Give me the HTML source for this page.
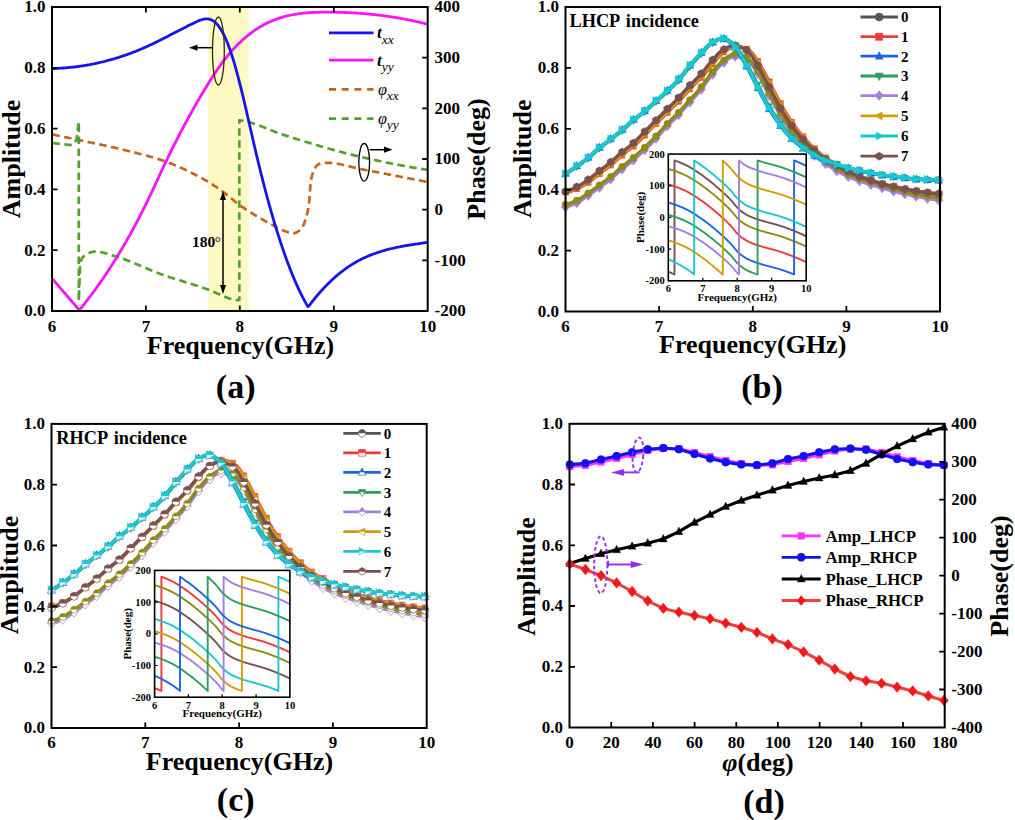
<!DOCTYPE html>
<html><head><meta charset="utf-8"><style>
html,body{margin:0;padding:0;background:#fff;width:1015px;height:820px;overflow:hidden}
svg{display:block}
text{font-family:"Liberation Serif", serif}
</style></head><body>
<svg width="1015" height="820" viewBox="0 0 1015 820">
<rect width="1015" height="820" fill="#fff"/>
<rect x="208.3" y="7" width="40.4" height="304" fill="#fcf9c4"/>
<g fill="none" stroke-linejoin="round">
<path d="M52.4,134.4L53.4,134.6L54.4,134.8L55.4,135L56.4,135.2L57.4,135.5L58.4,135.7L59.4,135.9L60.4,136.1L61.4,136.3L62.4,136.5L63.4,136.7L64.4,137L65.4,137.2L66.4,137.4L67.4,137.6L68.4,137.8L69.4,138L70.4,138.2L71.4,138.5L72.4,138.7L73.4,138.9L74.4,139.1L75.4,139.3L76.4,139.5L77.4,139.7L78.4,140L79.4,140.2L80.4,140.4L81.4,140.6L82.4,140.8L83.4,141L84.4,141.2L85.4,141.4L86.4,141.7L87.4,141.9L88.4,142.1L89.4,142.3L90.4,142.5L91.4,142.7L92.4,142.9L93.4,143.1L94.4,143.3L95.4,143.5L96.4,143.7L97.4,143.9L98.4,144.2L99.4,144.4L100.4,144.6L101.4,144.8L102.4,145L103.4,145.2L104.4,145.4L105.4,145.6L106.4,145.9L107.4,146.1L108.4,146.3L109.4,146.5L110.4,146.7L111.4,147L112.4,147.2L113.4,147.4L114.4,147.6L115.4,147.9L116.4,148.1L117.4,148.3L118.4,148.5L119.4,148.8L120.4,149L121.4,149.3L122.4,149.5L123.4,149.7L124.4,150L125.4,150.2L126.4,150.5L127.4,150.7L128.4,151L129.4,151.2L130.4,151.4L131.4,151.7L132.4,151.9L133.4,152.2L134.4,152.4L135.4,152.7L136.4,152.9L137.4,153.2L138.4,153.5L139.4,153.7L140.4,154L141.4,154.2L142.4,154.5L143.4,154.8L144.4,155L145.4,155.3L146.4,155.6L147.4,155.8L148.4,156.1L149.4,156.4L150.4,156.7L151.4,157L152.4,157.3L153.4,157.6L154.4,157.9L155.4,158.2L156.4,158.5L157.4,158.8L158.4,159.1L159.4,159.4L160.4,159.7L161.4,160.1L162.4,160.4L163.4,160.8L164.4,161.1L165.4,161.4L166.4,161.8L167.4,162.2L168.4,162.5L169.4,162.9L170.4,163.3L171.4,163.7L172.4,164.1L173.4,164.5L174.4,164.9L175.4,165.3L176.4,165.7L177.4,166.1L178.4,166.6L179.4,167L180.4,167.5L181.4,167.9L182.4,168.4L183.4,168.8L184.4,169.3L185.4,169.8L186.4,170.2L187.4,170.7L188.4,171.2L189.4,171.7L190.4,172.2L191.4,172.7L192.4,173.2L193.4,173.7L194.4,174.2L195.4,174.7L196.4,175.3L197.4,175.8L198.4,176.3L199.4,176.9L200.4,177.4L201.4,177.9L202.4,178.5L203.4,179L204.4,179.6L205.4,180.2L206.4,180.7L207.4,181.3L208.4,181.9L209.4,182.5L210.4,183.1L211.4,183.8L212.4,184.4L213.4,185.1L214.4,185.8L215.4,186.4L216.4,187.1L217.4,187.8L218.4,188.5L219.4,189.2L220.4,190L221.4,190.7L222.4,191.4L223.4,192.1L224.4,192.9L225.4,193.6L226.4,194.4L227.4,195.1L228.4,195.9L229.4,196.8L230.4,197.6L231.4,198.4L232.4,199.3L233.4,200.1L234.4,200.9L235.4,201.8L236.4,202.6L237.4,203.4L238.4,204.2L239.4,204.9L240.4,205.6L241.4,206.3L242.4,207L243.4,207.7L244.4,208.4L245.4,209.1L246.4,209.7L247.4,210.4L248.4,211L249.4,211.7L250.4,212.3L251.4,212.9L252.4,213.5L253.4,214.1L254.4,214.8L255.4,215.4L256.4,216L257.4,216.5L258.4,217.1L259.4,217.7L260.4,218.3L261.4,218.9L262.4,219.4L263.4,220L264.4,220.6L265.4,221.1L266.4,221.7L267.4,222.2L268.4,222.8L269.4,223.3L270.4,223.8L271.4,224.4L272.4,224.9L273.4,225.4L274.4,226L275.4,226.5L276.4,227.1L277.4,227.6L278.4,228.1L279.4,228.7L280.4,229.2L281.4,229.7L282.4,230.1L283.4,230.5L284.4,230.9L285.4,231.3L286.4,231.6L287.4,232L288.4,232.3L289.4,232.6L290.4,232.9L291.4,233.1L292.4,233.2L293.4,233.2L294.4,233.1L295.4,232.8L296.4,232.4L297.4,231.8L298.4,231.2L299.4,230.5L300.4,229.7L301.4,228.8L302.4,227.4L303.4,225.4L304.4,222.8L305.4,219.9L306.4,216.7L307.4,212.8L308.4,207.6L309.4,199.8L310.4,184.8L311.4,178.2L312.4,174.1L313.4,171.3L314.4,169.3L315.4,167.6L316.4,166.1L317.4,165L318.4,164.3L319.4,163.9L320.4,163.6L321.4,163.4L322.4,163.2L323.4,163L324.4,162.9L325.4,162.8L326.4,162.8L327.4,162.8L328.4,162.8L329.4,162.9L330.4,162.9L331.4,163L332.4,163.1L333.4,163.2L334.4,163.3L335.4,163.5L336.4,163.6L337.4,163.8L338.4,164L339.4,164.1L340.4,164.3L341.4,164.5L342.4,164.7L343.4,165L344.4,165.2L345.4,165.4L346.4,165.6L347.4,165.9L348.4,166.1L349.4,166.4L350.4,166.6L351.4,166.9L352.4,167.1L353.4,167.4L354.4,167.6L355.4,167.9L356.4,168.1L357.4,168.3L358.4,168.6L359.4,168.8L360.4,169L361.4,169.2L362.4,169.4L363.4,169.6L364.4,169.8L365.4,170L366.4,170.2L367.4,170.4L368.4,170.6L369.4,170.8L370.4,171L371.4,171.2L372.4,171.4L373.4,171.5L374.4,171.7L375.4,171.9L376.4,172.1L377.4,172.3L378.4,172.5L379.4,172.7L380.4,172.9L381.4,173.1L382.4,173.3L383.4,173.4L384.4,173.6L385.4,173.8L386.4,174L387.4,174.2L388.4,174.4L389.4,174.6L390.4,174.8L391.4,175L392.4,175.2L393.4,175.4L394.4,175.6L395.4,175.8L396.4,175.9L397.4,176.1L398.4,176.3L399.4,176.5L400.4,176.7L401.4,176.9L402.4,177.1L403.4,177.3L404.4,177.5L405.4,177.7L406.4,177.9L407.4,178.1L408.4,178.3L409.4,178.5L410.4,178.7L411.4,178.8L412.4,179L413.4,179.2L414.4,179.4L415.4,179.6L416.4,179.8L417.4,180L418.4,180.2L419.4,180.4L420.4,180.6L421.4,180.8L422.4,181L423.4,181.2L424.4,181.4L425.4,181.6L426.4,181.8L427,181.9" stroke="#c8641e" stroke-width="2.7" stroke-dasharray="7.5 4.5"/>
<path d="M52.4,143L71.8,145.1L76.5,140L78.8,121.5L78.8,301L80.2,262.7L80.2,262.7L81.2,260.3L82.2,258.1L83.2,256.7L84.2,255.9L85.2,255.2L86.2,254.6L87.2,254L88.2,253.4L89.2,253L90.2,252.6L91.2,252.2L92.2,252L93.2,251.8L94.2,251.6L95.2,251.6L96.2,251.6L97.2,251.7L98.2,251.8L99.2,251.9L100.2,252L101.2,252.2L102.2,252.4L103.2,252.7L104.2,252.9L105.2,253.2L106.2,253.5L107.2,253.8L108.2,254.1L109.2,254.4L110.2,254.7L111.2,255.1L112.2,255.4L113.2,255.7L114.2,256L115.2,256.3L116.2,256.6L117.2,256.9L118.2,257.2L119.2,257.6L120.2,257.9L121.2,258.2L122.2,258.5L123.2,258.9L124.2,259.2L125.2,259.6L126.2,260L127.2,260.4L128.2,260.7L129.2,261.1L130.2,261.5L131.2,261.9L132.2,262.3L133.2,262.7L134.2,263.1L135.2,263.5L136.2,264L137.2,264.4L138.2,264.8L139.2,265.2L140.2,265.6L141.2,266.1L142.2,266.5L143.2,266.9L144.2,267.4L145.2,267.8L146.2,268.2L147.2,268.6L148.2,269.1L149.2,269.5L150.2,269.9L151.2,270.3L152.2,270.7L153.2,271.1L154.2,271.5L155.2,272L156.2,272.3L157.2,272.7L158.2,273.1L159.2,273.5L160.2,273.9L161.2,274.3L162.2,274.6L163.2,275L164.2,275.3L165.2,275.7L166.2,276L167.2,276.4L168.2,276.7L169.2,277L170.2,277.4L171.2,277.7L172.2,278L173.2,278.3L174.2,278.6L175.2,279L176.2,279.3L177.2,279.6L178.2,279.9L179.2,280.2L180.2,280.5L181.2,280.8L182.2,281.1L183.2,281.4L184.2,281.8L185.2,282.1L186.2,282.4L187.2,282.7L188.2,283L189.2,283.3L190.2,283.6L191.2,283.9L192.2,284.2L193.2,284.5L194.2,284.9L195.2,285.2L196.2,285.5L197.2,285.8L198.2,286.2L199.2,286.5L200.2,286.8L201.2,287.1L202.2,287.5L203.2,287.8L204.2,288.2L205.2,288.5L206.2,288.9L207.2,289.2L208.2,289.6L209.2,290L210.2,290.4L211.2,290.8L212.2,291.2L213.2,291.6L214.2,292L215.2,292.5L216.2,293L217.2,293.4L218.2,293.9L219.2,294.3L220.2,294.8L221.2,295.2L222.2,295.7L223.2,296.1L224.2,296.5L225.2,297L226.2,297.3L227.2,297.7L228.2,298.1L229.2,298.4L230.2,298.7L231.2,299L232.2,299.2L233.2,299.5L234.2,299.7L235.2,299.9L236.2,300.1L236.5,300.2L239.3,300L239.3,120.3L239.3,120.3L240.3,120.5L241.3,120.6L242.3,120.8L243.3,120.9L244.3,121.1L245.3,121.3L246.3,121.5L247.3,121.8L248.3,122L249.3,122.3L250.3,122.6L251.3,122.8L252.3,123.1L253.3,123.5L254.3,123.8L255.3,124.1L256.3,124.5L257.3,124.8L258.3,125.2L259.3,125.5L260.3,125.9L261.3,126.3L262.3,126.7L263.3,127.1L264.3,127.5L265.3,127.9L266.3,128.3L267.3,128.7L268.3,129.1L269.3,129.5L270.3,129.9L271.3,130.3L272.3,130.7L273.3,131.1L274.3,131.5L275.3,131.9L276.3,132.3L277.3,132.7L278.3,133L279.3,133.4L280.3,133.8L281.3,134.1L282.3,134.4L283.3,134.8L284.3,135.1L285.3,135.4L286.3,135.7L287.3,136L288.3,136.4L289.3,136.7L290.3,137L291.3,137.3L292.3,137.6L293.3,137.9L294.3,138.3L295.3,138.6L296.3,138.9L297.3,139.2L298.3,139.5L299.3,139.8L300.3,140.1L301.3,140.4L302.3,140.8L303.3,141.1L304.3,141.4L305.3,141.7L306.3,142L307.3,142.3L308.3,142.6L309.3,142.9L310.3,143.2L311.3,143.5L312.3,143.8L313.3,144.1L314.3,144.4L315.3,144.7L316.3,145L317.3,145.3L318.3,145.6L319.3,145.9L320.3,146.2L321.3,146.5L322.3,146.8L323.3,147L324.3,147.3L325.3,147.6L326.3,147.9L327.3,148.2L328.3,148.5L329.3,148.8L330.3,149L331.3,149.3L332.3,149.6L333.3,149.9L334.3,150.1L335.3,150.4L336.3,150.7L337.3,151L338.3,151.2L339.3,151.5L340.3,151.8L341.3,152L342.3,152.3L343.3,152.6L344.3,152.8L345.3,153.1L346.3,153.3L347.3,153.6L348.3,153.9L349.3,154.1L350.3,154.4L351.3,154.6L352.3,154.9L353.3,155.1L354.3,155.4L355.3,155.6L356.3,155.8L357.3,156.1L358.3,156.3L359.3,156.6L360.3,156.8L361.3,157L362.3,157.3L363.3,157.5L364.3,157.7L365.3,157.9L366.3,158.2L367.3,158.4L368.3,158.6L369.3,158.8L370.3,159.1L371.3,159.3L372.3,159.5L373.3,159.7L374.3,159.9L375.3,160.2L376.3,160.4L377.3,160.6L378.3,160.8L379.3,161L380.3,161.2L381.3,161.4L382.3,161.7L383.3,161.9L384.3,162.1L385.3,162.3L386.3,162.5L387.3,162.7L388.3,162.9L389.3,163.1L390.3,163.3L391.3,163.5L392.3,163.7L393.3,163.9L394.3,164.1L395.3,164.3L396.3,164.5L397.3,164.7L398.3,164.9L399.3,165L400.3,165.2L401.3,165.4L402.3,165.6L403.3,165.8L404.3,166L405.3,166.2L406.3,166.3L407.3,166.5L408.3,166.7L409.3,166.9L410.3,167.1L411.3,167.2L412.3,167.4L413.3,167.6L414.3,167.7L415.3,167.9L416.3,168.1L417.3,168.3L418.3,168.4L419.3,168.6L420.3,168.7L421.3,168.9L422.3,169.1L423.3,169.2L424.3,169.4L425.3,169.5L426.3,169.7L427,169.8" stroke="#55a02d" stroke-width="2.7" stroke-dasharray="7.5 4.5"/>
<path d="M52.4,278.8L79.2,310L79.2,310L80.2,309L81.2,307.8L82.2,306.6L83.2,305.3L84.2,304.1L85.2,302.8L86.2,301.5L87.2,300.2L88.2,298.9L89.2,297.6L90.2,296.3L91.2,295L92.2,293.6L93.2,292.3L94.2,290.9L95.2,289.6L96.2,288.2L97.2,286.8L98.2,285.4L99.2,284L100.2,282.6L101.2,281.1L102.2,279.7L103.2,278.2L104.2,276.8L105.2,275.3L106.2,273.8L107.2,272.3L108.2,270.8L109.2,269.2L110.2,267.7L111.2,266.2L112.2,264.6L113.2,263L114.2,261.4L115.2,259.8L116.2,258.2L117.2,256.6L118.2,254.9L119.2,253.3L120.2,251.6L121.2,250L122.2,248.3L123.2,246.6L124.2,244.8L125.2,243.1L126.2,241.4L127.2,239.6L128.2,237.8L129.2,236.1L130.2,234.3L131.2,232.5L132.2,230.6L133.2,228.8L134.2,226.9L135.2,225.1L136.2,223.2L137.2,221.3L138.2,219.4L139.2,217.4L140.2,215.5L141.2,213.6L142.2,211.6L143.2,209.6L144.2,207.6L145.2,205.6L146.2,203.6L147.2,201.5L148.2,199.4L149.2,197.4L150.2,195.3L151.2,193.2L152.2,191.1L153.2,188.9L154.2,186.8L155.2,184.6L156.2,182.5L157.2,180.3L158.2,178.2L159.2,176L160.2,173.8L161.2,171.7L162.2,169.5L163.2,167.4L164.2,165.3L165.2,163.2L166.2,161.1L167.2,159L168.2,156.9L169.2,154.8L170.2,152.8L171.2,150.8L172.2,148.7L173.2,146.7L174.2,144.7L175.2,142.8L176.2,140.8L177.2,138.8L178.2,136.9L179.2,135L180.2,133L181.2,131.1L182.2,129.2L183.2,127.4L184.2,125.5L185.2,123.6L186.2,121.8L187.2,119.9L188.2,118.1L189.2,116.3L190.2,114.5L191.2,112.7L192.2,110.9L193.2,109.1L194.2,107.3L195.2,105.6L196.2,103.8L197.2,102.1L198.2,100.4L199.2,98.6L200.2,96.9L201.2,95.2L202.2,93.5L203.2,91.9L204.2,90.2L205.2,88.5L206.2,86.9L207.2,85.3L208.2,83.6L209.2,82L210.2,80.4L211.2,78.9L212.2,77.3L213.2,75.8L214.2,74.3L215.2,72.8L216.2,71.3L217.2,69.8L218.2,68.4L219.2,66.9L220.2,65.5L221.2,64.1L222.2,62.8L223.2,61.4L224.2,60.1L225.2,58.8L226.2,57.6L227.2,56.3L228.2,55.1L229.2,53.9L230.2,52.7L231.2,51.6L232.2,50.4L233.2,49.3L234.2,48.2L235.2,47.2L236.2,46.1L237.2,45.1L238.2,44.1L239.2,43.1L240.2,42.2L241.2,41.2L242.2,40.3L243.2,39.4L244.2,38.5L245.2,37.6L246.2,36.8L247.2,36L248.2,35.2L249.2,34.4L250.2,33.6L251.2,32.8L252.2,32.1L253.2,31.4L254.2,30.7L255.2,30L256.2,29.3L257.2,28.7L258.2,28.1L259.2,27.4L260.2,26.8L261.2,26.3L262.2,25.7L263.2,25.1L264.2,24.6L265.2,24.1L266.2,23.6L267.2,23.1L268.2,22.6L269.2,22.1L270.2,21.7L271.2,21.2L272.2,20.8L273.2,20.4L274.2,20L275.2,19.6L276.2,19.2L277.2,18.9L278.2,18.5L279.2,18.2L280.2,17.9L281.2,17.6L282.2,17.3L283.2,17L284.2,16.7L285.2,16.4L286.2,16.2L287.2,15.9L288.2,15.7L289.2,15.5L290.2,15.2L291.2,15L292.2,14.8L293.2,14.7L294.2,14.5L295.2,14.3L296.2,14.1L297.2,14L298.2,13.8L299.2,13.7L300.2,13.6L301.2,13.5L302.2,13.3L303.2,13.2L304.2,13.1L305.2,13L306.2,12.9L307.2,12.9L308.2,12.8L309.2,12.7L310.2,12.6L311.2,12.6L312.2,12.5L313.2,12.5L314.2,12.4L315.2,12.4L316.2,12.4L317.2,12.3L318.2,12.3L319.2,12.3L320.2,12.2L321.2,12.2L322.2,12.2L323.2,12.2L324.2,12.2L325.2,12.2L326.2,12.2L327.2,12.2L328.2,12.2L329.2,12.2L330.2,12.2L331.2,12.2L332.2,12.2L333.2,12.2L334.2,12.2L335.2,12.2L336.2,12.2L337.2,12.3L338.2,12.3L339.2,12.3L340.2,12.3L341.2,12.4L342.2,12.4L343.2,12.4L344.2,12.5L345.2,12.5L346.2,12.5L347.2,12.6L348.2,12.6L349.2,12.7L350.2,12.7L351.2,12.8L352.2,12.8L353.2,12.9L354.2,12.9L355.2,13L356.2,13L357.2,13.1L358.2,13.2L359.2,13.3L360.2,13.3L361.2,13.4L362.2,13.5L363.2,13.6L364.2,13.6L365.2,13.7L366.2,13.8L367.2,13.9L368.2,14L369.2,14.1L370.2,14.2L371.2,14.3L372.2,14.4L373.2,14.5L374.2,14.6L375.2,14.7L376.2,14.8L377.2,14.9L378.2,15.1L379.2,15.2L380.2,15.3L381.2,15.4L382.2,15.5L383.2,15.7L384.2,15.8L385.2,15.9L386.2,16.1L387.2,16.2L388.2,16.4L389.2,16.5L390.2,16.7L391.2,16.8L392.2,17L393.2,17.1L394.2,17.3L395.2,17.4L396.2,17.6L397.2,17.8L398.2,17.9L399.2,18.1L400.2,18.3L401.2,18.5L402.2,18.7L403.2,18.8L404.2,19L405.2,19.2L406.2,19.4L407.2,19.6L408.2,19.8L409.2,20L410.2,20.2L411.2,20.4L412.2,20.6L413.2,20.8L414.2,21L415.2,21.3L416.2,21.5L417.2,21.7L418.2,21.9L419.2,22.2L420.2,22.4L421.2,22.6L422.2,22.9L423.2,23.1L424.2,23.3L425.2,23.6L426.2,23.8L427,24" stroke="#ff10ff" stroke-width="2.8"/>
<path d="M52,68.5L53,68.5L54,68.5L55,68.5L56,68.4L57,68.4L58,68.3L59,68.3L60,68.2L61,68.2L62,68.1L63,68L64,68L65,67.9L66,67.8L67,67.7L68,67.6L69,67.5L70,67.4L71,67.3L72,67.2L73,67.1L74,67L75,66.9L76,66.8L77,66.6L78,66.5L79,66.4L80,66.2L81,66.1L82,65.9L83,65.8L84,65.6L85,65.5L86,65.3L87,65.1L88,64.9L89,64.8L90,64.6L91,64.4L92,64.2L93,64L94,63.8L95,63.6L96,63.4L97,63.2L98,62.9L99,62.7L100,62.5L101,62.2L102,62L103,61.8L104,61.5L105,61.3L106,61L107,60.7L108,60.5L109,60.2L110,59.9L111,59.7L112,59.4L113,59.1L114,58.8L115,58.5L116,58.2L117,57.9L118,57.6L119,57.3L120,56.9L121,56.6L122,56.3L123,55.9L124,55.6L125,55.3L126,54.9L127,54.6L128,54.2L129,53.8L130,53.5L131,53.1L132,52.7L133,52.3L134,51.9L135,51.6L136,51.2L137,50.8L138,50.4L139,49.9L140,49.5L141,49.1L142,48.7L143,48.2L144,47.8L145,47.4L146,46.9L147,46.5L148,46L149,45.6L150,45.1L151,44.6L152,44.2L153,43.7L154,43.2L155,42.7L156,42.2L157,41.7L158,41.2L159,40.7L160,40.2L161,39.7L162,39.2L163,38.7L164,38.2L165,37.7L166,37.2L167,36.7L168,36.2L169,35.6L170,35.1L171,34.6L172,34.1L173,33.6L174,33L175,32.5L176,32L177,31.5L178,31L179,30.4L180,29.9L181,29.4L182,28.9L183,28.4L184,27.9L185,27.4L186,26.9L187,26.4L188,25.8L189,25.3L190,24.9L191,24.4L192,23.9L193,23.4L194,22.9L195,22.4L196,21.9L197,21.5L198,21L199,20.6L200,20.2L201,19.9L202,19.5L203,19.3L204,19.1L205,18.9L206,18.8L207,18.8L208,18.9L209,19.1L210,19.3L211,19.7L212,20.1L213,20.7L214,21.4L215,22.2L216,23.1L217,24.2L218,25.4L219,26.7L220,28.1L221,29.7L222,31.4L223,33.2L224,35.2L225,37.3L226,39.5L227,41.9L228,44.3L229,47L230,49.7L231,52.6L232,55.7L233,58.9L234,62.2L235,65.6L236,69.1L237,72.8L238,76.5L239,80.4L240,84.3L241,88.3L242,92.4L243,96.5L244,100.7L245,105L246,109.3L247,113.6L248,118L249,122.3L250,126.7L251,131.1L252,135.5L253,139.8L254,144.2L255,148.5L256,152.7L257,157L258,161.1L259,165.3L260,169.4L261,173.4L262,177.4L263,181.3L264,185.2L265,189L266,192.8L267,196.5L268,200.2L269,203.8L270,207.4L271,211L272,214.4L273,217.9L274,221.3L275,224.6L276,227.9L277,231.1L278,234.3L279,237.4L280,240.5L281,243.6L282,246.5L283,249.5L284,252.4L285,255.2L286,258L287,260.7L288,263.4L289,266.1L290,268.7L291,271.2L292,273.7L293,276.1L294,278.5L295,280.9L296,283.2L297,285.4L298,287.6L299,289.8L300,291.8L301,293.9L302,295.9L303,297.8L304,299.7L305,301.6L306,303.4L307,305.1L307.8,306.5L307.8,306.5L308.8,306.1L309.8,304.8L310.8,303.5L311.8,302.2L312.8,300.9L313.8,299.7L314.8,298.4L315.8,297.2L316.8,296L317.8,294.8L318.8,293.7L319.8,292.5L320.8,291.4L321.8,290.3L322.8,289.2L323.8,288.1L324.8,287.1L325.8,286L326.8,285L327.8,284L328.8,283L329.8,282L330.8,281.1L331.8,280.1L332.8,279.2L333.8,278.3L334.8,277.4L335.8,276.5L336.8,275.6L337.8,274.8L338.8,274L339.8,273.2L340.8,272.4L341.8,271.6L342.8,270.8L343.8,270.1L344.8,269.3L345.8,268.6L346.8,267.9L347.8,267.2L348.8,266.5L349.8,265.9L350.8,265.2L351.8,264.6L352.8,264L353.8,263.4L354.8,262.8L355.8,262.2L356.8,261.6L357.8,261.1L358.8,260.5L359.8,260L360.8,259.5L361.8,259L362.8,258.5L363.8,258L364.8,257.6L365.8,257.1L366.8,256.7L367.8,256.2L368.8,255.8L369.8,255.4L370.8,255L371.8,254.6L372.8,254.2L373.8,253.8L374.8,253.5L375.8,253.1L376.8,252.8L377.8,252.4L378.8,252.1L379.8,251.8L380.8,251.5L381.8,251.1L382.8,250.9L383.8,250.6L384.8,250.3L385.8,250L386.8,249.7L387.8,249.5L388.8,249.2L389.8,249L390.8,248.7L391.8,248.5L392.8,248.3L393.8,248L394.8,247.8L395.8,247.6L396.8,247.4L397.8,247.2L398.8,247L399.8,246.8L400.8,246.6L401.8,246.4L402.8,246.2L403.8,246L404.8,245.9L405.8,245.7L406.8,245.5L407.8,245.4L408.8,245.2L409.8,245L410.8,244.9L411.8,244.7L412.8,244.6L413.8,244.4L414.8,244.2L415.8,244.1L416.8,243.9L417.8,243.8L418.8,243.6L419.8,243.5L420.8,243.3L421.8,243.2L422.8,243L423.8,242.9L424.8,242.7L425.8,242.6L426.8,242.4L427,242.4" stroke="#1414f0" stroke-width="2.8"/>
</g>
<ellipse cx="218.4" cy="51" rx="5.9" ry="34" fill="none" stroke="#2a2a10" stroke-width="1.3"/>
<line x1="212.5" y1="47.7" x2="196" y2="47.7" stroke="#000" stroke-width="1.5"/>
<path d="M189,47.7 L197.5,44.6 L197.5,50.8 Z" fill="#000"/>
<ellipse cx="364.2" cy="162.3" rx="5.4" ry="18.8" fill="none" stroke="#000" stroke-width="1.3"/>
<line x1="369.6" y1="149.7" x2="386" y2="149.7" stroke="#000" stroke-width="1.5"/>
<path d="M392.5,149.7 L384,146.6 L384,152.8 Z" fill="#000"/>
<line x1="223" y1="198" x2="223" y2="287" stroke="#000" stroke-width="1.5"/>
<path d="M223,191 L220,200 L226,200 Z M223,294 L220,285 L226,285 Z" fill="#000"/>
<text x="192" y="246.6" font-size="15.5" font-weight="bold">180<tspan font-weight="normal" dx="-0.5">°</tspan></text>
<rect x="52" y="7" width="375.7" height="304" fill="none" stroke="#000" stroke-width="2"/>
<path d="M145.9,311L145.9,305.5M145.9,7L145.9,12.5M239.8,311L239.8,305.5M239.8,7L239.8,12.5M333.8,311L333.8,305.5M333.8,7L333.8,12.5M52,250.2L57.5,250.2M52,189.4L57.5,189.4M52,128.6L57.5,128.6M52,67.8L57.5,67.8M427.7,260.3L422.2,260.3M427.7,209.7L422.2,209.7M427.7,159L422.2,159M427.7,108.3L422.2,108.3M427.7,57.7L422.2,57.7" stroke="#000" stroke-width="1.8" fill="none"/>
<text x="52" y="331.5" font-size="17" text-anchor="middle" font-weight="bold" font-style="normal" fill="#000" >6</text>
<text x="145.9" y="331.5" font-size="17" text-anchor="middle" font-weight="bold" font-style="normal" fill="#000" >7</text>
<text x="239.8" y="331.5" font-size="17" text-anchor="middle" font-weight="bold" font-style="normal" fill="#000" >8</text>
<text x="333.8" y="331.5" font-size="17" text-anchor="middle" font-weight="bold" font-style="normal" fill="#000" >9</text>
<text x="427.7" y="331.5" font-size="17" text-anchor="middle" font-weight="bold" font-style="normal" fill="#000" >10</text>
<text x="45.5" y="316.3" font-size="17" text-anchor="end" font-weight="bold" font-style="normal" fill="#000" >0.0</text>
<text x="45.5" y="255.5" font-size="17" text-anchor="end" font-weight="bold" font-style="normal" fill="#000" >0.2</text>
<text x="45.5" y="194.7" font-size="17" text-anchor="end" font-weight="bold" font-style="normal" fill="#000" >0.4</text>
<text x="45.5" y="133.9" font-size="17" text-anchor="end" font-weight="bold" font-style="normal" fill="#000" >0.6</text>
<text x="45.5" y="73.1" font-size="17" text-anchor="end" font-weight="bold" font-style="normal" fill="#000" >0.8</text>
<text x="45.5" y="12.3" font-size="17" text-anchor="end" font-weight="bold" font-style="normal" fill="#000" >1.0</text>
<text x="434.5" y="316.3" font-size="17" text-anchor="start" font-weight="bold" font-style="normal" fill="#000" >-200</text>
<text x="434.5" y="265.6" font-size="17" text-anchor="start" font-weight="bold" font-style="normal" fill="#000" >-100</text>
<text x="434.5" y="215" font-size="17" text-anchor="start" font-weight="bold" font-style="normal" fill="#000" >0</text>
<text x="434.5" y="164.3" font-size="17" text-anchor="start" font-weight="bold" font-style="normal" fill="#000" >100</text>
<text x="434.5" y="113.6" font-size="17" text-anchor="start" font-weight="bold" font-style="normal" fill="#000" >200</text>
<text x="434.5" y="63" font-size="17" text-anchor="start" font-weight="bold" font-style="normal" fill="#000" >300</text>
<text x="434.5" y="12.3" font-size="17" text-anchor="start" font-weight="bold" font-style="normal" fill="#000" >400</text>
<text x="19.5" y="159" font-size="26" text-anchor="middle" font-weight="bold" font-style="normal" fill="#000" transform="rotate(-90 19.5 159)">Amplitude</text>
<text x="484.8" y="159" font-size="26" text-anchor="middle" font-weight="bold" font-style="normal" fill="#000" transform="rotate(-90 484.8 159)">Phase(deg)</text>
<text x="240.5" y="353.5" font-size="26" text-anchor="middle" font-weight="bold" font-style="normal" fill="#000" >Frequency(GHz)</text>
<text x="235.7" y="397.5" font-size="34" text-anchor="middle" font-weight="bold" font-style="normal" fill="#000" >(a)</text>
<line x1="329" y1="32.9" x2="373.5" y2="32.9" stroke="#1414f0" stroke-width="2.8"/>
<line x1="329" y1="60.1" x2="373.5" y2="60.1" stroke="#ff10ff" stroke-width="2.8"/>
<line x1="329" y1="89.3" x2="373.5" y2="89.3" stroke="#c8641e" stroke-width="2.8" stroke-dasharray="7 5.7"/>
<line x1="329" y1="118.6" x2="373.5" y2="118.6" stroke="#55a02d" stroke-width="2.8" stroke-dasharray="7 5.7"/>
<text x="377" y="38.4" font-size="17" font-weight="bold" font-style="italic">t<tspan font-size="13.5" font-weight="normal" dy="5.5">xx</tspan></text>
<text x="377" y="65.6" font-size="17" font-weight="bold" font-style="italic">t<tspan font-size="13.5" font-weight="normal" dy="5.5">yy</tspan></text>
<text x="378" y="95" font-size="16" font-style="italic">φ<tspan font-size="13.5" dy="5">xx</tspan></text>
<text x="378" y="124.3" font-size="16" font-style="italic">φ<tspan font-size="13.5" dy="5">yy</tspan></text>
<path d="M565.5,192.1L567,192.1L568.5,192.1L570,191.6L571.5,191.1L573,190.5L574.5,189.9L576,189.3L577.5,188.6L579,187.9L580.5,187.1L582,186.3L583.5,185.4L585,184.5L586.5,183.5L588,182.5L589.5,181.4L591,180.4L592.5,179.3L594,178.2L595.5,177L597,175.8L598.5,174.6L600,173.4L601.5,172.2L603,171L604.5,169.9L606,168.8L607.5,167.6L609,166.5L610.5,165.3L612,164.1L613.5,162.9L615,161.6L616.5,160.2L618,158.9L619.5,157.5L621,156.1L622.5,154.8L624,153.5L625.5,152.3L627,151.1L628.5,149.9L630,148.8L631.5,147.7L633,146.5L634.5,145.3L636,144L637.5,142.6L639,141.2L640.5,139.6L642,138.1L643.5,136.5L645,135L646.5,133.4L648,131.9L649.5,130.4L651,128.9L652.5,127.4L654,125.9L655.5,124.4L657,122.9L658.5,121.4L660,119.9L661.5,118.4L663,116.9L664.5,115.4L666,113.9L667.5,112.4L669,110.9L670.5,109.4L672,107.9L673.5,106.4L675,105L676.5,103.5L678,102L679.5,100.5L681,98.9L682.5,97.3L684,95.7L685.5,94L687,92.3L688.5,90.6L690,89L691.5,87.4L693,85.8L694.5,84.3L696,82.8L697.5,81.3L699,79.8L700.5,78.3L702,76.8L703.5,75.2L705,73.4L706.5,71.6L708,69.7L709.5,67.8L711,65.9L712.5,64.1L714,62.3L715.5,60.6L717,58.9L718.5,57.2L720,55.6L721.5,54.1L723,52.7L724.5,51.5L726,50.6L727.5,49.7L729,48.8L730.5,48L732,47.3L733.5,46.7L735,46.4L736.5,46.2L738,46.3L739.5,46.5L741,46.8L742.5,47.3L744,47.9L745.5,48.6L747,49.4L748.5,50.2L750,51L751.5,52.4L753,54.1L754.5,56.1L756,58.4L757.5,60.8L759,63.2L760.5,65.6L762,68.1L763.5,70.7L765,73.6L766.5,76.5L768,79.5L769.5,82.4L771,85.4L772.5,88.2L774,91.1L775.5,94.1L777,97L778.5,99.9L780,102.7L781.5,105.5L783,108.1L784.5,110.6L786,113.1L787.5,115.5L789,117.9L790.5,120.1L792,122.4L793.5,124.5L795,126.6L796.5,128.6L798,130.5L799.5,132.4L801,134.2L802.5,136L804,137.7L805.5,139.4L807,141L808.5,142.6L810,144.2L811.5,145.7L813,147.1L814.5,148.5L816,149.9L817.5,151.2L819,152.5L820.5,153.8L822,155L823.5,156.2L825,157.3L826.5,158.4L828,159.4L829.5,160.3L831,161.2L832.5,162L834,162.8L835.5,163.6L837,164.4L838.5,165.2L840,166L841.5,166.9L843,167.7L844.5,168.6L846,169.5L847.5,170.3L849,171.1L850.5,171.9L852,172.6L853.5,173.4L855,174L856.5,174.7L858,175.4L859.5,176L861,176.6L862.5,177.2L864,177.7L865.5,178.2L867,178.7L868.5,179.2L870,179.6L871.5,180.1L873,180.6L874.5,181.1L876,181.6L877.5,182.2L879,182.7L880.5,183.2L882,183.7L883.5,184.2L885,184.6L886.5,185L888,185.3L889.5,185.6L891,185.9L892.5,186.3L894,186.6L895.5,186.9L897,187.2L898.5,187.6L900,187.9L901.5,188.3L903,188.6L904.5,188.9L906,189.2L907.5,189.5L909,189.8L910.5,190.1L912,190.4L913.5,190.6L915,190.9L916.5,191.2L918,191.4L919.5,191.6L921,191.9L922.5,192.1L924,192.4L925.5,192.6L927,192.8L928.5,193L930,193.2L931.5,193.4L933,193.5L934.5,193.7L936,193.8L937.5,194L939,194.1" fill="none" stroke="#f03a3a" stroke-width="3.4" stroke-linejoin="round"/>
<rect x="562.6" y="189.1" width="5.9" height="5.9" fill="#f03a3a" stroke="#f03a3a" stroke-width="0.3"/><rect x="573.9" y="186" width="5.9" height="5.9" fill="#f03a3a" stroke="#f03a3a" stroke-width="0.3"/><rect x="585.2" y="179.5" width="5.9" height="5.9" fill="#f03a3a" stroke="#f03a3a" stroke-width="0.3"/><rect x="596.5" y="170.9" width="5.9" height="5.9" fill="#f03a3a" stroke="#f03a3a" stroke-width="0.3"/><rect x="607.8" y="162.2" width="5.9" height="5.9" fill="#f03a3a" stroke="#f03a3a" stroke-width="0.3"/><rect x="619.1" y="152.3" width="5.9" height="5.9" fill="#f03a3a" stroke="#f03a3a" stroke-width="0.3"/><rect x="630.4" y="143.3" width="5.9" height="5.9" fill="#f03a3a" stroke="#f03a3a" stroke-width="0.3"/><rect x="641.8" y="132.4" width="5.9" height="5.9" fill="#f03a3a" stroke="#f03a3a" stroke-width="0.3"/><rect x="653.1" y="121" width="5.9" height="5.9" fill="#f03a3a" stroke="#f03a3a" stroke-width="0.3"/><rect x="664.4" y="109.7" width="5.9" height="5.9" fill="#f03a3a" stroke="#f03a3a" stroke-width="0.3"/><rect x="675.7" y="98.4" width="5.9" height="5.9" fill="#f03a3a" stroke="#f03a3a" stroke-width="0.3"/><rect x="687" y="86.1" width="5.9" height="5.9" fill="#f03a3a" stroke="#f03a3a" stroke-width="0.3"/><rect x="698.3" y="74.7" width="5.9" height="5.9" fill="#f03a3a" stroke="#f03a3a" stroke-width="0.3"/><rect x="709.6" y="61.1" width="5.9" height="5.9" fill="#f03a3a" stroke="#f03a3a" stroke-width="0.3"/><rect x="720.9" y="49.1" width="5.9" height="5.9" fill="#f03a3a" stroke="#f03a3a" stroke-width="0.3"/><rect x="732.3" y="43.4" width="5.9" height="5.9" fill="#f03a3a" stroke="#f03a3a" stroke-width="0.3"/><rect x="743.6" y="46.2" width="5.9" height="5.9" fill="#f03a3a" stroke="#f03a3a" stroke-width="0.3"/><rect x="754.9" y="58.3" width="5.9" height="5.9" fill="#f03a3a" stroke="#f03a3a" stroke-width="0.3"/><rect x="766.2" y="78.8" width="5.9" height="5.9" fill="#f03a3a" stroke="#f03a3a" stroke-width="0.3"/><rect x="777.5" y="100.6" width="5.9" height="5.9" fill="#f03a3a" stroke="#f03a3a" stroke-width="0.3"/><rect x="788.8" y="119.1" width="5.9" height="5.9" fill="#f03a3a" stroke="#f03a3a" stroke-width="0.3"/><rect x="800.1" y="133.7" width="5.9" height="5.9" fill="#f03a3a" stroke="#f03a3a" stroke-width="0.3"/><rect x="811.4" y="145.5" width="5.9" height="5.9" fill="#f03a3a" stroke="#f03a3a" stroke-width="0.3"/><rect x="822.8" y="154.9" width="5.9" height="5.9" fill="#f03a3a" stroke="#f03a3a" stroke-width="0.3"/><rect x="834.1" y="161.4" width="5.9" height="5.9" fill="#f03a3a" stroke="#f03a3a" stroke-width="0.3"/><rect x="845.4" y="167.8" width="5.9" height="5.9" fill="#f03a3a" stroke="#f03a3a" stroke-width="0.3"/><rect x="856.7" y="173.1" width="5.9" height="5.9" fill="#f03a3a" stroke="#f03a3a" stroke-width="0.3"/><rect x="868" y="177" width="5.9" height="5.9" fill="#f03a3a" stroke="#f03a3a" stroke-width="0.3"/><rect x="879.3" y="180.9" width="5.9" height="5.9" fill="#f03a3a" stroke="#f03a3a" stroke-width="0.3"/><rect x="890.6" y="183.6" width="5.9" height="5.9" fill="#f03a3a" stroke="#f03a3a" stroke-width="0.3"/><rect x="901.9" y="186.1" width="5.9" height="5.9" fill="#f03a3a" stroke="#f03a3a" stroke-width="0.3"/><rect x="913.3" y="188.2" width="5.9" height="5.9" fill="#f03a3a" stroke="#f03a3a" stroke-width="0.3"/><rect x="924.6" y="189.9" width="5.9" height="5.9" fill="#f03a3a" stroke="#f03a3a" stroke-width="0.3"/><rect x="935.9" y="191.2" width="5.9" height="5.9" fill="#f03a3a" stroke="#f03a3a" stroke-width="0.3"/>
<path d="M565.5,191.9L567,191.9L568.5,191.6L570,191.1L571.5,190.5L573,189.9L574.5,189.3L576,188.6L577.5,187.9L579,187.2L580.5,186.4L582,185.5L583.5,184.6L585,183.6L586.5,182.6L588,181.6L589.5,180.5L591,179.5L592.5,178.4L594,177.2L595.5,176L597,174.8L598.5,173.6L600,172.4L601.5,171.2L603,170.1L604.5,168.9L606,167.8L607.5,166.7L609,165.5L610.5,164.3L612,163.1L613.5,161.8L615,160.5L616.5,159.1L618,157.8L619.5,156.4L621,155L622.5,153.7L624,152.5L625.5,151.3L627,150.1L628.5,149L630,147.8L631.5,146.7L633,145.5L634.5,144.2L636,142.9L637.5,141.4L639,140L640.5,138.4L642,136.8L643.5,135.3L645,133.7L646.5,132.2L648,130.7L649.5,129.2L651,127.7L652.5,126.2L654,124.7L655.5,123.2L657,121.7L658.5,120.2L660,118.7L661.5,117.2L663,115.7L664.5,114.2L666,112.7L667.5,111.2L669,109.7L670.5,108.2L672,106.7L673.5,105.3L675,103.8L676.5,102.3L678,100.8L679.5,99.2L681,97.7L682.5,96L684,94.4L685.5,92.7L687,91L688.5,89.3L690,87.7L691.5,86.1L693,84.6L694.5,83.1L696,81.6L697.5,80.1L699,78.7L700.5,77.1L702,75.5L703.5,73.8L705,72L706.5,70.1L708,68.2L709.5,66.3L711,64.5L712.5,62.7L714,61L715.5,59.3L717,57.6L718.5,55.9L720,54.4L721.5,52.9L723,51.7L724.5,50.7L726,49.8L727.5,48.9L729,48.1L730.5,47.3L732,46.7L733.5,46.3L735,46L736.5,46L738,46.2L739.5,46.5L741,47L742.5,47.5L744,48.2L745.5,48.9L747,49.7L748.5,50.5L750,51.7L751.5,53.3L753,55.2L754.5,57.4L756,59.8L757.5,62.2L759,64.6L760.5,67L762,69.6L763.5,72.4L765,75.3L766.5,78.3L768,81.2L769.5,84.2L771,87.1L772.5,90L774,92.9L775.5,95.8L777,98.7L778.5,101.6L780,104.4L781.5,107L783,109.6L784.5,112.1L786,114.5L787.5,116.9L789,119.2L790.5,121.4L792,123.6L793.5,125.7L795,127.7L796.5,129.7L798,131.6L799.5,133.4L801,135.2L802.5,137L804,138.6L805.5,140.3L807,141.9L808.5,143.4L810,145L811.5,146.4L813,147.9L814.5,149.2L816,150.6L817.5,151.9L819,153.2L820.5,154.4L822,155.6L823.5,156.7L825,157.8L826.5,158.9L828,159.8L829.5,160.7L831,161.6L832.5,162.3L834,163.1L835.5,163.9L837,164.7L838.5,165.5L840,166.4L841.5,167.2L843,168.1L844.5,169L846,169.8L847.5,170.7L849,171.4L850.5,172.2L852,172.9L853.5,173.6L855,174.3L856.5,175L858,175.6L859.5,176.2L861,176.8L862.5,177.3L864,177.8L865.5,178.3L867,178.8L868.5,179.3L870,179.7L871.5,180.2L873,180.7L874.5,181.3L876,181.8L877.5,182.3L879,182.9L880.5,183.4L882,183.8L883.5,184.3L885,184.6L886.5,185L888,185.3L889.5,185.6L891,186L892.5,186.3L894,186.6L895.5,186.9L897,187.3L898.5,187.6L900,188L901.5,188.3L903,188.6L904.5,188.9L906,189.2L907.5,189.5L909,189.8L910.5,190.1L912,190.4L913.5,190.6L915,190.9L916.5,191.1L918,191.4L919.5,191.6L921,191.9L922.5,192.1L924,192.3L925.5,192.5L927,192.7L928.5,192.9L930,193.1L931.5,193.3L933,193.4L934.5,193.6L936,193.7L937.5,193.9L939,194" fill="none" stroke="#d49a0a" stroke-width="3.4" stroke-linejoin="round"/>
<path d="M560.9,191.9L568.5,187.9L568.5,195.9Z" fill="#d49a0a" stroke="#d49a0a" stroke-width="0.3"/><path d="M572.2,188.3L579.8,184.3L579.8,192.3Z" fill="#d49a0a" stroke="#d49a0a" stroke-width="0.3"/><path d="M583.5,181.5L591.1,177.5L591.1,185.5Z" fill="#d49a0a" stroke="#d49a0a" stroke-width="0.3"/><path d="M594.8,172.8L602.4,168.8L602.4,176.8Z" fill="#d49a0a" stroke="#d49a0a" stroke-width="0.3"/><path d="M606.1,164.1L613.7,160.1L613.7,168.1Z" fill="#d49a0a" stroke="#d49a0a" stroke-width="0.3"/><path d="M617.5,154.1L625.1,150.1L625.1,158.1Z" fill="#d49a0a" stroke="#d49a0a" stroke-width="0.3"/><path d="M628.8,145.2L636.4,141.2L636.4,149.2Z" fill="#d49a0a" stroke="#d49a0a" stroke-width="0.3"/><path d="M640.1,134L647.7,130L647.7,138Z" fill="#d49a0a" stroke="#d49a0a" stroke-width="0.3"/><path d="M651.4,122.7L659,118.7L659,126.7Z" fill="#d49a0a" stroke="#d49a0a" stroke-width="0.3"/><path d="M662.7,111.4L670.3,107.4L670.3,115.4Z" fill="#d49a0a" stroke="#d49a0a" stroke-width="0.3"/><path d="M674,100.1L681.6,96.1L681.6,104.1Z" fill="#d49a0a" stroke="#d49a0a" stroke-width="0.3"/><path d="M685.3,87.8L692.9,83.8L692.9,91.8Z" fill="#d49a0a" stroke="#d49a0a" stroke-width="0.3"/><path d="M696.6,76.3L704.2,72.3L704.2,80.3Z" fill="#d49a0a" stroke="#d49a0a" stroke-width="0.3"/><path d="M708,62.6L715.6,58.6L715.6,66.6Z" fill="#d49a0a" stroke="#d49a0a" stroke-width="0.3"/><path d="M719.3,51.1L726.9,47.1L726.9,55.1Z" fill="#d49a0a" stroke="#d49a0a" stroke-width="0.3"/><path d="M730.6,46L738.2,42L738.2,50Z" fill="#d49a0a" stroke="#d49a0a" stroke-width="0.3"/><path d="M741.9,49.4L749.5,45.4L749.5,53.4Z" fill="#d49a0a" stroke="#d49a0a" stroke-width="0.3"/><path d="M753.2,62.7L760.8,58.7L760.8,66.7Z" fill="#d49a0a" stroke="#d49a0a" stroke-width="0.3"/><path d="M764.5,83.5L772.1,79.5L772.1,87.5Z" fill="#d49a0a" stroke="#d49a0a" stroke-width="0.3"/><path d="M775.8,105.1L783.4,101.1L783.4,109.1Z" fill="#d49a0a" stroke="#d49a0a" stroke-width="0.3"/><path d="M787.1,123.2L794.7,119.2L794.7,127.2Z" fill="#d49a0a" stroke="#d49a0a" stroke-width="0.3"/><path d="M798.5,137.6L806.1,133.6L806.1,141.6Z" fill="#d49a0a" stroke="#d49a0a" stroke-width="0.3"/><path d="M809.8,149.1L817.4,145.1L817.4,153.1Z" fill="#d49a0a" stroke="#d49a0a" stroke-width="0.3"/><path d="M821.1,158.3L828.7,154.3L828.7,162.3Z" fill="#d49a0a" stroke="#d49a0a" stroke-width="0.3"/><path d="M832.4,164.7L840,160.7L840,168.7Z" fill="#d49a0a" stroke="#d49a0a" stroke-width="0.3"/><path d="M843.7,171.1L851.3,167.1L851.3,175.1Z" fill="#d49a0a" stroke="#d49a0a" stroke-width="0.3"/><path d="M855,176.2L862.6,172.2L862.6,180.2Z" fill="#d49a0a" stroke="#d49a0a" stroke-width="0.3"/><path d="M866.3,180L873.9,176L873.9,184Z" fill="#d49a0a" stroke="#d49a0a" stroke-width="0.3"/><path d="M877.6,183.9L885.2,179.9L885.2,187.9Z" fill="#d49a0a" stroke="#d49a0a" stroke-width="0.3"/><path d="M889,186.5L896.6,182.5L896.6,190.5Z" fill="#d49a0a" stroke="#d49a0a" stroke-width="0.3"/><path d="M900.3,189L907.9,185L907.9,193Z" fill="#d49a0a" stroke="#d49a0a" stroke-width="0.3"/><path d="M911.6,191.1L919.2,187.1L919.2,195.1Z" fill="#d49a0a" stroke="#d49a0a" stroke-width="0.3"/><path d="M922.9,192.8L930.5,188.8L930.5,196.8Z" fill="#d49a0a" stroke="#d49a0a" stroke-width="0.3"/><path d="M934.2,194L941.8,190L941.8,198Z" fill="#d49a0a" stroke="#d49a0a" stroke-width="0.3"/>
<path d="M565.5,205L567,204.6L568.5,204.2L570,203.7L571.5,203.2L573,202.6L574.5,201.9L576,201.3L577.5,200.6L579,199.7L580.5,198.8L582,197.9L583.5,196.8L585,195.8L586.5,194.7L588,193.7L589.5,192.7L591,191.6L592.5,190.6L594,189.5L595.5,188.4L597,187.3L598.5,186.3L600,185.2L601.5,184.1L603,183L604.5,182L606,180.9L607.5,179.7L609,178.6L610.5,177.4L612,176.1L613.5,174.8L615,173.5L616.5,172.1L618,170.7L619.5,169.4L621,168.1L622.5,166.9L624,165.7L625.5,164.5L627,163.3L628.5,162.1L630,160.9L631.5,159.7L633,158.5L634.5,157.2L636,155.9L637.5,154.6L639,153.2L640.5,151.8L642,150.5L643.5,149.1L645,147.6L646.5,146.2L648,144.8L649.5,143.3L651,141.8L652.5,140.3L654,138.7L655.5,137.2L657,135.6L658.5,133.9L660,132.2L661.5,130.5L663,128.8L664.5,127.1L666,125.5L667.5,123.9L669,122.4L670.5,121L672,119.5L673.5,118L675,116.6L676.5,115.1L678,113.5L679.5,111.9L681,110.3L682.5,108.6L684,107L685.5,105.3L687,103.6L688.5,101.9L690,100.2L691.5,98.6L693,96.9L694.5,95.3L696,93.7L697.5,92L699,90.2L700.5,88.4L702,86.5L703.5,84.5L705,82.5L706.5,80.4L708,78.3L709.5,76.3L711,74.4L712.5,72.6L714,70.8L715.5,68.9L717,67.2L718.5,65.5L720,64L721.5,62.6L723,61.4L724.5,60.1L726,58.9L727.5,57.7L729,56.6L730.5,55.7L732,55L733.5,54.7L735,54.6L736.5,54.7L738,54.9L739.5,55.2L741,55.6L742.5,56.1L744,56.6L745.5,57.1L747,58L748.5,59.2L750,60.8L751.5,62.6L753,64.6L754.5,66.7L756,68.9L757.5,71.1L759,73.7L760.5,76.6L762,79.6L763.5,82.7L765,85.7L766.5,88.7L768,91.4L769.5,94.1L771,96.8L772.5,99.5L774,102.2L775.5,104.9L777,107.6L778.5,110.2L780,112.8L781.5,115.3L783,117.7L784.5,120.1L786,122.4L787.5,124.6L789,126.7L790.5,128.6L792,130.6L793.5,132.4L795,134.3L796.5,136L798,137.8L799.5,139.5L801,141.1L802.5,142.7L804,144.3L805.5,145.8L807,147.3L808.5,148.7L810,150.1L811.5,151.4L813,152.7L814.5,153.9L816,155.1L817.5,156.2L819,157.4L820.5,158.5L822,159.5L823.5,160.6L825,161.6L826.5,162.6L828,163.6L829.5,164.6L831,165.5L832.5,166.5L834,167.4L835.5,168.2L837,169.1L838.5,169.9L840,170.7L841.5,171.5L843,172.2L844.5,172.9L846,173.6L847.5,174.3L849,175L850.5,175.6L852,176.2L853.5,176.8L855,177.4L856.5,178L858,178.5L859.5,179L861,179.6L862.5,180.1L864,180.6L865.5,181.1L867,181.6L868.5,182L870,182.5L871.5,183L873,183.4L874.5,183.9L876,184.3L877.5,184.8L879,185.2L880.5,185.6L882,186.1L883.5,186.5L885,186.9L886.5,187.4L888,187.8L889.5,188.2L891,188.6L892.5,189L894,189.4L895.5,189.8L897,190.2L898.5,190.6L900,190.9L901.5,191.3L903,191.7L904.5,192L906,192.4L907.5,192.7L909,193L910.5,193.4L912,193.7L913.5,194L915,194.3L916.5,194.6L918,194.9L919.5,195.2L921,195.5L922.5,195.7L924,196L925.5,196.3L927,196.5L928.5,196.8L930,197L931.5,197.3L933,197.5L934.5,197.7L936,197.9L937.5,198.2L939,198.4" fill="none" stroke="#555555" stroke-width="3.4" stroke-linejoin="round"/>
<circle cx="565.5" cy="205" r="3" fill="#555555" stroke="#555555" stroke-width="0.3"/><circle cx="576.8" cy="200.9" r="3" fill="#555555" stroke="#555555" stroke-width="0.3"/><circle cx="588.1" cy="193.6" r="3" fill="#555555" stroke="#555555" stroke-width="0.3"/><circle cx="599.4" cy="185.6" r="3" fill="#555555" stroke="#555555" stroke-width="0.3"/><circle cx="610.7" cy="177.2" r="3" fill="#555555" stroke="#555555" stroke-width="0.3"/><circle cx="622.1" cy="167.2" r="3" fill="#555555" stroke="#555555" stroke-width="0.3"/><circle cx="633.4" cy="158.2" r="3" fill="#555555" stroke="#555555" stroke-width="0.3"/><circle cx="644.7" cy="147.9" r="3" fill="#555555" stroke="#555555" stroke-width="0.3"/><circle cx="656" cy="136.6" r="3" fill="#555555" stroke="#555555" stroke-width="0.3"/><circle cx="667.3" cy="124.1" r="3" fill="#555555" stroke="#555555" stroke-width="0.3"/><circle cx="678.6" cy="112.9" r="3" fill="#555555" stroke="#555555" stroke-width="0.3"/><circle cx="689.9" cy="100.3" r="3" fill="#555555" stroke="#555555" stroke-width="0.3"/><circle cx="701.2" cy="87.5" r="3" fill="#555555" stroke="#555555" stroke-width="0.3"/><circle cx="712.6" cy="72.5" r="3" fill="#555555" stroke="#555555" stroke-width="0.3"/><circle cx="723.9" cy="60.6" r="3" fill="#555555" stroke="#555555" stroke-width="0.3"/><circle cx="735.2" cy="54.6" r="3" fill="#555555" stroke="#555555" stroke-width="0.3"/><circle cx="746.5" cy="57.6" r="3" fill="#555555" stroke="#555555" stroke-width="0.3"/><circle cx="757.8" cy="71.6" r="3" fill="#555555" stroke="#555555" stroke-width="0.3"/><circle cx="769.1" cy="93.4" r="3" fill="#555555" stroke="#555555" stroke-width="0.3"/><circle cx="780.4" cy="113.5" r="3" fill="#555555" stroke="#555555" stroke-width="0.3"/><circle cx="791.7" cy="130.2" r="3" fill="#555555" stroke="#555555" stroke-width="0.3"/><circle cx="803.1" cy="143.3" r="3" fill="#555555" stroke="#555555" stroke-width="0.3"/><circle cx="814.4" cy="153.8" r="3" fill="#555555" stroke="#555555" stroke-width="0.3"/><circle cx="825.7" cy="162.1" r="3" fill="#555555" stroke="#555555" stroke-width="0.3"/><circle cx="837" cy="169.1" r="3" fill="#555555" stroke="#555555" stroke-width="0.3"/><circle cx="848.3" cy="174.7" r="3" fill="#555555" stroke="#555555" stroke-width="0.3"/><circle cx="859.6" cy="179.1" r="3" fill="#555555" stroke="#555555" stroke-width="0.3"/><circle cx="870.9" cy="182.8" r="3" fill="#555555" stroke="#555555" stroke-width="0.3"/><circle cx="882.2" cy="186.1" r="3" fill="#555555" stroke="#555555" stroke-width="0.3"/><circle cx="893.6" cy="189.3" r="3" fill="#555555" stroke="#555555" stroke-width="0.3"/><circle cx="904.9" cy="192.1" r="3" fill="#555555" stroke="#555555" stroke-width="0.3"/><circle cx="916.2" cy="194.5" r="3" fill="#555555" stroke="#555555" stroke-width="0.3"/><circle cx="927.5" cy="196.6" r="3" fill="#555555" stroke="#555555" stroke-width="0.3"/><circle cx="938.8" cy="198.3" r="3" fill="#555555" stroke="#555555" stroke-width="0.3"/>
<path d="M565.5,206.9L567,206.5L568.5,206.1L570,205.6L571.5,205.1L573,204.5L574.5,203.8L576,203.2L577.5,202.5L579,201.6L580.5,200.7L582,199.8L583.5,198.7L585,197.7L586.5,196.6L588,195.6L589.5,194.6L591,193.5L592.5,192.5L594,191.4L595.5,190.3L597,189.2L598.5,188.2L600,187.1L601.5,186L603,184.9L604.5,183.9L606,182.8L607.5,181.6L609,180.5L610.5,179.3L612,178L613.5,176.7L615,175.4L616.5,174L618,172.6L619.5,171.3L621,170L622.5,168.8L624,167.6L625.5,166.4L627,165.2L628.5,164L630,162.8L631.5,161.6L633,160.4L634.5,159.1L636,157.8L637.5,156.5L639,155.1L640.5,153.7L642,152.4L643.5,151L645,149.5L646.5,148.1L648,146.7L649.5,145.2L651,143.7L652.5,142.2L654,140.6L655.5,139.1L657,137.5L658.5,135.8L660,134.1L661.5,132.4L663,130.7L664.5,129L666,127.4L667.5,125.8L669,124.3L670.5,122.9L672,121.4L673.5,119.9L675,118.5L676.5,117L678,115.4L679.5,113.8L681,112.2L682.5,110.5L684,108.9L685.5,107.2L687,105.5L688.5,103.8L690,102.1L691.5,100.5L693,98.8L694.5,97.2L696,95.6L697.5,93.9L699,92.1L700.5,90.3L702,88.4L703.5,86.4L705,84.4L706.5,82.3L708,80.2L709.5,78.2L711,76.3L712.5,74.5L714,72.7L715.5,70.8L717,69.1L718.5,67.4L720,65.9L721.5,64.5L723,63.3L724.5,62L726,60.8L727.5,59.6L729,58.5L730.5,57.6L732,56.9L733.5,56.6L735,56.5L736.5,56.6L738,56.8L739.5,57.1L741,57.5L742.5,58L744,58.5L745.5,59L747,59.9L748.5,61.1L750,62.7L751.5,64.5L753,66.5L754.5,68.6L756,70.8L757.5,73L759,75.6L760.5,78.5L762,81.5L763.5,84.6L765,87.6L766.5,90.6L768,93.3L769.5,96L771,98.7L772.5,101.4L774,104.1L775.5,106.8L777,109.5L778.5,112.1L780,114.7L781.5,117.2L783,119.6L784.5,122L786,124.3L787.5,126.5L789,128.6L790.5,130.5L792,132.5L793.5,134.3L795,136.2L796.5,137.9L798,139.7L799.5,141.4L801,143L802.5,144.6L804,146.2L805.5,147.7L807,149.2L808.5,150.6L810,152L811.5,153.3L813,154.6L814.5,155.8L816,157L817.5,158.1L819,159.3L820.5,160.4L822,161.4L823.5,162.5L825,163.5L826.5,164.5L828,165.5L829.5,166.5L831,167.4L832.5,168.4L834,169.3L835.5,170.1L837,171L838.5,171.8L840,172.6L841.5,173.4L843,174.1L844.5,174.8L846,175.5L847.5,176.2L849,176.9L850.5,177.5L852,178.1L853.5,178.7L855,179.3L856.5,179.9L858,180.4L859.5,180.9L861,181.5L862.5,182L864,182.5L865.5,183L867,183.5L868.5,183.9L870,184.4L871.5,184.9L873,185.3L874.5,185.8L876,186.2L877.5,186.7L879,187.1L880.5,187.5L882,188L883.5,188.4L885,188.8L886.5,189.3L888,189.7L889.5,190.1L891,190.5L892.5,190.9L894,191.3L895.5,191.7L897,192.1L898.5,192.5L900,192.8L901.5,193.2L903,193.6L904.5,193.9L906,194.3L907.5,194.6L909,194.9L910.5,195.3L912,195.6L913.5,195.9L915,196.2L916.5,196.5L918,196.8L919.5,197.1L921,197.4L922.5,197.6L924,197.9L925.5,198.2L927,198.4L928.5,198.7L930,198.9L931.5,199.2L933,199.4L934.5,199.6L936,199.8L937.5,200.1L939,200.3" fill="none" stroke="#a77ee0" stroke-width="3.4" stroke-linejoin="round"/>
<path d="M565.5,201.8L569.8,206.9L565.5,212L561.2,206.9Z" fill="#a77ee0" stroke="#a77ee0" stroke-width="0.3"/><path d="M576.8,197.7L581.1,202.8L576.8,207.9L572.6,202.8Z" fill="#a77ee0" stroke="#a77ee0" stroke-width="0.3"/><path d="M588.1,190.4L592.4,195.5L588.1,200.6L583.9,195.5Z" fill="#a77ee0" stroke="#a77ee0" stroke-width="0.3"/><path d="M599.4,182.4L603.7,187.5L599.4,192.6L595.2,187.5Z" fill="#a77ee0" stroke="#a77ee0" stroke-width="0.3"/><path d="M610.7,174L615,179.1L610.7,184.2L606.5,179.1Z" fill="#a77ee0" stroke="#a77ee0" stroke-width="0.3"/><path d="M622.1,164L626.3,169.1L622.1,174.2L617.8,169.1Z" fill="#a77ee0" stroke="#a77ee0" stroke-width="0.3"/><path d="M633.4,155L637.6,160.1L633.4,165.2L629.1,160.1Z" fill="#a77ee0" stroke="#a77ee0" stroke-width="0.3"/><path d="M644.7,144.7L648.9,149.8L644.7,154.9L640.4,149.8Z" fill="#a77ee0" stroke="#a77ee0" stroke-width="0.3"/><path d="M656,133.4L660.2,138.5L656,143.6L651.7,138.5Z" fill="#a77ee0" stroke="#a77ee0" stroke-width="0.3"/><path d="M667.3,120.9L671.6,126L667.3,131.1L663.1,126Z" fill="#a77ee0" stroke="#a77ee0" stroke-width="0.3"/><path d="M678.6,109.7L682.9,114.8L678.6,119.9L674.4,114.8Z" fill="#a77ee0" stroke="#a77ee0" stroke-width="0.3"/><path d="M689.9,97.1L694.2,102.2L689.9,107.3L685.7,102.2Z" fill="#a77ee0" stroke="#a77ee0" stroke-width="0.3"/><path d="M701.2,84.3L705.5,89.4L701.2,94.5L697,89.4Z" fill="#a77ee0" stroke="#a77ee0" stroke-width="0.3"/><path d="M712.6,69.3L716.8,74.4L712.6,79.5L708.3,74.4Z" fill="#a77ee0" stroke="#a77ee0" stroke-width="0.3"/><path d="M723.9,57.4L728.1,62.5L723.9,67.6L719.6,62.5Z" fill="#a77ee0" stroke="#a77ee0" stroke-width="0.3"/><path d="M735.2,51.4L739.4,56.5L735.2,61.6L730.9,56.5Z" fill="#a77ee0" stroke="#a77ee0" stroke-width="0.3"/><path d="M746.5,54.4L750.7,59.5L746.5,64.6L742.2,59.5Z" fill="#a77ee0" stroke="#a77ee0" stroke-width="0.3"/><path d="M757.8,68.4L762.1,73.5L757.8,78.6L753.6,73.5Z" fill="#a77ee0" stroke="#a77ee0" stroke-width="0.3"/><path d="M769.1,90.2L773.4,95.3L769.1,100.4L764.9,95.3Z" fill="#a77ee0" stroke="#a77ee0" stroke-width="0.3"/><path d="M780.4,110.3L784.7,115.4L780.4,120.5L776.2,115.4Z" fill="#a77ee0" stroke="#a77ee0" stroke-width="0.3"/><path d="M791.7,127L796,132.1L791.7,137.2L787.5,132.1Z" fill="#a77ee0" stroke="#a77ee0" stroke-width="0.3"/><path d="M803.1,140.1L807.3,145.2L803.1,150.3L798.8,145.2Z" fill="#a77ee0" stroke="#a77ee0" stroke-width="0.3"/><path d="M814.4,150.6L818.6,155.7L814.4,160.8L810.1,155.7Z" fill="#a77ee0" stroke="#a77ee0" stroke-width="0.3"/><path d="M825.7,158.9L829.9,164L825.7,169.1L821.4,164Z" fill="#a77ee0" stroke="#a77ee0" stroke-width="0.3"/><path d="M837,165.9L841.2,171L837,176.1L832.7,171Z" fill="#a77ee0" stroke="#a77ee0" stroke-width="0.3"/><path d="M848.3,171.5L852.6,176.6L848.3,181.7L844.1,176.6Z" fill="#a77ee0" stroke="#a77ee0" stroke-width="0.3"/><path d="M859.6,175.9L863.9,181L859.6,186.1L855.4,181Z" fill="#a77ee0" stroke="#a77ee0" stroke-width="0.3"/><path d="M870.9,179.6L875.2,184.7L870.9,189.8L866.7,184.7Z" fill="#a77ee0" stroke="#a77ee0" stroke-width="0.3"/><path d="M882.2,182.9L886.5,188L882.2,193.1L878,188Z" fill="#a77ee0" stroke="#a77ee0" stroke-width="0.3"/><path d="M893.6,186.1L897.8,191.2L893.6,196.3L889.3,191.2Z" fill="#a77ee0" stroke="#a77ee0" stroke-width="0.3"/><path d="M904.9,188.9L909.1,194L904.9,199.1L900.6,194Z" fill="#a77ee0" stroke="#a77ee0" stroke-width="0.3"/><path d="M916.2,191.3L920.4,196.4L916.2,201.5L911.9,196.4Z" fill="#a77ee0" stroke="#a77ee0" stroke-width="0.3"/><path d="M927.5,193.4L931.7,198.5L927.5,203.6L923.2,198.5Z" fill="#a77ee0" stroke="#a77ee0" stroke-width="0.3"/><path d="M938.8,195.1L943,200.2L938.8,205.3L934.5,200.2Z" fill="#a77ee0" stroke="#a77ee0" stroke-width="0.3"/>
<path d="M565.5,204.5L567,204.1L568.5,203.7L570,203.2L571.5,202.7L573,202.1L574.5,201.4L576,200.8L577.5,200.1L579,199.2L580.5,198.3L582,197.4L583.5,196.3L585,195.3L586.5,194.2L588,193.2L589.5,192.2L591,191.1L592.5,190.1L594,189L595.5,187.9L597,186.8L598.5,185.8L600,184.7L601.5,183.6L603,182.5L604.5,181.5L606,180.4L607.5,179.2L609,178.1L610.5,176.9L612,175.6L613.5,174.3L615,173L616.5,171.6L618,170.2L619.5,168.9L621,167.6L622.5,166.4L624,165.2L625.5,164L627,162.8L628.5,161.6L630,160.4L631.5,159.2L633,158L634.5,156.7L636,155.4L637.5,154.1L639,152.7L640.5,151.3L642,150L643.5,148.6L645,147.1L646.5,145.7L648,144.3L649.5,142.8L651,141.3L652.5,139.8L654,138.2L655.5,136.7L657,135.1L658.5,133.4L660,131.7L661.5,130L663,128.3L664.5,126.6L666,125L667.5,123.4L669,121.9L670.5,120.5L672,119L673.5,117.5L675,116.1L676.5,114.6L678,113L679.5,111.4L681,109.8L682.5,108.1L684,106.5L685.5,104.8L687,103.1L688.5,101.4L690,99.7L691.5,98.1L693,96.4L694.5,94.8L696,93.2L697.5,91.5L699,89.7L700.5,87.9L702,86L703.5,84L705,82L706.5,79.9L708,77.8L709.5,75.8L711,73.9L712.5,72.1L714,70.3L715.5,68.4L717,66.7L718.5,65L720,63.5L721.5,62.1L723,60.9L724.5,59.6L726,58.4L727.5,57.2L729,56.1L730.5,55.2L732,54.5L733.5,54.2L735,54.1L736.5,54.2L738,54.4L739.5,54.7L741,55.1L742.5,55.6L744,56.1L745.5,56.6L747,57.5L748.5,58.7L750,60.3L751.5,62.1L753,64.1L754.5,66.2L756,68.4L757.5,70.6L759,73.2L760.5,76.1L762,79.1L763.5,82.2L765,85.2L766.5,88.2L768,90.9L769.5,93.6L771,96.3L772.5,99L774,101.7L775.5,104.4L777,107.1L778.5,109.7L780,112.3L781.5,114.8L783,117.2L784.5,119.6L786,121.9L787.5,124.1L789,126.2L790.5,128.1L792,130.1L793.5,131.9L795,133.8L796.5,135.5L798,137.3L799.5,139L801,140.6L802.5,142.2L804,143.8L805.5,145.3L807,146.8L808.5,148.2L810,149.6L811.5,150.9L813,152.2L814.5,153.4L816,154.6L817.5,155.7L819,156.9L820.5,158L822,159L823.5,160.1L825,161.1L826.5,162.1L828,163.1L829.5,164.1L831,165L832.5,166L834,166.9L835.5,167.7L837,168.6L838.5,169.4L840,170.2L841.5,171L843,171.7L844.5,172.4L846,173.1L847.5,173.8L849,174.5L850.5,175.1L852,175.7L853.5,176.3L855,176.9L856.5,177.5L858,178L859.5,178.5L861,179.1L862.5,179.6L864,180.1L865.5,180.6L867,181.1L868.5,181.5L870,182L871.5,182.5L873,182.9L874.5,183.4L876,183.8L877.5,184.3L879,184.7L880.5,185.1L882,185.6L883.5,186L885,186.4L886.5,186.9L888,187.3L889.5,187.7L891,188.1L892.5,188.5L894,188.9L895.5,189.3L897,189.7L898.5,190.1L900,190.4L901.5,190.8L903,191.2L904.5,191.5L906,191.9L907.5,192.2L909,192.5L910.5,192.9L912,193.2L913.5,193.5L915,193.8L916.5,194.1L918,194.4L919.5,194.7L921,195L922.5,195.2L924,195.5L925.5,195.8L927,196L928.5,196.3L930,196.5L931.5,196.8L933,197L934.5,197.2L936,197.4L937.5,197.7L939,197.9" fill="none" stroke="#8c8c14" stroke-width="3.4" stroke-linejoin="round"/>
<circle cx="565.5" cy="204.5" r="3.4" fill="#8c8c14" stroke="#8c8c14" stroke-width="0.3"/><circle cx="576.8" cy="200.4" r="3.4" fill="#8c8c14" stroke="#8c8c14" stroke-width="0.3"/><circle cx="588.1" cy="193.1" r="3.4" fill="#8c8c14" stroke="#8c8c14" stroke-width="0.3"/><circle cx="599.4" cy="185.1" r="3.4" fill="#8c8c14" stroke="#8c8c14" stroke-width="0.3"/><circle cx="610.7" cy="176.7" r="3.4" fill="#8c8c14" stroke="#8c8c14" stroke-width="0.3"/><circle cx="622.1" cy="166.7" r="3.4" fill="#8c8c14" stroke="#8c8c14" stroke-width="0.3"/><circle cx="633.4" cy="157.7" r="3.4" fill="#8c8c14" stroke="#8c8c14" stroke-width="0.3"/><circle cx="644.7" cy="147.4" r="3.4" fill="#8c8c14" stroke="#8c8c14" stroke-width="0.3"/><circle cx="656" cy="136.1" r="3.4" fill="#8c8c14" stroke="#8c8c14" stroke-width="0.3"/><circle cx="667.3" cy="123.6" r="3.4" fill="#8c8c14" stroke="#8c8c14" stroke-width="0.3"/><circle cx="678.6" cy="112.4" r="3.4" fill="#8c8c14" stroke="#8c8c14" stroke-width="0.3"/><circle cx="689.9" cy="99.8" r="3.4" fill="#8c8c14" stroke="#8c8c14" stroke-width="0.3"/><circle cx="701.2" cy="87" r="3.4" fill="#8c8c14" stroke="#8c8c14" stroke-width="0.3"/><circle cx="712.6" cy="72" r="3.4" fill="#8c8c14" stroke="#8c8c14" stroke-width="0.3"/><circle cx="723.9" cy="60.1" r="3.4" fill="#8c8c14" stroke="#8c8c14" stroke-width="0.3"/><circle cx="735.2" cy="54.1" r="3.4" fill="#8c8c14" stroke="#8c8c14" stroke-width="0.3"/><circle cx="746.5" cy="57.1" r="3.4" fill="#8c8c14" stroke="#8c8c14" stroke-width="0.3"/><circle cx="757.8" cy="71.1" r="3.4" fill="#8c8c14" stroke="#8c8c14" stroke-width="0.3"/><circle cx="769.1" cy="92.9" r="3.4" fill="#8c8c14" stroke="#8c8c14" stroke-width="0.3"/><circle cx="780.4" cy="113" r="3.4" fill="#8c8c14" stroke="#8c8c14" stroke-width="0.3"/><circle cx="791.7" cy="129.7" r="3.4" fill="#8c8c14" stroke="#8c8c14" stroke-width="0.3"/><circle cx="803.1" cy="142.8" r="3.4" fill="#8c8c14" stroke="#8c8c14" stroke-width="0.3"/><circle cx="814.4" cy="153.3" r="3.4" fill="#8c8c14" stroke="#8c8c14" stroke-width="0.3"/><circle cx="825.7" cy="161.6" r="3.4" fill="#8c8c14" stroke="#8c8c14" stroke-width="0.3"/><circle cx="837" cy="168.6" r="3.4" fill="#8c8c14" stroke="#8c8c14" stroke-width="0.3"/><circle cx="848.3" cy="174.2" r="3.4" fill="#8c8c14" stroke="#8c8c14" stroke-width="0.3"/><circle cx="859.6" cy="178.6" r="3.4" fill="#8c8c14" stroke="#8c8c14" stroke-width="0.3"/><circle cx="870.9" cy="182.3" r="3.4" fill="#8c8c14" stroke="#8c8c14" stroke-width="0.3"/><circle cx="882.2" cy="185.6" r="3.4" fill="#8c8c14" stroke="#8c8c14" stroke-width="0.3"/><circle cx="893.6" cy="188.8" r="3.4" fill="#8c8c14" stroke="#8c8c14" stroke-width="0.3"/><circle cx="904.9" cy="191.6" r="3.4" fill="#8c8c14" stroke="#8c8c14" stroke-width="0.3"/><circle cx="916.2" cy="194" r="3.4" fill="#8c8c14" stroke="#8c8c14" stroke-width="0.3"/><circle cx="927.5" cy="196.1" r="3.4" fill="#8c8c14" stroke="#8c8c14" stroke-width="0.3"/><circle cx="938.8" cy="197.8" r="3.4" fill="#8c8c14" stroke="#8c8c14" stroke-width="0.3"/>
<path d="M565.5,191.5L567,191L568.5,190.5L570,189.9L571.5,189.3L573,188.7L574.5,188L576,187.3L577.5,186.5L579,185.7L580.5,184.8L582,183.9L583.5,182.9L585,181.9L586.5,180.8L588,179.8L589.5,178.7L591,177.6L592.5,176.4L594,175.2L595.5,174L597,172.8L598.5,171.6L600,170.4L601.5,169.3L603,168.2L604.5,167L606,165.9L607.5,164.7L609,163.5L610.5,162.3L612,161L613.5,159.6L615,158.3L616.5,156.9L618,155.5L619.5,154.2L621,152.9L622.5,151.7L624,150.5L625.5,149.3L627,148.2L628.5,147.1L630,145.9L631.5,144.7L633,143.4L634.5,142L636,140.6L637.5,139L639,137.5L640.5,135.9L642,134.4L643.5,132.8L645,131.3L646.5,129.8L648,128.3L649.5,126.8L651,125.3L652.5,123.8L654,122.3L655.5,120.8L657,119.3L658.5,117.8L660,116.3L661.5,114.8L663,113.3L664.5,111.8L666,110.3L667.5,108.8L669,107.3L670.5,105.8L672,104.4L673.5,102.9L675,101.4L676.5,99.9L678,98.3L679.5,96.7L681,95.1L682.5,93.4L684,91.7L685.5,90L687,88.4L688.5,86.8L690,85.2L691.5,83.7L693,82.2L694.5,80.7L696,79.2L697.5,77.7L699,76.2L700.5,74.6L702,72.8L703.5,71L705,69.1L706.5,67.2L708,65.3L709.5,63.5L711,61.7L712.5,60L714,58.3L715.5,56.6L717,55L718.5,53.5L720,52.1L721.5,50.9L723,50L724.5,49.1L726,48.2L727.5,47.4L729,46.7L730.5,46.1L732,45.8L733.5,45.6L735,45.7L736.5,45.9L738,46.2L739.5,46.7L741,47.3L742.5,48L744,48.8L745.5,49.6L747,50.4L748.5,51.8L750,53.5L751.5,55.5L753,57.8L754.5,60.2L756,62.6L757.5,65L759,67.5L760.5,70.1L762,73L763.5,75.9L765,78.9L766.5,81.8L768,84.8L769.5,87.6L771,90.5L772.5,93.5L774,96.4L775.5,99.3L777,102.1L778.5,104.9L780,107.5L781.5,110L783,112.5L784.5,114.9L786,117.3L787.5,119.5L789,121.8L790.5,123.9L792,126L793.5,128L795,129.9L796.5,131.8L798,133.6L799.5,135.4L801,137.1L802.5,138.8L804,140.4L805.5,142L807,143.6L808.5,145.1L810,146.5L811.5,147.9L813,149.3L814.5,150.6L816,151.9L817.5,153.2L819,154.4L820.5,155.6L822,156.7L823.5,157.8L825,158.8L826.5,159.7L828,160.6L829.5,161.4L831,162.2L832.5,163L834,163.8L835.5,164.6L837,165.4L838.5,166.3L840,167.1L841.5,168L843,168.9L844.5,169.7L846,170.5L847.5,171.3L849,172L850.5,172.8L852,173.4L853.5,174.1L855,174.8L856.5,175.4L858,176L859.5,176.6L861,177.1L862.5,177.6L864,178.1L865.5,178.6L867,179L868.5,179.5L870,180L871.5,180.5L873,181L874.5,181.6L876,182.1L877.5,182.6L879,183.1L880.5,183.6L882,184L883.5,184.4L885,184.7L886.5,185L888,185.3L889.5,185.7L891,186L892.5,186.3L894,186.6L895.5,187L897,187.3L898.5,187.7L900,188L901.5,188.3L903,188.6L904.5,188.9L906,189.2L907.5,189.5L909,189.8L910.5,190L912,190.3L913.5,190.6L915,190.8L916.5,191L918,191.3L919.5,191.5L921,191.8L922.5,192L924,192.2L925.5,192.4L927,192.6L928.5,192.8L930,192.9L931.5,193.1L933,193.2L934.5,193.4L936,193.5L937.5,193.6L939,193.7" fill="none" stroke="#7a5050" stroke-width="3.4" stroke-linejoin="round"/>
<path d="M569.1,193.5L565.5,195.6L561.9,193.5L561.9,189.4L565.5,187.3L569.1,189.4Z" fill="#7a5050" stroke="#7a5050" stroke-width="0.3"/><path d="M580.4,189L576.8,191L573.2,189L573.2,184.8L576.8,182.7L580.4,184.8Z" fill="#7a5050" stroke="#7a5050" stroke-width="0.3"/><path d="M591.7,181.8L588.1,183.9L584.5,181.8L584.5,177.6L588.1,175.6L591.7,177.6Z" fill="#7a5050" stroke="#7a5050" stroke-width="0.3"/><path d="M603,172.9L599.4,175L595.8,172.9L595.8,168.8L599.4,166.7L603,168.8Z" fill="#7a5050" stroke="#7a5050" stroke-width="0.3"/><path d="M614.3,164.1L610.7,166.2L607.2,164.1L607.2,160L610.7,157.9L614.3,160Z" fill="#7a5050" stroke="#7a5050" stroke-width="0.3"/><path d="M625.7,154.1L622.1,156.2L618.5,154.1L618.5,149.9L622.1,147.9L625.7,149.9Z" fill="#7a5050" stroke="#7a5050" stroke-width="0.3"/><path d="M637,145.1L633.4,147.2L629.8,145.1L629.8,141L633.4,138.9L637,141Z" fill="#7a5050" stroke="#7a5050" stroke-width="0.3"/><path d="M648.3,133.7L644.7,135.8L641.1,133.7L641.1,129.5L644.7,127.5L648.3,129.5Z" fill="#7a5050" stroke="#7a5050" stroke-width="0.3"/><path d="M659.6,122.4L656,124.5L652.4,122.4L652.4,118.2L656,116.2L659.6,118.2Z" fill="#7a5050" stroke="#7a5050" stroke-width="0.3"/><path d="M670.9,111.1L667.3,113.1L663.7,111.1L663.7,106.9L667.3,104.8L670.9,106.9Z" fill="#7a5050" stroke="#7a5050" stroke-width="0.3"/><path d="M682.2,99.7L678.6,101.8L675,99.7L675,95.6L678.6,93.5L682.2,95.6Z" fill="#7a5050" stroke="#7a5050" stroke-width="0.3"/><path d="M693.5,87.3L689.9,89.4L686.3,87.3L686.3,83.2L689.9,81.1L693.5,83.2Z" fill="#7a5050" stroke="#7a5050" stroke-width="0.3"/><path d="M704.8,75.8L701.2,77.9L697.7,75.8L697.7,71.6L701.2,69.6L704.8,71.6Z" fill="#7a5050" stroke="#7a5050" stroke-width="0.3"/><path d="M716.2,62.1L712.6,64.1L709,62.1L709,57.9L712.6,55.8L716.2,57.9Z" fill="#7a5050" stroke="#7a5050" stroke-width="0.3"/><path d="M727.5,51.6L723.9,53.6L720.3,51.6L720.3,47.4L723.9,45.3L727.5,47.4Z" fill="#7a5050" stroke="#7a5050" stroke-width="0.3"/><path d="M738.8,47.8L735.2,49.8L731.6,47.8L731.6,43.6L735.2,41.5L738.8,43.6Z" fill="#7a5050" stroke="#7a5050" stroke-width="0.3"/><path d="M750.1,52.2L746.5,54.3L742.9,52.2L742.9,48L746.5,46L750.1,48Z" fill="#7a5050" stroke="#7a5050" stroke-width="0.3"/><path d="M761.4,67.6L757.8,69.6L754.2,67.6L754.2,63.4L757.8,61.3L761.4,63.4Z" fill="#7a5050" stroke="#7a5050" stroke-width="0.3"/><path d="M772.7,89L769.1,91.1L765.5,89L765.5,84.8L769.1,82.8L772.7,84.8Z" fill="#7a5050" stroke="#7a5050" stroke-width="0.3"/><path d="M784,110.3L780.4,112.4L776.8,110.3L776.8,106.2L780.4,104.1L784,106.2Z" fill="#7a5050" stroke="#7a5050" stroke-width="0.3"/><path d="M795.3,127.7L791.7,129.8L788.1,127.7L788.1,123.5L791.7,121.5L795.3,123.5Z" fill="#7a5050" stroke="#7a5050" stroke-width="0.3"/><path d="M806.6,141.5L803.1,143.6L799.5,141.5L799.5,137.3L803.1,135.3L806.6,137.3Z" fill="#7a5050" stroke="#7a5050" stroke-width="0.3"/><path d="M818,152.6L814.4,154.6L810.8,152.6L810.8,148.4L814.4,146.3L818,148.4Z" fill="#7a5050" stroke="#7a5050" stroke-width="0.3"/><path d="M829.3,161.3L825.7,163.4L822.1,161.3L822.1,157.2L825.7,155.1L829.3,157.2Z" fill="#7a5050" stroke="#7a5050" stroke-width="0.3"/><path d="M840.6,167.5L837,169.5L833.4,167.5L833.4,163.3L837,161.2L840.6,163.3Z" fill="#7a5050" stroke="#7a5050" stroke-width="0.3"/><path d="M851.9,173.8L848.3,175.8L844.7,173.8L844.7,169.6L848.3,167.5L851.9,169.6Z" fill="#7a5050" stroke="#7a5050" stroke-width="0.3"/><path d="M863.2,178.7L859.6,180.8L856,178.7L856,174.5L859.6,172.5L863.2,174.5Z" fill="#7a5050" stroke="#7a5050" stroke-width="0.3"/><path d="M874.5,182.4L870.9,184.5L867.3,182.4L867.3,178.2L870.9,176.2L874.5,178.2Z" fill="#7a5050" stroke="#7a5050" stroke-width="0.3"/><path d="M885.8,186.1L882.2,188.2L878.6,186.1L878.6,182L882.2,179.9L885.8,182Z" fill="#7a5050" stroke="#7a5050" stroke-width="0.3"/><path d="M897.1,188.6L893.6,190.7L890,188.6L890,184.5L893.6,182.4L897.1,184.5Z" fill="#7a5050" stroke="#7a5050" stroke-width="0.3"/><path d="M908.5,191.1L904.9,193.2L901.3,191.1L901.3,186.9L904.9,184.9L908.5,186.9Z" fill="#7a5050" stroke="#7a5050" stroke-width="0.3"/><path d="M919.8,193.1L916.2,195.1L912.6,193.1L912.6,188.9L916.2,186.8L919.8,188.9Z" fill="#7a5050" stroke="#7a5050" stroke-width="0.3"/><path d="M931.1,194.7L927.5,196.8L923.9,194.7L923.9,190.6L927.5,188.5L931.1,190.6Z" fill="#7a5050" stroke="#7a5050" stroke-width="0.3"/><path d="M942.4,195.8L938.8,197.9L935.2,195.8L935.2,191.6L938.8,189.6L942.4,191.6Z" fill="#7a5050" stroke="#7a5050" stroke-width="0.3"/>
<path d="M565.5,173.6L567,173.3L568.5,172.3L570,171.4L571.5,170.4L573,169.4L574.5,168.3L576,167.3L577.5,166.3L579,165.2L580.5,164.1L582,163.1L583.5,162L585,160.9L586.5,159.8L588,158.6L589.5,157.4L591,156.1L592.5,154.8L594,153.4L595.5,152L597,150.6L598.5,149.3L600,148L601.5,146.8L603,145.6L604.5,144.4L606,143.3L607.5,142.2L609,141L610.5,139.9L612,138.7L613.5,137.5L615,136.4L616.5,135.2L618,134L619.5,132.8L621,131.6L622.5,130.4L624,129.1L625.5,127.8L627,126.4L628.5,125.1L630,123.7L631.5,122.3L633,121L634.5,119.8L636,118.5L637.5,117.4L639,116.2L640.5,115.1L642,114L643.5,112.8L645,111.6L646.5,110.3L648,109L649.5,107.7L651,106.3L652.5,105L654,103.6L655.5,102.2L657,100.9L658.5,99.6L660,98.2L661.5,96.9L663,95.6L664.5,94.2L666,92.8L667.5,91.5L669,90L670.5,88.6L672,87.2L673.5,85.8L675,84.3L676.5,82.8L678,81.2L679.5,79.6L681,77.9L682.5,76L684,74.2L685.5,72.3L687,70.3L688.5,68.5L690,66.7L691.5,64.9L693,63.2L694.5,61.4L696,59.8L697.5,58.1L699,56.4L700.5,54.8L702,53.2L703.5,51.6L705,49.9L706.5,48.3L708,46.7L709.5,45.3L711,44L712.5,43L714,42.1L715.5,41.1L717,40.3L718.5,39.5L720,38.9L721.5,38.5L723,38.3L724.5,38.4L726,38.9L727.5,39.5L729,40.4L730.5,41.5L732,42.6L733.5,43.8L735,45.1L736.5,46.8L738,48.8L739.5,51.2L741,53.7L742.5,56.3L744,59L745.5,61.6L747,64.2L748.5,66.9L750,69.7L751.5,72.6L753,75.5L754.5,78.4L756,81.3L757.5,84.2L759,87.1L760.5,90L762,92.9L763.5,95.8L765,98.7L766.5,101.5L768,104.1L769.5,106.7L771,109.2L772.5,111.6L774,114L775.5,116.3L777,118.5L778.5,120.7L780,122.8L781.5,124.8L783,126.8L784.5,128.7L786,130.6L787.5,132.4L789,134.1L790.5,135.8L792,137.3L793.5,138.8L795,140.2L796.5,141.5L798,142.8L799.5,144.1L801,145.3L802.5,146.5L804,147.6L805.5,148.6L807,149.7L808.5,150.7L810,151.6L811.5,152.6L813,153.5L814.5,154.4L816,155.3L817.5,156.2L819,157.1L820.5,157.9L822,158.7L823.5,159.4L825,160.1L826.5,160.7L828,161.2L829.5,161.7L831,162.2L832.5,162.7L834,163.2L835.5,163.6L837,164.1L838.5,164.7L840,165.2L841.5,165.7L843,166.2L844.5,166.7L846,167.1L847.5,167.6L849,167.9L850.5,168.3L852,168.6L853.5,168.9L855,169.3L856.5,169.6L858,169.9L859.5,170.2L861,170.6L862.5,170.9L864,171.3L865.5,171.6L867,171.9L868.5,172.2L870,172.5L871.5,172.8L873,173.1L874.5,173.4L876,173.6L877.5,173.9L879,174.2L880.5,174.4L882,174.7L883.5,174.9L885,175.2L886.5,175.4L888,175.7L889.5,175.9L891,176.1L892.5,176.3L894,176.5L895.5,176.7L897,176.8L898.5,177L900,177.1L901.5,177.3L903,177.4L904.5,177.6L906,177.8L907.5,178L909,178.2L910.5,178.4L912,178.5L913.5,178.7L915,178.8L916.5,178.9L918,179L919.5,179.1L921,179.2L922.5,179.3L924,179.4L925.5,179.5L927,179.5L928.5,179.6L930,179.7L931.5,179.7L933,179.8L934.5,179.8L936,179.9L937.5,179.9L939,180" fill="none" stroke="#2e9e5c" stroke-width="3.4" stroke-linejoin="round"/>
<path d="M565.5,177.7L569,171L562,171Z" fill="#2e9e5c" stroke="#2e9e5c" stroke-width="0.3"/><path d="M576.8,170.8L580.3,164.1L573.3,164.1Z" fill="#2e9e5c" stroke="#2e9e5c" stroke-width="0.3"/><path d="M588.1,162.5L591.6,155.9L584.6,155.9Z" fill="#2e9e5c" stroke="#2e9e5c" stroke-width="0.3"/><path d="M599.4,152.5L602.9,145.8L595.9,145.8Z" fill="#2e9e5c" stroke="#2e9e5c" stroke-width="0.3"/><path d="M610.7,143.7L614.2,137.1L607.2,137.1Z" fill="#2e9e5c" stroke="#2e9e5c" stroke-width="0.3"/><path d="M622.1,134.8L625.6,128.1L618.6,128.1Z" fill="#2e9e5c" stroke="#2e9e5c" stroke-width="0.3"/><path d="M633.4,124.7L636.9,118.1L629.9,118.1Z" fill="#2e9e5c" stroke="#2e9e5c" stroke-width="0.3"/><path d="M644.7,115.9L648.2,109.2L641.2,109.2Z" fill="#2e9e5c" stroke="#2e9e5c" stroke-width="0.3"/><path d="M656,105.8L659.5,99.2L652.5,99.2Z" fill="#2e9e5c" stroke="#2e9e5c" stroke-width="0.3"/><path d="M667.3,95.7L670.8,89L663.8,89Z" fill="#2e9e5c" stroke="#2e9e5c" stroke-width="0.3"/><path d="M678.6,84.6L682.1,77.9L675.1,77.9Z" fill="#2e9e5c" stroke="#2e9e5c" stroke-width="0.3"/><path d="M689.9,70.8L693.4,64.1L686.4,64.1Z" fill="#2e9e5c" stroke="#2e9e5c" stroke-width="0.3"/><path d="M701.2,58.1L704.7,51.4L697.7,51.4Z" fill="#2e9e5c" stroke="#2e9e5c" stroke-width="0.3"/><path d="M712.6,47L716.1,40.4L709.1,40.4Z" fill="#2e9e5c" stroke="#2e9e5c" stroke-width="0.3"/><path d="M723.9,42.4L727.4,35.7L720.4,35.7Z" fill="#2e9e5c" stroke="#2e9e5c" stroke-width="0.3"/><path d="M735.2,49.3L738.7,42.7L731.7,42.7Z" fill="#2e9e5c" stroke="#2e9e5c" stroke-width="0.3"/><path d="M746.5,67.4L750,60.7L743,60.7Z" fill="#2e9e5c" stroke="#2e9e5c" stroke-width="0.3"/><path d="M757.8,88.8L761.3,82.1L754.3,82.1Z" fill="#2e9e5c" stroke="#2e9e5c" stroke-width="0.3"/><path d="M769.1,110.1L772.6,103.4L765.6,103.4Z" fill="#2e9e5c" stroke="#2e9e5c" stroke-width="0.3"/><path d="M780.4,127.4L783.9,120.7L776.9,120.7Z" fill="#2e9e5c" stroke="#2e9e5c" stroke-width="0.3"/><path d="M791.7,141.1L795.2,134.4L788.2,134.4Z" fill="#2e9e5c" stroke="#2e9e5c" stroke-width="0.3"/><path d="M803.1,150.9L806.6,144.2L799.6,144.2Z" fill="#2e9e5c" stroke="#2e9e5c" stroke-width="0.3"/><path d="M814.4,158.3L817.9,151.7L810.9,151.7Z" fill="#2e9e5c" stroke="#2e9e5c" stroke-width="0.3"/><path d="M825.7,164.4L829.2,157.7L822.2,157.7Z" fill="#2e9e5c" stroke="#2e9e5c" stroke-width="0.3"/><path d="M837,168.2L840.5,161.5L833.5,161.5Z" fill="#2e9e5c" stroke="#2e9e5c" stroke-width="0.3"/><path d="M848.3,171.8L851.8,165.1L844.8,165.1Z" fill="#2e9e5c" stroke="#2e9e5c" stroke-width="0.3"/><path d="M859.6,174.3L863.1,167.6L856.1,167.6Z" fill="#2e9e5c" stroke="#2e9e5c" stroke-width="0.3"/><path d="M870.9,176.7L874.4,170.1L867.4,170.1Z" fill="#2e9e5c" stroke="#2e9e5c" stroke-width="0.3"/><path d="M882.2,178.7L885.7,172.1L878.7,172.1Z" fill="#2e9e5c" stroke="#2e9e5c" stroke-width="0.3"/><path d="M893.6,180.5L897.1,173.8L890.1,173.8Z" fill="#2e9e5c" stroke="#2e9e5c" stroke-width="0.3"/><path d="M904.9,181.7L908.4,175L901.4,175Z" fill="#2e9e5c" stroke="#2e9e5c" stroke-width="0.3"/><path d="M916.2,182.9L919.7,176.3L912.7,176.3Z" fill="#2e9e5c" stroke="#2e9e5c" stroke-width="0.3"/><path d="M927.5,183.6L931,176.9L924,176.9Z" fill="#2e9e5c" stroke="#2e9e5c" stroke-width="0.3"/><path d="M938.8,184L942.3,177.3L935.3,177.3Z" fill="#2e9e5c" stroke="#2e9e5c" stroke-width="0.3"/>
<path d="M565.5,173.6L567,172.6L568.5,171.7L570,170.7L571.5,169.7L573,168.6L574.5,167.6L576,166.6L577.5,165.5L579,164.4L580.5,163.4L582,162.3L583.5,161.2L585,160.1L586.5,158.9L588,157.7L589.5,156.4L591,155.1L592.5,153.7L594,152.3L595.5,150.9L597,149.6L598.5,148.3L600,147.1L601.5,145.9L603,144.7L604.5,143.6L606,142.5L607.5,141.3L609,140.2L610.5,139L612,137.8L613.5,136.7L615,135.5L616.5,134.3L618,133.1L619.5,131.9L621,130.7L622.5,129.4L624,128.1L625.5,126.7L627,125.4L628.5,124L630,122.6L631.5,121.3L633,120.1L634.5,118.8L636,117.7L637.5,116.5L639,115.4L640.5,114.3L642,113.1L643.5,111.9L645,110.6L646.5,109.3L648,108L649.5,106.6L651,105.3L652.5,103.9L654,102.5L655.5,101.2L657,99.9L658.5,98.5L660,97.2L661.5,95.9L663,94.5L664.5,93.1L666,91.8L667.5,90.3L669,88.9L670.5,87.5L672,86.1L673.5,84.6L675,83.1L676.5,81.5L678,79.9L679.5,78.2L681,76.3L682.5,74.5L684,72.6L685.5,70.6L687,68.8L688.5,67L690,65.2L691.5,63.5L693,61.7L694.5,60.1L696,58.4L697.5,56.7L699,55.1L700.5,53.5L702,51.9L703.5,50.2L705,48.6L706.5,47L708,45.6L709.5,44.3L711,43.3L712.5,42.4L714,41.4L715.5,40.6L717,39.8L718.5,39.2L720,38.8L721.5,38.6L723,38.7L724.5,39.2L726,39.8L727.5,40.7L729,41.8L730.5,42.9L732,44.1L733.5,45.4L735,47.1L736.5,49.1L738,51.5L739.5,54L741,56.6L742.5,59.3L744,61.9L745.5,64.5L747,67.2L748.5,70L750,72.9L751.5,75.8L753,78.7L754.5,81.6L756,84.5L757.5,87.4L759,90.3L760.5,93.2L762,96.1L763.5,99L765,101.8L766.5,104.4L768,107L769.5,109.5L771,111.9L772.5,114.3L774,116.6L775.5,118.8L777,121L778.5,123.1L780,125.1L781.5,127.1L783,129L784.5,130.9L786,132.7L787.5,134.4L789,136.1L790.5,137.6L792,139.1L793.5,140.5L795,141.8L796.5,143.1L798,144.4L799.5,145.6L801,146.8L802.5,147.9L804,148.9L805.5,150L807,151L808.5,151.9L810,152.9L811.5,153.8L813,154.7L814.5,155.6L816,156.5L817.5,157.4L819,158.2L820.5,159L822,159.7L823.5,160.4L825,161L826.5,161.5L828,162L829.5,162.5L831,163L832.5,163.5L834,163.9L835.5,164.4L837,165L838.5,165.5L840,166L841.5,166.5L843,167L844.5,167.4L846,167.9L847.5,168.2L849,168.6L850.5,168.9L852,169.2L853.5,169.6L855,169.9L856.5,170.2L858,170.5L859.5,170.9L861,171.2L862.5,171.6L864,171.9L865.5,172.2L867,172.5L868.5,172.8L870,173.1L871.5,173.4L873,173.7L874.5,173.9L876,174.2L877.5,174.5L879,174.7L880.5,175L882,175.2L883.5,175.5L885,175.7L886.5,176L888,176.2L889.5,176.4L891,176.6L892.5,176.8L894,177L895.5,177.1L897,177.3L898.5,177.4L900,177.6L901.5,177.7L903,177.9L904.5,178.1L906,178.3L907.5,178.5L909,178.7L910.5,178.8L912,179L913.5,179.1L915,179.2L916.5,179.3L918,179.4L919.5,179.5L921,179.6L922.5,179.7L924,179.8L925.5,179.8L927,179.9L928.5,180L930,180L931.5,180.1L933,180.1L934.5,180.2L936,180.2L937.5,180.3L939,180.3" fill="none" stroke="#1c64e6" stroke-width="3.4" stroke-linejoin="round"/>
<path d="M565.5,169L569.5,176.6L561.5,176.6Z" fill="#1c64e6" stroke="#1c64e6" stroke-width="0.3"/><path d="M576.8,161.4L580.8,169L572.8,169Z" fill="#1c64e6" stroke="#1c64e6" stroke-width="0.3"/><path d="M588.1,153L592.1,160.6L584.1,160.6Z" fill="#1c64e6" stroke="#1c64e6" stroke-width="0.3"/><path d="M599.4,142.9L603.4,150.5L595.4,150.5Z" fill="#1c64e6" stroke="#1c64e6" stroke-width="0.3"/><path d="M610.7,134.2L614.7,141.8L606.7,141.8Z" fill="#1c64e6" stroke="#1c64e6" stroke-width="0.3"/><path d="M622.1,125.2L626.1,132.8L618.1,132.8Z" fill="#1c64e6" stroke="#1c64e6" stroke-width="0.3"/><path d="M633.4,115.1L637.4,122.7L629.4,122.7Z" fill="#1c64e6" stroke="#1c64e6" stroke-width="0.3"/><path d="M644.7,106.3L648.7,113.9L640.7,113.9Z" fill="#1c64e6" stroke="#1c64e6" stroke-width="0.3"/><path d="M656,96.2L660,103.8L652,103.8Z" fill="#1c64e6" stroke="#1c64e6" stroke-width="0.3"/><path d="M667.3,85.9L671.3,93.5L663.3,93.5Z" fill="#1c64e6" stroke="#1c64e6" stroke-width="0.3"/><path d="M678.6,74.6L682.6,82.2L674.6,82.2Z" fill="#1c64e6" stroke="#1c64e6" stroke-width="0.3"/><path d="M689.9,60.7L693.9,68.3L685.9,68.3Z" fill="#1c64e6" stroke="#1c64e6" stroke-width="0.3"/><path d="M701.2,48.1L705.2,55.7L697.2,55.7Z" fill="#1c64e6" stroke="#1c64e6" stroke-width="0.3"/><path d="M712.6,37.7L716.6,45.3L708.6,45.3Z" fill="#1c64e6" stroke="#1c64e6" stroke-width="0.3"/><path d="M723.9,34.3L727.9,41.9L719.9,41.9Z" fill="#1c64e6" stroke="#1c64e6" stroke-width="0.3"/><path d="M735.2,42.7L739.2,50.3L731.2,50.3Z" fill="#1c64e6" stroke="#1c64e6" stroke-width="0.3"/><path d="M746.5,61.7L750.5,69.3L742.5,69.3Z" fill="#1c64e6" stroke="#1c64e6" stroke-width="0.3"/><path d="M757.8,83.3L761.8,90.9L753.8,90.9Z" fill="#1c64e6" stroke="#1c64e6" stroke-width="0.3"/><path d="M769.1,104.3L773.1,111.9L765.1,111.9Z" fill="#1c64e6" stroke="#1c64e6" stroke-width="0.3"/><path d="M780.4,121.1L784.4,128.7L776.4,128.7Z" fill="#1c64e6" stroke="#1c64e6" stroke-width="0.3"/><path d="M791.7,134.2L795.7,141.8L787.7,141.8Z" fill="#1c64e6" stroke="#1c64e6" stroke-width="0.3"/><path d="M803.1,143.7L807.1,151.3L799.1,151.3Z" fill="#1c64e6" stroke="#1c64e6" stroke-width="0.3"/><path d="M814.4,150.9L818.4,158.5L810.4,158.5Z" fill="#1c64e6" stroke="#1c64e6" stroke-width="0.3"/><path d="M825.7,156.6L829.7,164.2L821.7,164.2Z" fill="#1c64e6" stroke="#1c64e6" stroke-width="0.3"/><path d="M837,160.4L841,168L833,168Z" fill="#1c64e6" stroke="#1c64e6" stroke-width="0.3"/><path d="M848.3,163.8L852.3,171.4L844.3,171.4Z" fill="#1c64e6" stroke="#1c64e6" stroke-width="0.3"/><path d="M859.6,166.3L863.6,173.9L855.6,173.9Z" fill="#1c64e6" stroke="#1c64e6" stroke-width="0.3"/><path d="M870.9,168.7L874.9,176.3L866.9,176.3Z" fill="#1c64e6" stroke="#1c64e6" stroke-width="0.3"/><path d="M882.2,170.7L886.2,178.3L878.2,178.3Z" fill="#1c64e6" stroke="#1c64e6" stroke-width="0.3"/><path d="M893.6,172.3L897.6,179.9L889.6,179.9Z" fill="#1c64e6" stroke="#1c64e6" stroke-width="0.3"/><path d="M904.9,173.5L908.9,181.1L900.9,181.1Z" fill="#1c64e6" stroke="#1c64e6" stroke-width="0.3"/><path d="M916.2,174.7L920.2,182.3L912.2,182.3Z" fill="#1c64e6" stroke="#1c64e6" stroke-width="0.3"/><path d="M927.5,175.3L931.5,182.9L923.5,182.9Z" fill="#1c64e6" stroke="#1c64e6" stroke-width="0.3"/><path d="M938.8,175.7L942.8,183.3L934.8,183.3Z" fill="#1c64e6" stroke="#1c64e6" stroke-width="0.3"/>
<path d="M565.5,173.6L567,172.7L568.5,171.7L570,170.7L571.5,169.7L573,168.7L574.5,167.6L576,166.6L577.5,165.5L579,164.5L580.5,163.4L582,162.4L583.5,161.3L585,160.1L586.5,159L588,157.8L589.5,156.5L591,155.2L592.5,153.9L594,152.5L595.5,151.1L597,149.7L598.5,148.4L600,147.2L601.5,146L603,144.8L604.5,143.7L606,142.6L607.5,141.4L609,140.3L610.5,139.1L612,137.9L613.5,136.8L615,135.6L616.5,134.4L618,133.2L619.5,132L621,130.8L622.5,129.5L624,128.2L625.5,126.9L627,125.5L628.5,124.2L630,122.8L631.5,121.5L633,120.2L634.5,118.9L636,117.8L637.5,116.6L639,115.5L640.5,114.3L642,113.2L643.5,112L645,110.7L646.5,109.5L648,108.1L649.5,106.8L651,105.4L652.5,104.1L654,102.7L655.5,101.3L657,100L658.5,98.7L660,97.3L661.5,96L663,94.7L664.5,93.3L666,91.9L667.5,90.5L669,89.1L670.5,87.7L672,86.2L673.5,84.8L675,83.3L676.5,81.7L678,80.1L679.5,78.4L681,76.7L682.5,74.8L684,72.9L685.5,71L687,69.1L688.5,67.2L690,65.5L691.5,63.7L693,62L694.5,60.3L696,58.6L697.5,57L699,55.4L700.5,53.8L702,52.1L703.5,50.5L705,48.8L706.5,47.2L708,45.7L709.5,44.4L711,43.3L712.5,42.4L714,41.5L715.5,40.6L717,39.8L718.5,39.1L720,38.6L721.5,38.3L723,38.3L724.5,38.7L726,39.3L727.5,40.1L729,41.1L730.5,42.2L732,43.4L733.5,44.7L735,46.2L736.5,48.1L738,50.4L739.5,52.8L741,55.4L742.5,58.1L744,60.8L745.5,63.4L747,66L748.5,68.8L750,71.6L751.5,74.5L753,77.4L754.5,80.4L756,83.2L757.5,86.1L759,89L760.5,91.9L762,94.9L763.5,97.7L765,100.6L766.5,103.3L768,105.8L769.5,108.4L771,110.8L772.5,113.2L774,115.5L775.5,117.8L777,120L778.5,122.1L780,124.1L781.5,126.1L783,128.1L784.5,130L786,131.8L787.5,133.6L789,135.2L790.5,136.8L792,138.3L793.5,139.7L795,141.1L796.5,142.4L798,143.7L799.5,144.9L801,146.1L802.5,147.2L804,148.3L805.5,149.3L807,150.3L808.5,151.3L810,152.3L811.5,153.2L813,154.1L814.5,155L816,155.9L817.5,156.8L819,157.6L820.5,158.4L822,159.2L823.5,159.9L825,160.5L826.5,161L828,161.6L829.5,162.1L831,162.5L832.5,163L834,163.5L835.5,164L837,164.5L838.5,165L840,165.5L841.5,166L843,166.5L844.5,167L846,167.4L847.5,167.8L849,168.2L850.5,168.5L852,168.8L853.5,169.1L855,169.5L856.5,169.8L858,170.1L859.5,170.5L861,170.8L862.5,171.1L864,171.5L865.5,171.8L867,172.1L868.5,172.4L870,172.7L871.5,173L873,173.3L874.5,173.6L876,173.8L877.5,174.1L879,174.3L880.5,174.6L882,174.8L883.5,175.1L885,175.3L886.5,175.6L888,175.8L889.5,176.1L891,176.3L892.5,176.4L894,176.6L895.5,176.8L897,176.9L898.5,177.1L900,177.2L901.5,177.4L903,177.6L904.5,177.7L906,177.9L907.5,178.1L909,178.3L910.5,178.5L912,178.6L913.5,178.8L915,178.9L916.5,179L918,179.1L919.5,179.2L921,179.3L922.5,179.4L924,179.5L925.5,179.5L927,179.6L928.5,179.6L930,179.7L931.5,179.8L933,179.8L934.5,179.9L936,179.9L937.5,179.9L939,180" fill="none" stroke="#18c8d0" stroke-width="3.4" stroke-linejoin="round"/>
<path d="M570.4,173.6L562.3,169.4L562.3,177.9Z" fill="#18c8d0" stroke="#18c8d0" stroke-width="0.3"/><path d="M581.7,166L573.6,161.8L573.6,170.3Z" fill="#18c8d0" stroke="#18c8d0" stroke-width="0.3"/><path d="M593,157.7L584.9,153.4L584.9,161.9Z" fill="#18c8d0" stroke="#18c8d0" stroke-width="0.3"/><path d="M604.3,147.6L596.2,143.4L596.2,151.9Z" fill="#18c8d0" stroke="#18c8d0" stroke-width="0.3"/><path d="M615.6,138.9L607.6,134.7L607.6,143.2Z" fill="#18c8d0" stroke="#18c8d0" stroke-width="0.3"/><path d="M626.9,129.9L618.9,125.7L618.9,134.2Z" fill="#18c8d0" stroke="#18c8d0" stroke-width="0.3"/><path d="M638.3,119.9L630.2,115.6L630.2,124.1Z" fill="#18c8d0" stroke="#18c8d0" stroke-width="0.3"/><path d="M649.6,111L641.5,106.8L641.5,115.3Z" fill="#18c8d0" stroke="#18c8d0" stroke-width="0.3"/><path d="M660.9,100.9L652.8,96.6L652.8,105.1Z" fill="#18c8d0" stroke="#18c8d0" stroke-width="0.3"/><path d="M672.2,90.7L664.1,86.4L664.1,94.9Z" fill="#18c8d0" stroke="#18c8d0" stroke-width="0.3"/><path d="M683.5,79.4L675.4,75.2L675.4,83.7Z" fill="#18c8d0" stroke="#18c8d0" stroke-width="0.3"/><path d="M694.8,65.6L686.7,61.3L686.7,69.8Z" fill="#18c8d0" stroke="#18c8d0" stroke-width="0.3"/><path d="M706.1,53L698.1,48.7L698.1,57.2Z" fill="#18c8d0" stroke="#18c8d0" stroke-width="0.3"/><path d="M717.4,42.4L709.4,38.1L709.4,46.6Z" fill="#18c8d0" stroke="#18c8d0" stroke-width="0.3"/><path d="M728.8,38.5L720.7,34.3L720.7,42.8Z" fill="#18c8d0" stroke="#18c8d0" stroke-width="0.3"/><path d="M740.1,46.4L732,42.2L732,50.7Z" fill="#18c8d0" stroke="#18c8d0" stroke-width="0.3"/><path d="M751.4,65.1L743.3,60.8L743.3,69.3Z" fill="#18c8d0" stroke="#18c8d0" stroke-width="0.3"/><path d="M762.7,86.7L754.6,82.4L754.6,90.9Z" fill="#18c8d0" stroke="#18c8d0" stroke-width="0.3"/><path d="M774,107.7L765.9,103.5L765.9,112Z" fill="#18c8d0" stroke="#18c8d0" stroke-width="0.3"/><path d="M785.3,124.7L777.2,120.5L777.2,129Z" fill="#18c8d0" stroke="#18c8d0" stroke-width="0.3"/><path d="M796.6,138.1L788.6,133.8L788.6,142.3Z" fill="#18c8d0" stroke="#18c8d0" stroke-width="0.3"/><path d="M807.9,147.6L799.9,143.4L799.9,151.9Z" fill="#18c8d0" stroke="#18c8d0" stroke-width="0.3"/><path d="M819.3,154.9L811.2,150.7L811.2,159.2Z" fill="#18c8d0" stroke="#18c8d0" stroke-width="0.3"/><path d="M830.6,160.7L822.5,156.5L822.5,165Z" fill="#18c8d0" stroke="#18c8d0" stroke-width="0.3"/><path d="M841.9,164.5L833.8,160.2L833.8,168.7Z" fill="#18c8d0" stroke="#18c8d0" stroke-width="0.3"/><path d="M853.2,168L845.1,163.8L845.1,172.3Z" fill="#18c8d0" stroke="#18c8d0" stroke-width="0.3"/><path d="M864.5,170.5L856.4,166.2L856.4,174.7Z" fill="#18c8d0" stroke="#18c8d0" stroke-width="0.3"/><path d="M875.8,172.9L867.7,168.7L867.7,177.2Z" fill="#18c8d0" stroke="#18c8d0" stroke-width="0.3"/><path d="M887.1,174.9L879.1,170.6L879.1,179.1Z" fill="#18c8d0" stroke="#18c8d0" stroke-width="0.3"/><path d="M898.4,176.6L890.4,172.3L890.4,180.8Z" fill="#18c8d0" stroke="#18c8d0" stroke-width="0.3"/><path d="M909.8,177.8L901.7,173.5L901.7,182Z" fill="#18c8d0" stroke="#18c8d0" stroke-width="0.3"/><path d="M921.1,179L913,174.7L913,183.2Z" fill="#18c8d0" stroke="#18c8d0" stroke-width="0.3"/><path d="M932.4,179.6L924.3,175.4L924.3,183.9Z" fill="#18c8d0" stroke="#18c8d0" stroke-width="0.3"/><path d="M943.7,180L935.6,175.7L935.6,184.2Z" fill="#18c8d0" stroke="#18c8d0" stroke-width="0.3"/>
<rect x="668.3" y="154.1" width="137.9" height="126.7" fill="#fff"/>
<path d="M668.3,271.8L668.6,271.9L669,272L669.3,272.2L669.7,272.3L670,272.5L670.4,272.6L670.7,272.7L671.1,272.9L671.4,273L671.7,273.2L672.1,273.3L672.4,273.5L672.8,273.7L673.1,273.8L673.5,274L673.8,274.1L674.2,274.3L674.5,274.5L674.5,160.4L674.5,160.4L674.9,160.6L675.2,160.7L675.5,160.8L675.9,160.9L676.2,161L676.6,161.2L676.9,161.3L677.3,161.4L677.6,161.6L678,161.7L678.3,161.8L678.6,162L679,162.1L679.3,162.2L679.7,162.4L680,162.5L680.4,162.7L680.7,162.8L681.1,163L681.4,163.1L681.7,163.3L682.1,163.4L682.4,163.6L682.8,163.7L683.1,163.9L683.5,164L683.8,164.2L684.2,164.3L684.5,164.5L684.8,164.6L685.2,164.8L685.5,165L685.9,165.1L686.2,165.3L686.6,165.4L686.9,165.6L687.3,165.8L687.6,166L688,166.2L688.3,166.3L688.6,166.5L689,166.7L689.3,166.9L689.7,167.1L690,167.3L690.4,167.5L690.7,167.7L691.1,167.9L691.4,168.1L691.7,168.3L692.1,168.5L692.4,168.7L692.8,168.9L693.1,169.2L693.5,169.4L693.8,169.6L694.2,169.8L694.5,170L694.8,170.3L695.2,170.5L695.5,170.7L695.9,171L696.2,171.2L696.6,171.4L696.9,171.6L697.3,171.9L697.6,172.1L697.9,172.4L698.3,172.6L698.6,172.8L699,173.1L699.3,173.3L699.7,173.5L700,173.8L700.4,174L700.7,174.3L701.1,174.5L701.4,174.8L701.7,175L702.1,175.2L702.4,175.5L702.8,175.7L703.1,176L703.5,176.2L703.8,176.5L704.2,176.7L704.5,177L704.8,177.2L705.2,177.5L705.5,177.7L705.9,178L706.2,178.2L706.6,178.5L706.9,178.8L707.3,179L707.6,179.3L707.9,179.6L708.3,179.8L708.6,180.1L709,180.4L709.3,180.7L709.7,180.9L710,181.2L710.4,181.5L710.7,181.8L711,182L711.4,182.3L711.7,182.6L712.1,182.9L712.4,183.2L712.8,183.5L713.1,183.7L713.5,184L713.8,184.3L714.2,184.6L714.5,184.9L714.8,185.2L715.2,185.5L715.5,185.8L715.9,186.1L716.2,186.4L716.6,186.7L716.9,187L717.3,187.3L717.6,187.6L717.9,187.9L718.3,188.2L718.6,188.5L719,188.8L719.3,189.1L719.7,189.4L720,189.7L720.4,190L720.7,190.3L721,190.6L721.4,190.9L721.7,191.2L722.1,191.5L722.4,191.8L722.8,192.1L723.1,192.4L723.5,192.8L723.8,193.1L724.1,193.4L724.5,193.7L724.8,194L725.2,194.4L725.5,194.7L725.9,195L726.2,195.4L726.6,195.7L726.9,196L727.3,196.4L727.6,196.7L727.9,197L728.3,197.4L728.6,197.7L729,198.1L729.3,198.4L729.7,198.8L730,199.1L730.4,199.5L730.7,199.8L731,200.2L731.4,200.6L731.7,201L732.1,201.4L732.4,201.8L732.8,202.2L733.1,202.7L733.5,203.1L733.8,203.5L734.1,203.9L734.5,204.4L734.8,204.8L735.2,205.2L735.5,205.6L735.9,206L736.2,206.4L736.6,206.8L736.9,207.2L737.2,207.6L737.6,208L737.9,208.3L738.3,208.7L738.6,209L739,209.3L739.3,209.6L739.7,209.9L740,210.2L740.4,210.5L740.7,210.7L741,211L741.4,211.3L741.7,211.6L742.1,211.8L742.4,212.1L742.8,212.3L743.1,212.6L743.5,212.8L743.8,213L744.1,213.3L744.5,213.5L744.8,213.7L745.2,213.9L745.5,214.2L745.9,214.4L746.2,214.6L746.6,214.8L746.9,215L747.2,215.1L747.6,215.3L747.9,215.5L748.3,215.7L748.6,215.8L749,216L749.3,216.2L749.7,216.3L750,216.5L750.4,216.6L750.7,216.8L751,216.9L751.4,217.1L751.7,217.2L752.1,217.3L752.4,217.5L752.8,217.6L753.1,217.7L753.5,217.9L753.8,218L754.1,218.1L754.5,218.2L754.8,218.4L755.2,218.5L755.5,218.6L755.9,218.7L756.2,218.8L756.6,219L756.9,219.1L757.2,219.2L757.6,219.3L757.9,219.4L758.3,219.6L758.6,219.7L759,219.8L759.3,219.9L759.7,220L760,220.1L760.3,220.2L760.7,220.3L761,220.4L761.4,220.5L761.7,220.7L762.1,220.8L762.4,220.9L762.8,221L763.1,221.1L763.5,221.2L763.8,221.3L764.1,221.4L764.5,221.4L764.8,221.5L765.2,221.6L765.5,221.7L765.9,221.8L766.2,221.9L766.6,222L766.9,222.1L767.2,222.2L767.6,222.3L767.9,222.4L768.3,222.5L768.6,222.6L769,222.7L769.3,222.8L769.7,222.8L770,222.9L770.3,223L770.7,223.1L771,223.2L771.4,223.3L771.7,223.4L772.1,223.5L772.4,223.6L772.8,223.7L773.1,223.8L773.4,223.8L773.8,223.9L774.1,224L774.5,224.1L774.8,224.2L775.2,224.3L775.5,224.4L775.9,224.5L776.2,224.6L776.6,224.7L776.9,224.8L777.2,224.9L777.6,225L777.9,225.1L778.3,225.2L778.6,225.3L779,225.4L779.3,225.5L779.7,225.6L780,225.7L780.3,225.8L780.7,226L781,226.1L781.4,226.2L781.7,226.3L782.1,226.4L782.4,226.5L782.8,226.6L783.1,226.8L783.4,226.9L783.8,227L784.1,227.1L784.5,227.2L784.8,227.4L785.2,227.5L785.5,227.6L785.9,227.7L786.2,227.9L786.5,228L786.9,228.1L787.2,228.2L787.6,228.4L787.9,228.5L788.3,228.6L788.6,228.8L789,228.9L789.3,229L789.7,229.1L790,229.3L790.3,229.4L790.7,229.5L791,229.7L791.4,229.8L791.7,230L792.1,230.1L792.4,230.2L792.8,230.4L793.1,230.5L793.4,230.6L793.8,230.8L794.1,230.9L794.5,231.1L794.8,231.2L795.2,231.4L795.5,231.5L795.9,231.6L796.2,231.8L796.5,231.9L796.9,232.1L797.2,232.2L797.6,232.4L797.9,232.5L798.3,232.7L798.6,232.8L799,233L799.3,233.1L799.6,233.3L800,233.4L800.3,233.6L800.7,233.7L801,233.9L801.4,234L801.7,234.2L802.1,234.3L802.4,234.5L802.8,234.6L803.1,234.8L803.4,235L803.8,235.1L804.1,235.3L804.5,235.4L804.8,235.6L805.2,235.7L805.5,235.9L805.9,236.1L806.2,236.2" fill="none" stroke="#7a5050" stroke-width="1.9" stroke-linejoin="round"/>
<path d="M668.3,169L668.6,169.1L669,169.2L669.3,169.2L669.7,169.3L670,169.4L670.4,169.5L670.7,169.6L671.1,169.7L671.4,169.8L671.7,169.9L672.1,170L672.4,170.1L672.8,170.2L673.1,170.3L673.5,170.5L673.8,170.6L674.2,170.7L674.5,170.8L674.9,170.9L675.2,171L675.5,171.2L675.9,171.3L676.2,171.4L676.6,171.5L676.9,171.7L677.3,171.8L677.6,171.9L678,172.1L678.3,172.2L678.6,172.3L679,172.5L679.3,172.6L679.7,172.8L680,172.9L680.4,173L680.7,173.2L681.1,173.3L681.4,173.5L681.7,173.6L682.1,173.8L682.4,173.9L682.8,174.1L683.1,174.2L683.5,174.4L683.8,174.5L684.2,174.7L684.5,174.8L684.8,175L685.2,175.2L685.5,175.3L685.9,175.5L686.2,175.6L686.6,175.8L686.9,176L687.3,176.2L687.6,176.3L688,176.5L688.3,176.7L688.6,176.9L689,177.1L689.3,177.3L689.7,177.5L690,177.7L690.4,177.9L690.7,178.1L691.1,178.3L691.4,178.5L691.7,178.7L692.1,178.9L692.4,179.1L692.8,179.3L693.1,179.5L693.5,179.7L693.8,180L694.2,180.2L694.5,180.4L694.8,180.6L695.2,180.9L695.5,181.1L695.9,181.3L696.2,181.5L696.6,181.8L696.9,182L697.3,182.2L697.6,182.5L697.9,182.7L698.3,183L698.6,183.2L699,183.4L699.3,183.7L699.7,183.9L700,184.2L700.4,184.4L700.7,184.6L701.1,184.9L701.4,185.1L701.7,185.4L702.1,185.6L702.4,185.8L702.8,186.1L703.1,186.3L703.5,186.6L703.8,186.8L704.2,187.1L704.5,187.3L704.8,187.6L705.2,187.8L705.5,188.1L705.9,188.4L706.2,188.6L706.6,188.9L706.9,189.1L707.3,189.4L707.6,189.7L707.9,189.9L708.3,190.2L708.6,190.5L709,190.7L709.3,191L709.7,191.3L710,191.6L710.4,191.8L710.7,192.1L711,192.4L711.4,192.7L711.7,193L712.1,193.3L712.4,193.5L712.8,193.8L713.1,194.1L713.5,194.4L713.8,194.7L714.2,195L714.5,195.3L714.8,195.6L715.2,195.8L715.5,196.1L715.9,196.4L716.2,196.7L716.6,197L716.9,197.3L717.3,197.6L717.6,197.9L717.9,198.2L718.3,198.5L718.6,198.8L719,199.1L719.3,199.4L719.7,199.7L720,200L720.4,200.3L720.7,200.6L721,200.9L721.4,201.3L721.7,201.6L722.1,201.9L722.4,202.2L722.8,202.5L723.1,202.8L723.5,203.1L723.8,203.4L724.1,203.8L724.5,204.1L724.8,204.4L725.2,204.7L725.5,205.1L725.9,205.4L726.2,205.7L726.6,206.1L726.9,206.4L727.3,206.7L727.6,207.1L727.9,207.4L728.3,207.7L728.6,208.1L729,208.4L729.3,208.8L729.7,209.1L730,209.5L730.4,209.8L730.7,210.2L731,210.6L731.4,211L731.7,211.4L732.1,211.8L732.4,212.2L732.8,212.6L733.1,213L733.5,213.5L733.8,213.9L734.1,214.3L734.5,214.7L734.8,215.2L735.2,215.6L735.5,216L735.9,216.4L736.2,216.8L736.6,217.2L736.9,217.6L737.2,218L737.6,218.3L737.9,218.7L738.3,219L738.6,219.4L739,219.7L739.3,220L739.7,220.3L740,220.5L740.4,220.8L740.7,221.1L741,221.4L741.4,221.7L741.7,221.9L742.1,222.2L742.4,222.4L742.8,222.7L743.1,222.9L743.5,223.2L743.8,223.4L744.1,223.6L744.5,223.9L744.8,224.1L745.2,224.3L745.5,224.5L745.9,224.7L746.2,224.9L746.6,225.1L746.9,225.3L747.2,225.5L747.6,225.7L747.9,225.9L748.3,226L748.6,226.2L749,226.4L749.3,226.5L749.7,226.7L750,226.8L750.4,227L750.7,227.1L751,227.3L751.4,227.4L751.7,227.6L752.1,227.7L752.4,227.8L752.8,228L753.1,228.1L753.5,228.2L753.8,228.4L754.1,228.5L754.5,228.6L754.8,228.7L755.2,228.8L755.5,229L755.9,229.1L756.2,229.2L756.6,229.3L756.9,229.4L757.2,229.6L757.6,229.7L757.9,229.8L758.3,229.9L758.6,230L759,230.2L759.3,230.3L759.7,230.4L760,230.5L760.3,230.6L760.7,230.7L761,230.8L761.4,230.9L761.7,231L762.1,231.1L762.4,231.2L762.8,231.3L763.1,231.4L763.5,231.5L763.8,231.6L764.1,231.7L764.5,231.8L764.8,231.9L765.2,232L765.5,232.1L765.9,232.2L766.2,232.3L766.6,232.4L766.9,232.5L767.2,232.6L767.6,232.7L767.9,232.8L768.3,232.8L768.6,232.9L769,233L769.3,233.1L769.7,233.2L770,233.3L770.3,233.4L770.7,233.5L771,233.6L771.4,233.7L771.7,233.8L772.1,233.8L772.4,233.9L772.8,234L773.1,234.1L773.4,234.2L773.8,234.3L774.1,234.4L774.5,234.5L774.8,234.6L775.2,234.7L775.5,234.8L775.9,234.9L776.2,235L776.6,235.1L776.9,235.2L777.2,235.3L777.6,235.4L777.9,235.5L778.3,235.6L778.6,235.7L779,235.8L779.3,235.9L779.7,236L780,236.1L780.3,236.2L780.7,236.3L781,236.4L781.4,236.5L781.7,236.7L782.1,236.8L782.4,236.9L782.8,237L783.1,237.1L783.4,237.2L783.8,237.4L784.1,237.5L784.5,237.6L784.8,237.7L785.2,237.9L785.5,238L785.9,238.1L786.2,238.2L786.5,238.3L786.9,238.5L787.2,238.6L787.6,238.7L787.9,238.9L788.3,239L788.6,239.1L789,239.3L789.3,239.4L789.7,239.5L790,239.6L790.3,239.8L790.7,239.9L791,240.1L791.4,240.2L791.7,240.3L792.1,240.5L792.4,240.6L792.8,240.7L793.1,240.9L793.4,241L793.8,241.2L794.1,241.3L794.5,241.4L794.8,241.6L795.2,241.7L795.5,241.9L795.9,242L796.2,242.2L796.5,242.3L796.9,242.4L797.2,242.6L797.6,242.7L797.9,242.9L798.3,243L798.6,243.2L799,243.3L799.3,243.5L799.6,243.6L800,243.8L800.3,243.9L800.7,244.1L801,244.2L801.4,244.4L801.7,244.5L802.1,244.7L802.4,244.9L802.8,245L803.1,245.2L803.4,245.3L803.8,245.5L804.1,245.6L804.5,245.8L804.8,246L805.2,246.1L805.5,246.3L805.9,246.4L806.2,246.6" fill="none" stroke="#8c8c14" stroke-width="1.9" stroke-linejoin="round"/>
<path d="M668.3,184.5L668.6,184.6L669,184.7L669.3,184.8L669.7,184.9L670,184.9L670.4,185L670.7,185.1L671.1,185.2L671.4,185.3L671.7,185.4L672.1,185.5L672.4,185.6L672.8,185.8L673.1,185.9L673.5,186L673.8,186.1L674.2,186.2L674.5,186.3L674.9,186.4L675.2,186.6L675.5,186.7L675.9,186.8L676.2,186.9L676.6,187.1L676.9,187.2L677.3,187.3L677.6,187.5L678,187.6L678.3,187.7L678.6,187.9L679,188L679.3,188.1L679.7,188.3L680,188.4L680.4,188.6L680.7,188.7L681.1,188.9L681.4,189L681.7,189.1L682.1,189.3L682.4,189.4L682.8,189.6L683.1,189.7L683.5,189.9L683.8,190.1L684.2,190.2L684.5,190.4L684.8,190.5L685.2,190.7L685.5,190.8L685.9,191L686.2,191.2L686.6,191.3L686.9,191.5L687.3,191.7L687.6,191.9L688,192L688.3,192.2L688.6,192.4L689,192.6L689.3,192.8L689.7,193L690,193.2L690.4,193.4L690.7,193.6L691.1,193.8L691.4,194L691.7,194.2L692.1,194.4L692.4,194.6L692.8,194.8L693.1,195L693.5,195.3L693.8,195.5L694.2,195.7L694.5,195.9L694.8,196.2L695.2,196.4L695.5,196.6L695.9,196.8L696.2,197.1L696.6,197.3L696.9,197.5L697.3,197.8L697.6,198L697.9,198.2L698.3,198.5L698.6,198.7L699,199L699.3,199.2L699.7,199.4L700,199.7L700.4,199.9L700.7,200.2L701.1,200.4L701.4,200.6L701.7,200.9L702.1,201.1L702.4,201.4L702.8,201.6L703.1,201.9L703.5,202.1L703.8,202.3L704.2,202.6L704.5,202.9L704.8,203.1L705.2,203.4L705.5,203.6L705.9,203.9L706.2,204.1L706.6,204.4L706.9,204.7L707.3,204.9L707.6,205.2L707.9,205.5L708.3,205.7L708.6,206L709,206.3L709.3,206.5L709.7,206.8L710,207.1L710.4,207.4L710.7,207.6L711,207.9L711.4,208.2L711.7,208.5L712.1,208.8L712.4,209.1L712.8,209.3L713.1,209.6L713.5,209.9L713.8,210.2L714.2,210.5L714.5,210.8L714.8,211.1L715.2,211.4L715.5,211.7L715.9,212L716.2,212.3L716.6,212.5L716.9,212.8L717.3,213.1L717.6,213.4L717.9,213.7L718.3,214L718.6,214.3L719,214.6L719.3,214.9L719.7,215.2L720,215.5L720.4,215.9L720.7,216.2L721,216.5L721.4,216.8L721.7,217.1L722.1,217.4L722.4,217.7L722.8,218L723.1,218.3L723.5,218.6L723.8,219L724.1,219.3L724.5,219.6L724.8,219.9L725.2,220.3L725.5,220.6L725.9,220.9L726.2,221.2L726.6,221.6L726.9,221.9L727.3,222.2L727.6,222.6L727.9,222.9L728.3,223.3L728.6,223.6L729,224L729.3,224.3L729.7,224.7L730,225L730.4,225.4L730.7,225.7L731,226.1L731.4,226.5L731.7,226.9L732.1,227.3L732.4,227.7L732.8,228.1L733.1,228.5L733.5,229L733.8,229.4L734.1,229.8L734.5,230.3L734.8,230.7L735.2,231.1L735.5,231.5L735.9,231.9L736.2,232.3L736.6,232.7L736.9,233.1L737.2,233.5L737.6,233.9L737.9,234.2L738.3,234.6L738.6,234.9L739,235.2L739.3,235.5L739.7,235.8L740,236.1L740.4,236.3L740.7,236.6L741,236.9L741.4,237.2L741.7,237.4L742.1,237.7L742.4,238L742.8,238.2L743.1,238.5L743.5,238.7L743.8,238.9L744.1,239.2L744.5,239.4L744.8,239.6L745.2,239.8L745.5,240L745.9,240.3L746.2,240.5L746.6,240.7L746.9,240.8L747.2,241L747.6,241.2L747.9,241.4L748.3,241.6L748.6,241.7L749,241.9L749.3,242L749.7,242.2L750,242.4L750.4,242.5L750.7,242.7L751,242.8L751.4,242.9L751.7,243.1L752.1,243.2L752.4,243.4L752.8,243.5L753.1,243.6L753.5,243.7L753.8,243.9L754.1,244L754.5,244.1L754.8,244.2L755.2,244.4L755.5,244.5L755.9,244.6L756.2,244.7L756.6,244.9L756.9,245L757.2,245.1L757.6,245.2L757.9,245.3L758.3,245.4L758.6,245.6L759,245.7L759.3,245.8L759.7,245.9L760,246L760.3,246.1L760.7,246.2L761,246.3L761.4,246.4L761.7,246.5L762.1,246.6L762.4,246.7L762.8,246.8L763.1,246.9L763.5,247L763.8,247.1L764.1,247.2L764.5,247.3L764.8,247.4L765.2,247.5L765.5,247.6L765.9,247.7L766.2,247.8L766.6,247.9L766.9,248L767.2,248.1L767.6,248.2L767.9,248.3L768.3,248.4L768.6,248.5L769,248.5L769.3,248.6L769.7,248.7L770,248.8L770.3,248.9L770.7,249L771,249.1L771.4,249.2L771.7,249.3L772.1,249.4L772.4,249.5L772.8,249.5L773.1,249.6L773.4,249.7L773.8,249.8L774.1,249.9L774.5,250L774.8,250.1L775.2,250.2L775.5,250.3L775.9,250.4L776.2,250.5L776.6,250.6L776.9,250.7L777.2,250.8L777.6,250.9L777.9,251L778.3,251.1L778.6,251.2L779,251.3L779.3,251.4L779.7,251.5L780,251.6L780.3,251.7L780.7,251.8L781,251.9L781.4,252.1L781.7,252.2L782.1,252.3L782.4,252.4L782.8,252.5L783.1,252.6L783.4,252.8L783.8,252.9L784.1,253L784.5,253.1L784.8,253.2L785.2,253.4L785.5,253.5L785.9,253.6L786.2,253.7L786.5,253.9L786.9,254L787.2,254.1L787.6,254.3L787.9,254.4L788.3,254.5L788.6,254.6L789,254.8L789.3,254.9L789.7,255L790,255.2L790.3,255.3L790.7,255.4L791,255.6L791.4,255.7L791.7,255.8L792.1,256L792.4,256.1L792.8,256.3L793.1,256.4L793.4,256.5L793.8,256.7L794.1,256.8L794.5,257L794.8,257.1L795.2,257.2L795.5,257.4L795.9,257.5L796.2,257.7L796.5,257.8L796.9,258L797.2,258.1L797.6,258.3L797.9,258.4L798.3,258.6L798.6,258.7L799,258.9L799.3,259L799.6,259.2L800,259.3L800.3,259.5L800.7,259.6L801,259.8L801.4,259.9L801.7,260.1L802.1,260.2L802.4,260.4L802.8,260.5L803.1,260.7L803.4,260.8L803.8,261L804.1,261.2L804.5,261.3L804.8,261.5L805.2,261.6L805.5,261.8L805.9,262L806.2,262.1" fill="none" stroke="#f03a3a" stroke-width="1.9" stroke-linejoin="round"/>
<path d="M668.3,202.7L668.6,202.8L669,202.9L669.3,202.9L669.7,203L670,203.1L670.4,203.2L670.7,203.3L671.1,203.4L671.4,203.5L671.7,203.6L672.1,203.7L672.4,203.8L672.8,203.9L673.1,204L673.5,204.1L673.8,204.3L674.2,204.4L674.5,204.5L674.9,204.6L675.2,204.7L675.5,204.8L675.9,205L676.2,205.1L676.6,205.2L676.9,205.3L677.3,205.5L677.6,205.6L678,205.7L678.3,205.9L678.6,206L679,206.1L679.3,206.3L679.7,206.4L680,206.6L680.4,206.7L680.7,206.8L681.1,207L681.4,207.1L681.7,207.3L682.1,207.4L682.4,207.6L682.8,207.7L683.1,207.9L683.5,208L683.8,208.2L684.2,208.3L684.5,208.5L684.8,208.6L685.2,208.8L685.5,209L685.9,209.1L686.2,209.3L686.6,209.4L686.9,209.6L687.3,209.8L687.6,210L688,210.1L688.3,210.3L688.6,210.5L689,210.7L689.3,210.9L689.7,211.1L690,211.3L690.4,211.5L690.7,211.7L691.1,211.9L691.4,212.1L691.7,212.3L692.1,212.5L692.4,212.7L692.8,212.9L693.1,213.1L693.5,213.3L693.8,213.6L694.2,213.8L694.5,214L694.8,214.2L695.2,214.4L695.5,214.7L695.9,214.9L696.2,215.1L696.6,215.4L696.9,215.6L697.3,215.8L697.6,216.1L697.9,216.3L698.3,216.5L698.6,216.8L699,217L699.3,217.2L699.7,217.5L700,217.7L700.4,218L700.7,218.2L701.1,218.4L701.4,218.7L701.7,218.9L702.1,219.2L702.4,219.4L702.8,219.6L703.1,219.9L703.5,220.1L703.8,220.4L704.2,220.6L704.5,220.9L704.8,221.1L705.2,221.4L705.5,221.6L705.9,221.9L706.2,222.2L706.6,222.4L706.9,222.7L707.3,222.9L707.6,223.2L707.9,223.5L708.3,223.7L708.6,224L709,224.3L709.3,224.5L709.7,224.8L710,225.1L710.4,225.4L710.7,225.6L711,225.9L711.4,226.2L711.7,226.5L712.1,226.8L712.4,227.1L712.8,227.3L713.1,227.6L713.5,227.9L713.8,228.2L714.2,228.5L714.5,228.8L714.8,229.1L715.2,229.4L715.5,229.6L715.9,229.9L716.2,230.2L716.6,230.5L716.9,230.8L717.3,231.1L717.6,231.4L717.9,231.7L718.3,232L718.6,232.3L719,232.6L719.3,232.9L719.7,233.2L720,233.5L720.4,233.8L720.7,234.1L721,234.4L721.4,234.7L721.7,235L722.1,235.3L722.4,235.7L722.8,236L723.1,236.3L723.5,236.6L723.8,236.9L724.1,237.2L724.5,237.6L724.8,237.9L725.2,238.2L725.5,238.5L725.9,238.8L726.2,239.2L726.6,239.5L726.9,239.8L727.3,240.2L727.6,240.5L727.9,240.9L728.3,241.2L728.6,241.5L729,241.9L729.3,242.2L729.7,242.6L730,242.9L730.4,243.3L730.7,243.7L731,244L731.4,244.4L731.7,244.8L732.1,245.2L732.4,245.6L732.8,246L733.1,246.5L733.5,246.9L733.8,247.3L734.1,247.7L734.5,248.2L734.8,248.6L735.2,249L735.5,249.4L735.9,249.8L736.2,250.2L736.6,250.6L736.9,251L737.2,251.4L737.6,251.8L737.9,252.1L738.3,252.4L738.6,252.8L739,253.1L739.3,253.4L739.7,253.7L740,253.9L740.4,254.2L740.7,254.5L741,254.8L741.4,255L741.7,255.3L742.1,255.6L742.4,255.8L742.8,256.1L743.1,256.3L743.5,256.6L743.8,256.8L744.1,257L744.5,257.3L744.8,257.5L745.2,257.7L745.5,257.9L745.9,258.1L746.2,258.3L746.6,258.5L746.9,258.7L747.2,258.9L747.6,259.1L747.9,259.2L748.3,259.4L748.6,259.6L749,259.7L749.3,259.9L749.7,260L750,260.2L750.4,260.3L750.7,260.5L751,260.6L751.4,260.8L751.7,260.9L752.1,261L752.4,261.2L752.8,261.3L753.1,261.4L753.5,261.6L753.8,261.7L754.1,261.8L754.5,261.9L754.8,262.1L755.2,262.2L755.5,262.3L755.9,262.4L756.2,262.5L756.6,262.7L756.9,262.8L757.2,262.9L757.6,263L757.9,263.1L758.3,263.2L758.6,263.4L759,263.5L759.3,263.6L759.7,263.7L760,263.8L760.3,263.9L760.7,264L761,264.1L761.4,264.2L761.7,264.3L762.1,264.4L762.4,264.5L762.8,264.6L763.1,264.7L763.5,264.8L763.8,264.9L764.1,265L764.5,265.1L764.8,265.2L765.2,265.3L765.5,265.4L765.9,265.5L766.2,265.6L766.6,265.7L766.9,265.8L767.2,265.9L767.6,265.9L767.9,266L768.3,266.1L768.6,266.2L769,266.3L769.3,266.4L769.7,266.5L770,266.6L770.3,266.7L770.7,266.8L771,266.8L771.4,266.9L771.7,267L772.1,267.1L772.4,267.2L772.8,267.3L773.1,267.4L773.4,267.5L773.8,267.6L774.1,267.7L774.5,267.7L774.8,267.8L775.2,267.9L775.5,268L775.9,268.1L776.2,268.2L776.6,268.3L776.9,268.4L777.2,268.5L777.6,268.6L777.9,268.7L778.3,268.8L778.6,268.9L779,269L779.3,269.1L779.7,269.2L780,269.3L780.3,269.4L780.7,269.5L781,269.7L781.4,269.8L781.7,269.9L782.1,270L782.4,270.1L782.8,270.2L783.1,270.3L783.4,270.5L783.8,270.6L784.1,270.7L784.5,270.8L784.8,270.9L785.2,271.1L785.5,271.2L785.9,271.3L786.2,271.4L786.5,271.6L786.9,271.7L787.2,271.8L787.6,271.9L787.9,272.1L788.3,272.2L788.6,272.3L789,272.4L789.3,272.6L789.7,272.7L790,272.8L790.3,273L790.7,273.1L791,273.2L791.4,273.4L791.7,273.5L792.1,273.6L792.4,273.8L792.8,273.9L793.1,274.1L793.4,274.2L793.8,274.3L794.1,274.5L794.1,160.4L794.1,160.4L794.5,160.6L794.8,160.7L795.2,160.9L795.5,161L795.9,161.2L796.2,161.3L796.5,161.4L796.9,161.6L797.2,161.7L797.6,161.9L797.9,162L798.3,162.2L798.6,162.3L799,162.5L799.3,162.6L799.6,162.8L800,162.9L800.3,163.1L800.7,163.2L801,163.4L801.4,163.5L801.7,163.7L802.1,163.8L802.4,164L802.8,164.2L803.1,164.3L803.4,164.5L803.8,164.6L804.1,164.8L804.5,164.9L804.8,165.1L805.2,165.3L805.5,165.4L805.9,165.6L806.2,165.7" fill="none" stroke="#1c64e6" stroke-width="1.9" stroke-linejoin="round"/>
<path d="M668.3,215L668.6,215.1L669,215.1L669.3,215.2L669.7,215.3L670,215.4L670.4,215.5L670.7,215.6L671.1,215.7L671.4,215.8L671.7,215.9L672.1,216L672.4,216.1L672.8,216.2L673.1,216.3L673.5,216.4L673.8,216.5L674.2,216.6L674.5,216.7L674.9,216.8L675.2,216.9L675.5,217.1L675.9,217.2L676.2,217.3L676.6,217.4L676.9,217.5L677.3,217.7L677.6,217.8L678,217.9L678.3,218.1L678.6,218.2L679,218.3L679.3,218.5L679.7,218.6L680,218.7L680.4,218.9L680.7,219L681.1,219.1L681.4,219.3L681.7,219.4L682.1,219.6L682.4,219.7L682.8,219.9L683.1,220L683.5,220.2L683.8,220.3L684.2,220.5L684.5,220.6L684.8,220.8L685.2,220.9L685.5,221.1L685.9,221.2L686.2,221.4L686.6,221.6L686.9,221.7L687.3,221.9L687.6,222.1L688,222.2L688.3,222.4L688.6,222.6L689,222.8L689.3,223L689.7,223.2L690,223.4L690.4,223.5L690.7,223.7L691.1,223.9L691.4,224.1L691.7,224.3L692.1,224.6L692.4,224.8L692.8,225L693.1,225.2L693.5,225.4L693.8,225.6L694.2,225.8L694.5,226L694.8,226.3L695.2,226.5L695.5,226.7L695.9,226.9L696.2,227.2L696.6,227.4L696.9,227.6L697.3,227.8L697.6,228.1L697.9,228.3L698.3,228.5L698.6,228.8L699,229L699.3,229.2L699.7,229.5L700,229.7L700.4,230L700.7,230.2L701.1,230.4L701.4,230.7L701.7,230.9L702.1,231.1L702.4,231.4L702.8,231.6L703.1,231.9L703.5,232.1L703.8,232.3L704.2,232.6L704.5,232.8L704.8,233.1L705.2,233.3L705.5,233.6L705.9,233.8L706.2,234.1L706.6,234.3L706.9,234.6L707.3,234.9L707.6,235.1L707.9,235.4L708.3,235.7L708.6,235.9L709,236.2L709.3,236.5L709.7,236.7L710,237L710.4,237.3L710.7,237.5L711,237.8L711.4,238.1L711.7,238.4L712.1,238.6L712.4,238.9L712.8,239.2L713.1,239.5L713.5,239.8L713.8,240.1L714.2,240.3L714.5,240.6L714.8,240.9L715.2,241.2L715.5,241.5L715.9,241.8L716.2,242.1L716.6,242.4L716.9,242.7L717.3,243L717.6,243.2L717.9,243.5L718.3,243.8L718.6,244.1L719,244.4L719.3,244.7L719.7,245L720,245.3L720.4,245.6L720.7,245.9L721,246.2L721.4,246.5L721.7,246.8L722.1,247.1L722.4,247.4L722.8,247.7L723.1,248.1L723.5,248.4L723.8,248.7L724.1,249L724.5,249.3L724.8,249.6L725.2,250L725.5,250.3L725.9,250.6L726.2,250.9L726.6,251.3L726.9,251.6L727.3,251.9L727.6,252.2L727.9,252.6L728.3,252.9L728.6,253.3L729,253.6L729.3,254L729.7,254.3L730,254.6L730.4,255L730.7,255.4L731,255.7L731.4,256.1L731.7,256.5L732.1,256.9L732.4,257.3L732.8,257.7L733.1,258.1L733.5,258.6L733.8,259L734.1,259.4L734.5,259.8L734.8,260.2L735.2,260.7L735.5,261.1L735.9,261.5L736.2,261.9L736.6,262.3L736.9,262.7L737.2,263L737.6,263.4L737.9,263.7L738.3,264.1L738.6,264.4L739,264.7L739.3,265L739.7,265.3L740,265.6L740.4,265.8L740.7,266.1L741,266.4L741.4,266.7L741.7,266.9L742.1,267.2L742.4,267.4L742.8,267.7L743.1,267.9L743.5,268.2L743.8,268.4L744.1,268.6L744.5,268.8L744.8,269.1L745.2,269.3L745.5,269.5L745.9,269.7L746.2,269.9L746.6,270.1L746.9,270.2L747.2,270.4L747.6,270.6L747.9,270.8L748.3,270.9L748.6,271.1L749,271.3L749.3,271.4L749.7,271.6L750,271.7L750.4,271.9L750.7,272L751,272.1L751.4,272.3L751.7,272.4L752.1,272.6L752.4,272.7L752.8,272.8L753.1,272.9L753.5,273.1L753.8,273.2L754.1,273.3L754.5,273.4L754.8,273.5L755.2,273.7L755.5,273.8L755.9,273.9L756.2,274L756.6,274.1L756.9,274.2L757.2,274.4L757.6,274.5L757.6,160.4L757.6,160.4L757.9,160.6L758.3,160.7L758.6,160.8L759,160.9L759.3,161L759.7,161.1L760,161.2L760.3,161.3L760.7,161.5L761,161.6L761.4,161.7L761.7,161.8L762.1,161.9L762.4,162L762.8,162.1L763.1,162.2L763.5,162.3L763.8,162.4L764.1,162.5L764.5,162.6L764.8,162.7L765.2,162.8L765.5,162.9L765.9,163L766.2,163L766.6,163.1L766.9,163.2L767.2,163.3L767.6,163.4L767.9,163.5L768.3,163.6L768.6,163.7L769,163.8L769.3,163.9L769.7,164L770,164.1L770.3,164.1L770.7,164.2L771,164.3L771.4,164.4L771.7,164.5L772.1,164.6L772.4,164.7L772.8,164.8L773.1,164.9L773.4,165L773.8,165.1L774.1,165.2L774.5,165.2L774.8,165.3L775.2,165.4L775.5,165.5L775.9,165.6L776.2,165.7L776.6,165.8L776.9,165.9L777.2,166L777.6,166.1L777.9,166.2L778.3,166.3L778.6,166.4L779,166.5L779.3,166.6L779.7,166.7L780,166.9L780.3,167L780.7,167.1L781,167.2L781.4,167.3L781.7,167.4L782.1,167.5L782.4,167.6L782.8,167.8L783.1,167.9L783.4,168L783.8,168.1L784.1,168.2L784.5,168.4L784.8,168.5L785.2,168.6L785.5,168.7L785.9,168.9L786.2,169L786.5,169.1L786.9,169.2L787.2,169.4L787.6,169.5L787.9,169.6L788.3,169.7L788.6,169.9L789,170L789.3,170.1L789.7,170.3L790,170.4L790.3,170.5L790.7,170.7L791,170.8L791.4,170.9L791.7,171.1L792.1,171.2L792.4,171.3L792.8,171.5L793.1,171.6L793.4,171.8L793.8,171.9L794.1,172L794.5,172.2L794.8,172.3L795.2,172.5L795.5,172.6L795.9,172.8L796.2,172.9L796.5,173.1L796.9,173.2L797.2,173.3L797.6,173.5L797.9,173.6L798.3,173.8L798.6,173.9L799,174.1L799.3,174.2L799.6,174.4L800,174.5L800.3,174.7L800.7,174.8L801,175L801.4,175.1L801.7,175.3L802.1,175.5L802.4,175.6L802.8,175.8L803.1,175.9L803.4,176.1L803.8,176.2L804.1,176.4L804.5,176.5L804.8,176.7L805.2,176.9L805.5,177L805.9,177.2L806.2,177.3" fill="none" stroke="#2e9e5c" stroke-width="1.9" stroke-linejoin="round"/>
<path d="M668.3,226.5L668.6,226.5L669,226.6L669.3,226.7L669.7,226.8L670,226.9L670.4,226.9L670.7,227L671.1,227.1L671.4,227.2L671.7,227.3L672.1,227.4L672.4,227.5L672.8,227.6L673.1,227.7L673.5,227.8L673.8,227.9L674.2,228L674.5,228.1L674.9,228.2L675.2,228.3L675.5,228.4L675.9,228.5L676.2,228.6L676.6,228.7L676.9,228.8L677.3,229L677.6,229.1L678,229.2L678.3,229.3L678.6,229.4L679,229.6L679.3,229.7L679.7,229.8L680,229.9L680.4,230.1L680.7,230.2L681.1,230.3L681.4,230.5L681.7,230.6L682.1,230.7L682.4,230.9L682.8,231L683.1,231.2L683.5,231.3L683.8,231.4L684.2,231.6L684.5,231.7L684.8,231.9L685.2,232L685.5,232.2L685.9,232.3L686.2,232.5L686.6,232.6L686.9,232.8L687.3,232.9L687.6,233.1L688,233.3L688.3,233.4L688.6,233.6L689,233.8L689.3,234L689.7,234.1L690,234.3L690.4,234.5L690.7,234.7L691.1,234.9L691.4,235.1L691.7,235.3L692.1,235.5L692.4,235.7L692.8,235.9L693.1,236.1L693.5,236.3L693.8,236.5L694.2,236.7L694.5,236.9L694.8,237.1L695.2,237.3L695.5,237.5L695.9,237.8L696.2,238L696.6,238.2L696.9,238.4L697.3,238.6L697.6,238.9L697.9,239.1L698.3,239.3L698.6,239.5L699,239.8L699.3,240L699.7,240.2L700,240.4L700.4,240.7L700.7,240.9L701.1,241.1L701.4,241.4L701.7,241.6L702.1,241.8L702.4,242L702.8,242.3L703.1,242.5L703.5,242.7L703.8,243L704.2,243.2L704.5,243.4L704.8,243.7L705.2,243.9L705.5,244.2L705.9,244.4L706.2,244.7L706.6,244.9L706.9,245.2L707.3,245.4L707.6,245.7L707.9,245.9L708.3,246.2L708.6,246.4L709,246.7L709.3,246.9L709.7,247.2L710,247.5L710.4,247.7L710.7,248L711,248.3L711.4,248.5L711.7,248.8L712.1,249.1L712.4,249.3L712.8,249.6L713.1,249.9L713.5,250.2L713.8,250.4L714.2,250.7L714.5,251L714.8,251.3L715.2,251.6L715.5,251.8L715.9,252.1L716.2,252.4L716.6,252.7L716.9,253L717.3,253.3L717.6,253.5L717.9,253.8L718.3,254.1L718.6,254.4L719,254.7L719.3,255L719.7,255.3L720,255.6L720.4,255.8L720.7,256.1L721,256.4L721.4,256.7L721.7,257L722.1,257.3L722.4,257.6L722.8,257.9L723.1,258.2L723.5,258.5L723.8,258.8L724.1,259.1L724.5,259.4L724.8,259.7L725.2,260.1L725.5,260.4L725.9,260.7L726.2,261L726.6,261.3L726.9,261.6L727.3,262L727.6,262.3L727.9,262.6L728.3,263L728.6,263.3L729,263.6L729.3,264L729.7,264.3L730,264.6L730.4,265L730.7,265.3L731,265.7L731.4,266.1L731.7,266.4L732.1,266.8L732.4,267.2L732.8,267.6L733.1,268L733.5,268.5L733.8,268.9L734.1,269.3L734.5,269.7L734.8,270.1L735.2,270.5L735.5,270.9L735.9,271.3L736.2,271.7L736.6,272.1L736.9,272.5L737.2,272.8L737.6,273.2L737.9,273.5L738.3,273.9L738.6,274.2L739,274.5L739,160.4L739,160.4L739.3,160.7L739.7,161L740,161.3L740.4,161.6L740.7,161.9L741,162.2L741.4,162.4L741.7,162.7L742.1,163L742.4,163.2L742.8,163.5L743.1,163.7L743.5,163.9L743.8,164.2L744.1,164.4L744.5,164.6L744.8,164.9L745.2,165.1L745.5,165.3L745.9,165.5L746.2,165.7L746.6,165.9L746.9,166.1L747.2,166.3L747.6,166.5L747.9,166.6L748.3,166.8L748.6,167L749,167.1L749.3,167.3L749.7,167.4L750,167.6L750.4,167.8L750.7,167.9L751,168L751.4,168.2L751.7,168.3L752.1,168.5L752.4,168.6L752.8,168.7L753.1,168.9L753.5,169L753.8,169.1L754.1,169.2L754.5,169.4L754.8,169.5L755.2,169.6L755.5,169.7L755.9,169.9L756.2,170L756.6,170.1L756.9,170.2L757.2,170.3L757.6,170.5L757.9,170.6L758.3,170.7L758.6,170.8L759,170.9L759.3,171L759.7,171.1L760,171.3L760.3,171.4L760.7,171.5L761,171.6L761.4,171.7L761.7,171.8L762.1,171.9L762.4,172L762.8,172.1L763.1,172.2L763.5,172.3L763.8,172.4L764.1,172.5L764.5,172.6L764.8,172.7L765.2,172.8L765.5,172.9L765.9,173L766.2,173.1L766.6,173.2L766.9,173.2L767.2,173.3L767.6,173.4L767.9,173.5L768.3,173.6L768.6,173.7L769,173.8L769.3,173.9L769.7,174L770,174.1L770.3,174.2L770.7,174.3L771,174.3L771.4,174.4L771.7,174.5L772.1,174.6L772.4,174.7L772.8,174.8L773.1,174.9L773.4,175L773.8,175.1L774.1,175.2L774.5,175.3L774.8,175.4L775.2,175.5L775.5,175.5L775.9,175.6L776.2,175.7L776.6,175.8L776.9,175.9L777.2,176L777.6,176.1L777.9,176.2L778.3,176.3L778.6,176.4L779,176.5L779.3,176.7L779.7,176.8L780,176.9L780.3,177L780.7,177.1L781,177.2L781.4,177.3L781.7,177.4L782.1,177.5L782.4,177.7L782.8,177.8L783.1,177.9L783.4,178L783.8,178.1L784.1,178.3L784.5,178.4L784.8,178.5L785.2,178.6L785.5,178.7L785.9,178.9L786.2,179L786.5,179.1L786.9,179.2L787.2,179.4L787.6,179.5L787.9,179.6L788.3,179.8L788.6,179.9L789,180L789.3,180.2L789.7,180.3L790,180.4L790.3,180.6L790.7,180.7L791,180.8L791.4,181L791.7,181.1L792.1,181.2L792.4,181.4L792.8,181.5L793.1,181.6L793.4,181.8L793.8,181.9L794.1,182.1L794.5,182.2L794.8,182.3L795.2,182.5L795.5,182.6L795.9,182.8L796.2,182.9L796.5,183.1L796.9,183.2L797.2,183.4L797.6,183.5L797.9,183.7L798.3,183.8L798.6,184L799,184.1L799.3,184.3L799.6,184.4L800,184.6L800.3,184.7L800.7,184.9L801,185L801.4,185.2L801.7,185.3L802.1,185.5L802.4,185.6L802.8,185.8L803.1,185.9L803.4,186.1L803.8,186.2L804.1,186.4L804.5,186.6L804.8,186.7L805.2,186.9L805.5,187L805.9,187.2L806.2,187.4" fill="none" stroke="#a77ee0" stroke-width="1.9" stroke-linejoin="round"/>
<path d="M668.3,240.5L668.6,240.6L669,240.7L669.3,240.7L669.7,240.8L670,240.9L670.4,241L670.7,241.1L671.1,241.2L671.4,241.3L671.7,241.4L672.1,241.6L672.4,241.7L672.8,241.8L673.1,241.9L673.5,242L673.8,242.1L674.2,242.2L674.5,242.4L674.9,242.5L675.2,242.6L675.5,242.7L675.9,242.9L676.2,243L676.6,243.1L676.9,243.3L677.3,243.4L677.6,243.5L678,243.7L678.3,243.8L678.6,244L679,244.1L679.3,244.2L679.7,244.4L680,244.5L680.4,244.7L680.7,244.8L681.1,245L681.4,245.1L681.7,245.3L682.1,245.4L682.4,245.6L682.8,245.7L683.1,245.9L683.5,246.1L683.8,246.2L684.2,246.4L684.5,246.5L684.8,246.7L685.2,246.9L685.5,247L685.9,247.2L686.2,247.3L686.6,247.5L686.9,247.7L687.3,247.9L687.6,248.1L688,248.2L688.3,248.4L688.6,248.6L689,248.8L689.3,249L689.7,249.2L690,249.4L690.4,249.6L690.7,249.8L691.1,250L691.4,250.2L691.7,250.4L692.1,250.7L692.4,250.9L692.8,251.1L693.1,251.3L693.5,251.5L693.8,251.8L694.2,252L694.5,252.2L694.8,252.4L695.2,252.7L695.5,252.9L695.9,253.1L696.2,253.4L696.6,253.6L696.9,253.8L697.3,254.1L697.6,254.3L697.9,254.6L698.3,254.8L698.6,255L699,255.3L699.3,255.5L699.7,255.8L700,256L700.4,256.3L700.7,256.5L701.1,256.8L701.4,257L701.7,257.2L702.1,257.5L702.4,257.7L702.8,258L703.1,258.2L703.5,258.5L703.8,258.7L704.2,259L704.5,259.2L704.8,259.5L705.2,259.8L705.5,260L705.9,260.3L706.2,260.5L706.6,260.8L706.9,261.1L707.3,261.3L707.6,261.6L707.9,261.9L708.3,262.2L708.6,262.4L709,262.7L709.3,263L709.7,263.3L710,263.5L710.4,263.8L710.7,264.1L711,264.4L711.4,264.7L711.7,265L712.1,265.3L712.4,265.5L712.8,265.8L713.1,266.1L713.5,266.4L713.8,266.7L714.2,267L714.5,267.3L714.8,267.6L715.2,267.9L715.5,268.2L715.9,268.5L716.2,268.8L716.6,269.1L716.9,269.4L717.3,269.7L717.6,270L717.9,270.3L718.3,270.6L718.6,270.9L719,271.2L719.3,271.5L719.7,271.8L720,272.1L720.4,272.4L720.7,272.7L721,273.1L721.4,273.4L721.7,273.7L722.1,274L722.4,274.3L722.8,274.5L722.8,160.4L722.8,160.6L723.1,160.9L723.5,161.2L723.8,161.5L724.1,161.9L724.5,162.2L724.8,162.5L725.2,162.8L725.5,163.2L725.9,163.5L726.2,163.8L726.6,164.2L726.9,164.5L727.3,164.8L727.6,165.2L727.9,165.5L728.3,165.8L728.6,166.2L729,166.5L729.3,166.9L729.7,167.2L730,167.6L730.4,167.9L730.7,168.3L731,168.7L731.4,169.1L731.7,169.5L732.1,169.9L732.4,170.3L732.8,170.7L733.1,171.1L733.5,171.6L733.8,172L734.1,172.4L734.5,172.8L734.8,173.3L735.2,173.7L735.5,174.1L735.9,174.5L736.2,174.9L736.6,175.3L736.9,175.7L737.2,176.1L737.6,176.4L737.9,176.8L738.3,177.1L738.6,177.5L739,177.8L739.3,178.1L739.7,178.4L740,178.6L740.4,178.9L740.7,179.2L741,179.5L741.4,179.8L741.7,180L742.1,180.3L742.4,180.5L742.8,180.8L743.1,181L743.5,181.3L743.8,181.5L744.1,181.7L744.5,182L744.8,182.2L745.2,182.4L745.5,182.6L745.9,182.8L746.2,183L746.6,183.2L746.9,183.4L747.2,183.6L747.6,183.8L747.9,184L748.3,184.1L748.6,184.3L749,184.5L749.3,184.6L749.7,184.8L750,184.9L750.4,185.1L750.7,185.2L751,185.4L751.4,185.5L751.7,185.7L752.1,185.8L752.4,185.9L752.8,186.1L753.1,186.2L753.5,186.3L753.8,186.5L754.1,186.6L754.5,186.7L754.8,186.8L755.2,186.9L755.5,187.1L755.9,187.2L756.2,187.3L756.6,187.4L756.9,187.5L757.2,187.7L757.6,187.8L757.9,187.9L758.3,188L758.6,188.1L759,188.3L759.3,188.4L759.7,188.5L760,188.6L760.3,188.7L760.7,188.8L761,188.9L761.4,189L761.7,189.1L762.1,189.2L762.4,189.3L762.8,189.4L763.1,189.5L763.5,189.6L763.8,189.7L764.1,189.8L764.5,189.9L764.8,190L765.2,190.1L765.5,190.2L765.9,190.3L766.2,190.4L766.6,190.5L766.9,190.6L767.2,190.7L767.6,190.8L767.9,190.9L768.3,190.9L768.6,191L769,191.1L769.3,191.2L769.7,191.3L770,191.4L770.3,191.5L770.7,191.6L771,191.7L771.4,191.8L771.7,191.9L772.1,191.9L772.4,192L772.8,192.1L773.1,192.2L773.4,192.3L773.8,192.4L774.1,192.5L774.5,192.6L774.8,192.7L775.2,192.8L775.5,192.9L775.9,193L776.2,193.1L776.6,193.2L776.9,193.3L777.2,193.4L777.6,193.5L777.9,193.6L778.3,193.7L778.6,193.8L779,193.9L779.3,194L779.7,194.1L780,194.2L780.3,194.3L780.7,194.4L781,194.5L781.4,194.6L781.7,194.8L782.1,194.9L782.4,195L782.8,195.1L783.1,195.2L783.4,195.3L783.8,195.5L784.1,195.6L784.5,195.7L784.8,195.8L785.2,196L785.5,196.1L785.9,196.2L786.2,196.3L786.5,196.4L786.9,196.6L787.2,196.7L787.6,196.8L787.9,197L788.3,197.1L788.6,197.2L789,197.4L789.3,197.5L789.7,197.6L790,197.7L790.3,197.9L790.7,198L791,198.2L791.4,198.3L791.7,198.4L792.1,198.6L792.4,198.7L792.8,198.8L793.1,199L793.4,199.1L793.8,199.3L794.1,199.4L794.5,199.5L794.8,199.7L795.2,199.8L795.5,200L795.9,200.1L796.2,200.3L796.5,200.4L796.9,200.5L797.2,200.7L797.6,200.8L797.9,201L798.3,201.1L798.6,201.3L799,201.4L799.3,201.6L799.6,201.7L800,201.9L800.3,202L800.7,202.2L801,202.3L801.4,202.5L801.7,202.6L802.1,202.8L802.4,203L802.8,203.1L803.1,203.3L803.4,203.4L803.8,203.6L804.1,203.7L804.5,203.9L804.8,204.1L805.2,204.2L805.5,204.4L805.9,204.5L806.2,204.7" fill="none" stroke="#d49a0a" stroke-width="1.9" stroke-linejoin="round"/>
<path d="M668.3,259.4L668.6,259.5L669,259.6L669.3,259.8L669.7,259.9L670,260.1L670.4,260.2L670.7,260.4L671.1,260.5L671.4,260.7L671.7,260.8L672.1,261L672.4,261.1L672.8,261.3L673.1,261.4L673.5,261.6L673.8,261.8L674.2,261.9L674.5,262.1L674.9,262.3L675.2,262.5L675.5,262.6L675.9,262.8L676.2,263L676.6,263.2L676.9,263.3L677.3,263.5L677.6,263.7L678,263.9L678.3,264.1L678.6,264.3L679,264.5L679.3,264.7L679.7,264.8L680,265L680.4,265.2L680.7,265.4L681.1,265.6L681.4,265.8L681.7,266L682.1,266.2L682.4,266.4L682.8,266.6L683.1,266.8L683.5,267L683.8,267.3L684.2,267.5L684.5,267.7L684.8,267.9L685.2,268.1L685.5,268.3L685.9,268.5L686.2,268.7L686.6,269L686.9,269.2L687.3,269.4L687.6,269.6L688,269.9L688.3,270.1L688.6,270.3L689,270.6L689.3,270.8L689.7,271.1L690,271.3L690.4,271.6L690.7,271.8L691.1,272.1L691.4,272.3L691.7,272.6L692.1,272.9L692.4,273.1L692.8,273.4L693.1,273.7L693.5,273.9L693.8,274.2L694.2,274.5L694.2,160.4L694.2,160.4L694.5,160.7L694.8,160.9L695.2,161.1L695.5,161.3L695.9,161.6L696.2,161.8L696.6,162L696.9,162.3L697.3,162.5L697.6,162.7L697.9,163L698.3,163.2L698.6,163.4L699,163.7L699.3,163.9L699.7,164.2L700,164.4L700.4,164.6L700.7,164.9L701.1,165.1L701.4,165.4L701.7,165.6L702.1,165.9L702.4,166.1L702.8,166.3L703.1,166.6L703.5,166.8L703.8,167.1L704.2,167.3L704.5,167.6L704.8,167.8L705.2,168.1L705.5,168.3L705.9,168.6L706.2,168.9L706.6,169.1L706.9,169.4L707.3,169.7L707.6,169.9L707.9,170.2L708.3,170.5L708.6,170.7L709,171L709.3,171.3L709.7,171.5L710,171.8L710.4,172.1L710.7,172.4L711,172.7L711.4,172.9L711.7,173.2L712.1,173.5L712.4,173.8L712.8,174.1L713.1,174.4L713.5,174.6L713.8,174.9L714.2,175.2L714.5,175.5L714.8,175.8L715.2,176.1L715.5,176.4L715.9,176.7L716.2,177L716.6,177.3L716.9,177.6L717.3,177.9L717.6,178.2L717.9,178.5L718.3,178.8L718.6,179.1L719,179.4L719.3,179.7L719.7,180L720,180.3L720.4,180.6L720.7,180.9L721,181.2L721.4,181.5L721.7,181.8L722.1,182.1L722.4,182.4L722.8,182.7L723.1,183.1L723.5,183.4L723.8,183.7L724.1,184L724.5,184.3L724.8,184.7L725.2,185L725.5,185.3L725.9,185.6L726.2,186L726.6,186.3L726.9,186.6L727.3,187L727.6,187.3L727.9,187.7L728.3,188L728.6,188.3L729,188.7L729.3,189L729.7,189.4L730,189.7L730.4,190.1L730.7,190.5L731,190.8L731.4,191.2L731.7,191.6L732.1,192L732.4,192.4L732.8,192.9L733.1,193.3L733.5,193.7L733.8,194.1L734.1,194.6L734.5,195L734.8,195.4L735.2,195.8L735.5,196.2L735.9,196.7L736.2,197.1L736.6,197.5L736.9,197.9L737.2,198.2L737.6,198.6L737.9,198.9L738.3,199.3L738.6,199.6L739,199.9L739.3,200.2L739.7,200.5L740,200.8L740.4,201.1L740.7,201.4L741,201.6L741.4,201.9L741.7,202.2L742.1,202.4L742.4,202.7L742.8,202.9L743.1,203.2L743.5,203.4L743.8,203.7L744.1,203.9L744.5,204.1L744.8,204.4L745.2,204.6L745.5,204.8L745.9,205L746.2,205.2L746.6,205.4L746.9,205.6L747.2,205.8L747.6,205.9L747.9,206.1L748.3,206.3L748.6,206.5L749,206.6L749.3,206.8L749.7,206.9L750,207.1L750.4,207.2L750.7,207.4L751,207.5L751.4,207.7L751.7,207.8L752.1,207.9L752.4,208.1L752.8,208.2L753.1,208.3L753.5,208.5L753.8,208.6L754.1,208.7L754.5,208.9L754.8,209L755.2,209.1L755.5,209.2L755.9,209.3L756.2,209.5L756.6,209.6L756.9,209.7L757.2,209.8L757.6,209.9L757.9,210.1L758.3,210.2L758.6,210.3L759,210.4L759.3,210.5L759.7,210.6L760,210.7L760.3,210.8L760.7,211L761,211.1L761.4,211.2L761.7,211.3L762.1,211.4L762.4,211.5L762.8,211.6L763.1,211.7L763.5,211.8L763.8,211.9L764.1,212L764.5,212.1L764.8,212.2L765.2,212.3L765.5,212.4L765.9,212.5L766.2,212.5L766.6,212.6L766.9,212.7L767.2,212.8L767.6,212.9L767.9,213L768.3,213.1L768.6,213.2L769,213.3L769.3,213.4L769.7,213.5L770,213.6L770.3,213.6L770.7,213.7L771,213.8L771.4,213.9L771.7,214L772.1,214.1L772.4,214.2L772.8,214.3L773.1,214.4L773.4,214.5L773.8,214.6L774.1,214.7L774.5,214.7L774.8,214.8L775.2,214.9L775.5,215L775.9,215.1L776.2,215.2L776.6,215.3L776.9,215.4L777.2,215.5L777.6,215.6L777.9,215.7L778.3,215.8L778.6,215.9L779,216L779.3,216.1L779.7,216.2L780,216.4L780.3,216.5L780.7,216.6L781,216.7L781.4,216.8L781.7,216.9L782.1,217L782.4,217.1L782.8,217.3L783.1,217.4L783.4,217.5L783.8,217.6L784.1,217.7L784.5,217.9L784.8,218L785.2,218.1L785.5,218.2L785.9,218.4L786.2,218.5L786.5,218.6L786.9,218.7L787.2,218.9L787.6,219L787.9,219.1L788.3,219.2L788.6,219.4L789,219.5L789.3,219.6L789.7,219.8L790,219.9L790.3,220L790.7,220.2L791,220.3L791.4,220.4L791.7,220.6L792.1,220.7L792.4,220.8L792.8,221L793.1,221.1L793.4,221.3L793.8,221.4L794.1,221.5L794.5,221.7L794.8,221.8L795.2,222L795.5,222.1L795.9,222.3L796.2,222.4L796.5,222.6L796.9,222.7L797.2,222.8L797.6,223L797.9,223.1L798.3,223.3L798.6,223.4L799,223.6L799.3,223.7L799.6,223.9L800,224L800.3,224.2L800.7,224.3L801,224.5L801.4,224.6L801.7,224.8L802.1,225L802.4,225.1L802.8,225.3L803.1,225.4L803.4,225.6L803.8,225.7L804.1,225.9L804.5,226L804.8,226.2L805.2,226.4L805.5,226.5L805.9,226.7L806.2,226.8" fill="none" stroke="#18c8d0" stroke-width="1.9" stroke-linejoin="round"/>
<rect x="668.3" y="154.1" width="137.9" height="126.7" fill="none" stroke="#000" stroke-width="1.6"/>
<path d="M702.8,280.8L702.8,277.8M737.2,280.8L737.2,277.8M771.7,280.8L771.7,277.8M668.3,249.1L671.3,249.1M668.3,217.4L671.3,217.4M668.3,185.8L671.3,185.8" stroke="#000" stroke-width="1.2" fill="none"/>
<text x="668.3" y="292.3" font-size="10.5" text-anchor="middle" font-weight="bold" font-style="normal" fill="#000" >6</text>
<text x="702.8" y="292.3" font-size="10.5" text-anchor="middle" font-weight="bold" font-style="normal" fill="#000" >7</text>
<text x="737.2" y="292.3" font-size="10.5" text-anchor="middle" font-weight="bold" font-style="normal" fill="#000" >8</text>
<text x="771.7" y="292.3" font-size="10.5" text-anchor="middle" font-weight="bold" font-style="normal" fill="#000" >9</text>
<text x="806.2" y="292.3" font-size="10.5" text-anchor="middle" font-weight="bold" font-style="normal" fill="#000" >10</text>
<text x="664.8" y="284.4" font-size="10.5" text-anchor="end" font-weight="bold" font-style="normal" fill="#000" >-200</text>
<text x="664.8" y="252.7" font-size="10.5" text-anchor="end" font-weight="bold" font-style="normal" fill="#000" >-100</text>
<text x="664.8" y="221" font-size="10.5" text-anchor="end" font-weight="bold" font-style="normal" fill="#000" >0</text>
<text x="664.8" y="189.4" font-size="10.5" text-anchor="end" font-weight="bold" font-style="normal" fill="#000" >100</text>
<text x="664.8" y="157.7" font-size="10.5" text-anchor="end" font-weight="bold" font-style="normal" fill="#000" >200</text>
<text x="644.3" y="217.4" font-size="11" text-anchor="middle" font-weight="bold" font-style="normal" fill="#000" transform="rotate(-90 644.3 217.4)">Phase(deg)</text>
<text x="737.2" y="300.5" font-size="11" text-anchor="middle" font-weight="bold" font-style="normal" fill="#000" >Frequency(GHz)</text>
<rect x="565.5" y="7" width="374.5" height="304.5" fill="none" stroke="#000" stroke-width="2"/>
<path d="M659.1,311.5L659.1,306M752.8,311.5L752.8,306M846.4,311.5L846.4,306M565.5,250.6L571,250.6M565.5,189.7L571,189.7M565.5,128.8L571,128.8M565.5,67.9L571,67.9" stroke="#000" stroke-width="1.8" fill="none"/>
<text x="565.5" y="331.8" font-size="17" text-anchor="middle" font-weight="bold" font-style="normal" fill="#000" >6</text>
<text x="659.1" y="331.8" font-size="17" text-anchor="middle" font-weight="bold" font-style="normal" fill="#000" >7</text>
<text x="752.8" y="331.8" font-size="17" text-anchor="middle" font-weight="bold" font-style="normal" fill="#000" >8</text>
<text x="846.4" y="331.8" font-size="17" text-anchor="middle" font-weight="bold" font-style="normal" fill="#000" >9</text>
<text x="940" y="331.8" font-size="17" text-anchor="middle" font-weight="bold" font-style="normal" fill="#000" >10</text>
<text x="559" y="316.8" font-size="17" text-anchor="end" font-weight="bold" font-style="normal" fill="#000" >0.0</text>
<text x="559" y="255.9" font-size="17" text-anchor="end" font-weight="bold" font-style="normal" fill="#000" >0.2</text>
<text x="559" y="195" font-size="17" text-anchor="end" font-weight="bold" font-style="normal" fill="#000" >0.4</text>
<text x="559" y="134.1" font-size="17" text-anchor="end" font-weight="bold" font-style="normal" fill="#000" >0.6</text>
<text x="559" y="73.2" font-size="17" text-anchor="end" font-weight="bold" font-style="normal" fill="#000" >0.8</text>
<text x="559" y="12.3" font-size="17" text-anchor="end" font-weight="bold" font-style="normal" fill="#000" >1.0</text>
<text x="530.6" y="158.7" font-size="26" text-anchor="middle" font-weight="bold" font-style="normal" fill="#000" transform="rotate(-90 530.6 158.7)">Amplitude</text>
<text x="752.7" y="352.5" font-size="26" text-anchor="middle" font-weight="bold" font-style="normal" fill="#000" >Frequency(GHz)</text>
<text x="762" y="397.5" font-size="34" text-anchor="middle" font-weight="bold" font-style="normal" fill="#000" >(b)</text>
<text x="569.5" y="26.5" font-size="18.3" text-anchor="start" font-weight="bold" font-style="normal" fill="#000" word-spacing="2">LHCP incidence</text>
<line x1="860.5" y1="17" x2="898" y2="17" stroke="#555555" stroke-width="2.8"/>
<circle cx="879.2" cy="17" r="4" fill="#555555" stroke="#555555" stroke-width="0.5"/>
<text x="901" y="22.2" font-size="15" text-anchor="start" font-weight="bold" font-style="normal" fill="#000" >0</text>
<line x1="860.5" y1="36.7" x2="898" y2="36.7" stroke="#f03a3a" stroke-width="2.8"/>
<rect x="875.6" y="33.1" width="7.2" height="7.2" fill="#f03a3a" stroke="#f03a3a" stroke-width="0.5"/>
<text x="901" y="41.9" font-size="15" text-anchor="start" font-weight="bold" font-style="normal" fill="#000" >1</text>
<line x1="860.5" y1="56.2" x2="898" y2="56.2" stroke="#1c64e6" stroke-width="2.8"/>
<path d="M879.2,51.6L883.2,59.2L875.2,59.2Z" fill="#1c64e6" stroke="#1c64e6" stroke-width="0.5"/>
<text x="901" y="61.5" font-size="15" text-anchor="start" font-weight="bold" font-style="normal" fill="#000" >2</text>
<line x1="860.5" y1="76" x2="898" y2="76" stroke="#2e9e5c" stroke-width="2.8"/>
<path d="M879.2,80.6L883.2,73L875.2,73Z" fill="#2e9e5c" stroke="#2e9e5c" stroke-width="0.5"/>
<text x="901" y="81.2" font-size="15" text-anchor="start" font-weight="bold" font-style="normal" fill="#000" >3</text>
<line x1="860.5" y1="95.6" x2="898" y2="95.6" stroke="#a77ee0" stroke-width="2.8"/>
<path d="M879.2,90.8L883.2,95.6L879.2,100.4L875.2,95.6Z" fill="#a77ee0" stroke="#a77ee0" stroke-width="0.5"/>
<text x="901" y="100.8" font-size="15" text-anchor="start" font-weight="bold" font-style="normal" fill="#000" >4</text>
<line x1="860.5" y1="115.8" x2="898" y2="115.8" stroke="#d49a0a" stroke-width="2.8"/>
<path d="M874.6,115.8L882.2,111.8L882.2,119.8Z" fill="#d49a0a" stroke="#d49a0a" stroke-width="0.5"/>
<text x="901" y="121" font-size="15" text-anchor="start" font-weight="bold" font-style="normal" fill="#000" >5</text>
<line x1="860.5" y1="136" x2="898" y2="136" stroke="#18c8d0" stroke-width="2.8"/>
<path d="M883.9,136L876.2,132L876.2,140Z" fill="#18c8d0" stroke="#18c8d0" stroke-width="0.5"/>
<text x="901" y="141.2" font-size="15" text-anchor="start" font-weight="bold" font-style="normal" fill="#000" >6</text>
<line x1="860.5" y1="156.2" x2="898" y2="156.2" stroke="#7a5050" stroke-width="2.8"/>
<path d="M882.7,158.2L879.2,160.2L875.8,158.2L875.8,154.2L879.2,152.2L882.7,154.2Z" fill="#7a5050" stroke="#7a5050" stroke-width="0.5"/>
<text x="901" y="161.4" font-size="15" text-anchor="start" font-weight="bold" font-style="normal" fill="#000" >7</text>
<path d="M51.5,606L53,606L54.5,605.8L56,605.3L57.5,604.8L59,604.2L60.5,603.6L62,603L63.5,602.3L65,601.5L66.5,600.8L68,599.9L69.5,599L71,598.1L72.5,597.1L74,596L75.5,595L77,593.9L78.5,592.8L80,591.7L81.5,590.5L83,589.3L84.5,588.1L86,586.9L87.5,585.7L89,584.5L90.5,583.4L92,582.3L93.5,581.1L95,580L96.5,578.8L98,577.6L99.5,576.4L101,575L102.5,573.7L104,572.3L105.5,570.9L107,569.6L108.5,568.3L110,567L111.5,565.8L113,564.6L114.5,563.5L116,562.3L117.5,561.2L119,560L120.5,558.7L122,557.4L123.5,556L125,554.6L126.5,553L128,551.5L129.5,549.9L131,548.3L132.5,546.8L134,545.3L135.5,543.8L137,542.3L138.5,540.8L140,539.3L141.5,537.8L143,536.3L144.5,534.8L146,533.3L147.5,531.8L149,530.3L150.5,528.8L152,527.3L153.5,525.8L155,524.3L156.5,522.8L158,521.3L159.5,519.9L161,518.4L162.5,516.9L164,515.4L165.5,513.9L167,512.3L168.5,510.7L170,509L171.5,507.4L173,505.7L174.5,504L176,502.3L177.5,500.7L179,499.2L180.5,497.7L182,496.2L183.5,494.7L185,493.3L186.5,491.7L188,490.2L189.5,488.5L191,486.7L192.5,484.9L194,482.9L195.5,481L197,479.2L198.5,477.4L200,475.7L201.5,474L203,472.3L204.5,470.6L206,469L207.5,467.5L209,466.2L210.5,465.1L212,464.2L213.5,463.3L215,462.4L216.5,461.7L218,461L219.5,460.5L221,460.2L222.5,460.1L224,460.2L225.5,460.5L227,460.9L228.5,461.4L230,462L231.5,462.7L233,463.5L234.5,464.3L236,465.3L237.5,466.8L239,468.6L240.5,470.7L242,473.1L243.5,475.5L245,477.9L246.5,480.3L248,482.8L249.5,485.6L251,488.4L252.5,491.4L254,494.4L255.5,497.3L257,500.2L258.5,503.1L260,506L261.5,508.9L263,511.9L264.5,514.7L266,517.6L267.5,520.3L269,522.8L270.5,525.4L272,527.8L273.5,530.2L275,532.5L276.5,534.8L278,537L279.5,539.1L281,541.1L282.5,543.1L284,545L285.5,546.9L287,548.7L288.5,550.5L290,552.2L291.5,553.8L293,555.5L294.5,557L296,558.6L297.5,560.1L299,561.5L300.5,562.9L302,564.2L303.5,565.5L305,566.8L306.5,568.1L308,569.3L309.5,570.5L311,571.6L312.5,572.6L314,573.6L315.5,574.5L317,575.4L318.5,576.2L320,577L321.5,577.7L323,578.5L324.5,579.3L326,580.2L327.5,581L329,581.9L330.5,582.8L332,583.7L333.5,584.5L335,585.3L336.5,586L338,586.8L339.5,587.5L341,588.2L342.5,588.8L344,589.5L345.5,590.1L347,590.7L348.5,591.2L350,591.8L351.5,592.3L353,592.7L354.5,593.2L356,593.7L357.5,594.2L359,594.7L360.5,595.2L362,595.7L363.5,596.3L365,596.8L366.5,597.3L368,597.8L369.5,598.2L371,598.6L372.5,599L374,599.3L375.5,599.6L377,600L378.5,600.3L380,600.6L381.5,600.9L383,601.3L384.5,601.6L386,601.9L387.5,602.3L389,602.6L390.5,602.9L392,603.2L393.5,603.5L395,603.8L396.5,604.1L398,604.4L399.5,604.6L401,604.9L402.5,605.1L404,605.4L405.5,605.6L407,605.9L408.5,606.1L410,606.3L411.5,606.6L413,606.8L414.5,607L416,607.1L417.5,607.3L419,607.5L420.5,607.6L422,607.8L423.5,607.9L425,608" fill="none" stroke="#f03a3a" stroke-width="3.4" stroke-linejoin="round"/>
<path d="M48.6,603L54.4,603L54.4,608.9L48.6,608.9Z" fill="#fff" stroke="#f03a3a" stroke-width="0.7"/><path d="M48.6,603L54.4,603L54.4,606L48.6,606Z" fill="#f03a3a"/><path d="M59.9,599.7L65.7,599.7L65.7,605.5L59.9,605.5Z" fill="#fff" stroke="#f03a3a" stroke-width="0.7"/><path d="M59.9,599.7L65.7,599.7L65.7,602.6L59.9,602.6Z" fill="#f03a3a"/><path d="M71.2,593L77,593L77,598.9L71.2,598.9Z" fill="#fff" stroke="#f03a3a" stroke-width="0.7"/><path d="M71.2,593L77,593L77,596L71.2,596Z" fill="#f03a3a"/><path d="M82.5,584.4L88.4,584.4L88.4,590.3L82.5,590.3Z" fill="#fff" stroke="#f03a3a" stroke-width="0.7"/><path d="M82.5,584.4L88.4,584.4L88.4,587.3L82.5,587.3Z" fill="#f03a3a"/><path d="M93.8,575.7L99.7,575.7L99.7,581.5L93.8,581.5Z" fill="#fff" stroke="#f03a3a" stroke-width="0.7"/><path d="M93.8,575.7L99.7,575.7L99.7,578.6L93.8,578.6Z" fill="#f03a3a"/><path d="M105.1,565.7L111,565.7L111,571.6L105.1,571.6Z" fill="#fff" stroke="#f03a3a" stroke-width="0.7"/><path d="M105.1,565.7L111,565.7L111,568.6L105.1,568.6Z" fill="#f03a3a"/><path d="M116.4,556.8L122.3,556.8L122.3,562.6L116.4,562.6Z" fill="#fff" stroke="#f03a3a" stroke-width="0.7"/><path d="M116.4,556.8L122.3,556.8L122.3,559.7L116.4,559.7Z" fill="#f03a3a"/><path d="M127.8,545.7L133.6,545.7L133.6,551.6L127.8,551.6Z" fill="#fff" stroke="#f03a3a" stroke-width="0.7"/><path d="M127.8,545.7L133.6,545.7L133.6,548.7L127.8,548.7Z" fill="#f03a3a"/><path d="M139.1,534.4L144.9,534.4L144.9,540.2L139.1,540.2Z" fill="#fff" stroke="#f03a3a" stroke-width="0.7"/><path d="M139.1,534.4L144.9,534.4L144.9,537.3L139.1,537.3Z" fill="#f03a3a"/><path d="M150.4,523.1L156.2,523.1L156.2,528.9L150.4,528.9Z" fill="#fff" stroke="#f03a3a" stroke-width="0.7"/><path d="M150.4,523.1L156.2,523.1L156.2,526L150.4,526Z" fill="#f03a3a"/><path d="M161.7,511.8L167.5,511.8L167.5,517.7L161.7,517.7Z" fill="#fff" stroke="#f03a3a" stroke-width="0.7"/><path d="M161.7,511.8L167.5,511.8L167.5,514.8L161.7,514.8Z" fill="#f03a3a"/><path d="M173,499.5L178.9,499.5L178.9,505.3L173,505.3Z" fill="#fff" stroke="#f03a3a" stroke-width="0.7"/><path d="M173,499.5L178.9,499.5L178.9,502.4L173,502.4Z" fill="#f03a3a"/><path d="M184.3,488L190.2,488L190.2,493.9L184.3,493.9Z" fill="#fff" stroke="#f03a3a" stroke-width="0.7"/><path d="M184.3,488L190.2,488L190.2,491L184.3,491Z" fill="#f03a3a"/><path d="M195.6,474.4L201.5,474.4L201.5,480.2L195.6,480.2Z" fill="#fff" stroke="#f03a3a" stroke-width="0.7"/><path d="M195.6,474.4L201.5,474.4L201.5,477.3L195.6,477.3Z" fill="#f03a3a"/><path d="M206.9,462.6L212.8,462.6L212.8,468.5L206.9,468.5Z" fill="#fff" stroke="#f03a3a" stroke-width="0.7"/><path d="M206.9,462.6L212.8,462.6L212.8,465.5L206.9,465.5Z" fill="#f03a3a"/><path d="M218.3,457.2L224.1,457.2L224.1,463.1L218.3,463.1Z" fill="#fff" stroke="#f03a3a" stroke-width="0.7"/><path d="M218.3,457.2L224.1,457.2L224.1,460.2L218.3,460.2Z" fill="#f03a3a"/><path d="M229.6,460.3L235.4,460.3L235.4,466.2L229.6,466.2Z" fill="#fff" stroke="#f03a3a" stroke-width="0.7"/><path d="M229.6,460.3L235.4,460.3L235.4,463.2L229.6,463.2Z" fill="#f03a3a"/><path d="M240.9,473L246.7,473L246.7,478.9L240.9,478.9Z" fill="#fff" stroke="#f03a3a" stroke-width="0.7"/><path d="M240.9,473L246.7,473L246.7,476L240.9,476Z" fill="#f03a3a"/><path d="M252.2,493.6L258,493.6L258,499.5L252.2,499.5Z" fill="#fff" stroke="#f03a3a" stroke-width="0.7"/><path d="M252.2,493.6L258,493.6L258,496.6L252.2,496.6Z" fill="#f03a3a"/><path d="M263.5,515.4L269.4,515.4L269.4,521.3L263.5,521.3Z" fill="#fff" stroke="#f03a3a" stroke-width="0.7"/><path d="M263.5,515.4L269.4,515.4L269.4,518.3L263.5,518.3Z" fill="#f03a3a"/><path d="M274.8,533.7L280.7,533.7L280.7,539.5L274.8,539.5Z" fill="#fff" stroke="#f03a3a" stroke-width="0.7"/><path d="M274.8,533.7L280.7,533.7L280.7,536.6L274.8,536.6Z" fill="#f03a3a"/><path d="M286.1,548.2L292,548.2L292,554L286.1,554Z" fill="#fff" stroke="#f03a3a" stroke-width="0.7"/><path d="M286.1,548.2L292,548.2L292,551.1L286.1,551.1Z" fill="#f03a3a"/><path d="M297.4,559.8L303.3,559.8L303.3,565.7L297.4,565.7Z" fill="#fff" stroke="#f03a3a" stroke-width="0.7"/><path d="M297.4,559.8L303.3,559.8L303.3,562.8L297.4,562.8Z" fill="#f03a3a"/><path d="M308.8,569.1L314.6,569.1L314.6,575L308.8,575Z" fill="#fff" stroke="#f03a3a" stroke-width="0.7"/><path d="M308.8,569.1L314.6,569.1L314.6,572.1L308.8,572.1Z" fill="#f03a3a"/><path d="M320.1,575.6L325.9,575.6L325.9,581.4L320.1,581.4Z" fill="#fff" stroke="#f03a3a" stroke-width="0.7"/><path d="M320.1,575.6L325.9,575.6L325.9,578.5L320.1,578.5Z" fill="#f03a3a"/><path d="M331.4,582L337.2,582L337.2,587.9L331.4,587.9Z" fill="#fff" stroke="#f03a3a" stroke-width="0.7"/><path d="M331.4,582L337.2,582L337.2,584.9L331.4,584.9Z" fill="#f03a3a"/><path d="M342.7,587.2L348.5,587.2L348.5,593.1L342.7,593.1Z" fill="#fff" stroke="#f03a3a" stroke-width="0.7"/><path d="M342.7,587.2L348.5,587.2L348.5,590.1L342.7,590.1Z" fill="#f03a3a"/><path d="M354,591.1L359.9,591.1L359.9,596.9L354,596.9Z" fill="#fff" stroke="#f03a3a" stroke-width="0.7"/><path d="M354,591.1L359.9,591.1L359.9,594L354,594Z" fill="#f03a3a"/><path d="M365.3,594.9L371.2,594.9L371.2,600.8L365.3,600.8Z" fill="#fff" stroke="#f03a3a" stroke-width="0.7"/><path d="M365.3,594.9L371.2,594.9L371.2,597.9L365.3,597.9Z" fill="#f03a3a"/><path d="M376.6,597.6L382.5,597.6L382.5,603.4L376.6,603.4Z" fill="#fff" stroke="#f03a3a" stroke-width="0.7"/><path d="M376.6,597.6L382.5,597.6L382.5,600.5L376.6,600.5Z" fill="#f03a3a"/><path d="M387.9,600.1L393.8,600.1L393.8,605.9L387.9,605.9Z" fill="#fff" stroke="#f03a3a" stroke-width="0.7"/><path d="M387.9,600.1L393.8,600.1L393.8,603L387.9,603Z" fill="#f03a3a"/><path d="M399.3,602.2L405.1,602.2L405.1,608L399.3,608Z" fill="#fff" stroke="#f03a3a" stroke-width="0.7"/><path d="M399.3,602.2L405.1,602.2L405.1,605.1L399.3,605.1Z" fill="#f03a3a"/><path d="M410.6,603.9L416.4,603.9L416.4,609.8L410.6,609.8Z" fill="#fff" stroke="#f03a3a" stroke-width="0.7"/><path d="M410.6,603.9L416.4,603.9L416.4,606.8L410.6,606.8Z" fill="#f03a3a"/><path d="M421.9,605.1L427.7,605.1L427.7,611L421.9,611Z" fill="#fff" stroke="#f03a3a" stroke-width="0.7"/><path d="M421.9,605.1L427.7,605.1L427.7,608L421.9,608Z" fill="#f03a3a"/>
<path d="M51.5,606.5L53,606.5L54.5,606.2L56,605.7L57.5,605.1L59,604.5L60.5,603.9L62,603.2L63.5,602.5L65,601.8L66.5,601L68,600.1L69.5,599.2L71,598.2L72.5,597.2L74,596.2L75.5,595.1L77,594.1L78.5,593L80,591.8L81.5,590.6L83,589.4L84.5,588.2L86,587L87.5,585.8L89,584.7L90.5,583.5L92,582.4L93.5,581.3L95,580.1L96.5,578.9L98,577.7L99.5,576.4L101,575.1L102.5,573.7L104,572.4L105.5,571L107,569.6L108.5,568.3L110,567.1L111.5,565.9L113,564.7L114.5,563.6L116,562.4L117.5,561.3L119,560.1L120.5,558.8L122,557.5L123.5,556L125,554.6L126.5,553L128,551.4L129.5,549.9L131,548.3L132.5,546.8L134,545.3L135.5,543.8L137,542.3L138.5,540.8L140,539.3L141.5,537.8L143,536.3L144.5,534.8L146,533.3L147.5,531.8L149,530.3L150.5,528.8L152,527.3L153.5,525.8L155,524.3L156.5,522.8L158,521.3L159.5,519.9L161,518.4L162.5,516.9L164,515.4L165.5,513.8L167,512.3L168.5,510.6L170,509L171.5,507.3L173,505.6L174.5,503.9L176,502.3L177.5,500.7L179,499.2L180.5,497.7L182,496.2L183.5,494.7L185,493.3L186.5,491.7L188,490.1L189.5,488.4L191,486.6L192.5,484.7L194,482.8L195.5,480.9L197,479.1L198.5,477.3L200,475.6L201.5,473.9L203,472.2L204.5,470.5L206,469L207.5,467.5L209,466.3L210.5,465.3L212,464.4L213.5,463.5L215,462.7L216.5,461.9L218,461.3L219.5,460.9L221,460.6L222.5,460.6L224,460.8L225.5,461.1L227,461.6L228.5,462.1L230,462.8L231.5,463.5L233,464.3L234.5,465.1L236,466.3L237.5,467.9L239,469.8L240.5,472L242,474.4L243.5,476.8L245,479.2L246.5,481.6L248,484.2L249.5,487L251,489.9L252.5,492.9L254,495.8L255.5,498.8L257,501.7L258.5,504.6L260,507.5L261.5,510.4L263,513.3L264.5,516.2L266,519L267.5,521.6L269,524.2L270.5,526.7L272,529.1L273.5,531.5L275,533.8L276.5,536L278,538.2L279.5,540.3L281,542.3L282.5,544.3L284,546.2L285.5,548L287,549.8L288.5,551.6L290,553.2L291.5,554.9L293,556.5L294.5,558L296,559.6L297.5,561L299,562.5L300.5,563.8L302,565.2L303.5,566.5L305,567.8L306.5,569L308,570.2L309.5,571.3L311,572.4L312.5,573.5L314,574.4L315.5,575.3L317,576.2L318.5,576.9L320,577.7L321.5,578.5L323,579.3L324.5,580.1L326,581L327.5,581.8L329,582.7L330.5,583.6L332,584.4L333.5,585.3L335,586L336.5,586.8L338,587.5L339.5,588.2L341,588.9L342.5,589.6L344,590.2L345.5,590.8L347,591.4L348.5,591.9L350,592.4L351.5,592.9L353,593.4L354.5,593.9L356,594.3L357.5,594.8L359,595.3L360.5,595.9L362,596.4L363.5,596.9L365,597.5L366.5,598L368,598.4L369.5,598.9L371,599.2L372.5,599.6L374,599.9L375.5,600.2L377,600.6L378.5,600.9L380,601.2L381.5,601.5L383,601.9L384.5,602.2L386,602.6L387.5,602.9L389,603.2L390.5,603.5L392,603.8L393.5,604.1L395,604.4L396.5,604.7L398,605L399.5,605.2L401,605.5L402.5,605.7L404,606L405.5,606.2L407,606.5L408.5,606.7L410,606.9L411.5,607.1L413,607.3L414.5,607.5L416,607.7L417.5,607.9L419,608L420.5,608.2L422,608.3L423.5,608.5L425,608.6" fill="none" stroke="#d49a0a" stroke-width="3.4" stroke-linejoin="round"/>
<path d="M47.5,606.5L54.1,603L54.1,610Z" fill="#fff" stroke="#d49a0a" stroke-width="0.7"/><path d="M47.5,606.5L54.1,603L54.1,606.5L47.5,606.5Z" fill="#d49a0a"/><path d="M58.8,602.9L65.4,599.4L65.4,606.4Z" fill="#fff" stroke="#d49a0a" stroke-width="0.7"/><path d="M58.8,602.9L65.4,599.4L65.4,602.9L58.8,602.9Z" fill="#d49a0a"/><path d="M70.1,596.1L76.7,592.6L76.7,599.6Z" fill="#fff" stroke="#d49a0a" stroke-width="0.7"/><path d="M70.1,596.1L76.7,592.6L76.7,596.1L70.1,596.1Z" fill="#d49a0a"/><path d="M81.4,587.4L88.1,583.9L88.1,590.9Z" fill="#fff" stroke="#d49a0a" stroke-width="0.7"/><path d="M81.4,587.4L88.1,583.9L88.1,587.4L81.4,587.4Z" fill="#d49a0a"/><path d="M92.7,578.7L99.4,575.2L99.4,582.2Z" fill="#fff" stroke="#d49a0a" stroke-width="0.7"/><path d="M92.7,578.7L99.4,575.2L99.4,578.7L92.7,578.7Z" fill="#d49a0a"/><path d="M104,568.7L110.7,565.2L110.7,572.2Z" fill="#fff" stroke="#d49a0a" stroke-width="0.7"/><path d="M104,568.7L110.7,565.2L110.7,568.7L104,568.7Z" fill="#d49a0a"/><path d="M115.3,559.8L122,556.3L122,563.3Z" fill="#fff" stroke="#d49a0a" stroke-width="0.7"/><path d="M115.3,559.8L122,556.3L122,559.8L115.3,559.8Z" fill="#d49a0a"/><path d="M126.7,548.6L133.3,545.1L133.3,552.1Z" fill="#fff" stroke="#d49a0a" stroke-width="0.7"/><path d="M126.7,548.6L133.3,545.1L133.3,548.6L126.7,548.6Z" fill="#d49a0a"/><path d="M138,537.3L144.6,533.8L144.6,540.8Z" fill="#fff" stroke="#d49a0a" stroke-width="0.7"/><path d="M138,537.3L144.6,533.8L144.6,537.3L138,537.3Z" fill="#d49a0a"/><path d="M149.3,526L155.9,522.5L155.9,529.5Z" fill="#fff" stroke="#d49a0a" stroke-width="0.7"/><path d="M149.3,526L155.9,522.5L155.9,526L149.3,526Z" fill="#d49a0a"/><path d="M160.6,514.7L167.2,511.2L167.2,518.2Z" fill="#fff" stroke="#d49a0a" stroke-width="0.7"/><path d="M160.6,514.7L167.2,511.2L167.2,514.7L160.6,514.7Z" fill="#d49a0a"/><path d="M171.9,502.4L178.6,498.9L178.6,505.9Z" fill="#fff" stroke="#d49a0a" stroke-width="0.7"/><path d="M171.9,502.4L178.6,498.9L178.6,502.4L171.9,502.4Z" fill="#d49a0a"/><path d="M183.2,490.9L189.9,487.4L189.9,494.4Z" fill="#fff" stroke="#d49a0a" stroke-width="0.7"/><path d="M183.2,490.9L189.9,487.4L189.9,490.9L183.2,490.9Z" fill="#d49a0a"/><path d="M194.5,477.2L201.2,473.7L201.2,480.7Z" fill="#fff" stroke="#d49a0a" stroke-width="0.7"/><path d="M194.5,477.2L201.2,473.7L201.2,477.2L194.5,477.2Z" fill="#d49a0a"/><path d="M205.8,465.7L212.5,462.2L212.5,469.2Z" fill="#fff" stroke="#d49a0a" stroke-width="0.7"/><path d="M205.8,465.7L212.5,462.2L212.5,465.7L205.8,465.7Z" fill="#d49a0a"/><path d="M217.2,460.6L223.8,457.1L223.8,464.1Z" fill="#fff" stroke="#d49a0a" stroke-width="0.7"/><path d="M217.2,460.6L223.8,457.1L223.8,460.6L217.2,460.6Z" fill="#d49a0a"/><path d="M228.5,464L235.1,460.5L235.1,467.5Z" fill="#fff" stroke="#d49a0a" stroke-width="0.7"/><path d="M228.5,464L235.1,460.5L235.1,464L228.5,464Z" fill="#d49a0a"/><path d="M239.8,477.3L246.4,473.8L246.4,480.8Z" fill="#fff" stroke="#d49a0a" stroke-width="0.7"/><path d="M239.8,477.3L246.4,473.8L246.4,477.3L239.8,477.3Z" fill="#d49a0a"/><path d="M251.1,498.1L257.7,494.6L257.7,501.6Z" fill="#fff" stroke="#d49a0a" stroke-width="0.7"/><path d="M251.1,498.1L257.7,494.6L257.7,498.1L251.1,498.1Z" fill="#d49a0a"/><path d="M262.4,519.7L269.1,516.2L269.1,523.2Z" fill="#fff" stroke="#d49a0a" stroke-width="0.7"/><path d="M262.4,519.7L269.1,516.2L269.1,519.7L262.4,519.7Z" fill="#d49a0a"/><path d="M273.7,537.8L280.4,534.3L280.4,541.3Z" fill="#fff" stroke="#d49a0a" stroke-width="0.7"/><path d="M273.7,537.8L280.4,534.3L280.4,537.8L273.7,537.8Z" fill="#d49a0a"/><path d="M285,552.2L291.7,548.7L291.7,555.7Z" fill="#fff" stroke="#d49a0a" stroke-width="0.7"/><path d="M285,552.2L291.7,548.7L291.7,552.2L285,552.2Z" fill="#d49a0a"/><path d="M296.3,563.7L303,560.2L303,567.2Z" fill="#fff" stroke="#d49a0a" stroke-width="0.7"/><path d="M296.3,563.7L303,560.2L303,563.7L296.3,563.7Z" fill="#d49a0a"/><path d="M307.7,572.9L314.3,569.4L314.3,576.4Z" fill="#fff" stroke="#d49a0a" stroke-width="0.7"/><path d="M307.7,572.9L314.3,569.4L314.3,572.9L307.7,572.9Z" fill="#d49a0a"/><path d="M319,579.3L325.6,575.8L325.6,582.8Z" fill="#fff" stroke="#d49a0a" stroke-width="0.7"/><path d="M319,579.3L325.6,575.8L325.6,579.3L319,579.3Z" fill="#d49a0a"/><path d="M330.3,585.7L336.9,582.2L336.9,589.2Z" fill="#fff" stroke="#d49a0a" stroke-width="0.7"/><path d="M330.3,585.7L336.9,582.2L336.9,585.7L330.3,585.7Z" fill="#d49a0a"/><path d="M341.6,590.8L348.2,587.3L348.2,594.3Z" fill="#fff" stroke="#d49a0a" stroke-width="0.7"/><path d="M341.6,590.8L348.2,587.3L348.2,590.8L341.6,590.8Z" fill="#d49a0a"/><path d="M352.9,594.6L359.6,591.1L359.6,598.1Z" fill="#fff" stroke="#d49a0a" stroke-width="0.7"/><path d="M352.9,594.6L359.6,591.1L359.6,594.6L352.9,594.6Z" fill="#d49a0a"/><path d="M364.2,598.5L370.9,595L370.9,602Z" fill="#fff" stroke="#d49a0a" stroke-width="0.7"/><path d="M364.2,598.5L370.9,595L370.9,598.5L364.2,598.5Z" fill="#d49a0a"/><path d="M375.5,601.1L382.2,597.6L382.2,604.6Z" fill="#fff" stroke="#d49a0a" stroke-width="0.7"/><path d="M375.5,601.1L382.2,597.6L382.2,601.1L375.5,601.1Z" fill="#d49a0a"/><path d="M386.8,603.6L393.5,600.1L393.5,607.1Z" fill="#fff" stroke="#d49a0a" stroke-width="0.7"/><path d="M386.8,603.6L393.5,600.1L393.5,603.6L386.8,603.6Z" fill="#d49a0a"/><path d="M398.2,605.7L404.8,602.2L404.8,609.2Z" fill="#fff" stroke="#d49a0a" stroke-width="0.7"/><path d="M398.2,605.7L404.8,602.2L404.8,605.7L398.2,605.7Z" fill="#d49a0a"/><path d="M409.5,607.4L416.1,603.9L416.1,610.9Z" fill="#fff" stroke="#d49a0a" stroke-width="0.7"/><path d="M409.5,607.4L416.1,603.9L416.1,607.4L409.5,607.4Z" fill="#d49a0a"/><path d="M420.8,608.6L427.4,605.1L427.4,612.1Z" fill="#fff" stroke="#d49a0a" stroke-width="0.7"/><path d="M420.8,608.6L427.4,605.1L427.4,608.6L420.8,608.6Z" fill="#d49a0a"/>
<path d="M51.5,621.5L53,621.1L54.5,620.7L56,620.2L57.5,619.7L59,619.1L60.5,618.4L62,617.8L63.5,617.1L65,616.2L66.5,615.3L68,614.4L69.5,613.3L71,612.3L72.5,611.2L74,610.2L75.5,609.2L77,608.1L78.5,607.1L80,606L81.5,604.9L83,603.8L84.5,602.8L86,601.7L87.5,600.6L89,599.5L90.5,598.5L92,597.4L93.5,596.2L95,595.1L96.5,593.9L98,592.6L99.5,591.3L101,590L102.5,588.6L104,587.2L105.5,585.9L107,584.6L108.5,583.4L110,582.2L111.5,581L113,579.8L114.5,578.6L116,577.4L117.5,576.2L119,575L120.5,573.7L122,572.4L123.5,571.1L125,569.7L126.5,568.3L128,567L129.5,565.6L131,564.1L132.5,562.7L134,561.3L135.5,559.8L137,558.3L138.5,556.8L140,555.2L141.5,553.7L143,552.1L144.5,550.4L146,548.7L147.5,547L149,545.3L150.5,543.6L152,542L153.5,540.4L155,538.9L156.5,537.5L158,536L159.5,534.5L161,533.1L162.5,531.6L164,530L165.5,528.4L167,526.8L168.5,525.1L170,523.5L171.5,521.8L173,520.1L174.5,518.4L176,516.7L177.5,515.1L179,513.4L180.5,511.8L182,510.2L183.5,508.5L185,506.7L186.5,504.9L188,503L189.5,501L191,499L192.5,496.9L194,494.8L195.5,492.8L197,490.9L198.5,489.1L200,487.3L201.5,485.4L203,483.7L204.5,482L206,480.5L207.5,479.1L209,477.9L210.5,476.6L212,475.4L213.5,474.2L215,473.1L216.5,472.2L218,471.5L219.5,471.2L221,471.1L222.5,471.2L224,471.4L225.5,471.7L227,472.1L228.5,472.6L230,473.1L231.5,473.6L233,474.5L234.5,475.7L236,477.3L237.5,479.1L239,481.1L240.5,483.2L242,485.4L243.5,487.6L245,490.2L246.5,493.1L248,496.1L249.5,499.2L251,502.2L252.5,505.2L254,507.9L255.5,510.6L257,513.3L258.5,516L260,518.7L261.5,521.4L263,524.1L264.5,526.7L266,529.3L267.5,531.8L269,534.2L270.5,536.6L272,538.9L273.5,541.1L275,543.2L276.5,545.1L278,547.1L279.5,548.9L281,550.8L282.5,552.5L284,554.3L285.5,556L287,557.6L288.5,559.2L290,560.8L291.5,562.3L293,563.8L294.5,565.2L296,566.6L297.5,567.9L299,569.2L300.5,570.4L302,571.6L303.5,572.7L305,573.9L306.5,575L308,576L309.5,577.1L311,578.1L312.5,579.1L314,580.1L315.5,581.1L317,582L318.5,583L320,583.9L321.5,584.7L323,585.6L324.5,586.4L326,587.2L327.5,588L329,588.7L330.5,589.4L332,590.1L333.5,590.8L335,591.5L336.5,592.1L338,592.7L339.5,593.3L341,593.9L342.5,594.5L344,595L345.5,595.5L347,596.1L348.5,596.6L350,597.1L351.5,597.6L353,598.1L354.5,598.5L356,599L357.5,599.5L359,599.9L360.5,600.4L362,600.8L363.5,601.3L365,601.7L366.5,602.1L368,602.6L369.5,603L371,603.4L372.5,603.9L374,604.3L375.5,604.7L377,605.1L378.5,605.5L380,605.9L381.5,606.3L383,606.7L384.5,607.1L386,607.4L387.5,607.8L389,608.2L390.5,608.5L392,608.9L393.5,609.2L395,609.5L396.5,609.9L398,610.2L399.5,610.5L401,610.8L402.5,611.1L404,611.4L405.5,611.7L407,612L408.5,612.2L410,612.5L411.5,612.8L413,613L414.5,613.3L416,613.5L417.5,613.8L419,614L420.5,614.2L422,614.4L423.5,614.7L425,614.9" fill="none" stroke="#555555" stroke-width="3.4" stroke-linejoin="round"/>
<path d="M54.5,621.5L54.3,622.6L53.6,623.6L52.6,624.2L51.5,624.5L50.4,624.2L49.4,623.6L48.7,622.6L48.5,621.5L48.7,620.3L49.4,619.4L50.4,618.7L51.5,618.5L52.6,618.7L53.6,619.4L54.3,620.3Z" fill="#fff" stroke="#555555" stroke-width="0.7"/><path d="M54.5,621.5L54.5,621.5L48.5,621.5L48.5,621.5L48.7,620.3L49.4,619.4L50.4,618.7L51.5,618.5L52.6,618.7L53.6,619.4L54.3,620.3Z" fill="#555555"/><path d="M65.8,617.4L65.6,618.5L64.9,619.5L64,620.2L62.8,620.4L61.7,620.2L60.7,619.5L60,618.5L59.8,617.4L60,616.3L60.7,615.3L61.7,614.6L62.8,614.4L64,614.6L64.9,615.3L65.6,616.3Z" fill="#fff" stroke="#555555" stroke-width="0.7"/><path d="M65.8,617.4L65.8,617.4L59.8,617.4L59.8,617.4L60,616.3L60.7,615.3L61.7,614.6L62.8,614.4L64,614.6L64.9,615.3L65.6,616.3Z" fill="#555555"/><path d="M77.1,610.1L76.9,611.3L76.2,612.2L75.3,612.9L74.1,613.1L73,612.9L72,612.2L71.4,611.3L71.1,610.1L71.4,609L72,608L73,607.3L74.1,607.1L75.3,607.3L76.2,608L76.9,609Z" fill="#fff" stroke="#555555" stroke-width="0.7"/><path d="M77.1,610.1L77.1,610.1L71.1,610.1L71.1,610.1L71.4,609L72,608L73,607.3L74.1,607.1L75.3,607.3L76.2,608L76.9,609Z" fill="#555555"/><path d="M88.4,602.1L88.2,603.2L87.6,604.2L86.6,604.9L85.4,605.1L84.3,604.9L83.3,604.2L82.7,603.2L82.4,602.1L82.7,600.9L83.3,600L84.3,599.3L85.4,599.1L86.6,599.3L87.6,600L88.2,600.9Z" fill="#fff" stroke="#555555" stroke-width="0.7"/><path d="M88.4,602.1L88.4,602.1L82.4,602.1L82.4,602.1L82.7,600.9L83.3,600L84.3,599.3L85.4,599.1L86.6,599.3L87.6,600L88.2,600.9Z" fill="#555555"/><path d="M99.7,593.7L99.5,594.8L98.9,595.8L97.9,596.5L96.7,596.7L95.6,596.5L94.6,595.8L94,594.8L93.7,593.7L94,592.5L94.6,591.6L95.6,590.9L96.7,590.7L97.9,590.9L98.9,591.6L99.5,592.5Z" fill="#fff" stroke="#555555" stroke-width="0.7"/><path d="M99.7,593.7L99.7,593.7L93.7,593.7L93.7,593.7L94,592.5L94.6,591.6L95.6,590.9L96.7,590.7L97.9,590.9L98.9,591.6L99.5,592.5Z" fill="#555555"/><path d="M111.1,583.7L110.8,584.9L110.2,585.8L109.2,586.5L108.1,586.7L106.9,586.5L105.9,585.8L105.3,584.9L105.1,583.7L105.3,582.6L105.9,581.6L106.9,580.9L108.1,580.7L109.2,580.9L110.2,581.6L110.8,582.6Z" fill="#fff" stroke="#555555" stroke-width="0.7"/><path d="M111.1,583.7L111.1,583.7L105.1,583.7L105.1,583.7L105.3,582.6L105.9,581.6L106.9,580.9L108.1,580.7L109.2,580.9L110.2,581.6L110.8,582.6Z" fill="#555555"/><path d="M122.4,574.7L122.1,575.8L121.5,576.8L120.5,577.4L119.4,577.7L118.2,577.4L117.3,576.8L116.6,575.8L116.4,574.7L116.6,573.5L117.3,572.5L118.2,571.9L119.4,571.7L120.5,571.9L121.5,572.5L122.1,573.5Z" fill="#fff" stroke="#555555" stroke-width="0.7"/><path d="M122.4,574.7L122.4,574.7L116.4,574.7L116.4,574.7L116.6,573.5L117.3,572.5L118.2,571.9L119.4,571.7L120.5,571.9L121.5,572.5L122.1,573.5Z" fill="#555555"/><path d="M133.7,564.4L133.5,565.6L132.8,566.6L131.8,567.2L130.7,567.4L129.5,567.2L128.6,566.6L127.9,565.6L127.7,564.4L127.9,563.3L128.6,562.3L129.5,561.7L130.7,561.4L131.8,561.7L132.8,562.3L133.5,563.3Z" fill="#fff" stroke="#555555" stroke-width="0.7"/><path d="M133.7,564.4L133.7,564.4L127.7,564.4L127.7,564.4L127.9,563.3L128.6,562.3L129.5,561.7L130.7,561.4L131.8,561.7L132.8,562.3L133.5,563.3Z" fill="#555555"/><path d="M145,553.1L144.8,554.3L144.1,555.3L143.1,555.9L142,556.1L140.8,555.9L139.9,555.3L139.2,554.3L139,553.1L139.2,552L139.9,551L140.8,550.4L142,550.1L143.1,550.4L144.1,551L144.8,552Z" fill="#fff" stroke="#555555" stroke-width="0.7"/><path d="M145,553.1L145,553.1L139,553.1L139,553.1L139.2,552L139.9,551L140.8,550.4L142,550.1L143.1,550.4L144.1,551L144.8,552Z" fill="#555555"/><path d="M156.3,540.6L156.1,541.8L155.4,542.8L154.5,543.4L153.3,543.6L152.2,543.4L151.2,542.8L150.5,541.8L150.3,540.6L150.5,539.5L151.2,538.5L152.2,537.9L153.3,537.6L154.5,537.9L155.4,538.5L156.1,539.5Z" fill="#fff" stroke="#555555" stroke-width="0.7"/><path d="M156.3,540.6L156.3,540.6L150.3,540.6L150.3,540.6L150.5,539.5L151.2,538.5L152.2,537.9L153.3,537.6L154.5,537.9L155.4,538.5L156.1,539.5Z" fill="#555555"/><path d="M167.6,529.4L167.4,530.5L166.7,531.5L165.8,532.1L164.6,532.4L163.5,532.1L162.5,531.5L161.8,530.5L161.6,529.4L161.8,528.2L162.5,527.2L163.5,526.6L164.6,526.4L165.8,526.6L166.7,527.2L167.4,528.2Z" fill="#fff" stroke="#555555" stroke-width="0.7"/><path d="M167.6,529.4L167.6,529.4L161.6,529.4L161.6,529.4L161.8,528.2L162.5,527.2L163.5,526.6L164.6,526.4L165.8,526.6L166.7,527.2L167.4,528.2Z" fill="#555555"/><path d="M178.9,516.8L178.7,517.9L178.1,518.9L177.1,519.6L175.9,519.8L174.8,519.6L173.8,518.9L173.2,517.9L172.9,516.8L173.2,515.6L173.8,514.7L174.8,514L175.9,513.8L177.1,514L178.1,514.7L178.7,515.6Z" fill="#fff" stroke="#555555" stroke-width="0.7"/><path d="M178.9,516.8L178.9,516.8L172.9,516.8L172.9,516.8L173.2,515.6L173.8,514.7L174.8,514L175.9,513.8L177.1,514L178.1,514.7L178.7,515.6Z" fill="#555555"/><path d="M190.2,504L190,505.1L189.4,506.1L188.4,506.8L187.2,507L186.1,506.8L185.1,506.1L184.5,505.1L184.2,504L184.5,502.9L185.1,501.9L186.1,501.2L187.2,501L188.4,501.2L189.4,501.9L190,502.9Z" fill="#fff" stroke="#555555" stroke-width="0.7"/><path d="M190.2,504L190.2,504L184.2,504L184.2,504L184.5,502.9L185.1,501.9L186.1,501.2L187.2,501L188.4,501.2L189.4,501.9L190,502.9Z" fill="#555555"/><path d="M201.6,489L201.3,490.2L200.7,491.2L199.7,491.8L198.6,492L197.4,491.8L196.4,491.2L195.8,490.2L195.6,489L195.8,487.9L196.4,486.9L197.4,486.3L198.6,486L199.7,486.3L200.7,486.9L201.3,487.9Z" fill="#fff" stroke="#555555" stroke-width="0.7"/><path d="M201.6,489L201.6,489L195.6,489L195.6,489L195.8,487.9L196.4,486.9L197.4,486.3L198.6,486L199.7,486.3L200.7,486.9L201.3,487.9Z" fill="#555555"/><path d="M212.9,477.1L212.6,478.3L212,479.3L211,479.9L209.9,480.1L208.7,479.9L207.7,479.3L207.1,478.3L206.9,477.1L207.1,476L207.7,475L208.7,474.4L209.9,474.1L211,474.4L212,475L212.6,476Z" fill="#fff" stroke="#555555" stroke-width="0.7"/><path d="M212.9,477.1L212.9,477.1L206.9,477.1L206.9,477.1L207.1,476L207.7,475L208.7,474.4L209.9,474.1L211,474.4L212,475L212.6,476Z" fill="#555555"/><path d="M224.2,471.1L224,472.3L223.3,473.2L222.3,473.9L221.2,474.1L220,473.9L219.1,473.2L218.4,472.3L218.2,471.1L218.4,470L219.1,469L220,468.3L221.2,468.1L222.3,468.3L223.3,469L224,470Z" fill="#fff" stroke="#555555" stroke-width="0.7"/><path d="M224.2,471.1L224.2,471.1L218.2,471.1L218.2,471.1L218.4,470L219.1,469L220,468.3L221.2,468.1L222.3,468.3L223.3,469L224,470Z" fill="#555555"/><path d="M235.5,474.1L235.3,475.3L234.6,476.3L233.6,476.9L232.5,477.1L231.3,476.9L230.4,476.3L229.7,475.3L229.5,474.1L229.7,473L230.4,472L231.3,471.4L232.5,471.1L233.6,471.4L234.6,472L235.3,473Z" fill="#fff" stroke="#555555" stroke-width="0.7"/><path d="M235.5,474.1L235.5,474.1L229.5,474.1L229.5,474.1L229.7,473L230.4,472L231.3,471.4L232.5,471.1L233.6,471.4L234.6,472L235.3,473Z" fill="#555555"/><path d="M246.8,488.1L246.6,489.3L245.9,490.2L245,490.9L243.8,491.1L242.7,490.9L241.7,490.2L241,489.3L240.8,488.1L241,487L241.7,486L242.7,485.3L243.8,485.1L245,485.3L245.9,486L246.6,487Z" fill="#fff" stroke="#555555" stroke-width="0.7"/><path d="M246.8,488.1L246.8,488.1L240.8,488.1L240.8,488.1L241,487L241.7,486L242.7,485.3L243.8,485.1L245,485.3L245.9,486L246.6,487Z" fill="#555555"/><path d="M258.1,509.9L257.9,511.1L257.2,512L256.3,512.7L255.1,512.9L254,512.7L253,512L252.3,511.1L252.1,509.9L252.3,508.8L253,507.8L254,507.1L255.1,506.9L256.3,507.1L257.2,507.8L257.9,508.8Z" fill="#fff" stroke="#555555" stroke-width="0.7"/><path d="M258.1,509.9L258.1,509.9L252.1,509.9L252.1,509.9L252.3,508.8L253,507.8L254,507.1L255.1,506.9L256.3,507.1L257.2,507.8L257.9,508.8Z" fill="#555555"/><path d="M269.4,530L269.2,531.2L268.6,532.1L267.6,532.8L266.4,533L265.3,532.8L264.3,532.1L263.7,531.2L263.4,530L263.7,528.9L264.3,527.9L265.3,527.2L266.4,527L267.6,527.2L268.6,527.9L269.2,528.9Z" fill="#fff" stroke="#555555" stroke-width="0.7"/><path d="M269.4,530L269.4,530L263.4,530L263.4,530L263.7,528.9L264.3,527.9L265.3,527.2L266.4,527L267.6,527.2L268.6,527.9L269.2,528.9Z" fill="#555555"/><path d="M280.7,546.7L280.5,547.9L279.9,548.9L278.9,549.5L277.7,549.7L276.6,549.5L275.6,548.9L275,547.9L274.7,546.7L275,545.6L275.6,544.6L276.6,544L277.7,543.7L278.9,544L279.9,544.6L280.5,545.6Z" fill="#fff" stroke="#555555" stroke-width="0.7"/><path d="M280.7,546.7L280.7,546.7L274.7,546.7L274.7,546.7L275,545.6L275.6,544.6L276.6,544L277.7,543.7L278.9,544L279.9,544.6L280.5,545.6Z" fill="#555555"/><path d="M292.1,559.8L291.8,561L291.2,561.9L290.2,562.6L289.1,562.8L287.9,562.6L286.9,561.9L286.3,561L286.1,559.8L286.3,558.7L286.9,557.7L287.9,557.1L289.1,556.8L290.2,557.1L291.2,557.7L291.8,558.7Z" fill="#fff" stroke="#555555" stroke-width="0.7"/><path d="M292.1,559.8L292.1,559.8L286.1,559.8L286.1,559.8L286.3,558.7L286.9,557.7L287.9,557.1L289.1,556.8L290.2,557.1L291.2,557.7L291.8,558.7Z" fill="#555555"/><path d="M303.4,570.3L303.1,571.4L302.5,572.4L301.5,573.1L300.4,573.3L299.2,573.1L298.2,572.4L297.6,571.4L297.4,570.3L297.6,569.1L298.2,568.2L299.2,567.5L300.4,567.3L301.5,567.5L302.5,568.2L303.1,569.1Z" fill="#fff" stroke="#555555" stroke-width="0.7"/><path d="M303.4,570.3L303.4,570.3L297.4,570.3L297.4,570.3L297.6,569.1L298.2,568.2L299.2,567.5L300.4,567.3L301.5,567.5L302.5,568.2L303.1,569.1Z" fill="#555555"/><path d="M314.7,578.6L314.5,579.7L313.8,580.7L312.8,581.4L311.7,581.6L310.5,581.4L309.6,580.7L308.9,579.7L308.7,578.6L308.9,577.5L309.6,576.5L310.5,575.8L311.7,575.6L312.8,575.8L313.8,576.5L314.5,577.5Z" fill="#fff" stroke="#555555" stroke-width="0.7"/><path d="M314.7,578.6L314.7,578.6L308.7,578.6L308.7,578.6L308.9,577.5L309.6,576.5L310.5,575.8L311.7,575.6L312.8,575.8L313.8,576.5L314.5,577.5Z" fill="#555555"/><path d="M326,585.6L325.8,586.7L325.1,587.7L324.1,588.3L323,588.6L321.8,588.3L320.9,587.7L320.2,586.7L320,585.6L320.2,584.4L320.9,583.4L321.8,582.8L323,582.6L324.1,582.8L325.1,583.4L325.8,584.4Z" fill="#fff" stroke="#555555" stroke-width="0.7"/><path d="M326,585.6L326,585.6L320,585.6L320,585.6L320.2,584.4L320.9,583.4L321.8,582.8L323,582.6L324.1,582.8L325.1,583.4L325.8,584.4Z" fill="#555555"/><path d="M337.3,591.2L337.1,592.3L336.4,593.3L335.5,593.9L334.3,594.2L333.2,593.9L332.2,593.3L331.5,592.3L331.3,591.2L331.5,590L332.2,589L333.2,588.4L334.3,588.2L335.5,588.4L336.4,589L337.1,590Z" fill="#fff" stroke="#555555" stroke-width="0.7"/><path d="M337.3,591.2L337.3,591.2L331.3,591.2L331.3,591.2L331.5,590L332.2,589L333.2,588.4L334.3,588.2L335.5,588.4L336.4,589L337.1,590Z" fill="#555555"/><path d="M348.6,595.6L348.4,596.7L347.7,597.7L346.8,598.4L345.6,598.6L344.5,598.4L343.5,597.7L342.8,596.7L342.6,595.6L342.8,594.4L343.5,593.5L344.5,592.8L345.6,592.6L346.8,592.8L347.7,593.5L348.4,594.4Z" fill="#fff" stroke="#555555" stroke-width="0.7"/><path d="M348.6,595.6L348.6,595.6L342.6,595.6L342.6,595.6L342.8,594.4L343.5,593.5L344.5,592.8L345.6,592.6L346.8,592.8L347.7,593.5L348.4,594.4Z" fill="#555555"/><path d="M359.9,599.3L359.7,600.5L359,601.4L358.1,602.1L356.9,602.3L355.8,602.1L354.8,601.4L354.2,600.5L353.9,599.3L354.2,598.2L354.8,597.2L355.8,596.5L356.9,596.3L358.1,596.5L359,597.2L359.7,598.2Z" fill="#fff" stroke="#555555" stroke-width="0.7"/><path d="M359.9,599.3L359.9,599.3L353.9,599.3L353.9,599.3L354.2,598.2L354.8,597.2L355.8,596.5L356.9,596.3L358.1,596.5L359,597.2L359.7,598.2Z" fill="#555555"/><path d="M371.2,602.6L371,603.8L370.4,604.8L369.4,605.4L368.2,605.6L367.1,605.4L366.1,604.8L365.5,603.8L365.2,602.6L365.5,601.5L366.1,600.5L367.1,599.9L368.2,599.6L369.4,599.9L370.4,600.5L371,601.5Z" fill="#fff" stroke="#555555" stroke-width="0.7"/><path d="M371.2,602.6L371.2,602.6L365.2,602.6L365.2,602.6L365.5,601.5L366.1,600.5L367.1,599.9L368.2,599.6L369.4,599.9L370.4,600.5L371,601.5Z" fill="#555555"/><path d="M382.6,605.8L382.3,606.9L381.7,607.9L380.7,608.5L379.6,608.8L378.4,608.5L377.4,607.9L376.8,606.9L376.6,605.8L376.8,604.6L377.4,603.7L378.4,603L379.6,602.8L380.7,603L381.7,603.7L382.3,604.6Z" fill="#fff" stroke="#555555" stroke-width="0.7"/><path d="M382.6,605.8L382.6,605.8L376.6,605.8L376.6,605.8L376.8,604.6L377.4,603.7L378.4,603L379.6,602.8L380.7,603L381.7,603.7L382.3,604.6Z" fill="#555555"/><path d="M393.9,608.6L393.6,609.7L393,610.7L392,611.4L390.9,611.6L389.7,611.4L388.7,610.7L388.1,609.7L387.9,608.6L388.1,607.5L388.7,606.5L389.7,605.8L390.9,605.6L392,605.8L393,606.5L393.6,607.5Z" fill="#fff" stroke="#555555" stroke-width="0.7"/><path d="M393.9,608.6L393.9,608.6L387.9,608.6L387.9,608.6L388.1,607.5L388.7,606.5L389.7,605.8L390.9,605.6L392,605.8L393,606.5L393.6,607.5Z" fill="#555555"/><path d="M405.2,611L404.9,612.2L404.3,613.2L403.3,613.8L402.2,614L401,613.8L400.1,613.2L399.4,612.2L399.2,611L399.4,609.9L400.1,608.9L401,608.3L402.2,608L403.3,608.3L404.3,608.9L404.9,609.9Z" fill="#fff" stroke="#555555" stroke-width="0.7"/><path d="M405.2,611L405.2,611L399.2,611L399.2,611L399.4,609.9L400.1,608.9L401,608.3L402.2,608L403.3,608.3L404.3,608.9L404.9,609.9Z" fill="#555555"/><path d="M416.5,613.1L416.3,614.3L415.6,615.2L414.6,615.9L413.5,616.1L412.3,615.9L411.4,615.2L410.7,614.3L410.5,613.1L410.7,612L411.4,611L412.3,610.3L413.5,610.1L414.6,610.3L415.6,611L416.3,612Z" fill="#fff" stroke="#555555" stroke-width="0.7"/><path d="M416.5,613.1L416.5,613.1L410.5,613.1L410.5,613.1L410.7,612L411.4,611L412.3,610.3L413.5,610.1L414.6,610.3L415.6,611L416.3,612Z" fill="#555555"/><path d="M427.8,614.8L427.6,616L426.9,617L425.9,617.6L424.8,617.8L423.7,617.6L422.7,617L422,616L421.8,614.8L422,613.7L422.7,612.7L423.7,612.1L424.8,611.8L425.9,612.1L426.9,612.7L427.6,613.7Z" fill="#fff" stroke="#555555" stroke-width="0.7"/><path d="M427.8,614.8L427.8,614.8L421.8,614.8L421.8,614.8L422,613.7L422.7,612.7L423.7,612.1L424.8,611.8L425.9,612.1L426.9,612.7L427.6,613.7Z" fill="#555555"/>
<path d="M51.5,623.4L53,623L54.5,622.6L56,622.1L57.5,621.6L59,621L60.5,620.3L62,619.7L63.5,619L65,618.1L66.5,617.2L68,616.3L69.5,615.2L71,614.2L72.5,613.1L74,612.1L75.5,611.1L77,610L78.5,609L80,607.9L81.5,606.8L83,605.7L84.5,604.7L86,603.6L87.5,602.5L89,601.4L90.5,600.4L92,599.3L93.5,598.1L95,597L96.5,595.8L98,594.5L99.5,593.2L101,591.9L102.5,590.5L104,589.1L105.5,587.8L107,586.5L108.5,585.3L110,584.1L111.5,582.9L113,581.7L114.5,580.5L116,579.3L117.5,578.1L119,576.9L120.5,575.6L122,574.3L123.5,573L125,571.6L126.5,570.2L128,568.9L129.5,567.5L131,566L132.5,564.6L134,563.2L135.5,561.7L137,560.2L138.5,558.7L140,557.1L141.5,555.6L143,554L144.5,552.3L146,550.6L147.5,548.9L149,547.2L150.5,545.5L152,543.9L153.5,542.3L155,540.8L156.5,539.4L158,537.9L159.5,536.4L161,535L162.5,533.5L164,531.9L165.5,530.3L167,528.7L168.5,527L170,525.4L171.5,523.7L173,522L174.5,520.3L176,518.6L177.5,517L179,515.3L180.5,513.7L182,512.1L183.5,510.4L185,508.6L186.5,506.8L188,504.9L189.5,502.9L191,500.9L192.5,498.8L194,496.7L195.5,494.7L197,492.8L198.5,491L200,489.2L201.5,487.3L203,485.6L204.5,483.9L206,482.4L207.5,481L209,479.8L210.5,478.5L212,477.3L213.5,476.1L215,475L216.5,474.1L218,473.4L219.5,473.1L221,473L222.5,473.1L224,473.3L225.5,473.6L227,474L228.5,474.5L230,475L231.5,475.5L233,476.4L234.5,477.6L236,479.2L237.5,481L239,483L240.5,485.1L242,487.3L243.5,489.5L245,492.1L246.5,495L248,498L249.5,501.1L251,504.1L252.5,507.1L254,509.8L255.5,512.5L257,515.2L258.5,517.9L260,520.6L261.5,523.3L263,526L264.5,528.6L266,531.2L267.5,533.7L269,536.1L270.5,538.5L272,540.8L273.5,543L275,545.1L276.5,547L278,549L279.5,550.8L281,552.7L282.5,554.4L284,556.2L285.5,557.9L287,559.5L288.5,561.1L290,562.7L291.5,564.2L293,565.7L294.5,567.1L296,568.5L297.5,569.8L299,571.1L300.5,572.3L302,573.5L303.5,574.6L305,575.8L306.5,576.9L308,577.9L309.5,579L311,580L312.5,581L314,582L315.5,583L317,583.9L318.5,584.9L320,585.8L321.5,586.6L323,587.5L324.5,588.3L326,589.1L327.5,589.9L329,590.6L330.5,591.3L332,592L333.5,592.7L335,593.4L336.5,594L338,594.6L339.5,595.2L341,595.8L342.5,596.4L344,596.9L345.5,597.4L347,598L348.5,598.5L350,599L351.5,599.5L353,600L354.5,600.4L356,600.9L357.5,601.4L359,601.8L360.5,602.3L362,602.7L363.5,603.2L365,603.6L366.5,604L368,604.5L369.5,604.9L371,605.3L372.5,605.8L374,606.2L375.5,606.6L377,607L378.5,607.4L380,607.8L381.5,608.2L383,608.6L384.5,609L386,609.3L387.5,609.7L389,610.1L390.5,610.4L392,610.8L393.5,611.1L395,611.4L396.5,611.8L398,612.1L399.5,612.4L401,612.7L402.5,613L404,613.3L405.5,613.6L407,613.9L408.5,614.1L410,614.4L411.5,614.7L413,614.9L414.5,615.2L416,615.4L417.5,615.7L419,615.9L420.5,616.1L422,616.3L423.5,616.6L425,616.8" fill="none" stroke="#a77ee0" stroke-width="3.4" stroke-linejoin="round"/>
<path d="M51.5,618.3L55.8,623.4L51.5,628.5L47.2,623.4Z" fill="#fff" stroke="#a77ee0" stroke-width="0.7"/><path d="M51.5,618.3L55.8,623.4L55.8,623.4L47.2,623.4L47.2,623.4Z" fill="#a77ee0"/><path d="M62.8,614.2L67.1,619.3L62.8,624.4L58.6,619.3Z" fill="#fff" stroke="#a77ee0" stroke-width="0.7"/><path d="M62.8,614.2L67.1,619.3L67.1,619.3L58.6,619.3L58.6,619.3Z" fill="#a77ee0"/><path d="M74.1,606.9L78.4,612L74.1,617.1L69.9,612Z" fill="#fff" stroke="#a77ee0" stroke-width="0.7"/><path d="M74.1,606.9L78.4,612L78.4,612L69.9,612L69.9,612Z" fill="#a77ee0"/><path d="M85.4,598.9L89.7,604L85.4,609.1L81.2,604Z" fill="#fff" stroke="#a77ee0" stroke-width="0.7"/><path d="M85.4,598.9L89.7,604L89.7,604L81.2,604L81.2,604Z" fill="#a77ee0"/><path d="M96.7,590.5L101,595.6L96.7,600.7L92.5,595.6Z" fill="#fff" stroke="#a77ee0" stroke-width="0.7"/><path d="M96.7,590.5L101,595.6L101,595.6L92.5,595.6L92.5,595.6Z" fill="#a77ee0"/><path d="M108.1,580.5L112.3,585.6L108.1,590.7L103.8,585.6Z" fill="#fff" stroke="#a77ee0" stroke-width="0.7"/><path d="M108.1,580.5L112.3,585.6L112.3,585.6L103.8,585.6L103.8,585.6Z" fill="#a77ee0"/><path d="M119.4,571.5L123.6,576.6L119.4,581.7L115.1,576.6Z" fill="#fff" stroke="#a77ee0" stroke-width="0.7"/><path d="M119.4,571.5L123.6,576.6L123.6,576.6L115.1,576.6L115.1,576.6Z" fill="#a77ee0"/><path d="M130.7,561.2L134.9,566.3L130.7,571.4L126.4,566.3Z" fill="#fff" stroke="#a77ee0" stroke-width="0.7"/><path d="M130.7,561.2L134.9,566.3L134.9,566.3L126.4,566.3L126.4,566.3Z" fill="#a77ee0"/><path d="M142,549.9L146.2,555L142,560.1L137.7,555Z" fill="#fff" stroke="#a77ee0" stroke-width="0.7"/><path d="M142,549.9L146.2,555L146.2,555L137.7,555L137.7,555Z" fill="#a77ee0"/><path d="M153.3,537.4L157.6,542.5L153.3,547.6L149.1,542.5Z" fill="#fff" stroke="#a77ee0" stroke-width="0.7"/><path d="M153.3,537.4L157.6,542.5L157.6,542.5L149.1,542.5L149.1,542.5Z" fill="#a77ee0"/><path d="M164.6,526.2L168.9,531.3L164.6,536.4L160.4,531.3Z" fill="#fff" stroke="#a77ee0" stroke-width="0.7"/><path d="M164.6,526.2L168.9,531.3L168.9,531.3L160.4,531.3L160.4,531.3Z" fill="#a77ee0"/><path d="M175.9,513.6L180.2,518.7L175.9,523.8L171.7,518.7Z" fill="#fff" stroke="#a77ee0" stroke-width="0.7"/><path d="M175.9,513.6L180.2,518.7L180.2,518.7L171.7,518.7L171.7,518.7Z" fill="#a77ee0"/><path d="M187.2,500.8L191.5,505.9L187.2,511L183,505.9Z" fill="#fff" stroke="#a77ee0" stroke-width="0.7"/><path d="M187.2,500.8L191.5,505.9L191.5,505.9L183,505.9L183,505.9Z" fill="#a77ee0"/><path d="M198.6,485.8L202.8,490.9L198.6,496L194.3,490.9Z" fill="#fff" stroke="#a77ee0" stroke-width="0.7"/><path d="M198.6,485.8L202.8,490.9L202.8,490.9L194.3,490.9L194.3,490.9Z" fill="#a77ee0"/><path d="M209.9,473.9L214.1,479L209.9,484.1L205.6,479Z" fill="#fff" stroke="#a77ee0" stroke-width="0.7"/><path d="M209.9,473.9L214.1,479L214.1,479L205.6,479L205.6,479Z" fill="#a77ee0"/><path d="M221.2,467.9L225.4,473L221.2,478.1L216.9,473Z" fill="#fff" stroke="#a77ee0" stroke-width="0.7"/><path d="M221.2,467.9L225.4,473L225.4,473L216.9,473L216.9,473Z" fill="#a77ee0"/><path d="M232.5,470.9L236.7,476L232.5,481.1L228.2,476Z" fill="#fff" stroke="#a77ee0" stroke-width="0.7"/><path d="M232.5,470.9L236.7,476L236.7,476L228.2,476L228.2,476Z" fill="#a77ee0"/><path d="M243.8,484.9L248.1,490L243.8,495.1L239.6,490Z" fill="#fff" stroke="#a77ee0" stroke-width="0.7"/><path d="M243.8,484.9L248.1,490L248.1,490L239.6,490L239.6,490Z" fill="#a77ee0"/><path d="M255.1,506.7L259.4,511.8L255.1,516.9L250.9,511.8Z" fill="#fff" stroke="#a77ee0" stroke-width="0.7"/><path d="M255.1,506.7L259.4,511.8L259.4,511.8L250.9,511.8L250.9,511.8Z" fill="#a77ee0"/><path d="M266.4,526.8L270.7,531.9L266.4,537L262.2,531.9Z" fill="#fff" stroke="#a77ee0" stroke-width="0.7"/><path d="M266.4,526.8L270.7,531.9L270.7,531.9L262.2,531.9L262.2,531.9Z" fill="#a77ee0"/><path d="M277.7,543.5L282,548.6L277.7,553.7L273.5,548.6Z" fill="#fff" stroke="#a77ee0" stroke-width="0.7"/><path d="M277.7,543.5L282,548.6L282,548.6L273.5,548.6L273.5,548.6Z" fill="#a77ee0"/><path d="M289.1,556.6L293.3,561.7L289.1,566.8L284.8,561.7Z" fill="#fff" stroke="#a77ee0" stroke-width="0.7"/><path d="M289.1,556.6L293.3,561.7L293.3,561.7L284.8,561.7L284.8,561.7Z" fill="#a77ee0"/><path d="M300.4,567.1L304.6,572.2L300.4,577.3L296.1,572.2Z" fill="#fff" stroke="#a77ee0" stroke-width="0.7"/><path d="M300.4,567.1L304.6,572.2L304.6,572.2L296.1,572.2L296.1,572.2Z" fill="#a77ee0"/><path d="M311.7,575.4L315.9,580.5L311.7,585.6L307.4,580.5Z" fill="#fff" stroke="#a77ee0" stroke-width="0.7"/><path d="M311.7,575.4L315.9,580.5L315.9,580.5L307.4,580.5L307.4,580.5Z" fill="#a77ee0"/><path d="M323,582.4L327.2,587.5L323,592.6L318.7,587.5Z" fill="#fff" stroke="#a77ee0" stroke-width="0.7"/><path d="M323,582.4L327.2,587.5L327.2,587.5L318.7,587.5L318.7,587.5Z" fill="#a77ee0"/><path d="M334.3,588L338.6,593.1L334.3,598.2L330.1,593.1Z" fill="#fff" stroke="#a77ee0" stroke-width="0.7"/><path d="M334.3,588L338.6,593.1L338.6,593.1L330.1,593.1L330.1,593.1Z" fill="#a77ee0"/><path d="M345.6,592.4L349.9,597.5L345.6,602.6L341.4,597.5Z" fill="#fff" stroke="#a77ee0" stroke-width="0.7"/><path d="M345.6,592.4L349.9,597.5L349.9,597.5L341.4,597.5L341.4,597.5Z" fill="#a77ee0"/><path d="M356.9,596.1L361.2,601.2L356.9,606.3L352.7,601.2Z" fill="#fff" stroke="#a77ee0" stroke-width="0.7"/><path d="M356.9,596.1L361.2,601.2L361.2,601.2L352.7,601.2L352.7,601.2Z" fill="#a77ee0"/><path d="M368.2,599.4L372.5,604.5L368.2,609.6L364,604.5Z" fill="#fff" stroke="#a77ee0" stroke-width="0.7"/><path d="M368.2,599.4L372.5,604.5L372.5,604.5L364,604.5L364,604.5Z" fill="#a77ee0"/><path d="M379.6,602.6L383.8,607.7L379.6,612.8L375.3,607.7Z" fill="#fff" stroke="#a77ee0" stroke-width="0.7"/><path d="M379.6,602.6L383.8,607.7L383.8,607.7L375.3,607.7L375.3,607.7Z" fill="#a77ee0"/><path d="M390.9,605.4L395.1,610.5L390.9,615.6L386.6,610.5Z" fill="#fff" stroke="#a77ee0" stroke-width="0.7"/><path d="M390.9,605.4L395.1,610.5L395.1,610.5L386.6,610.5L386.6,610.5Z" fill="#a77ee0"/><path d="M402.2,607.8L406.4,612.9L402.2,618L397.9,612.9Z" fill="#fff" stroke="#a77ee0" stroke-width="0.7"/><path d="M402.2,607.8L406.4,612.9L406.4,612.9L397.9,612.9L397.9,612.9Z" fill="#a77ee0"/><path d="M413.5,609.9L417.7,615L413.5,620.1L409.2,615Z" fill="#fff" stroke="#a77ee0" stroke-width="0.7"/><path d="M413.5,609.9L417.7,615L417.7,615L409.2,615L409.2,615Z" fill="#a77ee0"/><path d="M424.8,611.6L429,616.7L424.8,621.8L420.5,616.7Z" fill="#fff" stroke="#a77ee0" stroke-width="0.7"/><path d="M424.8,611.6L429,616.7L429,616.7L420.5,616.7L420.5,616.7Z" fill="#a77ee0"/>
<path d="M51.5,621L53,620.6L54.5,620.2L56,619.7L57.5,619.2L59,618.6L60.5,617.9L62,617.3L63.5,616.6L65,615.7L66.5,614.8L68,613.9L69.5,612.8L71,611.8L72.5,610.7L74,609.7L75.5,608.7L77,607.6L78.5,606.6L80,605.5L81.5,604.4L83,603.3L84.5,602.3L86,601.2L87.5,600.1L89,599L90.5,598L92,596.9L93.5,595.7L95,594.6L96.5,593.4L98,592.1L99.5,590.8L101,589.5L102.5,588.1L104,586.7L105.5,585.4L107,584.1L108.5,582.9L110,581.7L111.5,580.5L113,579.3L114.5,578.1L116,576.9L117.5,575.7L119,574.5L120.5,573.2L122,571.9L123.5,570.6L125,569.2L126.5,567.8L128,566.5L129.5,565.1L131,563.6L132.5,562.2L134,560.8L135.5,559.3L137,557.8L138.5,556.3L140,554.7L141.5,553.2L143,551.6L144.5,549.9L146,548.2L147.5,546.5L149,544.8L150.5,543.1L152,541.5L153.5,539.9L155,538.4L156.5,537L158,535.5L159.5,534L161,532.6L162.5,531.1L164,529.5L165.5,527.9L167,526.3L168.5,524.6L170,523L171.5,521.3L173,519.6L174.5,517.9L176,516.2L177.5,514.6L179,512.9L180.5,511.3L182,509.7L183.5,508L185,506.2L186.5,504.4L188,502.5L189.5,500.5L191,498.5L192.5,496.4L194,494.3L195.5,492.3L197,490.4L198.5,488.6L200,486.8L201.5,484.9L203,483.2L204.5,481.5L206,480L207.5,478.6L209,477.4L210.5,476.1L212,474.9L213.5,473.7L215,472.6L216.5,471.7L218,471L219.5,470.7L221,470.6L222.5,470.7L224,470.9L225.5,471.2L227,471.6L228.5,472.1L230,472.6L231.5,473.1L233,474L234.5,475.2L236,476.8L237.5,478.6L239,480.6L240.5,482.7L242,484.9L243.5,487.1L245,489.7L246.5,492.6L248,495.6L249.5,498.7L251,501.7L252.5,504.7L254,507.4L255.5,510.1L257,512.8L258.5,515.5L260,518.2L261.5,520.9L263,523.6L264.5,526.2L266,528.8L267.5,531.3L269,533.7L270.5,536.1L272,538.4L273.5,540.6L275,542.7L276.5,544.6L278,546.6L279.5,548.4L281,550.3L282.5,552L284,553.8L285.5,555.5L287,557.1L288.5,558.7L290,560.3L291.5,561.8L293,563.3L294.5,564.7L296,566.1L297.5,567.4L299,568.7L300.5,569.9L302,571.1L303.5,572.2L305,573.4L306.5,574.5L308,575.5L309.5,576.6L311,577.6L312.5,578.6L314,579.6L315.5,580.6L317,581.5L318.5,582.5L320,583.4L321.5,584.2L323,585.1L324.5,585.9L326,586.7L327.5,587.5L329,588.2L330.5,588.9L332,589.6L333.5,590.3L335,591L336.5,591.6L338,592.2L339.5,592.8L341,593.4L342.5,594L344,594.5L345.5,595L347,595.6L348.5,596.1L350,596.6L351.5,597.1L353,597.6L354.5,598L356,598.5L357.5,599L359,599.4L360.5,599.9L362,600.3L363.5,600.8L365,601.2L366.5,601.6L368,602.1L369.5,602.5L371,602.9L372.5,603.4L374,603.8L375.5,604.2L377,604.6L378.5,605L380,605.4L381.5,605.8L383,606.2L384.5,606.6L386,606.9L387.5,607.3L389,607.7L390.5,608L392,608.4L393.5,608.7L395,609L396.5,609.4L398,609.7L399.5,610L401,610.3L402.5,610.6L404,610.9L405.5,611.2L407,611.5L408.5,611.7L410,612L411.5,612.3L413,612.5L414.5,612.8L416,613L417.5,613.3L419,613.5L420.5,613.7L422,613.9L423.5,614.2L425,614.4" fill="none" stroke="#8c8c14" stroke-width="3.4" stroke-linejoin="round"/>
<path d="M54.9,621L54.6,622.3L53.9,623.4L52.8,624.1L51.5,624.4L50.2,624.1L49.1,623.4L48.4,622.3L48.1,621L48.4,619.7L49.1,618.6L50.2,617.8L51.5,617.6L52.8,617.8L53.9,618.6L54.6,619.7Z" fill="#fff" stroke="#8c8c14" stroke-width="0.7"/><path d="M54.9,621L54.9,621L48.1,621L48.1,621L48.4,619.7L49.1,618.6L50.2,617.8L51.5,617.6L52.8,617.8L53.9,618.6L54.6,619.7Z" fill="#8c8c14"/><path d="M66.2,616.9L66,618.2L65.2,619.3L64.1,620L62.8,620.3L61.5,620L60.4,619.3L59.7,618.2L59.4,616.9L59.7,615.6L60.4,614.5L61.5,613.8L62.8,613.5L64.1,613.8L65.2,614.5L66,615.6Z" fill="#fff" stroke="#8c8c14" stroke-width="0.7"/><path d="M66.2,616.9L66.2,616.9L59.4,616.9L59.4,616.9L59.7,615.6L60.4,614.5L61.5,613.8L62.8,613.5L64.1,613.8L65.2,614.5L66,615.6Z" fill="#8c8c14"/><path d="M77.5,609.6L77.3,610.9L76.5,612L75.4,612.8L74.1,613L72.8,612.8L71.7,612L71,610.9L70.7,609.6L71,608.3L71.7,607.2L72.8,606.5L74.1,606.2L75.4,606.5L76.5,607.2L77.3,608.3Z" fill="#fff" stroke="#8c8c14" stroke-width="0.7"/><path d="M77.5,609.6L77.5,609.6L70.7,609.6L70.7,609.6L71,608.3L71.7,607.2L72.8,606.5L74.1,606.2L75.4,606.5L76.5,607.2L77.3,608.3Z" fill="#8c8c14"/><path d="M88.8,601.6L88.6,602.9L87.8,604L86.7,604.7L85.4,605L84.1,604.7L83,604L82.3,602.9L82,601.6L82.3,600.3L83,599.2L84.1,598.4L85.4,598.2L86.7,598.4L87.8,599.2L88.6,600.3Z" fill="#fff" stroke="#8c8c14" stroke-width="0.7"/><path d="M88.8,601.6L88.8,601.6L82,601.6L82,601.6L82.3,600.3L83,599.2L84.1,598.4L85.4,598.2L86.7,598.4L87.8,599.2L88.6,600.3Z" fill="#8c8c14"/><path d="M100.1,593.2L99.9,594.5L99.2,595.6L98,596.3L96.7,596.6L95.4,596.3L94.3,595.6L93.6,594.5L93.3,593.2L93.6,591.9L94.3,590.8L95.4,590L96.7,589.8L98,590L99.2,590.8L99.9,591.9Z" fill="#fff" stroke="#8c8c14" stroke-width="0.7"/><path d="M100.1,593.2L100.1,593.2L93.3,593.2L93.3,593.2L93.6,591.9L94.3,590.8L95.4,590L96.7,589.8L98,590L99.2,590.8L99.9,591.9Z" fill="#8c8c14"/><path d="M111.5,583.2L111.2,584.5L110.5,585.6L109.4,586.4L108.1,586.6L106.8,586.4L105.7,585.6L104.9,584.5L104.7,583.2L104.9,581.9L105.7,580.8L106.8,580.1L108.1,579.8L109.4,580.1L110.5,580.8L111.2,581.9Z" fill="#fff" stroke="#8c8c14" stroke-width="0.7"/><path d="M111.5,583.2L111.5,583.2L104.7,583.2L104.7,583.2L104.9,581.9L105.7,580.8L106.8,580.1L108.1,579.8L109.4,580.1L110.5,580.8L111.2,581.9Z" fill="#8c8c14"/><path d="M122.8,574.2L122.5,575.5L121.8,576.6L120.7,577.3L119.4,577.6L118.1,577.3L117,576.6L116.2,575.5L116,574.2L116.2,572.9L117,571.7L118.1,571L119.4,570.8L120.7,571L121.8,571.7L122.5,572.9Z" fill="#fff" stroke="#8c8c14" stroke-width="0.7"/><path d="M122.8,574.2L122.8,574.2L116,574.2L116,574.2L116.2,572.9L117,571.7L118.1,571L119.4,570.8L120.7,571L121.8,571.7L122.5,572.9Z" fill="#8c8c14"/><path d="M134.1,563.9L133.8,565.2L133.1,566.4L132,567.1L130.7,567.3L129.4,567.1L128.3,566.4L127.5,565.2L127.3,563.9L127.5,562.6L128.3,561.5L129.4,560.8L130.7,560.5L132,560.8L133.1,561.5L133.8,562.6Z" fill="#fff" stroke="#8c8c14" stroke-width="0.7"/><path d="M134.1,563.9L134.1,563.9L127.3,563.9L127.3,563.9L127.5,562.6L128.3,561.5L129.4,560.8L130.7,560.5L132,560.8L133.1,561.5L133.8,562.6Z" fill="#8c8c14"/><path d="M145.4,552.6L145.1,553.9L144.4,555.1L143.3,555.8L142,556L140.7,555.8L139.6,555.1L138.9,553.9L138.6,552.6L138.9,551.3L139.6,550.2L140.7,549.5L142,549.2L143.3,549.5L144.4,550.2L145.1,551.3Z" fill="#fff" stroke="#8c8c14" stroke-width="0.7"/><path d="M145.4,552.6L145.4,552.6L138.6,552.6L138.6,552.6L138.9,551.3L139.6,550.2L140.7,549.5L142,549.2L143.3,549.5L144.4,550.2L145.1,551.3Z" fill="#8c8c14"/><path d="M156.7,540.1L156.5,541.4L155.7,542.5L154.6,543.3L153.3,543.5L152,543.3L150.9,542.5L150.2,541.4L149.9,540.1L150.2,538.8L150.9,537.7L152,537L153.3,536.7L154.6,537L155.7,537.7L156.5,538.8Z" fill="#fff" stroke="#8c8c14" stroke-width="0.7"/><path d="M156.7,540.1L156.7,540.1L149.9,540.1L149.9,540.1L150.2,538.8L150.9,537.7L152,537L153.3,536.7L154.6,537L155.7,537.7L156.5,538.8Z" fill="#8c8c14"/><path d="M168,528.9L167.8,530.2L167,531.3L165.9,532L164.6,532.3L163.3,532L162.2,531.3L161.5,530.2L161.2,528.9L161.5,527.6L162.2,526.5L163.3,525.7L164.6,525.5L165.9,525.7L167,526.5L167.8,527.6Z" fill="#fff" stroke="#8c8c14" stroke-width="0.7"/><path d="M168,528.9L168,528.9L161.2,528.9L161.2,528.9L161.5,527.6L162.2,526.5L163.3,525.7L164.6,525.5L165.9,525.7L167,526.5L167.8,527.6Z" fill="#8c8c14"/><path d="M179.3,516.3L179.1,517.6L178.3,518.7L177.2,519.4L175.9,519.7L174.6,519.4L173.5,518.7L172.8,517.6L172.5,516.3L172.8,515L173.5,513.9L174.6,513.2L175.9,512.9L177.2,513.2L178.3,513.9L179.1,515Z" fill="#fff" stroke="#8c8c14" stroke-width="0.7"/><path d="M179.3,516.3L179.3,516.3L172.5,516.3L172.5,516.3L172.8,515L173.5,513.9L174.6,513.2L175.9,512.9L177.2,513.2L178.3,513.9L179.1,515Z" fill="#8c8c14"/><path d="M190.6,503.5L190.4,504.8L189.6,505.9L188.5,506.6L187.2,506.9L185.9,506.6L184.8,505.9L184.1,504.8L183.8,503.5L184.1,502.2L184.8,501.1L185.9,500.4L187.2,500.1L188.5,500.4L189.6,501.1L190.4,502.2Z" fill="#fff" stroke="#8c8c14" stroke-width="0.7"/><path d="M190.6,503.5L190.6,503.5L183.8,503.5L183.8,503.5L184.1,502.2L184.8,501.1L185.9,500.4L187.2,500.1L188.5,500.4L189.6,501.1L190.4,502.2Z" fill="#8c8c14"/><path d="M202,488.5L201.7,489.8L201,490.9L199.9,491.7L198.6,491.9L197.3,491.7L196.2,490.9L195.4,489.8L195.2,488.5L195.4,487.2L196.2,486.1L197.3,485.4L198.6,485.1L199.9,485.4L201,486.1L201.7,487.2Z" fill="#fff" stroke="#8c8c14" stroke-width="0.7"/><path d="M202,488.5L202,488.5L195.2,488.5L195.2,488.5L195.4,487.2L196.2,486.1L197.3,485.4L198.6,485.1L199.9,485.4L201,486.1L201.7,487.2Z" fill="#8c8c14"/><path d="M213.3,476.6L213,477.9L212.3,479L211.2,479.8L209.9,480L208.6,479.8L207.5,479L206.7,477.9L206.5,476.6L206.7,475.3L207.5,474.2L208.6,473.5L209.9,473.2L211.2,473.5L212.3,474.2L213,475.3Z" fill="#fff" stroke="#8c8c14" stroke-width="0.7"/><path d="M213.3,476.6L213.3,476.6L206.5,476.6L206.5,476.6L206.7,475.3L207.5,474.2L208.6,473.5L209.9,473.2L211.2,473.5L212.3,474.2L213,475.3Z" fill="#8c8c14"/><path d="M224.6,470.6L224.3,471.9L223.6,473L222.5,473.8L221.2,474L219.9,473.8L218.8,473L218,471.9L217.8,470.6L218,469.3L218.8,468.2L219.9,467.5L221.2,467.2L222.5,467.5L223.6,468.2L224.3,469.3Z" fill="#fff" stroke="#8c8c14" stroke-width="0.7"/><path d="M224.6,470.6L224.6,470.6L217.8,470.6L217.8,470.6L218,469.3L218.8,468.2L219.9,467.5L221.2,467.2L222.5,467.5L223.6,468.2L224.3,469.3Z" fill="#8c8c14"/><path d="M235.9,473.6L235.6,474.9L234.9,476L233.8,476.8L232.5,477L231.2,476.8L230.1,476L229.4,474.9L229.1,473.6L229.4,472.3L230.1,471.2L231.2,470.5L232.5,470.2L233.8,470.5L234.9,471.2L235.6,472.3Z" fill="#fff" stroke="#8c8c14" stroke-width="0.7"/><path d="M235.9,473.6L235.9,473.6L229.1,473.6L229.1,473.6L229.4,472.3L230.1,471.2L231.2,470.5L232.5,470.2L233.8,470.5L234.9,471.2L235.6,472.3Z" fill="#8c8c14"/><path d="M247.2,487.6L246.9,488.9L246.2,490L245.1,490.8L243.8,491L242.5,490.8L241.4,490L240.7,488.9L240.4,487.6L240.7,486.3L241.4,485.2L242.5,484.5L243.8,484.2L245.1,484.5L246.2,485.2L246.9,486.3Z" fill="#fff" stroke="#8c8c14" stroke-width="0.7"/><path d="M247.2,487.6L247.2,487.6L240.4,487.6L240.4,487.6L240.7,486.3L241.4,485.2L242.5,484.5L243.8,484.2L245.1,484.5L246.2,485.2L246.9,486.3Z" fill="#8c8c14"/><path d="M258.5,509.4L258.3,510.7L257.5,511.8L256.4,512.5L255.1,512.8L253.8,512.5L252.7,511.8L252,510.7L251.7,509.4L252,508.1L252.7,507L253.8,506.3L255.1,506L256.4,506.3L257.5,507L258.3,508.1Z" fill="#fff" stroke="#8c8c14" stroke-width="0.7"/><path d="M258.5,509.4L258.5,509.4L251.7,509.4L251.7,509.4L252,508.1L252.7,507L253.8,506.3L255.1,506L256.4,506.3L257.5,507L258.3,508.1Z" fill="#8c8c14"/><path d="M269.8,529.5L269.6,530.8L268.8,531.9L267.7,532.6L266.4,532.9L265.1,532.6L264,531.9L263.3,530.8L263,529.5L263.3,528.2L264,527.1L265.1,526.4L266.4,526.1L267.7,526.4L268.8,527.1L269.6,528.2Z" fill="#fff" stroke="#8c8c14" stroke-width="0.7"/><path d="M269.8,529.5L269.8,529.5L263,529.5L263,529.5L263.3,528.2L264,527.1L265.1,526.4L266.4,526.1L267.7,526.4L268.8,527.1L269.6,528.2Z" fill="#8c8c14"/><path d="M281.1,546.2L280.9,547.5L280.1,548.6L279,549.4L277.7,549.6L276.4,549.4L275.3,548.6L274.6,547.5L274.3,546.2L274.6,544.9L275.3,543.8L276.4,543.1L277.7,542.8L279,543.1L280.1,543.8L280.9,544.9Z" fill="#fff" stroke="#8c8c14" stroke-width="0.7"/><path d="M281.1,546.2L281.1,546.2L274.3,546.2L274.3,546.2L274.6,544.9L275.3,543.8L276.4,543.1L277.7,542.8L279,543.1L280.1,543.8L280.9,544.9Z" fill="#8c8c14"/><path d="M292.5,559.3L292.2,560.6L291.5,561.7L290.4,562.5L289.1,562.7L287.8,562.5L286.7,561.7L285.9,560.6L285.7,559.3L285.9,558L286.7,556.9L287.8,556.2L289.1,555.9L290.4,556.2L291.5,556.9L292.2,558Z" fill="#fff" stroke="#8c8c14" stroke-width="0.7"/><path d="M292.5,559.3L292.5,559.3L285.7,559.3L285.7,559.3L285.9,558L286.7,556.9L287.8,556.2L289.1,555.9L290.4,556.2L291.5,556.9L292.2,558Z" fill="#8c8c14"/><path d="M303.8,569.8L303.5,571.1L302.8,572.2L301.7,572.9L300.4,573.2L299.1,572.9L298,572.2L297.2,571.1L297,569.8L297.2,568.5L298,567.4L299.1,566.7L300.4,566.4L301.7,566.7L302.8,567.4L303.5,568.5Z" fill="#fff" stroke="#8c8c14" stroke-width="0.7"/><path d="M303.8,569.8L303.8,569.8L297,569.8L297,569.8L297.2,568.5L298,567.4L299.1,566.7L300.4,566.4L301.7,566.7L302.8,567.4L303.5,568.5Z" fill="#8c8c14"/><path d="M315.1,578.1L314.8,579.4L314.1,580.5L313,581.2L311.7,581.5L310.4,581.2L309.3,580.5L308.5,579.4L308.3,578.1L308.5,576.8L309.3,575.7L310.4,575L311.7,574.7L313,575L314.1,575.7L314.8,576.8Z" fill="#fff" stroke="#8c8c14" stroke-width="0.7"/><path d="M315.1,578.1L315.1,578.1L308.3,578.1L308.3,578.1L308.5,576.8L309.3,575.7L310.4,575L311.7,574.7L313,575L314.1,575.7L314.8,576.8Z" fill="#8c8c14"/><path d="M326.4,585.1L326.1,586.4L325.4,587.5L324.3,588.2L323,588.5L321.7,588.2L320.6,587.5L319.8,586.4L319.6,585.1L319.8,583.8L320.6,582.7L321.7,581.9L323,581.7L324.3,581.9L325.4,582.7L326.1,583.8Z" fill="#fff" stroke="#8c8c14" stroke-width="0.7"/><path d="M326.4,585.1L326.4,585.1L319.6,585.1L319.6,585.1L319.8,583.8L320.6,582.7L321.7,581.9L323,581.7L324.3,581.9L325.4,582.7L326.1,583.8Z" fill="#8c8c14"/><path d="M337.7,590.7L337.4,592L336.7,593.1L335.6,593.8L334.3,594.1L333,593.8L331.9,593.1L331.2,592L330.9,590.7L331.2,589.4L331.9,588.2L333,587.5L334.3,587.3L335.6,587.5L336.7,588.2L337.4,589.4Z" fill="#fff" stroke="#8c8c14" stroke-width="0.7"/><path d="M337.7,590.7L337.7,590.7L330.9,590.7L330.9,590.7L331.2,589.4L331.9,588.2L333,587.5L334.3,587.3L335.6,587.5L336.7,588.2L337.4,589.4Z" fill="#8c8c14"/><path d="M349,595.1L348.8,596.4L348,597.5L346.9,598.2L345.6,598.5L344.3,598.2L343.2,597.5L342.5,596.4L342.2,595.1L342.5,593.8L343.2,592.7L344.3,591.9L345.6,591.7L346.9,591.9L348,592.7L348.8,593.8Z" fill="#fff" stroke="#8c8c14" stroke-width="0.7"/><path d="M349,595.1L349,595.1L342.2,595.1L342.2,595.1L342.5,593.8L343.2,592.7L344.3,591.9L345.6,591.7L346.9,591.9L348,592.7L348.8,593.8Z" fill="#8c8c14"/><path d="M360.3,598.8L360.1,600.1L359.3,601.2L358.2,601.9L356.9,602.2L355.6,601.9L354.5,601.2L353.8,600.1L353.5,598.8L353.8,597.5L354.5,596.4L355.6,595.7L356.9,595.4L358.2,595.7L359.3,596.4L360.1,597.5Z" fill="#fff" stroke="#8c8c14" stroke-width="0.7"/><path d="M360.3,598.8L360.3,598.8L353.5,598.8L353.5,598.8L353.8,597.5L354.5,596.4L355.6,595.7L356.9,595.4L358.2,595.7L359.3,596.4L360.1,597.5Z" fill="#8c8c14"/><path d="M371.6,602.1L371.4,603.4L370.6,604.6L369.5,605.3L368.2,605.5L366.9,605.3L365.8,604.6L365.1,603.4L364.8,602.1L365.1,600.8L365.8,599.7L366.9,599L368.2,598.7L369.5,599L370.6,599.7L371.4,600.8Z" fill="#fff" stroke="#8c8c14" stroke-width="0.7"/><path d="M371.6,602.1L371.6,602.1L364.8,602.1L364.8,602.1L365.1,600.8L365.8,599.7L366.9,599L368.2,598.7L369.5,599L370.6,599.7L371.4,600.8Z" fill="#8c8c14"/><path d="M383,605.3L382.7,606.6L382,607.7L380.9,608.4L379.6,608.7L378.3,608.4L377.1,607.7L376.4,606.6L376.2,605.3L376.4,604L377.1,602.9L378.3,602.1L379.6,601.9L380.9,602.1L382,602.9L382.7,604Z" fill="#fff" stroke="#8c8c14" stroke-width="0.7"/><path d="M383,605.3L383,605.3L376.2,605.3L376.2,605.3L376.4,604L377.1,602.9L378.3,602.1L379.6,601.9L380.9,602.1L382,602.9L382.7,604Z" fill="#8c8c14"/><path d="M394.3,608.1L394,609.4L393.3,610.5L392.2,611.2L390.9,611.5L389.6,611.2L388.5,610.5L387.7,609.4L387.5,608.1L387.7,606.8L388.5,605.7L389.6,605L390.9,604.7L392.2,605L393.3,605.7L394,606.8Z" fill="#fff" stroke="#8c8c14" stroke-width="0.7"/><path d="M394.3,608.1L394.3,608.1L387.5,608.1L387.5,608.1L387.7,606.8L388.5,605.7L389.6,605L390.9,604.7L392.2,605L393.3,605.7L394,606.8Z" fill="#8c8c14"/><path d="M405.6,610.5L405.3,611.8L404.6,612.9L403.5,613.7L402.2,613.9L400.9,613.7L399.8,612.9L399,611.8L398.8,610.5L399,609.2L399.8,608.1L400.9,607.4L402.2,607.1L403.5,607.4L404.6,608.1L405.3,609.2Z" fill="#fff" stroke="#8c8c14" stroke-width="0.7"/><path d="M405.6,610.5L405.6,610.5L398.8,610.5L398.8,610.5L399,609.2L399.8,608.1L400.9,607.4L402.2,607.1L403.5,607.4L404.6,608.1L405.3,609.2Z" fill="#8c8c14"/><path d="M416.9,612.6L416.6,613.9L415.9,615L414.8,615.7L413.5,616L412.2,615.7L411.1,615L410.3,613.9L410.1,612.6L410.3,611.3L411.1,610.2L412.2,609.5L413.5,609.2L414.8,609.5L415.9,610.2L416.6,611.3Z" fill="#fff" stroke="#8c8c14" stroke-width="0.7"/><path d="M416.9,612.6L416.9,612.6L410.1,612.6L410.1,612.6L410.3,611.3L411.1,610.2L412.2,609.5L413.5,609.2L414.8,609.5L415.9,610.2L416.6,611.3Z" fill="#8c8c14"/><path d="M428.2,614.3L427.9,615.6L427.2,616.7L426.1,617.5L424.8,617.7L423.5,617.5L422.4,616.7L421.7,615.6L421.4,614.3L421.7,613L422.4,611.9L423.5,611.2L424.8,610.9L426.1,611.2L427.2,611.9L427.9,613Z" fill="#fff" stroke="#8c8c14" stroke-width="0.7"/><path d="M428.2,614.3L428.2,614.3L421.4,614.3L421.4,614.3L421.7,613L422.4,611.9L423.5,611.2L424.8,610.9L426.1,611.2L427.2,611.9L427.9,613Z" fill="#8c8c14"/>
<path d="M51.5,608L53,607.5L54.5,607L56,606.4L57.5,605.8L59,605.2L60.5,604.5L62,603.8L63.5,603L65,602.2L66.5,601.3L68,600.4L69.5,599.4L71,598.4L72.5,597.3L74,596.3L75.5,595.2L77,594.1L78.5,592.9L80,591.7L81.5,590.5L83,589.3L84.5,588.1L86,586.9L87.5,585.8L89,584.7L90.5,583.5L92,582.4L93.5,581.2L95,580L96.5,578.8L98,577.5L99.5,576.1L101,574.8L102.5,573.4L104,572L105.5,570.7L107,569.4L108.5,568.2L110,567L111.5,565.8L113,564.7L114.5,563.6L116,562.4L117.5,561.2L119,559.9L120.5,558.5L122,557.1L123.5,555.5L125,554L126.5,552.4L128,550.9L129.5,549.3L131,547.8L132.5,546.3L134,544.8L135.5,543.3L137,541.8L138.5,540.3L140,538.8L141.5,537.3L143,535.8L144.5,534.3L146,532.8L147.5,531.3L149,529.8L150.5,528.3L152,526.8L153.5,525.3L155,523.8L156.5,522.3L158,520.9L159.5,519.4L161,517.9L162.5,516.4L164,514.8L165.5,513.2L167,511.6L168.5,509.9L170,508.2L171.5,506.5L173,504.9L174.5,503.3L176,501.7L177.5,500.2L179,498.7L180.5,497.2L182,495.7L183.5,494.2L185,492.7L186.5,491.1L188,489.3L189.5,487.5L191,485.6L192.5,483.7L194,481.8L195.5,480L197,478.2L198.5,476.5L200,474.8L201.5,473.1L203,471.5L204.5,470L206,468.6L207.5,467.4L209,466.5L210.5,465.6L212,464.7L213.5,463.9L215,463.2L216.5,462.6L218,462.3L219.5,462.1L221,462.2L222.5,462.4L224,462.7L225.5,463.2L227,463.8L228.5,464.5L230,465.3L231.5,466.1L233,466.9L234.5,468.3L236,470L237.5,472L239,474.3L240.5,476.7L242,479.1L243.5,481.5L245,484L246.5,486.6L248,489.5L249.5,492.4L251,495.4L252.5,498.3L254,501.3L255.5,504.1L257,507L258.5,510L260,512.9L261.5,515.8L263,518.6L264.5,521.4L266,524L267.5,526.5L269,529L270.5,531.4L272,533.8L273.5,536L275,538.3L276.5,540.4L278,542.5L279.5,544.5L281,546.4L282.5,548.3L284,550.1L285.5,551.9L287,553.6L288.5,555.3L290,556.9L291.5,558.5L293,560.1L294.5,561.6L296,563L297.5,564.4L299,565.8L300.5,567.1L302,568.4L303.5,569.7L305,570.9L306.5,572.1L308,573.2L309.5,574.3L311,575.3L312.5,576.2L314,577.1L315.5,577.9L317,578.7L318.5,579.5L320,580.3L321.5,581.1L323,581.9L324.5,582.8L326,583.6L327.5,584.5L329,585.4L330.5,586.2L332,587L333.5,587.8L335,588.5L336.5,589.3L338,589.9L339.5,590.6L341,591.3L342.5,591.9L344,592.5L345.5,593.1L347,593.6L348.5,594.1L350,594.6L351.5,595.1L353,595.5L354.5,596L356,596.5L357.5,597L359,597.5L360.5,598.1L362,598.6L363.5,599.1L365,599.6L366.5,600.1L368,600.5L369.5,600.9L371,601.2L372.5,601.5L374,601.8L375.5,602.2L377,602.5L378.5,602.8L380,603.1L381.5,603.5L383,603.8L384.5,604.2L386,604.5L387.5,604.8L389,605.1L390.5,605.4L392,605.7L393.5,606L395,606.3L396.5,606.5L398,606.8L399.5,607.1L401,607.3L402.5,607.5L404,607.8L405.5,608L407,608.3L408.5,608.5L410,608.7L411.5,608.9L413,609.1L414.5,609.3L416,609.4L417.5,609.6L419,609.7L420.5,609.9L422,610L423.5,610.1L425,610.2" fill="none" stroke="#7a5050" stroke-width="3.4" stroke-linejoin="round"/>
<path d="M55.1,610L51.5,612.1L47.9,610L47.9,605.9L51.5,603.8L55.1,605.9Z" fill="#fff" stroke="#7a5050" stroke-width="0.7"/><path d="M47.9,608L47.9,605.9L51.5,603.8L55.1,605.9L55.1,608Z" fill="#7a5050"/><path d="M66.4,605.5L62.8,607.5L59.2,605.5L59.2,601.3L62.8,599.2L66.4,601.3Z" fill="#fff" stroke="#7a5050" stroke-width="0.7"/><path d="M59.2,603.4L59.2,601.3L62.8,599.2L66.4,601.3L66.4,603.4Z" fill="#7a5050"/><path d="M77.7,598.3L74.1,600.4L70.5,598.3L70.5,594.1L74.1,592.1L77.7,594.1Z" fill="#fff" stroke="#7a5050" stroke-width="0.7"/><path d="M70.5,596.2L70.5,594.1L74.1,592.1L77.7,594.1L77.7,596.2Z" fill="#7a5050"/><path d="M89,589.4L85.4,591.5L81.8,589.4L81.8,585.3L85.4,583.2L89,585.3Z" fill="#fff" stroke="#7a5050" stroke-width="0.7"/><path d="M81.8,587.4L81.8,585.3L85.4,583.2L89,585.3L89,587.4Z" fill="#7a5050"/><path d="M100.3,580.6L96.7,582.7L93.2,580.6L93.2,576.5L96.7,574.4L100.3,576.5Z" fill="#fff" stroke="#7a5050" stroke-width="0.7"/><path d="M93.2,578.6L93.2,576.5L96.7,574.4L100.3,576.5L100.3,578.6Z" fill="#7a5050"/><path d="M111.7,570.6L108.1,572.7L104.5,570.6L104.5,566.4L108.1,564.4L111.7,566.4Z" fill="#fff" stroke="#7a5050" stroke-width="0.7"/><path d="M104.5,568.5L104.5,566.4L108.1,564.4L111.7,566.4L111.7,568.5Z" fill="#7a5050"/><path d="M123,561.6L119.4,563.7L115.8,561.6L115.8,557.5L119.4,555.4L123,557.5Z" fill="#fff" stroke="#7a5050" stroke-width="0.7"/><path d="M115.8,559.5L115.8,557.5L119.4,555.4L123,557.5L123,559.5Z" fill="#7a5050"/><path d="M134.3,550.2L130.7,552.3L127.1,550.2L127.1,546L130.7,544L134.3,546Z" fill="#fff" stroke="#7a5050" stroke-width="0.7"/><path d="M127.1,548.1L127.1,546L130.7,544L134.3,546L134.3,548.1Z" fill="#7a5050"/><path d="M145.6,538.9L142,541L138.4,538.9L138.4,534.7L142,532.7L145.6,534.7Z" fill="#fff" stroke="#7a5050" stroke-width="0.7"/><path d="M138.4,536.8L138.4,534.7L142,532.7L145.6,534.7L145.6,536.8Z" fill="#7a5050"/><path d="M156.9,527.6L153.3,529.6L149.7,527.6L149.7,523.4L153.3,521.3L156.9,523.4Z" fill="#fff" stroke="#7a5050" stroke-width="0.7"/><path d="M149.7,525.5L149.7,523.4L153.3,521.3L156.9,523.4L156.9,525.5Z" fill="#7a5050"/><path d="M168.2,516.2L164.6,518.3L161,516.2L161,512.1L164.6,510L168.2,512.1Z" fill="#fff" stroke="#7a5050" stroke-width="0.7"/><path d="M161,514.2L161,512.1L164.6,510L168.2,512.1L168.2,514.2Z" fill="#7a5050"/><path d="M179.5,503.8L175.9,505.9L172.3,503.8L172.3,499.7L175.9,497.6L179.5,499.7Z" fill="#fff" stroke="#7a5050" stroke-width="0.7"/><path d="M172.3,501.7L172.3,499.7L175.9,497.6L179.5,499.7L179.5,501.7Z" fill="#7a5050"/><path d="M190.8,492.3L187.2,494.4L183.7,492.3L183.7,488.1L187.2,486.1L190.8,488.1Z" fill="#fff" stroke="#7a5050" stroke-width="0.7"/><path d="M183.7,490.2L183.7,488.1L187.2,486.1L190.8,488.1L190.8,490.2Z" fill="#7a5050"/><path d="M202.2,478.6L198.6,480.6L195,478.6L195,474.4L198.6,472.3L202.2,474.4Z" fill="#fff" stroke="#7a5050" stroke-width="0.7"/><path d="M195,476.5L195,474.4L198.6,472.3L202.2,474.4L202.2,476.5Z" fill="#7a5050"/><path d="M213.5,468.1L209.9,470.1L206.3,468.1L206.3,463.9L209.9,461.8L213.5,463.9Z" fill="#fff" stroke="#7a5050" stroke-width="0.7"/><path d="M206.3,466L206.3,463.9L209.9,461.8L213.5,463.9L213.5,466Z" fill="#7a5050"/><path d="M224.8,464.3L221.2,466.3L217.6,464.3L217.6,460.1L221.2,458L224.8,460.1Z" fill="#fff" stroke="#7a5050" stroke-width="0.7"/><path d="M217.6,462.2L217.6,460.1L221.2,458L224.8,460.1L224.8,462.2Z" fill="#7a5050"/><path d="M236.1,468.7L232.5,470.8L228.9,468.7L228.9,464.5L232.5,462.5L236.1,464.5Z" fill="#fff" stroke="#7a5050" stroke-width="0.7"/><path d="M228.9,466.6L228.9,464.5L232.5,462.5L236.1,464.5L236.1,466.6Z" fill="#7a5050"/><path d="M247.4,484.1L243.8,486.1L240.2,484.1L240.2,479.9L243.8,477.8L247.4,479.9Z" fill="#fff" stroke="#7a5050" stroke-width="0.7"/><path d="M240.2,482L240.2,479.9L243.8,477.8L247.4,479.9L247.4,482Z" fill="#7a5050"/><path d="M258.7,505.5L255.1,507.6L251.5,505.5L251.5,501.3L255.1,499.3L258.7,501.3Z" fill="#fff" stroke="#7a5050" stroke-width="0.7"/><path d="M251.5,503.4L251.5,501.3L255.1,499.3L258.7,501.3L258.7,503.4Z" fill="#7a5050"/><path d="M270,526.8L266.4,528.9L262.8,526.8L262.8,522.7L266.4,520.6L270,522.7Z" fill="#fff" stroke="#7a5050" stroke-width="0.7"/><path d="M262.8,524.7L262.8,522.7L266.4,520.6L270,522.7L270,524.7Z" fill="#7a5050"/><path d="M281.3,544.2L277.7,546.3L274.1,544.2L274.1,540L277.7,538L281.3,540Z" fill="#fff" stroke="#7a5050" stroke-width="0.7"/><path d="M274.1,542.1L274.1,540L277.7,538L281.3,540L281.3,542.1Z" fill="#7a5050"/><path d="M292.6,558L289.1,560.1L285.5,558L285.5,553.8L289.1,551.8L292.6,553.8Z" fill="#fff" stroke="#7a5050" stroke-width="0.7"/><path d="M285.5,555.9L285.5,553.8L289.1,551.8L292.6,553.8L292.6,555.9Z" fill="#7a5050"/><path d="M304,569.1L300.4,571.1L296.8,569.1L296.8,564.9L300.4,562.8L304,564.9Z" fill="#fff" stroke="#7a5050" stroke-width="0.7"/><path d="M296.8,567L296.8,564.9L300.4,562.8L304,564.9L304,567Z" fill="#7a5050"/><path d="M315.3,577.8L311.7,579.9L308.1,577.8L308.1,573.7L311.7,571.6L315.3,573.7Z" fill="#fff" stroke="#7a5050" stroke-width="0.7"/><path d="M308.1,575.7L308.1,573.7L311.7,571.6L315.3,573.7L315.3,575.7Z" fill="#7a5050"/><path d="M326.6,584L323,586L319.4,584L319.4,579.8L323,577.7L326.6,579.8Z" fill="#fff" stroke="#7a5050" stroke-width="0.7"/><path d="M319.4,581.9L319.4,579.8L323,577.7L326.6,579.8L326.6,581.9Z" fill="#7a5050"/><path d="M337.9,590.3L334.3,592.3L330.7,590.3L330.7,586.1L334.3,584L337.9,586.1Z" fill="#fff" stroke="#7a5050" stroke-width="0.7"/><path d="M330.7,588.2L330.7,586.1L334.3,584L337.9,586.1L337.9,588.2Z" fill="#7a5050"/><path d="M349.2,595.2L345.6,597.3L342,595.2L342,591L345.6,589L349.2,591Z" fill="#fff" stroke="#7a5050" stroke-width="0.7"/><path d="M342,593.1L342,591L345.6,589L349.2,591L349.2,593.1Z" fill="#7a5050"/><path d="M360.5,598.9L356.9,601L353.3,598.9L353.3,594.7L356.9,592.7L360.5,594.7Z" fill="#fff" stroke="#7a5050" stroke-width="0.7"/><path d="M353.3,596.8L353.3,594.7L356.9,592.7L360.5,594.7L360.5,596.8Z" fill="#7a5050"/><path d="M371.8,602.6L368.2,604.7L364.6,602.6L364.6,598.5L368.2,596.4L371.8,598.5Z" fill="#fff" stroke="#7a5050" stroke-width="0.7"/><path d="M364.6,600.5L364.6,598.5L368.2,596.4L371.8,598.5L371.8,600.5Z" fill="#7a5050"/><path d="M383.1,605.1L379.6,607.2L376,605.1L376,601L379.6,598.9L383.1,601Z" fill="#fff" stroke="#7a5050" stroke-width="0.7"/><path d="M376,603L376,601L379.6,598.9L383.1,601L383.1,603Z" fill="#7a5050"/><path d="M394.5,607.6L390.9,609.7L387.3,607.6L387.3,603.4L390.9,601.4L394.5,603.4Z" fill="#fff" stroke="#7a5050" stroke-width="0.7"/><path d="M387.3,605.5L387.3,603.4L390.9,601.4L394.5,603.4L394.5,605.5Z" fill="#7a5050"/><path d="M405.8,609.6L402.2,611.6L398.6,609.6L398.6,605.4L402.2,603.3L405.8,605.4Z" fill="#fff" stroke="#7a5050" stroke-width="0.7"/><path d="M398.6,607.5L398.6,605.4L402.2,603.3L405.8,605.4L405.8,607.5Z" fill="#7a5050"/><path d="M417.1,611.2L413.5,613.3L409.9,611.2L409.9,607.1L413.5,605L417.1,607.1Z" fill="#fff" stroke="#7a5050" stroke-width="0.7"/><path d="M409.9,609.1L409.9,607.1L413.5,605L417.1,607.1L417.1,609.1Z" fill="#7a5050"/><path d="M428.4,612.3L424.8,614.4L421.2,612.3L421.2,608.1L424.8,606.1L428.4,608.1Z" fill="#fff" stroke="#7a5050" stroke-width="0.7"/><path d="M421.2,610.2L421.2,608.1L424.8,606.1L428.4,608.1L428.4,610.2Z" fill="#7a5050"/>
<path d="M51.5,590.1L53,589.8L54.5,588.8L56,587.9L57.5,586.9L59,585.9L60.5,584.8L62,583.8L63.5,582.8L65,581.7L66.5,580.6L68,579.6L69.5,578.5L71,577.4L72.5,576.3L74,575.1L75.5,573.9L77,572.6L78.5,571.3L80,569.9L81.5,568.5L83,567.1L84.5,565.8L86,564.5L87.5,563.3L89,562.1L90.5,560.9L92,559.8L93.5,558.7L95,557.5L96.5,556.4L98,555.2L99.5,554L101,552.9L102.5,551.7L104,550.5L105.5,549.3L107,548.1L108.5,546.9L110,545.6L111.5,544.3L113,542.9L114.5,541.6L116,540.2L117.5,538.8L119,537.5L120.5,536.3L122,535L123.5,533.9L125,532.7L126.5,531.6L128,530.5L129.5,529.3L131,528.1L132.5,526.8L134,525.5L135.5,524.2L137,522.8L138.5,521.5L140,520.1L141.5,518.7L143,517.4L144.5,516.1L146,514.7L147.5,513.4L149,512.1L150.5,510.7L152,509.3L153.5,508L155,506.5L156.5,505.1L158,503.7L159.5,502.3L161,500.8L162.5,499.3L164,497.7L165.5,496.1L167,494.4L168.5,492.5L170,490.7L171.5,488.8L173,486.8L174.5,485L176,483.2L177.5,481.4L179,479.7L180.5,477.9L182,476.3L183.5,474.6L185,472.9L186.5,471.3L188,469.7L189.5,468.1L191,466.4L192.5,464.8L194,463.2L195.5,461.8L197,460.5L198.5,459.5L200,458.6L201.5,457.6L203,456.8L204.5,456L206,455.4L207.5,455L209,454.8L210.5,454.9L212,455.4L213.5,456L215,456.9L216.5,458L218,459.1L219.5,460.3L221,461.6L222.5,463.3L224,465.3L225.5,467.7L227,470.2L228.5,472.8L230,475.5L231.5,478.1L233,480.7L234.5,483.4L236,486.2L237.5,489.1L239,492L240.5,494.9L242,497.8L243.5,500.7L245,503.6L246.5,506.5L248,509.4L249.5,512.3L251,515.2L252.5,518L254,520.6L255.5,523.2L257,525.7L258.5,528.1L260,530.5L261.5,532.8L263,535L264.5,537.2L266,539.3L267.5,541.3L269,543.3L270.5,545.2L272,547.1L273.5,548.9L275,550.6L276.5,552.3L278,553.8L279.5,555.3L281,556.7L282.5,558L284,559.3L285.5,560.6L287,561.8L288.5,563L290,564.1L291.5,565.1L293,566.2L294.5,567.2L296,568.1L297.5,569.1L299,570L300.5,570.9L302,571.8L303.5,572.7L305,573.6L306.5,574.4L308,575.2L309.5,575.9L311,576.6L312.5,577.2L314,577.7L315.5,578.2L317,578.7L318.5,579.2L320,579.7L321.5,580.1L323,580.6L324.5,581.2L326,581.7L327.5,582.2L329,582.7L330.5,583.2L332,583.6L333.5,584.1L335,584.4L336.5,584.8L338,585.1L339.5,585.4L341,585.8L342.5,586.1L344,586.4L345.5,586.7L347,587.1L348.5,587.4L350,587.8L351.5,588.1L353,588.4L354.5,588.7L356,589L357.5,589.3L359,589.6L360.5,589.9L362,590.1L363.5,590.4L365,590.7L366.5,590.9L368,591.2L369.5,591.4L371,591.7L372.5,591.9L374,592.2L375.5,592.4L377,592.6L378.5,592.8L380,593L381.5,593.2L383,593.3L384.5,593.5L386,593.6L387.5,593.8L389,593.9L390.5,594.1L392,594.3L393.5,594.5L395,594.7L396.5,594.9L398,595L399.5,595.2L401,595.3L402.5,595.4L404,595.5L405.5,595.6L407,595.7L408.5,595.8L410,595.9L411.5,596L413,596L414.5,596.1L416,596.2L417.5,596.2L419,596.3L420.5,596.3L422,596.4L423.5,596.4L425,596.5" fill="none" stroke="#2e9e5c" stroke-width="3.4" stroke-linejoin="round"/>
<path d="M51.5,594.2L55,587.5L48,587.5Z" fill="#fff" stroke="#2e9e5c" stroke-width="0.7"/><path d="M53.6,590.1L55,587.5L48,587.5L49.4,590.1Z" fill="#2e9e5c"/><path d="M62.8,587.3L66.3,580.6L59.3,580.6Z" fill="#fff" stroke="#2e9e5c" stroke-width="0.7"/><path d="M64.9,583.2L66.3,580.6L59.3,580.6L60.7,583.2Z" fill="#2e9e5c"/><path d="M74.1,579L77.6,572.4L70.6,572.4Z" fill="#fff" stroke="#2e9e5c" stroke-width="0.7"/><path d="M76.2,575L77.6,572.4L70.6,572.4L72,575Z" fill="#2e9e5c"/><path d="M85.4,569L88.9,562.3L81.9,562.3Z" fill="#fff" stroke="#2e9e5c" stroke-width="0.7"/><path d="M87.6,565L88.9,562.3L81.9,562.3L83.3,565Z" fill="#2e9e5c"/><path d="M96.7,560.2L100.2,553.6L93.2,553.6Z" fill="#fff" stroke="#2e9e5c" stroke-width="0.7"/><path d="M98.9,556.2L100.2,553.6L93.2,553.6L94.6,556.2Z" fill="#2e9e5c"/><path d="M108.1,551.3L111.6,544.6L104.6,544.6Z" fill="#fff" stroke="#2e9e5c" stroke-width="0.7"/><path d="M110.2,547.3L111.6,544.6L104.6,544.6L105.9,547.3Z" fill="#2e9e5c"/><path d="M119.4,541.2L122.9,534.6L115.9,534.6Z" fill="#fff" stroke="#2e9e5c" stroke-width="0.7"/><path d="M121.5,537.2L122.9,534.6L115.9,534.6L117.3,537.2Z" fill="#2e9e5c"/><path d="M130.7,532.4L134.2,525.7L127.2,525.7Z" fill="#fff" stroke="#2e9e5c" stroke-width="0.7"/><path d="M132.8,528.3L134.2,525.7L127.2,525.7L128.6,528.3Z" fill="#2e9e5c"/><path d="M142,522.3L145.5,515.7L138.5,515.7Z" fill="#fff" stroke="#2e9e5c" stroke-width="0.7"/><path d="M144.1,518.3L145.5,515.7L138.5,515.7L139.9,518.3Z" fill="#2e9e5c"/><path d="M153.3,512.2L156.8,505.5L149.8,505.5Z" fill="#fff" stroke="#2e9e5c" stroke-width="0.7"/><path d="M155.4,508.1L156.8,505.5L149.8,505.5L151.2,508.1Z" fill="#2e9e5c"/><path d="M164.6,501.1L168.1,494.4L161.1,494.4Z" fill="#fff" stroke="#2e9e5c" stroke-width="0.7"/><path d="M166.7,497L168.1,494.4L161.1,494.4L162.5,497Z" fill="#2e9e5c"/><path d="M175.9,487.3L179.4,480.6L172.4,480.6Z" fill="#fff" stroke="#2e9e5c" stroke-width="0.7"/><path d="M178.1,483.2L179.4,480.6L172.4,480.6L173.8,483.2Z" fill="#2e9e5c"/><path d="M187.2,474.6L190.7,467.9L183.7,467.9Z" fill="#fff" stroke="#2e9e5c" stroke-width="0.7"/><path d="M189.4,470.6L190.7,467.9L183.7,467.9L185.1,470.6Z" fill="#2e9e5c"/><path d="M198.6,463.5L202.1,456.9L195.1,456.9Z" fill="#fff" stroke="#2e9e5c" stroke-width="0.7"/><path d="M200.7,459.5L202.1,456.9L195.1,456.9L196.4,459.5Z" fill="#2e9e5c"/><path d="M209.9,458.9L213.4,452.2L206.4,452.2Z" fill="#fff" stroke="#2e9e5c" stroke-width="0.7"/><path d="M212,454.8L213.4,452.2L206.4,452.2L207.8,454.8Z" fill="#2e9e5c"/><path d="M221.2,465.8L224.7,459.2L217.7,459.2Z" fill="#fff" stroke="#2e9e5c" stroke-width="0.7"/><path d="M223.3,461.8L224.7,459.2L217.7,459.2L219.1,461.8Z" fill="#2e9e5c"/><path d="M232.5,483.9L236,477.2L229,477.2Z" fill="#fff" stroke="#2e9e5c" stroke-width="0.7"/><path d="M234.6,479.8L236,477.2L229,477.2L230.4,479.8Z" fill="#2e9e5c"/><path d="M243.8,505.3L247.3,498.6L240.3,498.6Z" fill="#fff" stroke="#2e9e5c" stroke-width="0.7"/><path d="M245.9,501.3L247.3,498.6L240.3,498.6L241.7,501.3Z" fill="#2e9e5c"/><path d="M255.1,526.6L258.6,519.9L251.6,519.9Z" fill="#fff" stroke="#2e9e5c" stroke-width="0.7"/><path d="M257.2,522.5L258.6,519.9L251.6,519.9L253,522.5Z" fill="#2e9e5c"/><path d="M266.4,543.9L269.9,537.2L262.9,537.2Z" fill="#fff" stroke="#2e9e5c" stroke-width="0.7"/><path d="M268.5,539.9L269.9,537.2L262.9,537.2L264.3,539.9Z" fill="#2e9e5c"/><path d="M277.7,557.6L281.2,550.9L274.2,550.9Z" fill="#fff" stroke="#2e9e5c" stroke-width="0.7"/><path d="M279.9,553.6L281.2,550.9L274.2,550.9L275.6,553.6Z" fill="#2e9e5c"/><path d="M289.1,567.4L292.6,560.7L285.6,560.7Z" fill="#fff" stroke="#2e9e5c" stroke-width="0.7"/><path d="M291.2,563.4L292.6,560.7L285.6,560.7L286.9,563.4Z" fill="#2e9e5c"/><path d="M300.4,574.8L303.9,568.2L296.9,568.2Z" fill="#fff" stroke="#2e9e5c" stroke-width="0.7"/><path d="M302.5,570.8L303.9,568.2L296.9,568.2L298.2,570.8Z" fill="#2e9e5c"/><path d="M311.7,580.9L315.2,574.2L308.2,574.2Z" fill="#fff" stroke="#2e9e5c" stroke-width="0.7"/><path d="M313.8,576.9L315.2,574.2L308.2,574.2L309.6,576.9Z" fill="#2e9e5c"/><path d="M323,584.7L326.5,578L319.5,578Z" fill="#fff" stroke="#2e9e5c" stroke-width="0.7"/><path d="M325.1,580.6L326.5,578L319.5,578L320.9,580.6Z" fill="#2e9e5c"/><path d="M334.3,588.3L337.8,581.6L330.8,581.6Z" fill="#fff" stroke="#2e9e5c" stroke-width="0.7"/><path d="M336.4,584.3L337.8,581.6L330.8,581.6L332.2,584.3Z" fill="#2e9e5c"/><path d="M345.6,590.8L349.1,584.1L342.1,584.1Z" fill="#fff" stroke="#2e9e5c" stroke-width="0.7"/><path d="M347.7,586.7L349.1,584.1L342.1,584.1L343.5,586.7Z" fill="#2e9e5c"/><path d="M356.9,593.2L360.4,586.6L353.4,586.6Z" fill="#fff" stroke="#2e9e5c" stroke-width="0.7"/><path d="M359,589.2L360.4,586.6L353.4,586.6L354.8,589.2Z" fill="#2e9e5c"/><path d="M368.2,595.2L371.7,588.6L364.7,588.6Z" fill="#fff" stroke="#2e9e5c" stroke-width="0.7"/><path d="M370.4,591.2L371.7,588.6L364.7,588.6L366.1,591.2Z" fill="#2e9e5c"/><path d="M379.6,597L383.1,590.3L376.1,590.3Z" fill="#fff" stroke="#2e9e5c" stroke-width="0.7"/><path d="M381.7,593L383.1,590.3L376.1,590.3L377.4,593Z" fill="#2e9e5c"/><path d="M390.9,598.2L394.4,591.5L387.4,591.5Z" fill="#fff" stroke="#2e9e5c" stroke-width="0.7"/><path d="M393,594.2L394.4,591.5L387.4,591.5L388.7,594.2Z" fill="#2e9e5c"/><path d="M402.2,599.4L405.7,592.8L398.7,592.8Z" fill="#fff" stroke="#2e9e5c" stroke-width="0.7"/><path d="M404.3,595.4L405.7,592.8L398.7,592.8L400.1,595.4Z" fill="#2e9e5c"/><path d="M413.5,600.1L417,593.4L410,593.4Z" fill="#fff" stroke="#2e9e5c" stroke-width="0.7"/><path d="M415.6,596.1L417,593.4L410,593.4L411.4,596.1Z" fill="#2e9e5c"/><path d="M424.8,600.5L428.3,593.8L421.3,593.8Z" fill="#fff" stroke="#2e9e5c" stroke-width="0.7"/><path d="M426.9,596.5L428.3,593.8L421.3,593.8L422.7,596.5Z" fill="#2e9e5c"/>
<path d="M51.5,590.1L53,589.1L54.5,588.2L56,587.2L57.5,586.2L59,585.1L60.5,584.1L62,583.1L63.5,582L65,580.9L66.5,579.9L68,578.8L69.5,577.7L71,576.6L72.5,575.4L74,574.2L75.5,572.9L77,571.6L78.5,570.2L80,568.8L81.5,567.4L83,566.1L84.5,564.8L86,563.6L87.5,562.4L89,561.2L90.5,560.1L92,559L93.5,557.8L95,556.7L96.5,555.5L98,554.3L99.5,553.2L101,552L102.5,550.8L104,549.6L105.5,548.4L107,547.2L108.5,545.9L110,544.6L111.5,543.2L113,541.9L114.5,540.5L116,539.1L117.5,537.8L119,536.6L120.5,535.3L122,534.2L123.5,533L125,531.9L126.5,530.8L128,529.6L129.5,528.4L131,527.1L132.5,525.8L134,524.5L135.5,523.1L137,521.8L138.5,520.4L140,519L141.5,517.7L143,516.4L144.5,515L146,513.7L147.5,512.4L149,511L150.5,509.6L152,508.3L153.5,506.8L155,505.4L156.5,504L158,502.6L159.5,501.1L161,499.6L162.5,498L164,496.4L165.5,494.7L167,492.8L168.5,491L170,489.1L171.5,487.1L173,485.3L174.5,483.5L176,481.7L177.5,480L179,478.2L180.5,476.6L182,474.9L183.5,473.2L185,471.6L186.5,470L188,468.4L189.5,466.7L191,465.1L192.5,463.5L194,462.1L195.5,460.8L197,459.8L198.5,458.9L200,457.9L201.5,457.1L203,456.3L204.5,455.7L206,455.3L207.5,455.1L209,455.2L210.5,455.7L212,456.3L213.5,457.2L215,458.3L216.5,459.4L218,460.6L219.5,461.9L221,463.6L222.5,465.6L224,468L225.5,470.5L227,473.1L228.5,475.8L230,478.4L231.5,481L233,483.7L234.5,486.5L236,489.4L237.5,492.3L239,495.2L240.5,498.1L242,501L243.5,503.9L245,506.8L246.5,509.7L248,512.6L249.5,515.5L251,518.3L252.5,520.9L254,523.5L255.5,526L257,528.4L258.5,530.8L260,533.1L261.5,535.3L263,537.5L264.5,539.6L266,541.6L267.5,543.6L269,545.5L270.5,547.4L272,549.2L273.5,550.9L275,552.6L276.5,554.1L278,555.6L279.5,557L281,558.3L282.5,559.6L284,560.9L285.5,562.1L287,563.3L288.5,564.4L290,565.4L291.5,566.5L293,567.5L294.5,568.4L296,569.4L297.5,570.3L299,571.2L300.5,572.1L302,573L303.5,573.9L305,574.7L306.5,575.5L308,576.2L309.5,576.9L311,577.5L312.5,578L314,578.5L315.5,579L317,579.5L318.5,580L320,580.4L321.5,580.9L323,581.5L324.5,582L326,582.5L327.5,583L329,583.5L330.5,583.9L332,584.4L333.5,584.7L335,585.1L336.5,585.4L338,585.7L339.5,586.1L341,586.4L342.5,586.7L344,587L345.5,587.4L347,587.7L348.5,588.1L350,588.4L351.5,588.7L353,589L354.5,589.3L356,589.6L357.5,589.9L359,590.2L360.5,590.4L362,590.7L363.5,591L365,591.2L366.5,591.5L368,591.7L369.5,592L371,592.2L372.5,592.5L374,592.7L375.5,592.9L377,593.1L378.5,593.3L380,593.5L381.5,593.6L383,593.8L384.5,593.9L386,594.1L387.5,594.2L389,594.4L390.5,594.6L392,594.8L393.5,595L395,595.2L396.5,595.3L398,595.5L399.5,595.6L401,595.7L402.5,595.8L404,595.9L405.5,596L407,596.1L408.5,596.2L410,596.3L411.5,596.3L413,596.4L414.5,596.5L416,596.5L417.5,596.6L419,596.6L420.5,596.7L422,596.7L423.5,596.8L425,596.8" fill="none" stroke="#1c64e6" stroke-width="3.4" stroke-linejoin="round"/>
<path d="M51.5,585.5L55.5,593.1L47.5,593.1Z" fill="#fff" stroke="#1c64e6" stroke-width="0.7"/><path d="M51.5,585.5L53.9,590.1L49.1,590.1Z" fill="#1c64e6"/><path d="M62.8,577.9L66.8,585.5L58.8,585.5Z" fill="#fff" stroke="#1c64e6" stroke-width="0.7"/><path d="M62.8,577.9L65.2,582.5L60.4,582.5Z" fill="#1c64e6"/><path d="M74.1,569.5L78.1,577.1L70.1,577.1Z" fill="#fff" stroke="#1c64e6" stroke-width="0.7"/><path d="M74.1,569.5L76.5,574.1L71.7,574.1Z" fill="#1c64e6"/><path d="M85.4,559.4L89.4,567L81.4,567Z" fill="#fff" stroke="#1c64e6" stroke-width="0.7"/><path d="M85.4,559.4L87.9,564L83,564Z" fill="#1c64e6"/><path d="M96.7,550.7L100.7,558.3L92.7,558.3Z" fill="#fff" stroke="#1c64e6" stroke-width="0.7"/><path d="M96.7,550.7L99.2,555.3L94.3,555.3Z" fill="#1c64e6"/><path d="M108.1,541.7L112.1,549.3L104.1,549.3Z" fill="#fff" stroke="#1c64e6" stroke-width="0.7"/><path d="M108.1,541.7L110.5,546.3L105.6,546.3Z" fill="#1c64e6"/><path d="M119.4,531.6L123.4,539.2L115.4,539.2Z" fill="#fff" stroke="#1c64e6" stroke-width="0.7"/><path d="M119.4,531.6L121.8,536.2L117,536.2Z" fill="#1c64e6"/><path d="M130.7,522.8L134.7,530.4L126.7,530.4Z" fill="#fff" stroke="#1c64e6" stroke-width="0.7"/><path d="M130.7,522.8L133.1,527.4L128.3,527.4Z" fill="#1c64e6"/><path d="M142,512.7L146,520.3L138,520.3Z" fill="#fff" stroke="#1c64e6" stroke-width="0.7"/><path d="M142,512.7L144.4,517.3L139.6,517.3Z" fill="#1c64e6"/><path d="M153.3,502.4L157.3,510L149.3,510Z" fill="#fff" stroke="#1c64e6" stroke-width="0.7"/><path d="M153.3,502.4L155.7,507L150.9,507Z" fill="#1c64e6"/><path d="M164.6,491.1L168.6,498.7L160.6,498.7Z" fill="#fff" stroke="#1c64e6" stroke-width="0.7"/><path d="M164.6,491.1L167,495.7L162.2,495.7Z" fill="#1c64e6"/><path d="M175.9,477.2L179.9,484.8L171.9,484.8Z" fill="#fff" stroke="#1c64e6" stroke-width="0.7"/><path d="M175.9,477.2L178.4,481.8L173.5,481.8Z" fill="#1c64e6"/><path d="M187.2,464.6L191.2,472.2L183.2,472.2Z" fill="#fff" stroke="#1c64e6" stroke-width="0.7"/><path d="M187.2,464.6L189.7,469.2L184.8,469.2Z" fill="#1c64e6"/><path d="M198.6,454.2L202.6,461.8L194.6,461.8Z" fill="#fff" stroke="#1c64e6" stroke-width="0.7"/><path d="M198.6,454.2L201,458.8L196.1,458.8Z" fill="#1c64e6"/><path d="M209.9,450.8L213.9,458.4L205.9,458.4Z" fill="#fff" stroke="#1c64e6" stroke-width="0.7"/><path d="M209.9,450.8L212.3,455.4L207.4,455.4Z" fill="#1c64e6"/><path d="M221.2,459.2L225.2,466.8L217.2,466.8Z" fill="#fff" stroke="#1c64e6" stroke-width="0.7"/><path d="M221.2,459.2L223.6,463.8L218.8,463.8Z" fill="#1c64e6"/><path d="M232.5,478.2L236.5,485.8L228.5,485.8Z" fill="#fff" stroke="#1c64e6" stroke-width="0.7"/><path d="M232.5,478.2L234.9,482.8L230.1,482.8Z" fill="#1c64e6"/><path d="M243.8,499.8L247.8,507.4L239.8,507.4Z" fill="#fff" stroke="#1c64e6" stroke-width="0.7"/><path d="M243.8,499.8L246.2,504.4L241.4,504.4Z" fill="#1c64e6"/><path d="M255.1,520.8L259.1,528.4L251.1,528.4Z" fill="#fff" stroke="#1c64e6" stroke-width="0.7"/><path d="M255.1,520.8L257.5,525.4L252.7,525.4Z" fill="#1c64e6"/><path d="M266.4,537.6L270.4,545.2L262.4,545.2Z" fill="#fff" stroke="#1c64e6" stroke-width="0.7"/><path d="M266.4,537.6L268.9,542.2L264,542.2Z" fill="#1c64e6"/><path d="M277.7,550.7L281.7,558.3L273.7,558.3Z" fill="#fff" stroke="#1c64e6" stroke-width="0.7"/><path d="M277.7,550.7L280.2,555.3L275.3,555.3Z" fill="#1c64e6"/><path d="M289.1,560.2L293.1,567.8L285.1,567.8Z" fill="#fff" stroke="#1c64e6" stroke-width="0.7"/><path d="M289.1,560.2L291.5,564.8L286.6,564.8Z" fill="#1c64e6"/><path d="M300.4,567.4L304.4,575L296.4,575Z" fill="#fff" stroke="#1c64e6" stroke-width="0.7"/><path d="M300.4,567.4L302.8,572L297.9,572Z" fill="#1c64e6"/><path d="M311.7,573.1L315.7,580.7L307.7,580.7Z" fill="#fff" stroke="#1c64e6" stroke-width="0.7"/><path d="M311.7,573.1L314.1,577.7L309.3,577.7Z" fill="#1c64e6"/><path d="M323,576.9L327,584.5L319,584.5Z" fill="#fff" stroke="#1c64e6" stroke-width="0.7"/><path d="M323,576.9L325.4,581.5L320.6,581.5Z" fill="#1c64e6"/><path d="M334.3,580.3L338.3,587.9L330.3,587.9Z" fill="#fff" stroke="#1c64e6" stroke-width="0.7"/><path d="M334.3,580.3L336.7,584.9L331.9,584.9Z" fill="#1c64e6"/><path d="M345.6,582.8L349.6,590.4L341.6,590.4Z" fill="#fff" stroke="#1c64e6" stroke-width="0.7"/><path d="M345.6,582.8L348,587.4L343.2,587.4Z" fill="#1c64e6"/><path d="M356.9,585.2L360.9,592.8L352.9,592.8Z" fill="#fff" stroke="#1c64e6" stroke-width="0.7"/><path d="M356.9,585.2L359.3,589.8L354.5,589.8Z" fill="#1c64e6"/><path d="M368.2,587.2L372.2,594.8L364.2,594.8Z" fill="#fff" stroke="#1c64e6" stroke-width="0.7"/><path d="M368.2,587.2L370.7,591.8L365.8,591.8Z" fill="#1c64e6"/><path d="M379.6,588.8L383.6,596.4L375.6,596.4Z" fill="#fff" stroke="#1c64e6" stroke-width="0.7"/><path d="M379.6,588.8L382,593.4L377.1,593.4Z" fill="#1c64e6"/><path d="M390.9,590L394.9,597.6L386.9,597.6Z" fill="#fff" stroke="#1c64e6" stroke-width="0.7"/><path d="M390.9,590L393.3,594.6L388.4,594.6Z" fill="#1c64e6"/><path d="M402.2,591.2L406.2,598.8L398.2,598.8Z" fill="#fff" stroke="#1c64e6" stroke-width="0.7"/><path d="M402.2,591.2L404.6,595.8L399.8,595.8Z" fill="#1c64e6"/><path d="M413.5,591.8L417.5,599.4L409.5,599.4Z" fill="#fff" stroke="#1c64e6" stroke-width="0.7"/><path d="M413.5,591.8L415.9,596.4L411.1,596.4Z" fill="#1c64e6"/><path d="M424.8,592.2L428.8,599.8L420.8,599.8Z" fill="#fff" stroke="#1c64e6" stroke-width="0.7"/><path d="M424.8,592.2L427.2,596.8L422.4,596.8Z" fill="#1c64e6"/>
<path d="M51.5,590.1L53,589.2L54.5,588.2L56,587.2L57.5,586.2L59,585.2L60.5,584.1L62,583.1L63.5,582L65,581L66.5,579.9L68,578.9L69.5,577.8L71,576.6L72.5,575.5L74,574.3L75.5,573L77,571.7L78.5,570.4L80,569L81.5,567.6L83,566.2L84.5,564.9L86,563.7L87.5,562.5L89,561.3L90.5,560.2L92,559.1L93.5,557.9L95,556.8L96.5,555.6L98,554.4L99.5,553.3L101,552.1L102.5,550.9L104,549.7L105.5,548.5L107,547.3L108.5,546L110,544.7L111.5,543.4L113,542L114.5,540.7L116,539.3L117.5,538L119,536.7L120.5,535.4L122,534.3L123.5,533.1L125,532L126.5,530.8L128,529.7L129.5,528.5L131,527.2L132.5,526L134,524.6L135.5,523.3L137,521.9L138.5,520.6L140,519.2L141.5,517.8L143,516.5L144.5,515.2L146,513.8L147.5,512.5L149,511.2L150.5,509.8L152,508.4L153.5,507L155,505.6L156.5,504.2L158,502.7L159.5,501.3L161,499.8L162.5,498.2L164,496.6L165.5,494.9L167,493.2L168.5,491.3L170,489.4L171.5,487.5L173,485.6L174.5,483.7L176,482L177.5,480.2L179,478.5L180.5,476.8L182,475.1L183.5,473.5L185,471.9L186.5,470.3L188,468.6L189.5,467L191,465.3L192.5,463.7L194,462.2L195.5,460.9L197,459.8L198.5,458.9L200,458L201.5,457.1L203,456.3L204.5,455.6L206,455.1L207.5,454.8L209,454.8L210.5,455.2L212,455.8L213.5,456.6L215,457.6L216.5,458.7L218,459.9L219.5,461.2L221,462.7L222.5,464.6L224,466.9L225.5,469.3L227,471.9L228.5,474.6L230,477.3L231.5,479.9L233,482.5L234.5,485.3L236,488.1L237.5,491L239,493.9L240.5,496.9L242,499.7L243.5,502.6L245,505.5L246.5,508.4L248,511.4L249.5,514.2L251,517.1L252.5,519.8L254,522.3L255.5,524.9L257,527.3L258.5,529.7L260,532L261.5,534.3L263,536.5L264.5,538.6L266,540.6L267.5,542.6L269,544.6L270.5,546.5L272,548.3L273.5,550.1L275,551.7L276.5,553.3L278,554.8L279.5,556.2L281,557.6L282.5,558.9L284,560.2L285.5,561.4L287,562.6L288.5,563.7L290,564.8L291.5,565.8L293,566.8L294.5,567.8L296,568.8L297.5,569.7L299,570.6L300.5,571.5L302,572.4L303.5,573.3L305,574.1L306.5,574.9L308,575.7L309.5,576.4L311,577L312.5,577.5L314,578.1L315.5,578.6L317,579L318.5,579.5L320,580L321.5,580.5L323,581L324.5,581.5L326,582L327.5,582.5L329,583L330.5,583.5L332,583.9L333.5,584.3L335,584.7L336.5,585L338,585.3L339.5,585.6L341,586L342.5,586.3L344,586.6L345.5,587L347,587.3L348.5,587.6L350,588L351.5,588.3L353,588.6L354.5,588.9L356,589.2L357.5,589.5L359,589.8L360.5,590.1L362,590.3L363.5,590.6L365,590.8L366.5,591.1L368,591.3L369.5,591.6L371,591.8L372.5,592.1L374,592.3L375.5,592.6L377,592.8L378.5,592.9L380,593.1L381.5,593.3L383,593.4L384.5,593.6L386,593.7L387.5,593.9L389,594.1L390.5,594.2L392,594.4L393.5,594.6L395,594.8L396.5,595L398,595.1L399.5,595.3L401,595.4L402.5,595.5L404,595.6L405.5,595.7L407,595.8L408.5,595.9L410,596L411.5,596L413,596.1L414.5,596.1L416,596.2L417.5,596.3L419,596.3L420.5,596.4L422,596.4L423.5,596.4L425,596.5" fill="none" stroke="#18c8d0" stroke-width="3.4" stroke-linejoin="round"/>
<path d="M56.4,590.1L48.3,585.9L48.3,594.4Z" fill="#fff" stroke="#18c8d0" stroke-width="0.7"/><path d="M56.4,590.1L48.3,585.9L48.3,590.1L56.4,590.1Z" fill="#18c8d0"/><path d="M67.7,582.5L59.6,578.3L59.6,586.8Z" fill="#fff" stroke="#18c8d0" stroke-width="0.7"/><path d="M67.7,582.5L59.6,578.3L59.6,582.5L67.7,582.5Z" fill="#18c8d0"/><path d="M79,574.2L70.9,569.9L70.9,578.4Z" fill="#fff" stroke="#18c8d0" stroke-width="0.7"/><path d="M79,574.2L70.9,569.9L70.9,574.2L79,574.2Z" fill="#18c8d0"/><path d="M90.3,564.1L82.2,559.9L82.2,568.4Z" fill="#fff" stroke="#18c8d0" stroke-width="0.7"/><path d="M90.3,564.1L82.2,559.9L82.2,564.1L90.3,564.1Z" fill="#18c8d0"/><path d="M101.6,555.4L93.6,551.2L93.6,559.7Z" fill="#fff" stroke="#18c8d0" stroke-width="0.7"/><path d="M101.6,555.4L93.6,551.2L93.6,555.4L101.6,555.4Z" fill="#18c8d0"/><path d="M112.9,546.4L104.9,542.2L104.9,550.7Z" fill="#fff" stroke="#18c8d0" stroke-width="0.7"/><path d="M112.9,546.4L104.9,542.2L104.9,546.4L112.9,546.4Z" fill="#18c8d0"/><path d="M124.3,536.4L116.2,532.1L116.2,540.6Z" fill="#fff" stroke="#18c8d0" stroke-width="0.7"/><path d="M124.3,536.4L116.2,532.1L116.2,536.4L124.3,536.4Z" fill="#18c8d0"/><path d="M135.6,527.5L127.5,523.3L127.5,531.8Z" fill="#fff" stroke="#18c8d0" stroke-width="0.7"/><path d="M135.6,527.5L127.5,523.3L127.5,527.5L135.6,527.5Z" fill="#18c8d0"/><path d="M146.9,517.4L138.8,513.1L138.8,521.6Z" fill="#fff" stroke="#18c8d0" stroke-width="0.7"/><path d="M146.9,517.4L138.8,513.1L138.8,517.4L146.9,517.4Z" fill="#18c8d0"/><path d="M158.2,507.2L150.1,502.9L150.1,511.4Z" fill="#fff" stroke="#18c8d0" stroke-width="0.7"/><path d="M158.2,507.2L150.1,502.9L150.1,507.2L158.2,507.2Z" fill="#18c8d0"/><path d="M169.5,495.9L161.4,491.7L161.4,500.2Z" fill="#fff" stroke="#18c8d0" stroke-width="0.7"/><path d="M169.5,495.9L161.4,491.7L161.4,495.9L169.5,495.9Z" fill="#18c8d0"/><path d="M180.8,482.1L172.7,477.8L172.7,486.3Z" fill="#fff" stroke="#18c8d0" stroke-width="0.7"/><path d="M180.8,482.1L172.7,477.8L172.7,482.1L180.8,482.1Z" fill="#18c8d0"/><path d="M192.1,469.5L184.1,465.2L184.1,473.7Z" fill="#fff" stroke="#18c8d0" stroke-width="0.7"/><path d="M192.1,469.5L184.1,465.2L184.1,469.5L192.1,469.5Z" fill="#18c8d0"/><path d="M203.4,458.9L195.4,454.6L195.4,463.1Z" fill="#fff" stroke="#18c8d0" stroke-width="0.7"/><path d="M203.4,458.9L195.4,454.6L195.4,458.9L203.4,458.9Z" fill="#18c8d0"/><path d="M214.8,455L206.7,450.8L206.7,459.3Z" fill="#fff" stroke="#18c8d0" stroke-width="0.7"/><path d="M214.8,455L206.7,450.8L206.7,455L214.8,455Z" fill="#18c8d0"/><path d="M226.1,462.9L218,458.7L218,467.2Z" fill="#fff" stroke="#18c8d0" stroke-width="0.7"/><path d="M226.1,462.9L218,458.7L218,462.9L226.1,462.9Z" fill="#18c8d0"/><path d="M237.4,481.6L229.3,477.3L229.3,485.8Z" fill="#fff" stroke="#18c8d0" stroke-width="0.7"/><path d="M237.4,481.6L229.3,477.3L229.3,481.6L237.4,481.6Z" fill="#18c8d0"/><path d="M248.7,503.2L240.6,498.9L240.6,507.4Z" fill="#fff" stroke="#18c8d0" stroke-width="0.7"/><path d="M248.7,503.2L240.6,498.9L240.6,503.2L248.7,503.2Z" fill="#18c8d0"/><path d="M260,524.2L251.9,520L251.9,528.5Z" fill="#fff" stroke="#18c8d0" stroke-width="0.7"/><path d="M260,524.2L251.9,520L251.9,524.2L260,524.2Z" fill="#18c8d0"/><path d="M271.3,541.2L263.2,537L263.2,545.5Z" fill="#fff" stroke="#18c8d0" stroke-width="0.7"/><path d="M271.3,541.2L263.2,537L263.2,541.2L271.3,541.2Z" fill="#18c8d0"/><path d="M282.6,554.6L274.6,550.3L274.6,558.8Z" fill="#fff" stroke="#18c8d0" stroke-width="0.7"/><path d="M282.6,554.6L274.6,550.3L274.6,554.6L282.6,554.6Z" fill="#18c8d0"/><path d="M293.9,564.1L285.9,559.9L285.9,568.4Z" fill="#fff" stroke="#18c8d0" stroke-width="0.7"/><path d="M293.9,564.1L285.9,559.9L285.9,564.1L293.9,564.1Z" fill="#18c8d0"/><path d="M305.3,571.4L297.2,567.2L297.2,575.7Z" fill="#fff" stroke="#18c8d0" stroke-width="0.7"/><path d="M305.3,571.4L297.2,567.2L297.2,571.4L305.3,571.4Z" fill="#18c8d0"/><path d="M316.6,577.2L308.5,573L308.5,581.5Z" fill="#fff" stroke="#18c8d0" stroke-width="0.7"/><path d="M316.6,577.2L308.5,573L308.5,577.2L316.6,577.2Z" fill="#18c8d0"/><path d="M327.9,581L319.8,576.7L319.8,585.2Z" fill="#fff" stroke="#18c8d0" stroke-width="0.7"/><path d="M327.9,581L319.8,576.7L319.8,581L327.9,581Z" fill="#18c8d0"/><path d="M339.2,584.5L331.1,580.3L331.1,588.8Z" fill="#fff" stroke="#18c8d0" stroke-width="0.7"/><path d="M339.2,584.5L331.1,580.3L331.1,584.5L339.2,584.5Z" fill="#18c8d0"/><path d="M350.5,587L342.4,582.7L342.4,591.2Z" fill="#fff" stroke="#18c8d0" stroke-width="0.7"/><path d="M350.5,587L342.4,582.7L342.4,587L350.5,587Z" fill="#18c8d0"/><path d="M361.8,589.4L353.7,585.2L353.7,593.7Z" fill="#fff" stroke="#18c8d0" stroke-width="0.7"/><path d="M361.8,589.4L353.7,585.2L353.7,589.4L361.8,589.4Z" fill="#18c8d0"/><path d="M373.1,591.4L365.1,587.1L365.1,595.6Z" fill="#fff" stroke="#18c8d0" stroke-width="0.7"/><path d="M373.1,591.4L365.1,587.1L365.1,591.4L373.1,591.4Z" fill="#18c8d0"/><path d="M384.4,593.1L376.4,588.8L376.4,597.3Z" fill="#fff" stroke="#18c8d0" stroke-width="0.7"/><path d="M384.4,593.1L376.4,588.8L376.4,593.1L384.4,593.1Z" fill="#18c8d0"/><path d="M395.8,594.3L387.7,590L387.7,598.5Z" fill="#fff" stroke="#18c8d0" stroke-width="0.7"/><path d="M395.8,594.3L387.7,590L387.7,594.3L395.8,594.3Z" fill="#18c8d0"/><path d="M407.1,595.5L399,591.2L399,599.7Z" fill="#fff" stroke="#18c8d0" stroke-width="0.7"/><path d="M407.1,595.5L399,591.2L399,595.5L407.1,595.5Z" fill="#18c8d0"/><path d="M418.4,596.1L410.3,591.9L410.3,600.4Z" fill="#fff" stroke="#18c8d0" stroke-width="0.7"/><path d="M418.4,596.1L410.3,591.9L410.3,596.1L418.4,596.1Z" fill="#18c8d0"/><path d="M429.7,596.5L421.6,592.2L421.6,600.7Z" fill="#fff" stroke="#18c8d0" stroke-width="0.7"/><path d="M429.7,596.5L421.6,592.2L421.6,596.5L429.7,596.5Z" fill="#18c8d0"/>
<rect x="154.6" y="570.4" width="135.3" height="126.8" fill="#fff"/>
<path d="M154.6,688.2L154.9,688.3L155.3,688.4L155.6,688.5L156,688.6L156.3,688.8L156.6,688.9L157,689L157.3,689.1L157.6,689.3L158,689.4L158.3,689.6L158.7,689.7L159,689.8L159.3,690L159.7,690.1L160,690.3L160.4,690.4L160.7,690.6L161,690.7L161.4,690.9L161.4,576.7L161.4,576.7L161.7,576.9L162,577L162.4,577.1L162.7,577.2L163.1,577.4L163.4,577.5L163.7,577.6L164.1,577.8L164.4,577.9L164.7,578L165.1,578.2L165.4,578.3L165.8,578.5L166.1,578.6L166.4,578.7L166.8,578.9L167.1,579L167.5,579.2L167.8,579.3L168.1,579.5L168.5,579.6L168.8,579.8L169.1,579.9L169.5,580.1L169.8,580.2L170.2,580.4L170.5,580.5L170.8,580.7L171.2,580.9L171.5,581L171.9,581.2L172.2,581.4L172.5,581.5L172.9,581.7L173.2,581.9L173.5,582L173.9,582.2L174.2,582.4L174.6,582.6L174.9,582.8L175.2,583L175.6,583.2L175.9,583.4L176.2,583.6L176.6,583.8L176.9,584L177.3,584.2L177.6,584.4L177.9,584.6L178.3,584.8L178.6,585L179,585.2L179.3,585.4L179.6,585.7L180,585.9L180.3,586.1L180.6,586.3L181,586.6L181.3,586.8L181.7,587L182,587.3L182.3,587.5L182.7,587.7L183,588L183.4,588.2L183.7,588.4L184,588.7L184.4,588.9L184.7,589.1L185,589.4L185.4,589.6L185.7,589.9L186.1,590.1L186.4,590.3L186.7,590.6L187.1,590.8L187.4,591.1L187.7,591.3L188.1,591.6L188.4,591.8L188.8,592L189.1,592.3L189.4,592.5L189.8,592.8L190.1,593L190.5,593.3L190.8,593.5L191.1,593.8L191.5,594.1L191.8,594.3L192.1,594.6L192.5,594.8L192.8,595.1L193.2,595.4L193.5,595.6L193.8,595.9L194.2,596.2L194.5,596.5L194.9,596.7L195.2,597L195.5,597.3L195.9,597.6L196.2,597.8L196.5,598.1L196.9,598.4L197.2,598.7L197.6,599L197.9,599.3L198.2,599.5L198.6,599.8L198.9,600.1L199.2,600.4L199.6,600.7L199.9,601L200.3,601.3L200.6,601.6L200.9,601.9L201.3,602.2L201.6,602.5L202,602.7L202.3,603L202.6,603.3L203,603.6L203.3,603.9L203.6,604.2L204,604.5L204.3,604.8L204.7,605.1L205,605.4L205.3,605.8L205.7,606.1L206,606.4L206.4,606.7L206.7,607L207,607.3L207.4,607.6L207.7,607.9L208,608.2L208.4,608.5L208.7,608.9L209.1,609.2L209.4,609.5L209.7,609.8L210.1,610.1L210.4,610.5L210.7,610.8L211.1,611.1L211.4,611.4L211.8,611.8L212.1,612.1L212.4,612.4L212.8,612.8L213.1,613.1L213.5,613.5L213.8,613.8L214.1,614.2L214.5,614.5L214.8,614.9L215.1,615.2L215.5,615.6L215.8,615.9L216.2,616.3L216.5,616.7L216.8,617.1L217.2,617.5L217.5,617.9L217.9,618.3L218.2,618.8L218.5,619.2L218.9,619.6L219.2,620L219.5,620.5L219.9,620.9L220.2,621.3L220.6,621.7L220.9,622.1L221.2,622.5L221.6,622.9L221.9,623.3L222.2,623.7L222.6,624.1L222.9,624.4L223.3,624.8L223.6,625.1L223.9,625.4L224.3,625.7L224.6,626L225,626.3L225.3,626.6L225.6,626.8L226,627.1L226.3,627.4L226.6,627.7L227,627.9L227.3,628.2L227.7,628.4L228,628.7L228.3,628.9L228.7,629.2L229,629.4L229.4,629.6L229.7,629.8L230,630.1L230.4,630.3L230.7,630.5L231,630.7L231.4,630.9L231.7,631.1L232.1,631.2L232.4,631.4L232.7,631.6L233.1,631.8L233.4,631.9L233.8,632.1L234.1,632.3L234.4,632.4L234.8,632.6L235.1,632.7L235.4,632.9L235.8,633L236.1,633.2L236.5,633.3L236.8,633.4L237.1,633.6L237.5,633.7L237.8,633.8L238.1,634L238.5,634.1L238.8,634.2L239.2,634.3L239.5,634.5L239.8,634.6L240.2,634.7L240.5,634.8L240.9,635L241.2,635.1L241.5,635.2L241.9,635.3L242.2,635.4L242.5,635.5L242.9,635.7L243.2,635.8L243.6,635.9L243.9,636L244.2,636.1L244.6,636.2L244.9,636.3L245.3,636.4L245.6,636.6L245.9,636.7L246.3,636.8L246.6,636.9L246.9,637L247.3,637.1L247.6,637.2L248,637.3L248.3,637.4L248.6,637.5L249,637.6L249.3,637.7L249.6,637.8L250,637.9L250.3,637.9L250.7,638L251,638.1L251.3,638.2L251.7,638.3L252,638.4L252.4,638.5L252.7,638.6L253,638.7L253.4,638.8L253.7,638.9L254,639L254.4,639L254.7,639.1L255.1,639.2L255.4,639.3L255.7,639.4L256.1,639.5L256.4,639.6L256.8,639.7L257.1,639.8L257.4,639.9L257.8,640L258.1,640.1L258.4,640.1L258.8,640.2L259.1,640.3L259.5,640.4L259.8,640.5L260.1,640.6L260.5,640.7L260.8,640.8L261.1,640.9L261.5,641L261.8,641.1L262.2,641.2L262.5,641.3L262.8,641.4L263.2,641.5L263.5,641.6L263.9,641.7L264.2,641.8L264.5,642L264.9,642.1L265.2,642.2L265.5,642.3L265.9,642.4L266.2,642.5L266.6,642.6L266.9,642.8L267.2,642.9L267.6,643L267.9,643.1L268.3,643.2L268.6,643.4L268.9,643.5L269.3,643.6L269.6,643.7L269.9,643.9L270.3,644L270.6,644.1L271,644.2L271.3,644.4L271.6,644.5L272,644.6L272.3,644.7L272.6,644.9L273,645L273.3,645.1L273.7,645.3L274,645.4L274.3,645.5L274.7,645.7L275,645.8L275.4,645.9L275.7,646.1L276,646.2L276.4,646.4L276.7,646.5L277,646.6L277.4,646.8L277.7,646.9L278.1,647L278.4,647.2L278.7,647.3L279.1,647.5L279.4,647.6L279.8,647.8L280.1,647.9L280.4,648.1L280.8,648.2L281.1,648.3L281.4,648.5L281.8,648.6L282.1,648.8L282.5,648.9L282.8,649.1L283.1,649.2L283.5,649.4L283.8,649.5L284.1,649.7L284.5,649.8L284.8,650L285.2,650.1L285.5,650.3L285.8,650.5L286.2,650.6L286.5,650.8L286.9,650.9L287.2,651.1L287.5,651.2L287.9,651.4L288.2,651.6L288.5,651.7L288.9,651.9L289.2,652L289.6,652.2L289.9,652.3" fill="none" stroke="#f03a3a" stroke-width="1.9" stroke-linejoin="round"/>
<path d="M154.6,585.3L154.9,585.4L155.3,585.5L155.6,585.6L156,585.6L156.3,585.7L156.6,585.8L157,585.9L157.3,586L157.6,586.1L158,586.2L158.3,586.3L158.7,586.4L159,586.5L159.3,586.7L159.7,586.8L160,586.9L160.4,587L160.7,587.1L161,587.2L161.4,587.4L161.7,587.5L162,587.6L162.4,587.7L162.7,587.9L163.1,588L163.4,588.1L163.7,588.2L164.1,588.4L164.4,588.5L164.7,588.7L165.1,588.8L165.4,588.9L165.8,589.1L166.1,589.2L166.4,589.4L166.8,589.5L167.1,589.6L167.5,589.8L167.8,589.9L168.1,590.1L168.5,590.2L168.8,590.4L169.1,590.5L169.5,590.7L169.8,590.9L170.2,591L170.5,591.2L170.8,591.3L171.2,591.5L171.5,591.6L171.9,591.8L172.2,592L172.5,592.1L172.9,592.3L173.2,592.5L173.5,592.7L173.9,592.8L174.2,593L174.6,593.2L174.9,593.4L175.2,593.6L175.6,593.8L175.9,594L176.2,594.2L176.6,594.4L176.9,594.6L177.3,594.8L177.6,595L177.9,595.2L178.3,595.4L178.6,595.6L179,595.8L179.3,596.1L179.6,596.3L180,596.5L180.3,596.7L180.6,597L181,597.2L181.3,597.4L181.7,597.6L182,597.9L182.3,598.1L182.7,598.3L183,598.6L183.4,598.8L183.7,599L184,599.3L184.4,599.5L184.7,599.8L185,600L185.4,600.2L185.7,600.5L186.1,600.7L186.4,601L186.7,601.2L187.1,601.4L187.4,601.7L187.7,601.9L188.1,602.2L188.4,602.4L188.8,602.7L189.1,602.9L189.4,603.2L189.8,603.4L190.1,603.7L190.5,603.9L190.8,604.2L191.1,604.4L191.5,604.7L191.8,604.9L192.1,605.2L192.5,605.5L192.8,605.7L193.2,606L193.5,606.3L193.8,606.5L194.2,606.8L194.5,607.1L194.9,607.3L195.2,607.6L195.5,607.9L195.9,608.2L196.2,608.5L196.5,608.7L196.9,609L197.2,609.3L197.6,609.6L197.9,609.9L198.2,610.2L198.6,610.4L198.9,610.7L199.2,611L199.6,611.3L199.9,611.6L200.3,611.9L200.6,612.2L200.9,612.5L201.3,612.8L201.6,613.1L202,613.4L202.3,613.7L202.6,614L203,614.3L203.3,614.6L203.6,614.9L204,615.2L204.3,615.5L204.7,615.8L205,616.1L205.3,616.4L205.7,616.7L206,617L206.4,617.3L206.7,617.6L207,617.9L207.4,618.2L207.7,618.5L208,618.8L208.4,619.1L208.7,619.5L209.1,619.8L209.4,620.1L209.7,620.4L210.1,620.7L210.4,621.1L210.7,621.4L211.1,621.7L211.4,622.1L211.8,622.4L212.1,622.7L212.4,623.1L212.8,623.4L213.1,623.7L213.5,624.1L213.8,624.4L214.1,624.8L214.5,625.1L214.8,625.5L215.1,625.8L215.5,626.2L215.8,626.6L216.2,626.9L216.5,627.3L216.8,627.7L217.2,628.1L217.5,628.5L217.9,629L218.2,629.4L218.5,629.8L218.9,630.2L219.2,630.7L219.5,631.1L219.9,631.5L220.2,631.9L220.6,632.3L220.9,632.8L221.2,633.2L221.6,633.6L221.9,633.9L222.2,634.3L222.6,634.7L222.9,635L223.3,635.4L223.6,635.7L223.9,636L224.3,636.3L224.6,636.6L225,636.9L225.3,637.2L225.6,637.5L226,637.7L226.3,638L226.6,638.3L227,638.5L227.3,638.8L227.7,639L228,639.3L228.3,639.5L228.7,639.8L229,640L229.4,640.2L229.7,640.5L230,640.7L230.4,640.9L230.7,641.1L231,641.3L231.4,641.5L231.7,641.7L232.1,641.9L232.4,642L232.7,642.2L233.1,642.4L233.4,642.6L233.8,642.7L234.1,642.9L234.4,643L234.8,643.2L235.1,643.3L235.4,643.5L235.8,643.6L236.1,643.8L236.5,643.9L236.8,644.1L237.1,644.2L237.5,644.3L237.8,644.5L238.1,644.6L238.5,644.7L238.8,644.8L239.2,645L239.5,645.1L239.8,645.2L240.2,645.3L240.5,645.5L240.9,645.6L241.2,645.7L241.5,645.8L241.9,645.9L242.2,646L242.5,646.2L242.9,646.3L243.2,646.4L243.6,646.5L243.9,646.6L244.2,646.7L244.6,646.8L244.9,647L245.3,647.1L245.6,647.2L245.9,647.3L246.3,647.4L246.6,647.5L246.9,647.6L247.3,647.7L247.6,647.8L248,647.9L248.3,648L248.6,648.1L249,648.2L249.3,648.3L249.6,648.4L250,648.5L250.3,648.6L250.7,648.7L251,648.7L251.3,648.8L251.7,648.9L252,649L252.4,649.1L252.7,649.2L253,649.3L253.4,649.4L253.7,649.5L254,649.6L254.4,649.7L254.7,649.8L255.1,649.8L255.4,649.9L255.7,650L256.1,650.1L256.4,650.2L256.8,650.3L257.1,650.4L257.4,650.5L257.8,650.6L258.1,650.7L258.4,650.8L258.8,650.9L259.1,651L259.5,651L259.8,651.1L260.1,651.2L260.5,651.3L260.8,651.4L261.1,651.5L261.5,651.6L261.8,651.7L262.2,651.8L262.5,651.9L262.8,652L263.2,652.1L263.5,652.2L263.9,652.4L264.2,652.5L264.5,652.6L264.9,652.7L265.2,652.8L265.5,652.9L265.9,653L266.2,653.1L266.6,653.3L266.9,653.4L267.2,653.5L267.6,653.6L267.9,653.7L268.3,653.9L268.6,654L268.9,654.1L269.3,654.2L269.6,654.3L269.9,654.5L270.3,654.6L270.6,654.7L271,654.8L271.3,655L271.6,655.1L272,655.2L272.3,655.4L272.6,655.5L273,655.6L273.3,655.7L273.7,655.9L274,656L274.3,656.1L274.7,656.3L275,656.4L275.4,656.6L275.7,656.7L276,656.8L276.4,657L276.7,657.1L277,657.2L277.4,657.4L277.7,657.5L278.1,657.7L278.4,657.8L278.7,657.9L279.1,658.1L279.4,658.2L279.8,658.4L280.1,658.5L280.4,658.7L280.8,658.8L281.1,659L281.4,659.1L281.8,659.3L282.1,659.4L282.5,659.6L282.8,659.7L283.1,659.9L283.5,660L283.8,660.2L284.1,660.3L284.5,660.5L284.8,660.6L285.2,660.8L285.5,660.9L285.8,661.1L286.2,661.2L286.5,661.4L286.9,661.5L287.2,661.7L287.5,661.9L287.9,662L288.2,662.2L288.5,662.3L288.9,662.5L289.2,662.6L289.6,662.8L289.9,663" fill="none" stroke="#8c8c14" stroke-width="1.9" stroke-linejoin="round"/>
<path d="M154.6,600.8L154.9,600.9L155.3,601L155.6,601.1L156,601.2L156.3,601.3L156.6,601.4L157,601.5L157.3,601.6L157.6,601.7L158,601.8L158.3,601.9L158.7,602L159,602.1L159.3,602.2L159.7,602.3L160,602.4L160.4,602.5L160.7,602.7L161,602.8L161.4,602.9L161.7,603L162,603.1L162.4,603.3L162.7,603.4L163.1,603.5L163.4,603.6L163.7,603.8L164.1,603.9L164.4,604L164.7,604.2L165.1,604.3L165.4,604.5L165.8,604.6L166.1,604.7L166.4,604.9L166.8,605L167.1,605.2L167.5,605.3L167.8,605.5L168.1,605.6L168.5,605.8L168.8,605.9L169.1,606.1L169.5,606.2L169.8,606.4L170.2,606.5L170.5,606.7L170.8,606.9L171.2,607L171.5,607.2L171.9,607.3L172.2,607.5L172.5,607.7L172.9,607.8L173.2,608L173.5,608.2L173.9,608.4L174.2,608.6L174.6,608.7L174.9,608.9L175.2,609.1L175.6,609.3L175.9,609.5L176.2,609.7L176.6,609.9L176.9,610.1L177.3,610.3L177.6,610.5L177.9,610.7L178.3,610.9L178.6,611.2L179,611.4L179.3,611.6L179.6,611.8L180,612L180.3,612.3L180.6,612.5L181,612.7L181.3,612.9L181.7,613.2L182,613.4L182.3,613.6L182.7,613.9L183,614.1L183.4,614.3L183.7,614.6L184,614.8L184.4,615L184.7,615.3L185,615.5L185.4,615.8L185.7,616L186.1,616.3L186.4,616.5L186.7,616.7L187.1,617L187.4,617.2L187.7,617.5L188.1,617.7L188.4,618L188.8,618.2L189.1,618.4L189.4,618.7L189.8,618.9L190.1,619.2L190.5,619.4L190.8,619.7L191.1,620L191.5,620.2L191.8,620.5L192.1,620.7L192.5,621L192.8,621.3L193.2,621.5L193.5,621.8L193.8,622.1L194.2,622.3L194.5,622.6L194.9,622.9L195.2,623.2L195.5,623.4L195.9,623.7L196.2,624L196.5,624.3L196.9,624.5L197.2,624.8L197.6,625.1L197.9,625.4L198.2,625.7L198.6,626L198.9,626.3L199.2,626.5L199.6,626.8L199.9,627.1L200.3,627.4L200.6,627.7L200.9,628L201.3,628.3L201.6,628.6L202,628.9L202.3,629.2L202.6,629.5L203,629.8L203.3,630.1L203.6,630.4L204,630.7L204.3,631L204.7,631.3L205,631.6L205.3,631.9L205.7,632.2L206,632.5L206.4,632.8L206.7,633.1L207,633.4L207.4,633.7L207.7,634.1L208,634.4L208.4,634.7L208.7,635L209.1,635.3L209.4,635.6L209.7,636L210.1,636.3L210.4,636.6L210.7,636.9L211.1,637.3L211.4,637.6L211.8,637.9L212.1,638.3L212.4,638.6L212.8,638.9L213.1,639.3L213.5,639.6L213.8,640L214.1,640.3L214.5,640.7L214.8,641L215.1,641.4L215.5,641.7L215.8,642.1L216.2,642.5L216.5,642.9L216.8,643.2L217.2,643.7L217.5,644.1L217.9,644.5L218.2,644.9L218.5,645.3L218.9,645.8L219.2,646.2L219.5,646.6L219.9,647L220.2,647.5L220.6,647.9L220.9,648.3L221.2,648.7L221.6,649.1L221.9,649.5L222.2,649.9L222.6,650.2L222.9,650.6L223.3,650.9L223.6,651.2L223.9,651.6L224.3,651.8L224.6,652.1L225,652.4L225.3,652.7L225.6,653L226,653.3L226.3,653.5L226.6,653.8L227,654.1L227.3,654.3L227.7,654.6L228,654.8L228.3,655.1L228.7,655.3L229,655.5L229.4,655.8L229.7,656L230,656.2L230.4,656.4L230.7,656.6L231,656.8L231.4,657L231.7,657.2L232.1,657.4L232.4,657.6L232.7,657.7L233.1,657.9L233.4,658.1L233.8,658.3L234.1,658.4L234.4,658.6L234.8,658.7L235.1,658.9L235.4,659L235.8,659.2L236.1,659.3L236.5,659.4L236.8,659.6L237.1,659.7L237.5,659.9L237.8,660L238.1,660.1L238.5,660.2L238.8,660.4L239.2,660.5L239.5,660.6L239.8,660.7L240.2,660.9L240.5,661L240.9,661.1L241.2,661.2L241.5,661.3L241.9,661.5L242.2,661.6L242.5,661.7L242.9,661.8L243.2,661.9L243.6,662L243.9,662.2L244.2,662.3L244.6,662.4L244.9,662.5L245.3,662.6L245.6,662.7L245.9,662.8L246.3,662.9L246.6,663L246.9,663.1L247.3,663.2L247.6,663.3L248,663.4L248.3,663.5L248.6,663.6L249,663.7L249.3,663.8L249.6,663.9L250,664L250.3,664.1L250.7,664.2L251,664.3L251.3,664.4L251.7,664.5L252,664.6L252.4,664.6L252.7,664.7L253,664.8L253.4,664.9L253.7,665L254,665.1L254.4,665.2L254.7,665.3L255.1,665.4L255.4,665.5L255.7,665.6L256.1,665.7L256.4,665.7L256.8,665.8L257.1,665.9L257.4,666L257.8,666.1L258.1,666.2L258.4,666.3L258.8,666.4L259.1,666.5L259.5,666.6L259.8,666.7L260.1,666.8L260.5,666.9L260.8,667L261.1,667.1L261.5,667.2L261.8,667.3L262.2,667.4L262.5,667.5L262.8,667.6L263.2,667.7L263.5,667.8L263.9,667.9L264.2,668L264.5,668.1L264.9,668.2L265.2,668.3L265.5,668.4L265.9,668.6L266.2,668.7L266.6,668.8L266.9,668.9L267.2,669L267.6,669.1L267.9,669.3L268.3,669.4L268.6,669.5L268.9,669.6L269.3,669.7L269.6,669.9L269.9,670L270.3,670.1L270.6,670.2L271,670.4L271.3,670.5L271.6,670.6L272,670.8L272.3,670.9L272.6,671L273,671.2L273.3,671.3L273.7,671.4L274,671.5L274.3,671.7L274.7,671.8L275,672L275.4,672.1L275.7,672.2L276,672.4L276.4,672.5L276.7,672.6L277,672.8L277.4,672.9L277.7,673.1L278.1,673.2L278.4,673.3L278.7,673.5L279.1,673.6L279.4,673.8L279.8,673.9L280.1,674.1L280.4,674.2L280.8,674.3L281.1,674.5L281.4,674.6L281.8,674.8L282.1,674.9L282.5,675.1L282.8,675.2L283.1,675.4L283.5,675.5L283.8,675.7L284.1,675.8L284.5,676L284.8,676.1L285.2,676.3L285.5,676.4L285.8,676.6L286.2,676.8L286.5,676.9L286.9,677.1L287.2,677.2L287.5,677.4L287.9,677.5L288.2,677.7L288.5,677.9L288.9,678L289.2,678.2L289.6,678.3L289.9,678.5" fill="none" stroke="#7a5050" stroke-width="1.9" stroke-linejoin="round"/>
<path d="M154.6,619L154.9,619.1L155.3,619.2L155.6,619.3L156,619.4L156.3,619.5L156.6,619.6L157,619.6L157.3,619.7L157.6,619.8L158,619.9L158.3,620L158.7,620.1L159,620.3L159.3,620.4L159.7,620.5L160,620.6L160.4,620.7L160.7,620.8L161,620.9L161.4,621L161.7,621.2L162,621.3L162.4,621.4L162.7,621.5L163.1,621.7L163.4,621.8L163.7,621.9L164.1,622.1L164.4,622.2L164.7,622.3L165.1,622.5L165.4,622.6L165.8,622.7L166.1,622.9L166.4,623L166.8,623.2L167.1,623.3L167.5,623.5L167.8,623.6L168.1,623.7L168.5,623.9L168.8,624L169.1,624.2L169.5,624.3L169.8,624.5L170.2,624.7L170.5,624.8L170.8,625L171.2,625.1L171.5,625.3L171.9,625.4L172.2,625.6L172.5,625.8L172.9,625.9L173.2,626.1L173.5,626.3L173.9,626.5L174.2,626.6L174.6,626.8L174.9,627L175.2,627.2L175.6,627.4L175.9,627.6L176.2,627.8L176.6,628L176.9,628.2L177.3,628.4L177.6,628.6L177.9,628.8L178.3,629L178.6,629.2L179,629.4L179.3,629.7L179.6,629.9L180,630.1L180.3,630.3L180.6,630.5L181,630.8L181.3,631L181.7,631.2L182,631.4L182.3,631.7L182.7,631.9L183,632.1L183.4,632.4L183.7,632.6L184,632.8L184.4,633.1L184.7,633.3L185,633.6L185.4,633.8L185.7,634L186.1,634.3L186.4,634.5L186.7,634.8L187.1,635L187.4,635.2L187.7,635.5L188.1,635.7L188.4,636L188.8,636.2L189.1,636.4L189.4,636.7L189.8,636.9L190.1,637.2L190.5,637.4L190.8,637.7L191.1,638L191.5,638.2L191.8,638.5L192.1,638.7L192.5,639L192.8,639.2L193.2,639.5L193.5,639.8L193.8,640L194.2,640.3L194.5,640.6L194.9,640.9L195.2,641.1L195.5,641.4L195.9,641.7L196.2,642L196.5,642.2L196.9,642.5L197.2,642.8L197.6,643.1L197.9,643.4L198.2,643.6L198.6,643.9L198.9,644.2L199.2,644.5L199.6,644.8L199.9,645.1L200.3,645.4L200.6,645.7L200.9,646L201.3,646.2L201.6,646.5L202,646.8L202.3,647.1L202.6,647.4L203,647.7L203.3,648L203.6,648.3L204,648.6L204.3,648.9L204.7,649.2L205,649.5L205.3,649.8L205.7,650.1L206,650.4L206.4,650.7L206.7,651L207,651.3L207.4,651.7L207.7,652L208,652.3L208.4,652.6L208.7,652.9L209.1,653.2L209.4,653.5L209.7,653.9L210.1,654.2L210.4,654.5L210.7,654.8L211.1,655.2L211.4,655.5L211.8,655.8L212.1,656.1L212.4,656.5L212.8,656.8L213.1,657.2L213.5,657.5L213.8,657.8L214.1,658.2L214.5,658.5L214.8,658.9L215.1,659.2L215.5,659.6L215.8,660L216.2,660.3L216.5,660.7L216.8,661.1L217.2,661.5L217.5,661.9L217.9,662.3L218.2,662.8L218.5,663.2L218.9,663.6L219.2,664L219.5,664.5L219.9,664.9L220.2,665.3L220.6,665.7L220.9,666.1L221.2,666.5L221.6,666.9L221.9,667.3L222.2,667.7L222.6,668.1L222.9,668.4L223.3,668.7L223.6,669.1L223.9,669.4L224.3,669.7L224.6,670L225,670.2L225.3,670.5L225.6,670.8L226,671.1L226.3,671.3L226.6,671.6L227,671.9L227.3,672.1L227.7,672.4L228,672.6L228.3,672.9L228.7,673.1L229,673.3L229.4,673.6L229.7,673.8L230,674L230.4,674.2L230.7,674.4L231,674.6L231.4,674.8L231.7,675L232.1,675.2L232.4,675.3L232.7,675.5L233.1,675.7L233.4,675.9L233.8,676L234.1,676.2L234.4,676.3L234.8,676.5L235.1,676.6L235.4,676.8L235.8,676.9L236.1,677.1L236.5,677.2L236.8,677.3L237.1,677.5L237.5,677.6L237.8,677.7L238.1,677.9L238.5,678L238.8,678.1L239.2,678.2L239.5,678.4L239.8,678.5L240.2,678.6L240.5,678.7L240.9,678.8L241.2,678.9L241.5,679.1L241.9,679.2L242.2,679.3L242.5,679.4L242.9,679.5L243.2,679.6L243.6,679.8L243.9,679.9L244.2,680L244.6,680.1L244.9,680.2L245.3,680.3L245.6,680.4L245.9,680.5L246.3,680.6L246.6,680.7L246.9,680.8L247.3,680.9L247.6,681L248,681.1L248.3,681.2L248.6,681.3L249,681.4L249.3,681.5L249.6,681.6L250,681.7L250.3,681.8L250.7,681.9L251,682L251.3,682L251.7,682.1L252,682.2L252.4,682.3L252.7,682.4L253,682.5L253.4,682.6L253.7,682.7L254,682.8L254.4,682.9L254.7,682.9L255.1,683L255.4,683.1L255.7,683.2L256.1,683.3L256.4,683.4L256.8,683.5L257.1,683.6L257.4,683.7L257.8,683.7L258.1,683.8L258.4,683.9L258.8,684L259.1,684.1L259.5,684.2L259.8,684.3L260.1,684.4L260.5,684.5L260.8,684.6L261.1,684.7L261.5,684.8L261.8,684.9L262.2,685L262.5,685.1L262.8,685.2L263.2,685.3L263.5,685.4L263.9,685.5L264.2,685.6L264.5,685.7L264.9,685.8L265.2,685.9L265.5,686L265.9,686.1L266.2,686.3L266.6,686.4L266.9,686.5L267.2,686.6L267.6,686.7L267.9,686.8L268.3,687L268.6,687.1L268.9,687.2L269.3,687.3L269.6,687.4L269.9,687.6L270.3,687.7L270.6,687.8L271,687.9L271.3,688.1L271.6,688.2L272,688.3L272.3,688.4L272.6,688.6L273,688.7L273.3,688.8L273.7,689L274,689.1L274.3,689.2L274.7,689.4L275,689.5L275.4,689.6L275.7,689.8L276,689.9L276.4,690L276.7,690.2L277,690.3L277.4,690.4L277.7,690.6L278.1,690.7L278.4,690.9L278.4,576.7L278.4,576.7L278.7,576.9L279.1,577L279.4,577.2L279.8,577.3L280.1,577.5L280.4,577.6L280.8,577.8L281.1,577.9L281.4,578L281.8,578.2L282.1,578.3L282.5,578.5L282.8,578.6L283.1,578.8L283.5,578.9L283.8,579.1L284.1,579.2L284.5,579.4L284.8,579.5L285.2,579.7L285.5,579.9L285.8,580L286.2,580.2L286.5,580.3L286.9,580.5L287.2,580.6L287.5,580.8L287.9,580.9L288.2,581.1L288.5,581.3L288.9,581.4L289.2,581.6L289.6,581.7L289.9,581.9" fill="none" stroke="#18c8d0" stroke-width="1.9" stroke-linejoin="round"/>
<path d="M154.6,631.3L154.9,631.4L155.3,631.5L155.6,631.6L156,631.7L156.3,631.7L156.6,631.8L157,631.9L157.3,632L157.6,632.1L158,632.2L158.3,632.3L158.7,632.4L159,632.5L159.3,632.6L159.7,632.7L160,632.8L160.4,633L160.7,633.1L161,633.2L161.4,633.3L161.7,633.4L162,633.5L162.4,633.7L162.7,633.8L163.1,633.9L163.4,634L163.7,634.2L164.1,634.3L164.4,634.4L164.7,634.6L165.1,634.7L165.4,634.8L165.8,635L166.1,635.1L166.4,635.2L166.8,635.4L167.1,635.5L167.5,635.7L167.8,635.8L168.1,635.9L168.5,636.1L168.8,636.2L169.1,636.4L169.5,636.5L169.8,636.7L170.2,636.8L170.5,637L170.8,637.1L171.2,637.3L171.5,637.5L171.9,637.6L172.2,637.8L172.5,637.9L172.9,638.1L173.2,638.3L173.5,638.4L173.9,638.6L174.2,638.8L174.6,639L174.9,639.2L175.2,639.4L175.6,639.5L175.9,639.7L176.2,639.9L176.6,640.1L176.9,640.3L177.3,640.5L177.6,640.7L177.9,640.9L178.3,641.1L178.6,641.4L179,641.6L179.3,641.8L179.6,642L180,642.2L180.3,642.4L180.6,642.7L181,642.9L181.3,643.1L181.7,643.3L182,643.6L182.3,643.8L182.7,644L183,644.2L183.4,644.5L183.7,644.7L184,644.9L184.4,645.2L184.7,645.4L185,645.6L185.4,645.9L185.7,646.1L186.1,646.4L186.4,646.6L186.7,646.8L187.1,647.1L187.4,647.3L187.7,647.5L188.1,647.8L188.4,648L188.8,648.3L189.1,648.5L189.4,648.7L189.8,649L190.1,649.2L190.5,649.5L190.8,649.7L191.1,650L191.5,650.2L191.8,650.5L192.1,650.8L192.5,651L192.8,651.3L193.2,651.5L193.5,651.8L193.8,652.1L194.2,652.3L194.5,652.6L194.9,652.9L195.2,653.1L195.5,653.4L195.9,653.7L196.2,654L196.5,654.2L196.9,654.5L197.2,654.8L197.6,655.1L197.9,655.4L198.2,655.6L198.6,655.9L198.9,656.2L199.2,656.5L199.6,656.8L199.9,657.1L200.3,657.3L200.6,657.6L200.9,657.9L201.3,658.2L201.6,658.5L202,658.8L202.3,659.1L202.6,659.4L203,659.7L203.3,660L203.6,660.3L204,660.6L204.3,660.9L204.7,661.2L205,661.5L205.3,661.8L205.7,662.1L206,662.4L206.4,662.7L206.7,663L207,663.3L207.4,663.6L207.7,663.9L208,664.2L208.4,664.5L208.7,664.8L209.1,665.1L209.4,665.4L209.7,665.8L210.1,666.1L210.4,666.4L210.7,666.7L211.1,667L211.4,667.4L211.8,667.7L212.1,668L212.4,668.4L212.8,668.7L213.1,669L213.5,669.4L213.8,669.7L214.1,670.1L214.5,670.4L214.8,670.8L215.1,671.1L215.5,671.5L215.8,671.8L216.2,672.2L216.5,672.6L216.8,673L217.2,673.4L217.5,673.8L217.9,674.2L218.2,674.6L218.5,675L218.9,675.4L219.2,675.9L219.5,676.3L219.9,676.7L220.2,677.1L220.6,677.5L220.9,678L221.2,678.4L221.6,678.8L221.9,679.1L222.2,679.5L222.6,679.9L222.9,680.2L223.3,680.6L223.6,680.9L223.9,681.2L224.3,681.5L224.6,681.8L225,682L225.3,682.3L225.6,682.6L226,682.9L226.3,683.1L226.6,683.4L227,683.7L227.3,683.9L227.7,684.2L228,684.4L228.3,684.6L228.7,684.9L229,685.1L229.4,685.3L229.7,685.5L230,685.8L230.4,686L230.7,686.2L231,686.4L231.4,686.6L231.7,686.7L232.1,686.9L232.4,687.1L232.7,687.3L233.1,687.4L233.4,687.6L233.8,687.8L234.1,687.9L234.4,688.1L234.8,688.2L235.1,688.4L235.4,688.5L235.8,688.6L236.1,688.8L236.5,688.9L236.8,689.1L237.1,689.2L237.5,689.3L237.8,689.4L238.1,689.6L238.5,689.7L238.8,689.8L239.2,689.9L239.5,690.1L239.8,690.2L240.2,690.3L240.5,690.4L240.9,690.5L241.2,690.6L241.5,690.7L241.9,690.9L241.9,576.7L241.9,576.7L242.2,576.9L242.5,577L242.9,577.1L243.2,577.2L243.6,577.3L243.9,577.4L244.2,577.6L244.6,577.7L244.9,577.8L245.3,577.9L245.6,578L245.9,578.1L246.3,578.2L246.6,578.3L246.9,578.4L247.3,578.5L247.6,578.6L248,578.7L248.3,578.8L248.6,578.9L249,579L249.3,579.1L249.6,579.2L250,579.3L250.3,579.4L250.7,579.5L251,579.6L251.3,579.7L251.7,579.7L252,579.8L252.4,579.9L252.7,580L253,580.1L253.4,580.2L253.7,580.3L254,580.4L254.4,580.5L254.7,580.6L255.1,580.7L255.4,580.8L255.7,580.8L256.1,580.9L256.4,581L256.8,581.1L257.1,581.2L257.4,581.3L257.8,581.4L258.1,581.5L258.4,581.6L258.8,581.7L259.1,581.8L259.5,581.9L259.8,582L260.1,582.1L260.5,582.2L260.8,582.2L261.1,582.3L261.5,582.4L261.8,582.5L262.2,582.6L262.5,582.8L262.8,582.9L263.2,583L263.5,583.1L263.9,583.2L264.2,583.3L264.5,583.4L264.9,583.5L265.2,583.6L265.5,583.7L265.9,583.8L266.2,584L266.6,584.1L266.9,584.2L267.2,584.3L267.6,584.4L267.9,584.5L268.3,584.7L268.6,584.8L268.9,584.9L269.3,585L269.6,585.2L269.9,585.3L270.3,585.4L270.6,585.5L271,585.7L271.3,585.8L271.6,585.9L272,586L272.3,586.2L272.6,586.3L273,586.4L273.3,586.6L273.7,586.7L274,586.8L274.3,587L274.7,587.1L275,587.2L275.4,587.4L275.7,587.5L276,587.6L276.4,587.8L276.7,587.9L277,588.1L277.4,588.2L277.7,588.3L278.1,588.5L278.4,588.6L278.7,588.8L279.1,588.9L279.4,589L279.8,589.2L280.1,589.3L280.4,589.5L280.8,589.6L281.1,589.8L281.4,589.9L281.8,590.1L282.1,590.2L282.5,590.4L282.8,590.5L283.1,590.7L283.5,590.8L283.8,591L284.1,591.1L284.5,591.3L284.8,591.4L285.2,591.6L285.5,591.7L285.8,591.9L286.2,592L286.5,592.2L286.9,592.4L287.2,592.5L287.5,592.7L287.9,592.8L288.2,593L288.5,593.1L288.9,593.3L289.2,593.5L289.6,593.6L289.9,593.8" fill="none" stroke="#d49a0a" stroke-width="1.9" stroke-linejoin="round"/>
<path d="M154.6,642.8L154.9,642.9L155.3,643L155.6,643.1L156,643.1L156.3,643.2L156.6,643.3L157,643.4L157.3,643.5L157.6,643.6L158,643.6L158.3,643.7L158.7,643.8L159,643.9L159.3,644L159.7,644.1L160,644.2L160.4,644.3L160.7,644.4L161,644.6L161.4,644.7L161.7,644.8L162,644.9L162.4,645L162.7,645.1L163.1,645.2L163.4,645.3L163.7,645.5L164.1,645.6L164.4,645.7L164.7,645.8L165.1,646L165.4,646.1L165.8,646.2L166.1,646.4L166.4,646.5L166.8,646.6L167.1,646.7L167.5,646.9L167.8,647L168.1,647.2L168.5,647.3L168.8,647.4L169.1,647.6L169.5,647.7L169.8,647.9L170.2,648L170.5,648.2L170.8,648.3L171.2,648.4L171.5,648.6L171.9,648.7L172.2,648.9L172.5,649L172.9,649.2L173.2,649.4L173.5,649.5L173.9,649.7L174.2,649.9L174.6,650.1L174.9,650.2L175.2,650.4L175.6,650.6L175.9,650.8L176.2,651L176.6,651.2L176.9,651.3L177.3,651.5L177.6,651.7L177.9,651.9L178.3,652.1L178.6,652.3L179,652.5L179.3,652.7L179.6,653L180,653.2L180.3,653.4L180.6,653.6L181,653.8L181.3,654L181.7,654.2L182,654.5L182.3,654.7L182.7,654.9L183,655.1L183.4,655.3L183.7,655.6L184,655.8L184.4,656L184.7,656.3L185,656.5L185.4,656.7L185.7,656.9L186.1,657.2L186.4,657.4L186.7,657.6L187.1,657.9L187.4,658.1L187.7,658.3L188.1,658.6L188.4,658.8L188.8,659L189.1,659.3L189.4,659.5L189.8,659.7L190.1,660L190.5,660.2L190.8,660.4L191.1,660.7L191.5,660.9L191.8,661.2L192.1,661.4L192.5,661.7L192.8,661.9L193.2,662.2L193.5,662.5L193.8,662.7L194.2,663L194.5,663.2L194.9,663.5L195.2,663.8L195.5,664L195.9,664.3L196.2,664.6L196.5,664.8L196.9,665.1L197.2,665.4L197.6,665.6L197.9,665.9L198.2,666.2L198.6,666.5L198.9,666.7L199.2,667L199.6,667.3L199.9,667.6L200.3,667.8L200.6,668.1L200.9,668.4L201.3,668.7L201.6,669L202,669.3L202.3,669.5L202.6,669.8L203,670.1L203.3,670.4L203.6,670.7L204,671L204.3,671.3L204.7,671.6L205,671.9L205.3,672.1L205.7,672.4L206,672.7L206.4,673L206.7,673.3L207,673.6L207.4,673.9L207.7,674.2L208,674.5L208.4,674.8L208.7,675.1L209.1,675.4L209.4,675.7L209.7,676.1L210.1,676.4L210.4,676.7L210.7,677L211.1,677.3L211.4,677.6L211.8,678L212.1,678.3L212.4,678.6L212.8,678.9L213.1,679.3L213.5,679.6L213.8,679.9L214.1,680.3L214.5,680.6L214.8,680.9L215.1,681.3L215.5,681.6L215.8,682L216.2,682.3L216.5,682.7L216.8,683.1L217.2,683.5L217.5,683.9L217.9,684.3L218.2,684.7L218.5,685.1L218.9,685.5L219.2,686L219.5,686.4L219.9,686.8L220.2,687.2L220.6,687.6L220.9,688L221.2,688.4L221.6,688.8L221.9,689.2L222.2,689.5L222.6,689.9L222.9,690.2L223.3,690.6L223.6,690.9L223.6,576.7L223.6,576.7L223.9,577.1L224.3,577.3L224.6,577.6L225,577.9L225.3,578.2L225.6,578.5L226,578.8L226.3,579L226.6,579.3L227,579.6L227.3,579.8L227.7,580.1L228,580.3L228.3,580.6L228.7,580.8L229,581L229.4,581.3L229.7,581.5L230,581.7L230.4,581.9L230.7,582.1L231,582.3L231.4,582.5L231.7,582.7L232.1,582.9L232.4,583.1L232.7,583.2L233.1,583.4L233.4,583.6L233.8,583.7L234.1,583.9L234.4,584.1L234.8,584.2L235.1,584.4L235.4,584.5L235.8,584.7L236.1,584.8L236.5,584.9L236.8,585.1L237.1,585.2L237.5,585.4L237.8,585.5L238.1,585.6L238.5,585.7L238.8,585.9L239.2,586L239.5,586.1L239.8,586.2L240.2,586.4L240.5,586.5L240.9,586.6L241.2,586.7L241.5,586.8L241.9,587L242.2,587.1L242.5,587.2L242.9,587.3L243.2,587.4L243.6,587.5L243.9,587.7L244.2,587.8L244.6,587.9L244.9,588L245.3,588.1L245.6,588.2L245.9,588.3L246.3,588.4L246.6,588.5L246.9,588.6L247.3,588.7L247.6,588.8L248,588.9L248.3,589L248.6,589.1L249,589.2L249.3,589.3L249.6,589.4L250,589.5L250.3,589.6L250.7,589.7L251,589.8L251.3,589.9L251.7,590L252,590.1L252.4,590.1L252.7,590.2L253,590.3L253.4,590.4L253.7,590.5L254,590.6L254.4,590.7L254.7,590.8L255.1,590.9L255.4,591L255.7,591.1L256.1,591.1L256.4,591.2L256.8,591.3L257.1,591.4L257.4,591.5L257.8,591.6L258.1,591.7L258.4,591.8L258.8,591.9L259.1,592L259.5,592.1L259.8,592.2L260.1,592.3L260.5,592.4L260.8,592.5L261.1,592.6L261.5,592.7L261.8,592.8L262.2,592.9L262.5,593L262.8,593.1L263.2,593.2L263.5,593.3L263.9,593.4L264.2,593.5L264.5,593.6L264.9,593.7L265.2,593.8L265.5,593.9L265.9,594.1L266.2,594.2L266.6,594.3L266.9,594.4L267.2,594.5L267.6,594.6L267.9,594.8L268.3,594.9L268.6,595L268.9,595.1L269.3,595.2L269.6,595.4L269.9,595.5L270.3,595.6L270.6,595.7L271,595.9L271.3,596L271.6,596.1L272,596.3L272.3,596.4L272.6,596.5L273,596.6L273.3,596.8L273.7,596.9L274,597L274.3,597.2L274.7,597.3L275,597.5L275.4,597.6L275.7,597.7L276,597.9L276.4,598L276.7,598.1L277,598.3L277.4,598.4L277.7,598.6L278.1,598.7L278.4,598.8L278.7,599L279.1,599.1L279.4,599.3L279.8,599.4L280.1,599.6L280.4,599.7L280.8,599.8L281.1,600L281.4,600.1L281.8,600.3L282.1,600.4L282.5,600.6L282.8,600.7L283.1,600.9L283.5,601L283.8,601.2L284.1,601.3L284.5,601.5L284.8,601.6L285.2,601.8L285.5,601.9L285.8,602.1L286.2,602.3L286.5,602.4L286.9,602.6L287.2,602.7L287.5,602.9L287.9,603L288.2,603.2L288.5,603.4L288.9,603.5L289.2,603.7L289.6,603.8L289.9,604" fill="none" stroke="#a77ee0" stroke-width="1.9" stroke-linejoin="round"/>
<path d="M154.6,656.8L154.9,656.9L155.3,657L155.6,657.1L156,657.2L156.3,657.3L156.6,657.4L157,657.5L157.3,657.6L157.6,657.7L158,657.8L158.3,657.9L158.7,658L159,658.2L159.3,658.3L159.7,658.4L160,658.5L160.4,658.6L160.7,658.8L161,658.9L161.4,659L161.7,659.1L162,659.3L162.4,659.4L162.7,659.5L163.1,659.7L163.4,659.8L163.7,659.9L164.1,660.1L164.4,660.2L164.7,660.4L165.1,660.5L165.4,660.6L165.8,660.8L166.1,660.9L166.4,661.1L166.8,661.2L167.1,661.4L167.5,661.5L167.8,661.7L168.1,661.8L168.5,662L168.8,662.2L169.1,662.3L169.5,662.5L169.8,662.6L170.2,662.8L170.5,662.9L170.8,663.1L171.2,663.3L171.5,663.4L171.9,663.6L172.2,663.8L172.5,663.9L172.9,664.1L173.2,664.3L173.5,664.5L173.9,664.7L174.2,664.9L174.6,665.1L174.9,665.2L175.2,665.4L175.6,665.6L175.9,665.8L176.2,666L176.6,666.3L176.9,666.5L177.3,666.7L177.6,666.9L177.9,667.1L178.3,667.3L178.6,667.5L179,667.8L179.3,668L179.6,668.2L180,668.4L180.3,668.7L180.6,668.9L181,669.1L181.3,669.4L181.7,669.6L182,669.8L182.3,670.1L182.7,670.3L183,670.5L183.4,670.8L183.7,671L184,671.3L184.4,671.5L184.7,671.8L185,672L185.4,672.2L185.7,672.5L186.1,672.7L186.4,673L186.7,673.2L187.1,673.5L187.4,673.7L187.7,674L188.1,674.2L188.4,674.5L188.8,674.7L189.1,675L189.4,675.2L189.8,675.5L190.1,675.7L190.5,676L190.8,676.3L191.1,676.5L191.5,676.8L191.8,677L192.1,677.3L192.5,677.6L192.8,677.8L193.2,678.1L193.5,678.4L193.8,678.7L194.2,678.9L194.5,679.2L194.9,679.5L195.2,679.8L195.5,680.1L195.9,680.3L196.2,680.6L196.5,680.9L196.9,681.2L197.2,681.5L197.6,681.8L197.9,682.1L198.2,682.4L198.6,682.6L198.9,682.9L199.2,683.2L199.6,683.5L199.9,683.8L200.3,684.1L200.6,684.4L200.9,684.7L201.3,685L201.6,685.3L202,685.6L202.3,685.9L202.6,686.2L203,686.5L203.3,686.8L203.6,687.1L204,687.4L204.3,687.8L204.7,688.1L205,688.4L205.3,688.7L205.7,689L206,689.3L206.4,689.6L206.7,689.9L207,690.2L207.4,690.5L207.7,690.9L207.7,576.7L207.7,576.7L208,577.1L208.4,577.4L208.7,577.7L209.1,578L209.4,578.3L209.7,578.6L210.1,579L210.4,579.3L210.7,579.6L211.1,580L211.4,580.3L211.8,580.6L212.1,580.9L212.4,581.3L212.8,581.6L213.1,582L213.5,582.3L213.8,582.7L214.1,583L214.5,583.4L214.8,583.7L215.1,584.1L215.5,584.4L215.8,584.8L216.2,585.2L216.5,585.5L216.8,585.9L217.2,586.3L217.5,586.8L217.9,587.2L218.2,587.6L218.5,588L218.9,588.4L219.2,588.9L219.5,589.3L219.9,589.7L220.2,590.1L220.6,590.6L220.9,591L221.2,591.4L221.6,591.8L221.9,592.2L222.2,592.6L222.6,592.9L222.9,593.3L223.3,593.6L223.6,593.9L223.9,594.2L224.3,594.5L224.6,594.8L225,595.1L225.3,595.4L225.6,595.7L226,596L226.3,596.2L226.6,596.5L227,596.8L227.3,597L227.7,597.3L228,597.5L228.3,597.8L228.7,598L229,598.2L229.4,598.5L229.7,598.7L230,598.9L230.4,599.1L230.7,599.3L231,599.5L231.4,599.7L231.7,599.9L232.1,600.1L232.4,600.3L232.7,600.4L233.1,600.6L233.4,600.8L233.8,600.9L234.1,601.1L234.4,601.3L234.8,601.4L235.1,601.6L235.4,601.7L235.8,601.9L236.1,602L236.5,602.1L236.8,602.3L237.1,602.4L237.5,602.5L237.8,602.7L238.1,602.8L238.5,602.9L238.8,603.1L239.2,603.2L239.5,603.3L239.8,603.4L240.2,603.6L240.5,603.7L240.9,603.8L241.2,603.9L241.5,604L241.9,604.2L242.2,604.3L242.5,604.4L242.9,604.5L243.2,604.6L243.6,604.7L243.9,604.8L244.2,605L244.6,605.1L244.9,605.2L245.3,605.3L245.6,605.4L245.9,605.5L246.3,605.6L246.6,605.7L246.9,605.8L247.3,605.9L247.6,606L248,606.1L248.3,606.2L248.6,606.3L249,606.4L249.3,606.5L249.6,606.6L250,606.7L250.3,606.8L250.7,606.9L251,607L251.3,607.1L251.7,607.2L252,607.2L252.4,607.3L252.7,607.4L253,607.5L253.4,607.6L253.7,607.7L254,607.8L254.4,607.9L254.7,608L255.1,608.1L255.4,608.2L255.7,608.2L256.1,608.3L256.4,608.4L256.8,608.5L257.1,608.6L257.4,608.7L257.8,608.8L258.1,608.9L258.4,609L258.8,609.1L259.1,609.2L259.5,609.3L259.8,609.4L260.1,609.5L260.5,609.6L260.8,609.7L261.1,609.8L261.5,609.9L261.8,610L262.2,610.1L262.5,610.2L262.8,610.3L263.2,610.4L263.5,610.5L263.9,610.6L264.2,610.7L264.5,610.8L264.9,610.9L265.2,611L265.5,611.1L265.9,611.2L266.2,611.4L266.6,611.5L266.9,611.6L267.2,611.7L267.6,611.8L267.9,612L268.3,612.1L268.6,612.2L268.9,612.3L269.3,612.4L269.6,612.6L269.9,612.7L270.3,612.8L270.6,612.9L271,613.1L271.3,613.2L271.6,613.3L272,613.5L272.3,613.6L272.6,613.7L273,613.8L273.3,614L273.7,614.1L274,614.2L274.3,614.4L274.7,614.5L275,614.6L275.4,614.8L275.7,614.9L276,615.1L276.4,615.2L276.7,615.3L277,615.5L277.4,615.6L277.7,615.7L278.1,615.9L278.4,616L278.7,616.2L279.1,616.3L279.4,616.5L279.8,616.6L280.1,616.7L280.4,616.9L280.8,617L281.1,617.2L281.4,617.3L281.8,617.5L282.1,617.6L282.5,617.8L282.8,617.9L283.1,618.1L283.5,618.2L283.8,618.4L284.1,618.5L284.5,618.7L284.8,618.8L285.2,619L285.5,619.1L285.8,619.3L286.2,619.4L286.5,619.6L286.9,619.8L287.2,619.9L287.5,620.1L287.9,620.2L288.2,620.4L288.5,620.5L288.9,620.7L289.2,620.9L289.6,621L289.9,621.2" fill="none" stroke="#2e9e5c" stroke-width="1.9" stroke-linejoin="round"/>
<path d="M154.6,675.7L154.9,675.9L155.3,676L155.6,676.2L156,676.3L156.3,676.4L156.6,676.6L157,676.7L157.3,676.9L157.6,677L158,677.2L158.3,677.3L158.7,677.5L159,677.7L159.3,677.8L159.7,678L160,678.2L160.4,678.3L160.7,678.5L161,678.7L161.4,678.8L161.7,679L162,679.2L162.4,679.4L162.7,679.6L163.1,679.7L163.4,679.9L163.7,680.1L164.1,680.3L164.4,680.5L164.7,680.7L165.1,680.9L165.4,681L165.8,681.2L166.1,681.4L166.4,681.6L166.8,681.8L167.1,682L167.5,682.2L167.8,682.4L168.1,682.6L168.5,682.8L168.8,683L169.1,683.2L169.5,683.4L169.8,683.6L170.2,683.9L170.5,684.1L170.8,684.3L171.2,684.5L171.5,684.7L171.9,684.9L172.2,685.1L172.5,685.3L172.9,685.6L173.2,685.8L173.5,686L173.9,686.3L174.2,686.5L174.6,686.7L174.9,687L175.2,687.2L175.6,687.5L175.9,687.7L176.2,688L176.6,688.2L176.9,688.5L177.3,688.7L177.6,689L177.9,689.2L178.3,689.5L178.6,689.8L179,690L179.3,690.3L179.6,690.6L180,690.9L180,576.7L180,576.7L180.3,577L180.6,577.2L181,577.4L181.3,577.6L181.7,577.9L182,578.1L182.3,578.3L182.7,578.6L183,578.8L183.4,579L183.7,579.3L184,579.5L184.4,579.8L184.7,580L185,580.2L185.4,580.5L185.7,580.7L186.1,581L186.4,581.2L186.7,581.4L187.1,581.7L187.4,581.9L187.7,582.2L188.1,582.4L188.4,582.7L188.8,582.9L189.1,583.1L189.4,583.4L189.8,583.6L190.1,583.9L190.5,584.1L190.8,584.4L191.1,584.7L191.5,584.9L191.8,585.2L192.1,585.4L192.5,585.7L192.8,586L193.2,586.2L193.5,586.5L193.8,586.8L194.2,587L194.5,587.3L194.9,587.6L195.2,587.9L195.5,588.1L195.9,588.4L196.2,588.7L196.5,589L196.9,589.3L197.2,589.5L197.6,589.8L197.9,590.1L198.2,590.4L198.6,590.7L198.9,591L199.2,591.3L199.6,591.5L199.9,591.8L200.3,592.1L200.6,592.4L200.9,592.7L201.3,593L201.6,593.3L202,593.6L202.3,593.9L202.6,594.2L203,594.5L203.3,594.8L203.6,595.1L204,595.4L204.3,595.7L204.7,596L205,596.3L205.3,596.6L205.7,596.9L206,597.2L206.4,597.5L206.7,597.8L207,598.1L207.4,598.4L207.7,598.8L208,599.1L208.4,599.4L208.7,599.7L209.1,600L209.4,600.3L209.7,600.7L210.1,601L210.4,601.3L210.7,601.6L211.1,602L211.4,602.3L211.8,602.6L212.1,603L212.4,603.3L212.8,603.6L213.1,604L213.5,604.3L213.8,604.7L214.1,605L214.5,605.4L214.8,605.7L215.1,606.1L215.5,606.4L215.8,606.8L216.2,607.2L216.5,607.6L216.8,608L217.2,608.4L217.5,608.8L217.9,609.2L218.2,609.6L218.5,610L218.9,610.5L219.2,610.9L219.5,611.3L219.9,611.7L220.2,612.2L220.6,612.6L220.9,613L221.2,613.4L221.6,613.8L221.9,614.2L222.2,614.6L222.6,614.9L222.9,615.3L223.3,615.6L223.6,615.9L223.9,616.3L224.3,616.6L224.6,616.8L225,617.1L225.3,617.4L225.6,617.7L226,618L226.3,618.2L226.6,618.5L227,618.8L227.3,619L227.7,619.3L228,619.5L228.3,619.8L228.7,620L229,620.2L229.4,620.5L229.7,620.7L230,620.9L230.4,621.1L230.7,621.3L231,621.5L231.4,621.7L231.7,621.9L232.1,622.1L232.4,622.3L232.7,622.5L233.1,622.6L233.4,622.8L233.8,623L234.1,623.1L234.4,623.3L234.8,623.4L235.1,623.6L235.4,623.7L235.8,623.9L236.1,624L236.5,624.2L236.8,624.3L237.1,624.4L237.5,624.6L237.8,624.7L238.1,624.8L238.5,624.9L238.8,625.1L239.2,625.2L239.5,625.3L239.8,625.4L240.2,625.6L240.5,625.7L240.9,625.8L241.2,625.9L241.5,626L241.9,626.2L242.2,626.3L242.5,626.4L242.9,626.5L243.2,626.6L243.6,626.7L243.9,626.9L244.2,627L244.6,627.1L244.9,627.2L245.3,627.3L245.6,627.4L245.9,627.5L246.3,627.6L246.6,627.7L246.9,627.8L247.3,627.9L247.6,628L248,628.1L248.3,628.2L248.6,628.3L249,628.4L249.3,628.5L249.6,628.6L250,628.7L250.3,628.8L250.7,628.9L251,629L251.3,629.1L251.7,629.2L252,629.3L252.4,629.4L252.7,629.4L253,629.5L253.4,629.6L253.7,629.7L254,629.8L254.4,629.9L254.7,630L255.1,630.1L255.4,630.2L255.7,630.3L256.1,630.4L256.4,630.4L256.8,630.5L257.1,630.6L257.4,630.7L257.8,630.8L258.1,630.9L258.4,631L258.8,631.1L259.1,631.2L259.5,631.3L259.8,631.4L260.1,631.5L260.5,631.6L260.8,631.7L261.1,631.8L261.5,631.9L261.8,632L262.2,632.1L262.5,632.2L262.8,632.3L263.2,632.4L263.5,632.5L263.9,632.6L264.2,632.7L264.5,632.8L264.9,632.9L265.2,633L265.5,633.1L265.9,633.3L266.2,633.4L266.6,633.5L266.9,633.6L267.2,633.7L267.6,633.8L267.9,634L268.3,634.1L268.6,634.2L268.9,634.3L269.3,634.5L269.6,634.6L269.9,634.7L270.3,634.8L270.6,635L271,635.1L271.3,635.2L271.6,635.3L272,635.5L272.3,635.6L272.6,635.7L273,635.9L273.3,636L273.7,636.1L274,636.3L274.3,636.4L274.7,636.5L275,636.7L275.4,636.8L275.7,636.9L276,637.1L276.4,637.2L276.7,637.3L277,637.5L277.4,637.6L277.7,637.8L278.1,637.9L278.4,638L278.7,638.2L279.1,638.3L279.4,638.5L279.8,638.6L280.1,638.8L280.4,638.9L280.8,639.1L281.1,639.2L281.4,639.3L281.8,639.5L282.1,639.6L282.5,639.8L282.8,639.9L283.1,640.1L283.5,640.2L283.8,640.4L284.1,640.5L284.5,640.7L284.8,640.8L285.2,641L285.5,641.2L285.8,641.3L286.2,641.5L286.5,641.6L286.9,641.8L287.2,641.9L287.5,642.1L287.9,642.2L288.2,642.4L288.5,642.6L288.9,642.7L289.2,642.9L289.6,643L289.9,643.2" fill="none" stroke="#1c64e6" stroke-width="1.9" stroke-linejoin="round"/>
<rect x="154.6" y="570.4" width="135.3" height="126.8" fill="none" stroke="#000" stroke-width="1.6"/>
<path d="M188.4,697.2L188.4,694.2M222.2,697.2L222.2,694.2M256.1,697.2L256.1,694.2M154.6,665.5L157.6,665.5M154.6,633.8L157.6,633.8M154.6,602.1L157.6,602.1" stroke="#000" stroke-width="1.2" fill="none"/>
<text x="154.6" y="708.7" font-size="10.5" text-anchor="middle" font-weight="bold" font-style="normal" fill="#000" >6</text>
<text x="188.4" y="708.7" font-size="10.5" text-anchor="middle" font-weight="bold" font-style="normal" fill="#000" >7</text>
<text x="222.2" y="708.7" font-size="10.5" text-anchor="middle" font-weight="bold" font-style="normal" fill="#000" >8</text>
<text x="256.1" y="708.7" font-size="10.5" text-anchor="middle" font-weight="bold" font-style="normal" fill="#000" >9</text>
<text x="289.9" y="708.7" font-size="10.5" text-anchor="middle" font-weight="bold" font-style="normal" fill="#000" >10</text>
<text x="151.1" y="700.8" font-size="10.5" text-anchor="end" font-weight="bold" font-style="normal" fill="#000" >-200</text>
<text x="151.1" y="669.1" font-size="10.5" text-anchor="end" font-weight="bold" font-style="normal" fill="#000" >-100</text>
<text x="151.1" y="637.4" font-size="10.5" text-anchor="end" font-weight="bold" font-style="normal" fill="#000" >0</text>
<text x="151.1" y="605.7" font-size="10.5" text-anchor="end" font-weight="bold" font-style="normal" fill="#000" >100</text>
<text x="151.1" y="574" font-size="10.5" text-anchor="end" font-weight="bold" font-style="normal" fill="#000" >200</text>
<text x="130.6" y="633.8" font-size="11" text-anchor="middle" font-weight="bold" font-style="normal" fill="#000" transform="rotate(-90 130.6 633.8)">Phase(deg)</text>
<text x="222.2" y="716.9" font-size="11" text-anchor="middle" font-weight="bold" font-style="normal" fill="#000" >Frequency(GHz)</text>
<rect x="51.5" y="423.9" width="375.2" height="304.1" fill="none" stroke="#000" stroke-width="2"/>
<path d="M145.3,728L145.3,722.5M239.1,728L239.1,722.5M332.9,728L332.9,722.5M51.5,667.2L57,667.2M51.5,606.4L57,606.4M51.5,545.5L57,545.5M51.5,484.7L57,484.7" stroke="#000" stroke-width="1.8" fill="none"/>
<text x="51.5" y="748.3" font-size="17" text-anchor="middle" font-weight="bold" font-style="normal" fill="#000" >6</text>
<text x="145.3" y="748.3" font-size="17" text-anchor="middle" font-weight="bold" font-style="normal" fill="#000" >7</text>
<text x="239.1" y="748.3" font-size="17" text-anchor="middle" font-weight="bold" font-style="normal" fill="#000" >8</text>
<text x="332.9" y="748.3" font-size="17" text-anchor="middle" font-weight="bold" font-style="normal" fill="#000" >9</text>
<text x="426.7" y="748.3" font-size="17" text-anchor="middle" font-weight="bold" font-style="normal" fill="#000" >10</text>
<text x="45" y="733.3" font-size="17" text-anchor="end" font-weight="bold" font-style="normal" fill="#000" >0.0</text>
<text x="45" y="672.5" font-size="17" text-anchor="end" font-weight="bold" font-style="normal" fill="#000" >0.2</text>
<text x="45" y="611.7" font-size="17" text-anchor="end" font-weight="bold" font-style="normal" fill="#000" >0.4</text>
<text x="45" y="550.8" font-size="17" text-anchor="end" font-weight="bold" font-style="normal" fill="#000" >0.6</text>
<text x="45" y="490" font-size="17" text-anchor="end" font-weight="bold" font-style="normal" fill="#000" >0.8</text>
<text x="45" y="429.2" font-size="17" text-anchor="end" font-weight="bold" font-style="normal" fill="#000" >1.0</text>
<text x="18.3" y="575" font-size="26" text-anchor="middle" font-weight="bold" font-style="normal" fill="#000" transform="rotate(-90 18.3 575)">Amplitude</text>
<text x="239.5" y="770.3" font-size="26" text-anchor="middle" font-weight="bold" font-style="normal" fill="#000" >Frequency(GHz)</text>
<text x="235.7" y="811" font-size="34" text-anchor="middle" font-weight="bold" font-style="normal" fill="#000" >(c)</text>
<text x="56.3" y="443.5" font-size="18.3" text-anchor="start" font-weight="bold" font-style="normal" fill="#000" word-spacing="2">RHCP incidence</text>
<line x1="343.3" y1="433.3" x2="380.8" y2="433.3" stroke="#555555" stroke-width="2.8"/>
<path d="M365.8,433.3L365.5,434.7L364.7,436L363.5,436.8L362.1,437.1L360.6,436.8L359.4,436L358.6,434.7L358.3,433.3L358.6,431.9L359.4,430.6L360.6,429.8L362.1,429.6L363.5,429.8L364.7,430.6L365.5,431.9Z" fill="#fff" stroke="#555555" stroke-width="0.7"/><path d="M365.8,433.3L365.8,433.3L358.3,433.3L358.3,433.3L358.6,431.9L359.4,430.6L360.6,429.8L362.1,429.6L363.5,429.8L364.7,430.6L365.5,431.9Z" fill="#555555"/>
<text x="383.7" y="438.5" font-size="15" text-anchor="start" font-weight="bold" font-style="normal" fill="#000" >0</text>
<line x1="343.3" y1="452.8" x2="380.8" y2="452.8" stroke="#f03a3a" stroke-width="2.8"/>
<path d="M358.7,449.4L365.4,449.4L365.4,456.2L358.7,456.2Z" fill="#fff" stroke="#f03a3a" stroke-width="0.7"/><path d="M358.7,449.4L365.4,449.4L365.4,452.8L358.7,452.8Z" fill="#f03a3a"/>
<text x="383.7" y="458" font-size="15" text-anchor="start" font-weight="bold" font-style="normal" fill="#000" >1</text>
<line x1="343.3" y1="472.3" x2="380.8" y2="472.3" stroke="#1c64e6" stroke-width="2.8"/>
<path d="M362.1,468L365.8,475.1L358.3,475.1Z" fill="#fff" stroke="#1c64e6" stroke-width="0.7"/><path d="M362.1,468L364.3,472.3L359.8,472.3Z" fill="#1c64e6"/>
<text x="383.7" y="477.5" font-size="15" text-anchor="start" font-weight="bold" font-style="normal" fill="#000" >2</text>
<line x1="343.3" y1="492.3" x2="380.8" y2="492.3" stroke="#2e9e5c" stroke-width="2.8"/>
<path d="M362.1,496.6L365.8,489.5L358.3,489.5Z" fill="#fff" stroke="#2e9e5c" stroke-width="0.7"/><path d="M364.3,492.3L365.8,489.5L358.3,489.5L359.8,492.3Z" fill="#2e9e5c"/>
<text x="383.7" y="497.5" font-size="15" text-anchor="start" font-weight="bold" font-style="normal" fill="#000" >3</text>
<line x1="343.3" y1="511.8" x2="380.8" y2="511.8" stroke="#a77ee0" stroke-width="2.8"/>
<path d="M362.1,507.3L365.8,511.8L362.1,516.3L358.3,511.8Z" fill="#fff" stroke="#a77ee0" stroke-width="0.7"/><path d="M362.1,507.3L365.8,511.8L365.8,511.8L358.3,511.8L358.3,511.8Z" fill="#a77ee0"/>
<text x="383.7" y="517" font-size="15" text-anchor="start" font-weight="bold" font-style="normal" fill="#000" >4</text>
<line x1="343.3" y1="531.7" x2="380.8" y2="531.7" stroke="#d49a0a" stroke-width="2.8"/>
<path d="M357.7,531.7L364.9,528L364.9,535.5Z" fill="#fff" stroke="#d49a0a" stroke-width="0.7"/><path d="M357.7,531.7L364.9,528L364.9,531.7L357.7,531.7Z" fill="#d49a0a"/>
<text x="383.7" y="536.9" font-size="15" text-anchor="start" font-weight="bold" font-style="normal" fill="#000" >5</text>
<line x1="343.3" y1="551.4" x2="380.8" y2="551.4" stroke="#18c8d0" stroke-width="2.8"/>
<path d="M366.4,551.4L359.2,547.6L359.2,555.1Z" fill="#fff" stroke="#18c8d0" stroke-width="0.7"/><path d="M366.4,551.4L359.2,547.6L359.2,551.4L366.4,551.4Z" fill="#18c8d0"/>
<text x="383.7" y="556.6" font-size="15" text-anchor="start" font-weight="bold" font-style="normal" fill="#000" >6</text>
<line x1="343.3" y1="571.4" x2="380.8" y2="571.4" stroke="#7a5050" stroke-width="2.8"/>
<path d="M365.3,573.3L362.1,575.1L358.8,573.3L358.8,569.5L362.1,567.6L365.3,569.5Z" fill="#fff" stroke="#7a5050" stroke-width="0.7"/><path d="M358.8,571.4L358.8,569.5L362.1,567.6L365.3,569.5L365.3,571.4Z" fill="#7a5050"/>
<text x="383.7" y="576.6" font-size="15" text-anchor="start" font-weight="bold" font-style="normal" fill="#000" >7</text>
<path d="M569.8,466.5L585.4,465.5L601,462L616.6,458.5L632.1,454.5L647.7,450.5L663.3,448.5L678.9,448.8L694.5,452.5L710.1,456.5L725.7,460.5L741.3,463.5L756.9,465.5L772.4,464.8L788,461.5L803.6,458.5L819.2,454.8L834.8,451L850.4,449L866,449L881.6,452.5L897.1,456.8L912.7,460.5L928.3,463.5L943.9,465.5" fill="none" stroke="#ff33ff" stroke-width="3.1" stroke-linejoin="round"/>
<rect x="566.4" y="463.1" width="6.8" height="6.8" fill="#ff33ff" stroke="#ff33ff" stroke-width="0.3"/><rect x="582" y="462.1" width="6.8" height="6.8" fill="#ff33ff" stroke="#ff33ff" stroke-width="0.3"/><rect x="597.6" y="458.6" width="6.8" height="6.8" fill="#ff33ff" stroke="#ff33ff" stroke-width="0.3"/><rect x="613.2" y="455.1" width="6.8" height="6.8" fill="#ff33ff" stroke="#ff33ff" stroke-width="0.3"/><rect x="628.8" y="451.1" width="6.8" height="6.8" fill="#ff33ff" stroke="#ff33ff" stroke-width="0.3"/><rect x="644.4" y="447.1" width="6.8" height="6.8" fill="#ff33ff" stroke="#ff33ff" stroke-width="0.3"/><rect x="660" y="445.1" width="6.8" height="6.8" fill="#ff33ff" stroke="#ff33ff" stroke-width="0.3"/><rect x="675.5" y="445.4" width="6.8" height="6.8" fill="#ff33ff" stroke="#ff33ff" stroke-width="0.3"/><rect x="691.1" y="449.1" width="6.8" height="6.8" fill="#ff33ff" stroke="#ff33ff" stroke-width="0.3"/><rect x="706.7" y="453.1" width="6.8" height="6.8" fill="#ff33ff" stroke="#ff33ff" stroke-width="0.3"/><rect x="722.3" y="457.1" width="6.8" height="6.8" fill="#ff33ff" stroke="#ff33ff" stroke-width="0.3"/><rect x="737.9" y="460.1" width="6.8" height="6.8" fill="#ff33ff" stroke="#ff33ff" stroke-width="0.3"/><rect x="753.5" y="462.1" width="6.8" height="6.8" fill="#ff33ff" stroke="#ff33ff" stroke-width="0.3"/><rect x="769.1" y="461.4" width="6.8" height="6.8" fill="#ff33ff" stroke="#ff33ff" stroke-width="0.3"/><rect x="784.7" y="458.1" width="6.8" height="6.8" fill="#ff33ff" stroke="#ff33ff" stroke-width="0.3"/><rect x="800.2" y="455.1" width="6.8" height="6.8" fill="#ff33ff" stroke="#ff33ff" stroke-width="0.3"/><rect x="815.8" y="451.4" width="6.8" height="6.8" fill="#ff33ff" stroke="#ff33ff" stroke-width="0.3"/><rect x="831.4" y="447.6" width="6.8" height="6.8" fill="#ff33ff" stroke="#ff33ff" stroke-width="0.3"/><rect x="847" y="445.6" width="6.8" height="6.8" fill="#ff33ff" stroke="#ff33ff" stroke-width="0.3"/><rect x="862.6" y="445.6" width="6.8" height="6.8" fill="#ff33ff" stroke="#ff33ff" stroke-width="0.3"/><rect x="878.2" y="449.1" width="6.8" height="6.8" fill="#ff33ff" stroke="#ff33ff" stroke-width="0.3"/><rect x="893.8" y="453.4" width="6.8" height="6.8" fill="#ff33ff" stroke="#ff33ff" stroke-width="0.3"/><rect x="909.4" y="457.1" width="6.8" height="6.8" fill="#ff33ff" stroke="#ff33ff" stroke-width="0.3"/><rect x="924.9" y="460.1" width="6.8" height="6.8" fill="#ff33ff" stroke="#ff33ff" stroke-width="0.3"/><rect x="940.5" y="462.1" width="6.8" height="6.8" fill="#ff33ff" stroke="#ff33ff" stroke-width="0.3"/>
<path d="M569.8,464.6L585.4,463.2L601,459.5L616.6,456.1L632.1,452.2L647.7,449.3L663.3,448L678.9,449.3L694.5,454.1L710.1,458.5L725.7,462.2L741.3,464.6L756.9,465.1L772.4,463.2L788,459L803.6,456.1L819.2,452.2L834.8,449.3L850.4,448.5L866,449.8L881.6,454.6L897.1,459L912.7,462.2L928.3,464.6L943.9,465.1" fill="none" stroke="#1010f0" stroke-width="3.1" stroke-linejoin="round"/>
<circle cx="569.8" cy="464.6" r="4" fill="#1010f0" stroke="#1010f0" stroke-width="0.3"/><circle cx="585.4" cy="463.2" r="4" fill="#1010f0" stroke="#1010f0" stroke-width="0.3"/><circle cx="601" cy="459.5" r="4" fill="#1010f0" stroke="#1010f0" stroke-width="0.3"/><circle cx="616.6" cy="456.1" r="4" fill="#1010f0" stroke="#1010f0" stroke-width="0.3"/><circle cx="632.1" cy="452.2" r="4" fill="#1010f0" stroke="#1010f0" stroke-width="0.3"/><circle cx="647.7" cy="449.3" r="4" fill="#1010f0" stroke="#1010f0" stroke-width="0.3"/><circle cx="663.3" cy="448" r="4" fill="#1010f0" stroke="#1010f0" stroke-width="0.3"/><circle cx="678.9" cy="449.3" r="4" fill="#1010f0" stroke="#1010f0" stroke-width="0.3"/><circle cx="694.5" cy="454.1" r="4" fill="#1010f0" stroke="#1010f0" stroke-width="0.3"/><circle cx="710.1" cy="458.5" r="4" fill="#1010f0" stroke="#1010f0" stroke-width="0.3"/><circle cx="725.7" cy="462.2" r="4" fill="#1010f0" stroke="#1010f0" stroke-width="0.3"/><circle cx="741.3" cy="464.6" r="4" fill="#1010f0" stroke="#1010f0" stroke-width="0.3"/><circle cx="756.9" cy="465.1" r="4" fill="#1010f0" stroke="#1010f0" stroke-width="0.3"/><circle cx="772.4" cy="463.2" r="4" fill="#1010f0" stroke="#1010f0" stroke-width="0.3"/><circle cx="788" cy="459" r="4" fill="#1010f0" stroke="#1010f0" stroke-width="0.3"/><circle cx="803.6" cy="456.1" r="4" fill="#1010f0" stroke="#1010f0" stroke-width="0.3"/><circle cx="819.2" cy="452.2" r="4" fill="#1010f0" stroke="#1010f0" stroke-width="0.3"/><circle cx="834.8" cy="449.3" r="4" fill="#1010f0" stroke="#1010f0" stroke-width="0.3"/><circle cx="850.4" cy="448.5" r="4" fill="#1010f0" stroke="#1010f0" stroke-width="0.3"/><circle cx="866" cy="449.8" r="4" fill="#1010f0" stroke="#1010f0" stroke-width="0.3"/><circle cx="881.6" cy="454.6" r="4" fill="#1010f0" stroke="#1010f0" stroke-width="0.3"/><circle cx="897.1" cy="459" r="4" fill="#1010f0" stroke="#1010f0" stroke-width="0.3"/><circle cx="912.7" cy="462.2" r="4" fill="#1010f0" stroke="#1010f0" stroke-width="0.3"/><circle cx="928.3" cy="464.6" r="4" fill="#1010f0" stroke="#1010f0" stroke-width="0.3"/><circle cx="943.9" cy="465.1" r="4" fill="#1010f0" stroke="#1010f0" stroke-width="0.3"/>
<path d="M569.8,563.4L585.4,558.5L601,553.7L616.6,549.8L632.1,546.3L647.7,543.2L663.3,539L678.9,531.7L694.5,522.4L710.1,514.6L725.7,506.6L741.3,500.5L756.9,495.3L772.4,490.2L788,485.4L803.6,481.5L819.2,478L834.8,474.9L850.4,470.7L866,463.4L881.6,454.1L897.1,446.1L912.7,439L928.3,432.2L943.9,427.3" fill="none" stroke="#000000" stroke-width="3.1" stroke-linejoin="round"/>
<path d="M569.8,558.8L573.8,566.4L565.8,566.4Z" fill="#000000" stroke="#000000" stroke-width="0.3"/><path d="M585.4,553.9L589.4,561.5L581.4,561.5Z" fill="#000000" stroke="#000000" stroke-width="0.3"/><path d="M601,549.1L605,556.7L597,556.7Z" fill="#000000" stroke="#000000" stroke-width="0.3"/><path d="M616.6,545.2L620.6,552.8L612.6,552.8Z" fill="#000000" stroke="#000000" stroke-width="0.3"/><path d="M632.1,541.7L636.1,549.3L628.1,549.3Z" fill="#000000" stroke="#000000" stroke-width="0.3"/><path d="M647.7,538.6L651.7,546.2L643.7,546.2Z" fill="#000000" stroke="#000000" stroke-width="0.3"/><path d="M663.3,534.4L667.3,542L659.3,542Z" fill="#000000" stroke="#000000" stroke-width="0.3"/><path d="M678.9,527.1L682.9,534.7L674.9,534.7Z" fill="#000000" stroke="#000000" stroke-width="0.3"/><path d="M694.5,517.8L698.5,525.4L690.5,525.4Z" fill="#000000" stroke="#000000" stroke-width="0.3"/><path d="M710.1,510L714.1,517.6L706.1,517.6Z" fill="#000000" stroke="#000000" stroke-width="0.3"/><path d="M725.7,502L729.7,509.6L721.7,509.6Z" fill="#000000" stroke="#000000" stroke-width="0.3"/><path d="M741.3,495.9L745.3,503.5L737.3,503.5Z" fill="#000000" stroke="#000000" stroke-width="0.3"/><path d="M756.9,490.7L760.9,498.3L752.9,498.3Z" fill="#000000" stroke="#000000" stroke-width="0.3"/><path d="M772.4,485.6L776.4,493.2L768.4,493.2Z" fill="#000000" stroke="#000000" stroke-width="0.3"/><path d="M788,480.8L792,488.4L784,488.4Z" fill="#000000" stroke="#000000" stroke-width="0.3"/><path d="M803.6,476.9L807.6,484.5L799.6,484.5Z" fill="#000000" stroke="#000000" stroke-width="0.3"/><path d="M819.2,473.4L823.2,481L815.2,481Z" fill="#000000" stroke="#000000" stroke-width="0.3"/><path d="M834.8,470.3L838.8,477.9L830.8,477.9Z" fill="#000000" stroke="#000000" stroke-width="0.3"/><path d="M850.4,466.1L854.4,473.7L846.4,473.7Z" fill="#000000" stroke="#000000" stroke-width="0.3"/><path d="M866,458.8L870,466.4L862,466.4Z" fill="#000000" stroke="#000000" stroke-width="0.3"/><path d="M881.6,449.5L885.6,457.1L877.6,457.1Z" fill="#000000" stroke="#000000" stroke-width="0.3"/><path d="M897.1,441.5L901.1,449.1L893.1,449.1Z" fill="#000000" stroke="#000000" stroke-width="0.3"/><path d="M912.7,434.4L916.7,442L908.7,442Z" fill="#000000" stroke="#000000" stroke-width="0.3"/><path d="M928.3,427.6L932.3,435.2L924.3,435.2Z" fill="#000000" stroke="#000000" stroke-width="0.3"/><path d="M943.9,422.7L947.9,430.3L939.9,430.3Z" fill="#000000" stroke="#000000" stroke-width="0.3"/>
<path d="M569.8,563.9L585.4,569.5L601,575.6L616.6,582.9L632.1,591.5L647.7,600.8L663.3,608.4L678.9,612.2L694.5,615.5L710.1,618.7L725.7,623.2L741.3,627.3L756.9,632.4L772.4,638.9L788,644.6L803.6,651.9L819.2,660.2L834.8,669L850.4,676.6L866,680.8L881.6,683.3L897.1,687.1L912.7,690.9L928.3,695.9L943.9,700.4" fill="none" stroke="#f04040" stroke-width="3.1" stroke-linejoin="round"/>
<path d="M569.8,558.5L574.3,563.9L569.8,569.3L565.3,563.9Z" fill="#f01818" stroke="#f01818" stroke-width="0.3"/><path d="M585.4,564.1L589.9,569.5L585.4,574.9L580.9,569.5Z" fill="#f01818" stroke="#f01818" stroke-width="0.3"/><path d="M601,570.2L605.5,575.6L601,581L596.5,575.6Z" fill="#f01818" stroke="#f01818" stroke-width="0.3"/><path d="M616.6,577.5L621.1,582.9L616.6,588.3L612.1,582.9Z" fill="#f01818" stroke="#f01818" stroke-width="0.3"/><path d="M632.1,586.1L636.6,591.5L632.1,596.9L627.6,591.5Z" fill="#f01818" stroke="#f01818" stroke-width="0.3"/><path d="M647.7,595.4L652.2,600.8L647.7,606.2L643.2,600.8Z" fill="#f01818" stroke="#f01818" stroke-width="0.3"/><path d="M663.3,603L667.8,608.4L663.3,613.8L658.8,608.4Z" fill="#f01818" stroke="#f01818" stroke-width="0.3"/><path d="M678.9,606.8L683.4,612.2L678.9,617.6L674.4,612.2Z" fill="#f01818" stroke="#f01818" stroke-width="0.3"/><path d="M694.5,610.1L699,615.5L694.5,620.9L690,615.5Z" fill="#f01818" stroke="#f01818" stroke-width="0.3"/><path d="M710.1,613.3L714.6,618.7L710.1,624.1L705.6,618.7Z" fill="#f01818" stroke="#f01818" stroke-width="0.3"/><path d="M725.7,617.8L730.2,623.2L725.7,628.6L721.2,623.2Z" fill="#f01818" stroke="#f01818" stroke-width="0.3"/><path d="M741.3,621.9L745.8,627.3L741.3,632.7L736.8,627.3Z" fill="#f01818" stroke="#f01818" stroke-width="0.3"/><path d="M756.9,627L761.4,632.4L756.9,637.8L752.4,632.4Z" fill="#f01818" stroke="#f01818" stroke-width="0.3"/><path d="M772.4,633.5L776.9,638.9L772.4,644.3L767.9,638.9Z" fill="#f01818" stroke="#f01818" stroke-width="0.3"/><path d="M788,639.2L792.5,644.6L788,650L783.5,644.6Z" fill="#f01818" stroke="#f01818" stroke-width="0.3"/><path d="M803.6,646.5L808.1,651.9L803.6,657.3L799.1,651.9Z" fill="#f01818" stroke="#f01818" stroke-width="0.3"/><path d="M819.2,654.8L823.7,660.2L819.2,665.6L814.7,660.2Z" fill="#f01818" stroke="#f01818" stroke-width="0.3"/><path d="M834.8,663.6L839.3,669L834.8,674.4L830.3,669Z" fill="#f01818" stroke="#f01818" stroke-width="0.3"/><path d="M850.4,671.2L854.9,676.6L850.4,682L845.9,676.6Z" fill="#f01818" stroke="#f01818" stroke-width="0.3"/><path d="M866,675.4L870.5,680.8L866,686.2L861.5,680.8Z" fill="#f01818" stroke="#f01818" stroke-width="0.3"/><path d="M881.6,677.9L886.1,683.3L881.6,688.7L877.1,683.3Z" fill="#f01818" stroke="#f01818" stroke-width="0.3"/><path d="M897.1,681.7L901.6,687.1L897.1,692.5L892.6,687.1Z" fill="#f01818" stroke="#f01818" stroke-width="0.3"/><path d="M912.7,685.5L917.2,690.9L912.7,696.3L908.2,690.9Z" fill="#f01818" stroke="#f01818" stroke-width="0.3"/><path d="M928.3,690.5L932.8,695.9L928.3,701.3L923.8,695.9Z" fill="#f01818" stroke="#f01818" stroke-width="0.3"/><path d="M943.9,695L948.4,700.4L943.9,705.8L939.4,700.4Z" fill="#f01818" stroke="#f01818" stroke-width="0.3"/>
<ellipse cx="638" cy="455" rx="5.3" ry="17.4" transform="rotate(4 638 455)" fill="none" stroke="#9030f0" stroke-width="1.9" stroke-dasharray="3.6 2.6"/>
<line x1="639.5" y1="472.4" x2="622" y2="472.4" stroke="#9030f0" stroke-width="1.9"/>
<path d="M611,472.4 L624.1,469 L624.1,475.8 Z" fill="#9030f0"/>
<ellipse cx="600.8" cy="564.7" rx="6.6" ry="28.5" fill="none" stroke="#9030f0" stroke-width="1.9" stroke-dasharray="3.6 2.6"/>
<line x1="608.3" y1="564.5" x2="632" y2="564.5" stroke="#9030f0" stroke-width="1.9"/>
<line x1="608.3" y1="560.6" x2="608.3" y2="566.8" stroke="#9030f0" stroke-width="1.6"/>
<path d="M643.4,564.5 L630.7,561.1 L630.7,567.9 Z" fill="#9030f0"/>
<rect x="569.5" y="423.8" width="375.2" height="303.7" fill="none" stroke="#000" stroke-width="2"/>
<path d="M611.2,727.5L611.2,722M652.9,727.5L652.9,722M694.6,727.5L694.6,722M736.3,727.5L736.3,722M777.9,727.5L777.9,722M819.6,727.5L819.6,722M861.3,727.5L861.3,722M903,727.5L903,722M569.5,666.8L575,666.8M569.5,606L575,606M569.5,545.3L575,545.3M569.5,484.5L575,484.5M944.7,689.5L939.2,689.5M944.7,651.6L939.2,651.6M944.7,613.6L939.2,613.6M944.7,575.6L939.2,575.6M944.7,537.7L939.2,537.7M944.7,499.7L939.2,499.7M944.7,461.8L939.2,461.8" stroke="#000" stroke-width="1.8" fill="none"/>
<text x="569.5" y="747.8" font-size="17" text-anchor="middle" font-weight="bold" font-style="normal" fill="#000" >0</text>
<text x="611.2" y="747.8" font-size="17" text-anchor="middle" font-weight="bold" font-style="normal" fill="#000" >20</text>
<text x="652.9" y="747.8" font-size="17" text-anchor="middle" font-weight="bold" font-style="normal" fill="#000" >40</text>
<text x="694.6" y="747.8" font-size="17" text-anchor="middle" font-weight="bold" font-style="normal" fill="#000" >60</text>
<text x="736.3" y="747.8" font-size="17" text-anchor="middle" font-weight="bold" font-style="normal" fill="#000" >80</text>
<text x="777.9" y="747.8" font-size="17" text-anchor="middle" font-weight="bold" font-style="normal" fill="#000" >100</text>
<text x="819.6" y="747.8" font-size="17" text-anchor="middle" font-weight="bold" font-style="normal" fill="#000" >120</text>
<text x="861.3" y="747.8" font-size="17" text-anchor="middle" font-weight="bold" font-style="normal" fill="#000" >140</text>
<text x="903" y="747.8" font-size="17" text-anchor="middle" font-weight="bold" font-style="normal" fill="#000" >160</text>
<text x="944.7" y="747.8" font-size="17" text-anchor="middle" font-weight="bold" font-style="normal" fill="#000" >180</text>
<text x="563" y="732.8" font-size="17" text-anchor="end" font-weight="bold" font-style="normal" fill="#000" >0.0</text>
<text x="563" y="672.1" font-size="17" text-anchor="end" font-weight="bold" font-style="normal" fill="#000" >0.2</text>
<text x="563" y="611.3" font-size="17" text-anchor="end" font-weight="bold" font-style="normal" fill="#000" >0.4</text>
<text x="563" y="550.6" font-size="17" text-anchor="end" font-weight="bold" font-style="normal" fill="#000" >0.6</text>
<text x="563" y="489.8" font-size="17" text-anchor="end" font-weight="bold" font-style="normal" fill="#000" >0.8</text>
<text x="563" y="429.1" font-size="17" text-anchor="end" font-weight="bold" font-style="normal" fill="#000" >1.0</text>
<text x="951.3" y="732.8" font-size="17" text-anchor="start" font-weight="bold" font-style="normal" fill="#000" >-400</text>
<text x="951.3" y="694.8" font-size="17" text-anchor="start" font-weight="bold" font-style="normal" fill="#000" >-300</text>
<text x="951.3" y="656.9" font-size="17" text-anchor="start" font-weight="bold" font-style="normal" fill="#000" >-200</text>
<text x="951.3" y="618.9" font-size="17" text-anchor="start" font-weight="bold" font-style="normal" fill="#000" >-100</text>
<text x="951.3" y="580.9" font-size="17" text-anchor="start" font-weight="bold" font-style="normal" fill="#000" >0</text>
<text x="951.3" y="543" font-size="17" text-anchor="start" font-weight="bold" font-style="normal" fill="#000" >100</text>
<text x="951.3" y="505" font-size="17" text-anchor="start" font-weight="bold" font-style="normal" fill="#000" >200</text>
<text x="951.3" y="467.1" font-size="17" text-anchor="start" font-weight="bold" font-style="normal" fill="#000" >300</text>
<text x="951.3" y="429.1" font-size="17" text-anchor="start" font-weight="bold" font-style="normal" fill="#000" >400</text>
<text x="535.2" y="576.4" font-size="26" text-anchor="middle" font-weight="bold" font-style="normal" fill="#000" transform="rotate(-90 535.2 576.4)">Amplitude</text>
<text x="1008" y="576" font-size="26" text-anchor="middle" font-weight="bold" font-style="normal" fill="#000" transform="rotate(-90 1008 576)">Phase(deg)</text>
<text x="758" y="770.8" font-size="26" text-anchor="middle"><tspan font-style="italic" font-weight="bold">φ</tspan><tspan font-weight="bold">(deg)</tspan></text>
<text x="764" y="812.8" font-size="34" text-anchor="middle" font-weight="bold" font-style="normal" fill="#000" >(d)</text>
<line x1="781.7" y1="535.9" x2="820.7" y2="535.9" stroke="#ff33ff" stroke-width="2.8"/>
<rect x="797.8" y="532.5" width="6.8" height="6.8" fill="#ff33ff" stroke="#ff33ff" stroke-width="0.3"/>
<text x="825.6" y="541.5" font-size="16.8" text-anchor="start" font-weight="bold" font-style="normal" fill="#000" >Amp_LHCP</text>
<line x1="781.7" y1="557.3" x2="820.7" y2="557.3" stroke="#1010f0" stroke-width="2.8"/>
<circle cx="801.2" cy="557.3" r="4.2" fill="#1010f0" stroke="#1010f0" stroke-width="0.3"/>
<text x="825.6" y="562.9" font-size="16.8" text-anchor="start" font-weight="bold" font-style="normal" fill="#000" >Amp_RHCP</text>
<line x1="781.7" y1="579" x2="820.7" y2="579" stroke="#000" stroke-width="2.8"/>
<path d="M801.2,574.4L805.2,582L797.2,582Z" fill="#000" stroke="#000" stroke-width="0.3"/>
<text x="825.6" y="584.6" font-size="16.8" text-anchor="start" font-weight="bold" font-style="normal" fill="#000" >Phase_LHCP</text>
<line x1="781.7" y1="600.5" x2="820.7" y2="600.5" stroke="#f04040" stroke-width="2.8"/>
<path d="M801.2,595.4L805.5,600.5L801.2,605.6L797,600.5Z" fill="#f01818" stroke="#f01818" stroke-width="0.3"/>
<text x="825.6" y="606.1" font-size="16.8" text-anchor="start" font-weight="bold" font-style="normal" fill="#000" >Phase_RHCP</text>
</svg></body></html>
